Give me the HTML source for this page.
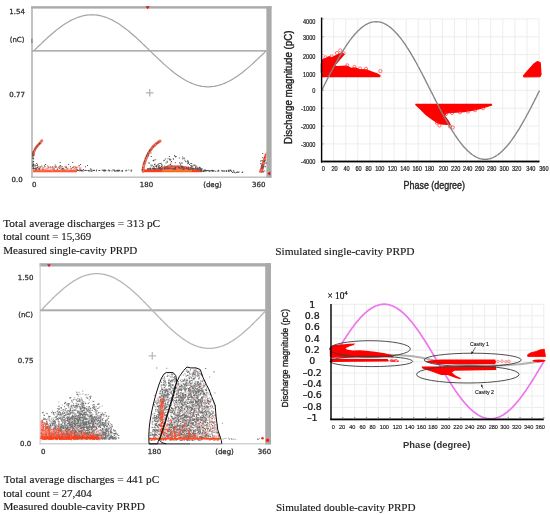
<!DOCTYPE html>
<html><head><meta charset="utf-8"><title>PRPD comparison</title>
<style>html,body{margin:0;padding:0;background:#fff;}body{width:550px;height:515px;overflow:hidden;}svg{display:block;}</style>
</head><body>
<svg width="550" height="515" viewBox="0 0 550 515">
<defs><linearGradient id="rg" x1="0" y1="0" x2="0" y2="1"><stop offset="0" stop-color="#ff8070" stop-opacity="0"/><stop offset="0.55" stop-color="#ff8070" stop-opacity="0.35"/><stop offset="1" stop-color="#ff5030" stop-opacity="0.6"/></linearGradient><filter id="bl" x="-5%" y="-5%" width="110%" height="110%"><feGaussianBlur stdDeviation="0.45"/></filter></defs>
<rect width="550" height="515" fill="#fff"/>
<rect x="31.3" y="6.2" width="240.2" height="2.4" fill="#aaa"/>
<rect x="266.4" y="6.2" width="5.2" height="171.5" fill="#aaa"/>
<rect x="31.3" y="6.2" width="1.4" height="171.5" fill="#aaa"/>
<rect x="31.3" y="176.6" width="240" height="1.1" fill="#aaa"/>
<rect x="32" y="50.1" width="234.4" height="1.5" fill="#a8a8a8"/>
<polyline points="33.8,50.8 35,49.7 36.1,48.5 37.3,47.4 38.4,46.3 39.6,45.2 40.8,44.1 41.9,42.9 43.1,41.8 44.3,40.8 45.4,39.7 46.6,38.6 47.7,37.5 48.9,36.5 50.1,35.5 51.2,34.5 52.4,33.5 53.6,32.5 54.7,31.5 55.9,30.6 57,29.6 58.2,28.7 59.4,27.9 60.5,27 61.7,26.2 62.8,25.3 64,24.6 65.2,23.8 66.3,23.1 67.5,22.4 68.7,21.7 69.8,21 71,20.4 72.1,19.8 73.3,19.3 74.5,18.7 75.6,18.2 76.8,17.8 78,17.3 79.1,16.9 80.3,16.6 81.4,16.2 82.6,15.9 83.8,15.7 84.9,15.4 86.1,15.2 87.3,15.1 88.4,15 89.6,14.9 90.7,14.8 91.9,14.8 93.1,14.8 94.2,14.9 95.4,15 96.5,15.1 97.7,15.2 98.9,15.4 100,15.7 101.2,15.9 102.4,16.2 103.5,16.6 104.7,16.9 105.8,17.3 107,17.8 108.2,18.2 109.3,18.7 110.5,19.3 111.7,19.8 112.8,20.4 114,21 115.1,21.7 116.3,22.4 117.5,23.1 118.6,23.8 119.8,24.6 121,25.3 122.1,26.2 123.3,27 124.4,27.9 125.6,28.7 126.8,29.6 127.9,30.6 129.1,31.5 130.2,32.5 131.4,33.5 132.6,34.5 133.7,35.5 134.9,36.5 136.1,37.5 137.2,38.6 138.4,39.7 139.5,40.8 140.7,41.8 141.9,42.9 143,44.1 144.2,45.2 145.4,46.3 146.5,47.4 147.7,48.5 148.8,49.7 150,50.8 151.2,51.9 152.3,53.1 153.5,54.2 154.6,55.3 155.8,56.4 157,57.5 158.1,58.7 159.3,59.8 160.5,60.8 161.6,61.9 162.8,63 163.9,64.1 165.1,65.1 166.3,66.1 167.4,67.1 168.6,68.1 169.8,69.1 170.9,70.1 172.1,71 173.2,72 174.4,72.9 175.6,73.7 176.7,74.6 177.9,75.4 179.1,76.3 180.2,77 181.4,77.8 182.5,78.5 183.7,79.2 184.9,79.9 186,80.6 187.2,81.2 188.3,81.8 189.5,82.3 190.7,82.9 191.8,83.4 193,83.8 194.2,84.3 195.3,84.7 196.5,85 197.6,85.4 198.8,85.7 200,85.9 201.1,86.2 202.3,86.4 203.5,86.5 204.6,86.6 205.8,86.7 206.9,86.8 208.1,86.8 209.3,86.8 210.4,86.7 211.6,86.6 212.7,86.5 213.9,86.4 215.1,86.2 216.2,85.9 217.4,85.7 218.6,85.4 219.7,85 220.9,84.7 222,84.3 223.2,83.8 224.4,83.4 225.5,82.9 226.7,82.3 227.9,81.8 229,81.2 230.2,80.6 231.3,79.9 232.5,79.2 233.7,78.5 234.8,77.8 236,77 237.1,76.3 238.3,75.4 239.5,74.6 240.6,73.7 241.8,72.9 243,72 244.1,71 245.3,70.1 246.4,69.1 247.6,68.1 248.8,67.1 249.9,66.1 251.1,65.1 252.3,64.1 253.4,63 254.6,61.9 255.7,60.8 256.9,59.8 258.1,58.7 259.2,57.5 260.4,56.4 261.6,55.3 262.7,54.2 263.9,53.1 265,51.9 266.2,50.8" fill="none" stroke="#a2a2a2" stroke-width="1.2"/>
<rect x="31.2" y="38.7" width="1.4" height="4.3" fill="#888"/>
<path d="M146 92.9h7.5M149.7 89.1v7.5" stroke="#b4b4b4" stroke-width="1.3"/>
<text x="17.1" y="14.1" font-size="7" font-family="'DejaVu Sans',Verdana,sans-serif" fill="#333" stroke="#333" stroke-width="0.3" text-anchor="middle">1.54</text>
<text x="17.1" y="41.8" font-size="7" font-family="'DejaVu Sans',Verdana,sans-serif" fill="#333" stroke="#333" stroke-width="0.3" text-anchor="middle">(nC)</text>
<text x="17.1" y="97.4" font-size="7" font-family="'DejaVu Sans',Verdana,sans-serif" fill="#333" stroke="#333" stroke-width="0.3" text-anchor="middle">0.77</text>
<text x="17.1" y="181.6" font-size="7" font-family="'DejaVu Sans',Verdana,sans-serif" fill="#333" stroke="#333" stroke-width="0.3" text-anchor="middle">0.0</text>
<text x="34.2" y="186.6" font-size="7" font-family="'DejaVu Sans',Verdana,sans-serif" fill="#333" stroke="#333" stroke-width="0.3" text-anchor="middle">0</text>
<text x="146.5" y="187.2" font-size="7" font-family="'DejaVu Sans',Verdana,sans-serif" fill="#333" stroke="#333" stroke-width="0.3" text-anchor="middle">180</text>
<text x="212.5" y="187.2" font-size="7" font-family="'DejaVu Sans',Verdana,sans-serif" fill="#333" stroke="#333" stroke-width="0.3" text-anchor="middle">(deg)</text>
<text x="258.8" y="187.2" font-size="7" font-family="'DejaVu Sans',Verdana,sans-serif" fill="#333" stroke="#333" stroke-width="0.3" text-anchor="middle">360</text>
<path d="M145.7 6.2h4l-2 3z" fill="#e01010"/>
<path d="M270.3 171.6v3.8l-3 -1.9z" fill="#e01010"/>
<g filter="url(#bl)">
<rect x="33" y="169.8" width="44" height="2.5" fill="#ff5a3a"/>
<rect x="143" y="169.4" width="59" height="2.8" fill="#ff3a1a"/>
<path d="M151 169.8 Q174 160.5 200 169.8z" fill="#ff6048"/>
<rect x="162" y="170.2" width="30" height="1.3" fill="#ff8a20"/>
<polyline points="33.4,155.4 33.8,152 35.3,148.7 37.8,145.4 40.2,143 41.9,140.6" fill="none" stroke="#ff5a40" stroke-width="2.6" stroke-linecap="round"/>
<polyline points="33.4,155.4 33.8,152 35.3,148.7 37.8,145.4 40.2,143 41.9,140.6" fill="none" stroke="#ff8a78" stroke-width="0.6" stroke-linecap="round"/>
<polyline points="142.9,171.3 143.6,166 145,161.6 146.5,157.5 148.1,153.9 150.3,150.3 152.8,146.9 156.6,143.4 160.1,141" fill="none" stroke="#ff5a40" stroke-width="2.8" stroke-linecap="round"/>
<polyline points="142.9,171.3 143.6,166 145,161.6 146.5,157.5 148.1,153.9 150.3,150.3 152.8,146.9 156.6,143.4 160.1,141" fill="none" stroke="#ff8a78" stroke-width="0.7" stroke-linecap="round"/>
<polygon points="258.8,172.6 263,172.6 266.4,156 266.4,152 264.6,154.5" fill="#ff5a40"/>
<path d="M50.4 169.0h1.2v1.2h-1.2zM65.6 169.1h1.2v1.2h-1.2zM60.4 168.4h1.2v1.2h-1.2zM36.7 167.9h1.2v1.2h-1.2zM35.5 168.2h1.2v1.2h-1.2zM37.4 169.1h1.2v1.2h-1.2zM55.2 166.6h1.2v1.2h-1.2zM40.3 168.8h1.2v1.2h-1.2zM64.6 166.0h1.2v1.2h-1.2zM62.3 168.3h1.2v1.2h-1.2zM80.0 169.2h1.2v1.2h-1.2zM74.8 168.7h1.2v1.2h-1.2zM41.4 169.1h1.2v1.2h-1.2zM49.7 166.6h1.2v1.2h-1.2zM43.3 167.6h1.2v1.2h-1.2zM65.1 168.4h1.2v1.2h-1.2zM60.9 169.1h1.2v1.2h-1.2zM36.8 168.9h1.2v1.2h-1.2zM66.9 168.2h1.2v1.2h-1.2zM49.9 167.6h1.2v1.2h-1.2zM56.5 168.6h1.2v1.2h-1.2zM72.0 167.2h1.2v1.2h-1.2zM46.5 167.7h1.2v1.2h-1.2zM59.9 166.3h1.2v1.2h-1.2zM69.1 168.7h1.2v1.2h-1.2zM80.1 169.1h1.2v1.2h-1.2zM54.9 166.9h1.2v1.2h-1.2zM41.8 168.0h1.2v1.2h-1.2zM35.6 167.3h1.2v1.2h-1.2zM70.7 167.7h1.2v1.2h-1.2zM75.6 168.6h1.2v1.2h-1.2zM67.6 167.6h1.2v1.2h-1.2zM62.4 168.1h1.2v1.2h-1.2zM74.0 166.0h1.2v1.2h-1.2zM57.5 167.3h1.2v1.2h-1.2zM36.9 167.1h1.2v1.2h-1.2zM65.4 165.7h1.2v1.2h-1.2zM73.2 168.7h1.2v1.2h-1.2zM53.4 167.3h1.2v1.2h-1.2zM34.6 168.1h1.2v1.2h-1.2zM42.6 169.1h1.2v1.2h-1.2zM36.8 166.8h1.2v1.2h-1.2zM40.6 168.8h1.2v1.2h-1.2zM53.6 166.4h1.2v1.2h-1.2zM38.0 168.1h1.2v1.2h-1.2zM61.0 166.3h1.2v1.2h-1.2zM73.1 166.4h1.2v1.2h-1.2zM48.2 168.3h1.2v1.2h-1.2zM52.1 166.3h1.2v1.2h-1.2zM79.2 169.0h1.2v1.2h-1.2zM43.1 168.8h1.2v1.2h-1.2zM46.0 168.0h1.2v1.2h-1.2zM62.8 168.7h1.2v1.2h-1.2zM33.3 168.3h1.2v1.2h-1.2zM52.6 167.7h1.2v1.2h-1.2zM79.0 167.2h1.2v1.2h-1.2zM59.4 167.5h1.2v1.2h-1.2zM66.8 169.2h1.2v1.2h-1.2zM76.6 166.8h1.2v1.2h-1.2zM75.5 166.7h1.2v1.2h-1.2zM53.7 168.3h1.2v1.2h-1.2zM39.2 167.4h1.2v1.2h-1.2zM36.9 169.1h1.2v1.2h-1.2zM44.7 169.0h1.2v1.2h-1.2zM51.2 169.2h1.2v1.2h-1.2zM33.0 169.0h1.2v1.2h-1.2zM39.1 168.4h1.2v1.2h-1.2zM34.8 166.3h1.2v1.2h-1.2zM63.9 169.0h1.2v1.2h-1.2zM46.9 168.5h1.2v1.2h-1.2zM52.3 169.0h1.2v1.2h-1.2zM74.4 165.7h1.2v1.2h-1.2zM57.1 168.0h1.2v1.2h-1.2zM38.3 169.1h1.2v1.2h-1.2zM51.3 168.7h1.2v1.2h-1.2zM73.5 169.0h1.2v1.2h-1.2zM34.6 166.0h1.2v1.2h-1.2zM60.0 169.0h1.2v1.2h-1.2zM60.7 169.2h1.2v1.2h-1.2zM60.0 165.8h1.2v1.2h-1.2zM75.1 167.2h1.2v1.2h-1.2zM47.3 168.4h1.2v1.2h-1.2zM42.6 166.8h1.2v1.2h-1.2zM60.2 166.8h1.2v1.2h-1.2zM50.7 168.8h1.2v1.2h-1.2zM72.8 165.8h1.2v1.2h-1.2zM74.6 166.7h1.2v1.2h-1.2zM73.1 167.0h1.2v1.2h-1.2zM45.6 167.9h1.2v1.2h-1.2zM51.9 169.2h1.2v1.2h-1.2zM34.9 168.7h1.2v1.2h-1.2zM47.2 167.2h1.2v1.2h-1.2zM79.1 168.2h1.2v1.2h-1.2zM78.3 165.8h1.2v1.2h-1.2zM79.1 168.4h1.2v1.2h-1.2zM45.3 168.8h1.2v1.2h-1.2zM44.1 168.9h1.2v1.2h-1.2zM64.4 166.2h1.2v1.2h-1.2zM74.0 168.0h1.2v1.2h-1.2zM65.7 166.7h1.2v1.2h-1.2zM38.2 167.3h1.2v1.2h-1.2zM77.1 166.8h1.2v1.2h-1.2zM70.1 168.0h1.2v1.2h-1.2zM43.2 166.7h1.2v1.2h-1.2zM50.8 166.7h1.2v1.2h-1.2zM79.8 168.3h1.2v1.2h-1.2zM54.1 166.0h1.2v1.2h-1.2zM68.9 169.0h1.2v1.2h-1.2zM40.5 169.0h1.2v1.2h-1.2zM76.9 166.7h1.2v1.2h-1.2zM41.5 166.6h1.2v1.2h-1.2zM80.1 167.3h1.2v1.2h-1.2zM51.7 167.8h1.2v1.2h-1.2zM40.7 169.2h1.2v1.2h-1.2zM79.7 167.4h1.2v1.2h-1.2zM60.0 166.0h1.2v1.2h-1.2zM55.6 166.4h1.2v1.2h-1.2zM73.4 168.9h1.2v1.2h-1.2zM46.9 168.6h1.2v1.2h-1.2zM46.3 167.6h1.2v1.2h-1.2z" fill="#ff9a88"/>
<path d="" fill="#ff5a3a"/>
<path d="M44.5 166.2h1.0v1.0h-1.0zM38.1 168.6h1.0v1.0h-1.0zM49.7 166.4h1.0v1.0h-1.0zM63.4 168.6h1.0v1.0h-1.0zM53.5 168.7h1.0v1.0h-1.0zM58.3 166.8h1.0v1.0h-1.0zM59.7 162.1h1.0v1.0h-1.0zM54.7 164.4h1.0v1.0h-1.0zM33.1 168.2h1.0v1.0h-1.0zM40.0 166.5h1.0v1.0h-1.0zM72.4 167.0h1.0v1.0h-1.0zM48.1 166.8h1.0v1.0h-1.0zM61.6 168.1h1.0v1.0h-1.0zM36.9 167.0h1.0v1.0h-1.0zM43.9 165.2h1.0v1.0h-1.0zM75.5 166.7h1.0v1.0h-1.0zM62.0 168.0h1.0v1.0h-1.0zM85.0 166.3h1.0v1.0h-1.0zM65.2 166.7h1.0v1.0h-1.0zM59.0 167.7h1.0v1.0h-1.0zM55.4 166.8h1.0v1.0h-1.0zM56.9 168.8h1.0v1.0h-1.0zM70.8 168.5h1.0v1.0h-1.0zM87.0 165.1h1.0v1.0h-1.0zM61.9 168.8h1.0v1.0h-1.0zM80.1 164.0h1.0v1.0h-1.0zM37.6 166.3h1.0v1.0h-1.0zM35.5 164.9h1.0v1.0h-1.0zM35.5 167.5h1.0v1.0h-1.0zM76.3 168.6h1.0v1.0h-1.0zM39.2 167.8h1.0v1.0h-1.0zM68.2 164.0h1.0v1.0h-1.0zM82.9 168.9h1.0v1.0h-1.0zM42.4 168.8h1.0v1.0h-1.0zM52.2 166.6h1.0v1.0h-1.0zM90.3 168.3h1.0v1.0h-1.0zM39.5 166.3h1.0v1.0h-1.0zM59.2 165.7h1.0v1.0h-1.0zM41.2 165.5h1.0v1.0h-1.0zM72.2 162.1h1.0v1.0h-1.0zM61.6 166.3h1.0v1.0h-1.0zM33.5 165.6h1.0v1.0h-1.0zM65.9 166.7h1.0v1.0h-1.0zM35.2 168.9h1.0v1.0h-1.0zM76.6 168.9h1.0v1.0h-1.0zM36.9 165.1h1.0v1.0h-1.0zM34.2 168.1h1.0v1.0h-1.0zM45.1 163.9h1.0v1.0h-1.0zM53.6 168.6h1.0v1.0h-1.0zM78.6 165.1h1.0v1.0h-1.0zM38.9 168.7h1.0v1.0h-1.0zM62.6 167.7h1.0v1.0h-1.0zM36.2 162.9h1.0v1.0h-1.0zM70.0 166.2h1.0v1.0h-1.0zM35.5 168.7h1.0v1.0h-1.0zM66.6 168.2h1.0v1.0h-1.0zM36.0 168.4h1.0v1.0h-1.0zM35.2 168.4h1.0v1.0h-1.0zM55.5 165.7h1.0v1.0h-1.0zM61.5 168.7h1.0v1.0h-1.0zM44.9 163.9h1.0v1.0h-1.0zM59.9 164.9h1.0v1.0h-1.0zM37.1 164.2h1.0v1.0h-1.0zM34.6 164.6h1.0v1.0h-1.0zM47.3 165.4h1.0v1.0h-1.0zM118.8 169.8h1.0v1.0h-1.0zM104.5 169.6h1.0v1.0h-1.0zM96.1 169.4h1.0v1.0h-1.0zM90.8 169.4h1.0v1.0h-1.0zM117.3 170.2h1.0v1.0h-1.0zM87.4 170.1h1.0v1.0h-1.0zM128.4 169.5h1.0v1.0h-1.0zM122.0 170.0h1.0v1.0h-1.0zM104.2 170.6h1.0v1.0h-1.0zM98.6 170.1h1.0v1.0h-1.0zM114.8 170.8h1.0v1.0h-1.0zM95.8 170.6h1.0v1.0h-1.0zM115.9 170.3h1.0v1.0h-1.0zM99.3 169.9h1.0v1.0h-1.0zM80.0 169.6h1.0v1.0h-1.0zM80.9 170.4h1.0v1.0h-1.0zM91.1 169.6h1.0v1.0h-1.0zM81.6 170.6h1.0v1.0h-1.0zM124.9 170.3h1.0v1.0h-1.0zM92.5 169.7h1.0v1.0h-1.0zM93.1 170.0h1.0v1.0h-1.0zM85.7 170.0h1.0v1.0h-1.0zM91.5 170.7h1.0v1.0h-1.0zM130.5 170.2h1.0v1.0h-1.0zM90.4 170.8h1.0v1.0h-1.0zM94.0 169.9h1.0v1.0h-1.0zM77.1 169.9h1.0v1.0h-1.0zM103.1 170.1h1.0v1.0h-1.0zM88.1 170.1h1.0v1.0h-1.0zM77.3 169.8h1.0v1.0h-1.0zM81.9 170.0h1.0v1.0h-1.0zM79.3 169.4h1.0v1.0h-1.0zM93.7 169.7h1.0v1.0h-1.0zM109.2 170.1h1.0v1.0h-1.0zM118.3 170.3h1.0v1.0h-1.0zM116.4 170.6h1.0v1.0h-1.0zM98.4 169.9h1.0v1.0h-1.0zM131.2 169.6h1.0v1.0h-1.0zM116.8 170.3h1.0v1.0h-1.0zM79.4 170.6h1.0v1.0h-1.0zM126.1 170.3h1.0v1.0h-1.0zM117.4 170.5h1.0v1.0h-1.0zM84.7 170.1h1.0v1.0h-1.0zM104.7 170.6h1.0v1.0h-1.0zM121.3 170.6h1.0v1.0h-1.0zM109.1 170.6h1.0v1.0h-1.0zM114.6 170.4h1.0v1.0h-1.0zM89.6 169.4h1.0v1.0h-1.0zM84.3 169.9h1.0v1.0h-1.0zM82.8 170.6h1.0v1.0h-1.0zM107.7 170.3h1.0v1.0h-1.0zM111.4 170.4h1.0v1.0h-1.0zM103.9 169.4h1.0v1.0h-1.0zM120.9 170.4h1.0v1.0h-1.0zM104.7 170.1h1.0v1.0h-1.0zM113.3 169.5h1.0v1.0h-1.0zM117.5 169.8h1.0v1.0h-1.0zM81.1 169.8h1.0v1.0h-1.0zM117.1 169.7h1.0v1.0h-1.0zM117.7 170.8h1.0v1.0h-1.0zM104.2 169.9h1.0v1.0h-1.0zM103.3 170.4h1.0v1.0h-1.0zM119.2 170.3h1.0v1.0h-1.0zM112.4 169.5h1.0v1.0h-1.0zM85.1 169.8h1.0v1.0h-1.0zM117.9 169.8h1.0v1.0h-1.0zM108.2 169.4h1.0v1.0h-1.0zM80.3 169.8h1.0v1.0h-1.0zM114.0 170.4h1.0v1.0h-1.0zM114.2 169.8h1.0v1.0h-1.0zM105.4 170.1h1.0v1.0h-1.0zM102.6 169.6h1.0v1.0h-1.0zM126.2 169.7h1.0v1.0h-1.0zM130.8 170.7h1.0v1.0h-1.0zM78.0 170.0h1.0v1.0h-1.0zM122.1 170.8h1.0v1.0h-1.0zM101.7 169.8h1.0v1.0h-1.0zM88.5 170.7h1.0v1.0h-1.0zM88.6 170.2h1.0v1.0h-1.0zM84.8 170.1h1.0v1.0h-1.0zM32.1 152.7h1.0v1.0h-1.0zM32.3 153.1h1.0v1.0h-1.0zM32.5 152.9h1.0v1.0h-1.0zM32.4 155.1h1.0v1.0h-1.0zM32.7 150.9h1.0v1.0h-1.0zM32.4 152.5h1.0v1.0h-1.0zM32.9 151.0h1.0v1.0h-1.0zM32.5 152.0h1.0v1.0h-1.0zM35.0 148.2h1.0v1.0h-1.0zM34.1 149.2h1.0v1.0h-1.0zM35.7 146.4h1.0v1.0h-1.0zM36.4 146.1h1.0v1.0h-1.0zM38.4 143.7h1.0v1.0h-1.0zM37.2 145.0h1.0v1.0h-1.0zM38.9 143.5h1.0v1.0h-1.0zM37.2 145.0h1.0v1.0h-1.0zM38.9 142.8h1.0v1.0h-1.0zM39.2 143.3h1.0v1.0h-1.0zM39.6 142.8h1.0v1.0h-1.0zM39.0 142.9h1.0v1.0h-1.0zM141.6 169.1h1.0v1.0h-1.0zM142.1 169.8h1.0v1.0h-1.0zM142.4 167.1h1.0v1.0h-1.0zM142.3 168.5h1.0v1.0h-1.0zM143.6 162.4h1.0v1.0h-1.0zM142.8 163.3h1.0v1.0h-1.0zM143.2 163.3h1.0v1.0h-1.0zM143.4 163.2h1.0v1.0h-1.0zM143.7 160.9h1.0v1.0h-1.0zM144.7 158.3h1.0v1.0h-1.0zM144.2 160.2h1.0v1.0h-1.0zM144.2 160.9h1.0v1.0h-1.0zM146.5 154.5h1.0v1.0h-1.0zM146.0 155.6h1.0v1.0h-1.0zM145.9 156.0h1.0v1.0h-1.0zM145.1 157.4h1.0v1.0h-1.0zM147.5 153.7h1.0v1.0h-1.0zM147.6 152.6h1.0v1.0h-1.0zM149.1 151.1h1.0v1.0h-1.0zM147.4 152.8h1.0v1.0h-1.0zM149.1 150.1h1.0v1.0h-1.0zM149.4 149.6h1.0v1.0h-1.0zM149.3 150.0h1.0v1.0h-1.0zM150.6 148.9h1.0v1.0h-1.0zM154.2 144.8h1.0v1.0h-1.0zM153.0 146.0h1.0v1.0h-1.0zM152.7 146.1h1.0v1.0h-1.0zM151.5 147.2h1.0v1.0h-1.0zM158.3 141.6h1.0v1.0h-1.0zM157.1 142.7h1.0v1.0h-1.0zM158.0 141.8h1.0v1.0h-1.0zM155.9 143.2h1.0v1.0h-1.0zM32.5 160.7h1.0v1.0h-1.0zM33.1 166.7h1.0v1.0h-1.0zM33.0 154.3h1.0v1.0h-1.0zM32.0 164.6h1.0v1.0h-1.0zM33.1 161.1h1.0v1.0h-1.0zM32.7 154.0h1.0v1.0h-1.0zM32.5 167.9h1.0v1.0h-1.0zM33.0 166.8h1.0v1.0h-1.0zM33.2 157.7h1.0v1.0h-1.0zM32.1 156.3h1.0v1.0h-1.0zM32.6 164.2h1.0v1.0h-1.0zM33.1 164.8h1.0v1.0h-1.0zM32.8 165.5h1.0v1.0h-1.0zM32.5 162.3h1.0v1.0h-1.0zM32.0 165.7h1.0v1.0h-1.0zM32.3 167.8h1.0v1.0h-1.0zM32.8 158.6h1.0v1.0h-1.0zM32.2 157.8h1.0v1.0h-1.0zM32.8 164.5h1.0v1.0h-1.0zM32.1 155.1h1.0v1.0h-1.0zM32.6 162.7h1.0v1.0h-1.0zM32.5 157.4h1.0v1.0h-1.0zM32.7 154.2h1.0v1.0h-1.0zM32.4 160.9h1.0v1.0h-1.0zM33.2 163.7h1.0v1.0h-1.0zM33.1 161.1h1.0v1.0h-1.0zM32.3 157.7h1.0v1.0h-1.0zM33.2 164.6h1.0v1.0h-1.0zM32.4 154.3h1.0v1.0h-1.0zM32.6 164.1h1.0v1.0h-1.0zM32.5 157.9h1.0v1.0h-1.0zM32.8 167.9h1.0v1.0h-1.0zM159.5 168.8h1.0v1.0h-1.0zM165.6 166.7h1.0v1.0h-1.0zM184.5 168.3h1.0v1.0h-1.0zM190.8 165.3h1.0v1.0h-1.0zM174.8 168.1h1.0v1.0h-1.0zM200.3 168.6h1.0v1.0h-1.0zM192.1 168.5h1.0v1.0h-1.0zM159.2 165.1h1.0v1.0h-1.0zM163.2 160.3h1.0v1.0h-1.0zM174.3 168.2h1.0v1.0h-1.0zM159.3 167.6h1.0v1.0h-1.0zM183.6 158.3h1.0v1.0h-1.0zM155.1 168.2h1.0v1.0h-1.0zM158.7 163.1h1.0v1.0h-1.0zM154.8 168.8h1.0v1.0h-1.0zM150.3 168.5h1.0v1.0h-1.0zM196.4 166.4h1.0v1.0h-1.0zM187.3 160.0h1.0v1.0h-1.0zM198.2 168.5h1.0v1.0h-1.0zM157.2 164.4h1.0v1.0h-1.0zM188.0 168.8h1.0v1.0h-1.0zM183.5 167.0h1.0v1.0h-1.0zM167.6 167.3h1.0v1.0h-1.0zM156.3 168.8h1.0v1.0h-1.0zM162.4 167.6h1.0v1.0h-1.0zM199.6 168.8h1.0v1.0h-1.0zM200.0 168.7h1.0v1.0h-1.0zM166.6 160.7h1.0v1.0h-1.0zM192.2 167.7h1.0v1.0h-1.0zM149.7 168.4h1.0v1.0h-1.0zM167.5 158.3h1.0v1.0h-1.0zM157.6 168.0h1.0v1.0h-1.0zM196.3 168.8h1.0v1.0h-1.0zM169.6 159.7h1.0v1.0h-1.0zM189.2 168.8h1.0v1.0h-1.0zM148.9 168.8h1.0v1.0h-1.0zM197.6 168.6h1.0v1.0h-1.0zM188.1 162.0h1.0v1.0h-1.0zM165.6 167.9h1.0v1.0h-1.0zM199.7 168.1h1.0v1.0h-1.0zM161.4 164.6h1.0v1.0h-1.0zM164.4 167.9h1.0v1.0h-1.0zM147.2 168.2h1.0v1.0h-1.0zM197.4 167.7h1.0v1.0h-1.0zM198.9 168.8h1.0v1.0h-1.0zM159.9 167.1h1.0v1.0h-1.0zM199.6 167.1h1.0v1.0h-1.0zM168.3 167.9h1.0v1.0h-1.0zM170.6 165.1h1.0v1.0h-1.0zM198.0 168.7h1.0v1.0h-1.0zM191.1 165.4h1.0v1.0h-1.0zM192.3 165.5h1.0v1.0h-1.0zM180.4 167.2h1.0v1.0h-1.0zM164.6 167.3h1.0v1.0h-1.0zM190.0 168.7h1.0v1.0h-1.0zM157.9 165.6h1.0v1.0h-1.0zM160.6 168.8h1.0v1.0h-1.0zM148.9 168.3h1.0v1.0h-1.0zM164.9 158.6h1.0v1.0h-1.0zM195.6 165.4h1.0v1.0h-1.0zM161.6 168.7h1.0v1.0h-1.0zM152.3 168.1h1.0v1.0h-1.0zM186.0 166.7h1.0v1.0h-1.0zM159.9 167.5h1.0v1.0h-1.0zM181.1 162.6h1.0v1.0h-1.0zM188.1 162.8h1.0v1.0h-1.0zM183.5 168.6h1.0v1.0h-1.0zM193.2 168.3h1.0v1.0h-1.0zM178.2 166.6h1.0v1.0h-1.0zM187.6 168.4h1.0v1.0h-1.0zM160.6 168.3h1.0v1.0h-1.0zM155.4 165.6h1.0v1.0h-1.0zM178.8 167.1h1.0v1.0h-1.0zM168.8 155.9h1.0v1.0h-1.0zM174.9 167.9h1.0v1.0h-1.0zM191.5 166.2h1.0v1.0h-1.0zM201.5 168.8h1.0v1.0h-1.0zM173.1 158.7h1.0v1.0h-1.0zM193.2 164.8h1.0v1.0h-1.0zM149.2 168.7h1.0v1.0h-1.0zM153.6 168.7h1.0v1.0h-1.0zM200.5 168.2h1.0v1.0h-1.0zM198.2 168.4h1.0v1.0h-1.0zM194.6 167.9h1.0v1.0h-1.0zM161.3 163.9h1.0v1.0h-1.0zM199.0 168.8h1.0v1.0h-1.0zM179.8 163.2h1.0v1.0h-1.0zM159.0 167.9h1.0v1.0h-1.0zM154.8 168.6h1.0v1.0h-1.0zM161.0 165.9h1.0v1.0h-1.0zM182.8 168.2h1.0v1.0h-1.0zM147.6 168.7h1.0v1.0h-1.0zM184.3 168.3h1.0v1.0h-1.0zM164.2 168.3h1.0v1.0h-1.0zM190.7 166.8h1.0v1.0h-1.0zM150.5 168.8h1.0v1.0h-1.0zM168.7 164.6h1.0v1.0h-1.0zM182.2 168.7h1.0v1.0h-1.0zM156.0 166.6h1.0v1.0h-1.0zM169.5 167.6h1.0v1.0h-1.0zM163.9 159.8h1.0v1.0h-1.0zM164.2 165.4h1.0v1.0h-1.0zM166.6 166.6h1.0v1.0h-1.0zM194.5 164.8h1.0v1.0h-1.0zM167.0 168.2h1.0v1.0h-1.0zM187.0 168.4h1.0v1.0h-1.0zM147.3 167.9h1.0v1.0h-1.0zM170.3 159.3h1.0v1.0h-1.0zM169.3 158.2h1.0v1.0h-1.0zM172.3 168.3h1.0v1.0h-1.0zM147.8 168.4h1.0v1.0h-1.0zM182.2 158.3h1.0v1.0h-1.0zM151.9 167.8h1.0v1.0h-1.0zM167.4 165.5h1.0v1.0h-1.0zM155.0 168.5h1.0v1.0h-1.0zM175.7 155.9h1.0v1.0h-1.0zM153.0 168.1h1.0v1.0h-1.0zM191.3 163.2h1.0v1.0h-1.0zM157.9 168.7h1.0v1.0h-1.0zM198.9 166.8h1.0v1.0h-1.0zM173.6 168.7h1.0v1.0h-1.0zM197.9 168.4h1.0v1.0h-1.0zM196.7 167.6h1.0v1.0h-1.0zM192.4 168.6h1.0v1.0h-1.0zM190.2 168.4h1.0v1.0h-1.0zM169.2 159.1h1.0v1.0h-1.0zM192.6 168.6h1.0v1.0h-1.0zM159.0 167.7h1.0v1.0h-1.0zM175.5 166.4h1.0v1.0h-1.0zM153.8 168.6h1.0v1.0h-1.0zM186.9 161.3h1.0v1.0h-1.0zM149.3 168.3h1.0v1.0h-1.0zM188.7 168.8h1.0v1.0h-1.0zM193.1 168.7h1.0v1.0h-1.0zM180.0 164.4h1.0v1.0h-1.0zM181.5 167.4h1.0v1.0h-1.0zM170.1 163.9h1.0v1.0h-1.0zM170.4 162.5h1.0v1.0h-1.0zM171.6 165.8h1.0v1.0h-1.0zM148.3 168.3h1.0v1.0h-1.0zM173.9 167.8h1.0v1.0h-1.0zM189.0 164.1h1.0v1.0h-1.0zM172.2 168.2h1.0v1.0h-1.0zM173.0 168.6h1.0v1.0h-1.0zM154.1 168.1h1.0v1.0h-1.0zM152.0 168.3h1.0v1.0h-1.0zM175.1 168.8h1.0v1.0h-1.0zM182.0 168.7h1.0v1.0h-1.0zM187.3 163.3h1.0v1.0h-1.0zM175.1 168.7h1.0v1.0h-1.0zM174.7 166.4h1.0v1.0h-1.0zM199.3 168.8h1.0v1.0h-1.0zM194.1 164.6h1.0v1.0h-1.0zM187.3 162.8h1.0v1.0h-1.0zM157.7 163.7h1.0v1.0h-1.0zM174.1 155.1h1.0v1.0h-1.0zM197.4 168.7h1.0v1.0h-1.0zM190.4 163.0h1.0v1.0h-1.0zM150.6 168.5h1.0v1.0h-1.0zM188.6 168.6h1.0v1.0h-1.0zM196.3 168.5h1.0v1.0h-1.0zM191.9 168.7h1.0v1.0h-1.0zM174.6 156.0h1.0v1.0h-1.0zM158.5 168.3h1.0v1.0h-1.0zM174.8 167.1h1.0v1.0h-1.0zM149.0 168.7h1.0v1.0h-1.0zM155.9 165.1h1.0v1.0h-1.0zM184.4 159.8h1.0v1.0h-1.0zM156.3 166.0h1.0v1.0h-1.0zM153.3 167.9h1.0v1.0h-1.0zM182.0 167.0h1.0v1.0h-1.0zM195.0 167.6h1.0v1.0h-1.0zM178.9 157.6h1.0v1.0h-1.0zM152.8 166.1h1.0v1.0h-1.0zM181.6 166.6h1.0v1.0h-1.0zM190.9 168.3h1.0v1.0h-1.0zM201.5 168.3h1.0v1.0h-1.0zM166.8 161.7h1.0v1.0h-1.0zM171.3 168.3h1.0v1.0h-1.0zM187.9 168.8h1.0v1.0h-1.0zM192.1 168.4h1.0v1.0h-1.0zM182.2 156.6h1.0v1.0h-1.0zM179.2 162.3h1.0v1.0h-1.0zM164.2 168.8h1.0v1.0h-1.0zM148.9 168.8h1.0v1.0h-1.0zM180.9 166.1h1.0v1.0h-1.0zM175.2 156.6h1.0v1.0h-1.0zM154.3 168.6h1.0v1.0h-1.0zM182.9 168.8h1.0v1.0h-1.0zM147.1 168.7h1.0v1.0h-1.0zM152.8 168.4h1.0v1.0h-1.0zM159.3 166.5h1.0v1.0h-1.0zM179.4 168.1h1.0v1.0h-1.0zM181.3 165.6h1.0v1.0h-1.0zM154.4 165.7h1.0v1.0h-1.0zM160.4 168.6h1.0v1.0h-1.0zM152.3 167.7h1.0v1.0h-1.0zM194.9 166.4h1.0v1.0h-1.0zM169.1 167.7h1.0v1.0h-1.0zM147.6 168.3h1.0v1.0h-1.0zM177.9 166.8h1.0v1.0h-1.0zM182.5 166.2h1.0v1.0h-1.0zM198.5 167.6h1.0v1.0h-1.0zM160.7 162.7h1.0v1.0h-1.0zM149.4 168.3h1.0v1.0h-1.0zM169.3 167.9h1.0v1.0h-1.0zM150.2 167.7h1.0v1.0h-1.0zM147.7 168.4h1.0v1.0h-1.0zM198.8 168.7h1.0v1.0h-1.0zM158.0 166.7h1.0v1.0h-1.0zM174.9 162.3h1.0v1.0h-1.0zM191.7 168.6h1.0v1.0h-1.0zM164.0 167.8h1.0v1.0h-1.0zM149.7 167.5h1.0v1.0h-1.0zM190.1 165.2h1.0v1.0h-1.0zM147.3 168.0h1.0v1.0h-1.0zM188.0 166.8h1.0v1.0h-1.0zM187.8 166.9h1.0v1.0h-1.0zM159.4 168.7h1.0v1.0h-1.0zM159.8 168.8h1.0v1.0h-1.0zM165.5 162.5h1.0v1.0h-1.0zM185.2 161.2h1.0v1.0h-1.0zM186.1 168.0h1.0v1.0h-1.0zM177.5 165.8h1.0v1.0h-1.0zM190.4 166.9h1.0v1.0h-1.0zM161.6 165.3h1.0v1.0h-1.0zM200.1 168.7h1.0v1.0h-1.0zM195.4 168.8h1.0v1.0h-1.0zM161.3 168.3h1.0v1.0h-1.0zM187.9 161.2h1.0v1.0h-1.0zM188.0 167.8h1.0v1.0h-1.0zM195.4 168.4h1.0v1.0h-1.0zM160.2 163.0h1.0v1.0h-1.0zM181.7 162.4h1.0v1.0h-1.0zM183.6 157.6h1.0v1.0h-1.0zM172.8 158.2h1.0v1.0h-1.0zM185.4 161.1h1.0v1.0h-1.0zM171.0 161.1h1.0v1.0h-1.0zM178.4 167.3h1.0v1.0h-1.0zM158.7 166.4h1.0v1.0h-1.0zM202.6 170.9h1.0v1.0h-1.0zM204.9 169.6h1.0v1.0h-1.0zM203.6 170.9h1.0v1.0h-1.0zM211.7 169.8h1.0v1.0h-1.0zM201.0 169.7h1.0v1.0h-1.0zM223.5 170.5h1.0v1.0h-1.0zM223.7 170.6h1.0v1.0h-1.0zM202.2 170.4h1.0v1.0h-1.0zM212.4 170.7h1.0v1.0h-1.0zM227.9 170.8h1.0v1.0h-1.0zM202.2 170.8h1.0v1.0h-1.0zM231.1 170.9h1.0v1.0h-1.0zM203.6 169.9h1.0v1.0h-1.0zM203.8 169.6h1.0v1.0h-1.0zM228.8 170.7h1.0v1.0h-1.0zM221.6 170.8h1.0v1.0h-1.0zM221.5 170.0h1.0v1.0h-1.0zM203.4 169.7h1.0v1.0h-1.0zM225.8 169.9h1.0v1.0h-1.0zM210.9 170.2h1.0v1.0h-1.0zM200.7 170.0h1.0v1.0h-1.0zM209.6 170.6h1.0v1.0h-1.0zM212.5 170.0h1.0v1.0h-1.0zM232.8 170.3h1.0v1.0h-1.0zM228.9 170.5h1.0v1.0h-1.0zM201.1 170.2h1.0v1.0h-1.0zM214.8 170.7h1.0v1.0h-1.0zM211.8 170.6h1.0v1.0h-1.0zM218.3 169.9h1.0v1.0h-1.0zM229.3 169.7h1.0v1.0h-1.0zM227.9 169.8h1.0v1.0h-1.0zM200.0 169.9h1.0v1.0h-1.0zM225.9 171.0h1.0v1.0h-1.0zM200.1 170.3h1.0v1.0h-1.0zM216.7 170.7h1.0v1.0h-1.0zM206.3 170.3h1.0v1.0h-1.0zM211.8 170.8h1.0v1.0h-1.0zM208.9 170.9h1.0v1.0h-1.0zM209.6 169.9h1.0v1.0h-1.0zM223.8 170.3h1.0v1.0h-1.0zM203.7 170.5h1.0v1.0h-1.0zM202.8 170.7h1.0v1.0h-1.0zM223.7 170.7h1.0v1.0h-1.0zM221.3 170.1h1.0v1.0h-1.0zM213.6 170.2h1.0v1.0h-1.0zM230.3 169.7h1.0v1.0h-1.0zM230.2 169.6h1.0v1.0h-1.0zM207.0 170.0h1.0v1.0h-1.0zM230.6 170.3h1.0v1.0h-1.0zM212.9 170.8h1.0v1.0h-1.0zM207.9 170.2h1.0v1.0h-1.0zM218.1 170.7h1.0v1.0h-1.0zM225.6 170.5h1.0v1.0h-1.0zM211.8 170.1h1.0v1.0h-1.0zM205.3 170.8h1.0v1.0h-1.0zM222.5 170.6h1.0v1.0h-1.0zM205.8 170.2h1.0v1.0h-1.0zM226.3 170.4h1.0v1.0h-1.0zM204.3 170.2h1.0v1.0h-1.0zM230.1 169.9h1.0v1.0h-1.0zM206.5 170.0h1.0v1.0h-1.0zM223.9 170.8h1.0v1.0h-1.0zM205.3 169.8h1.0v1.0h-1.0zM208.4 170.1h1.0v1.0h-1.0zM217.8 169.8h1.0v1.0h-1.0zM211.2 169.9h1.0v1.0h-1.0zM233.2 170.6h1.0v1.0h-1.0zM203.5 170.9h1.0v1.0h-1.0zM203.5 170.1h1.0v1.0h-1.0zM233.5 170.7h1.0v1.0h-1.0zM153.6 159.4h1.0v1.0h-1.0zM148.8 162.8h1.0v1.0h-1.0zM148.0 155.5h1.0v1.0h-1.0zM150.5 152.6h1.0v1.0h-1.0zM150.6 165.4h1.0v1.0h-1.0zM153.2 160.5h1.0v1.0h-1.0zM152.7 159.9h1.0v1.0h-1.0zM148.3 162.3h1.0v1.0h-1.0zM150.6 164.6h1.0v1.0h-1.0zM155.2 159.3h1.0v1.0h-1.0zM152.2 164.7h1.0v1.0h-1.0zM150.8 155.9h1.0v1.0h-1.0zM153.5 167.0h1.0v1.0h-1.0zM154.0 163.9h1.0v1.0h-1.0zM154.7 163.6h1.0v1.0h-1.0zM264.0 161.1h1.0v1.0h-1.0zM262.0 164.6h1.0v1.0h-1.0zM260.6 160.4h1.0v1.0h-1.0zM264.9 166.3h1.0v1.0h-1.0zM264.0 157.0h1.0v1.0h-1.0zM262.7 161.1h1.0v1.0h-1.0zM263.9 160.2h1.0v1.0h-1.0zM264.3 170.6h1.0v1.0h-1.0zM261.2 165.1h1.0v1.0h-1.0zM264.9 159.8h1.0v1.0h-1.0zM263.1 171.5h1.0v1.0h-1.0zM260.2 162.9h1.0v1.0h-1.0zM261.0 167.6h1.0v1.0h-1.0zM265.9 162.4h1.0v1.0h-1.0zM260.6 163.5h1.0v1.0h-1.0zM263.4 166.3h1.0v1.0h-1.0zM263.2 164.8h1.0v1.0h-1.0zM265.2 162.4h1.0v1.0h-1.0zM262.6 171.0h1.0v1.0h-1.0zM261.3 165.7h1.0v1.0h-1.0zM262.5 167.3h1.0v1.0h-1.0zM260.8 171.7h1.0v1.0h-1.0zM262.2 153.1h1.0v1.0h-1.0zM261.7 160.0h1.0v1.0h-1.0zM260.1 160.4h1.0v1.0h-1.0zM262.6 166.0h1.0v1.0h-1.0zM262.2 157.3h1.0v1.0h-1.0zM261.4 166.8h1.0v1.0h-1.0zM265.9 162.5h1.0v1.0h-1.0zM261.4 168.0h1.0v1.0h-1.0zM236.7 171.6h1.0v1.0h-1.0zM233.6 172.1h1.0v1.0h-1.0zM241.7 172.0h1.0v1.0h-1.0zM237.6 171.9h1.0v1.0h-1.0zM234.7 172.3h1.0v1.0h-1.0zM236.2 172.0h1.0v1.0h-1.0zM241.8 172.1h1.0v1.0h-1.0zM237.6 171.7h1.0v1.0h-1.0zM238.6 171.5h1.0v1.0h-1.0zM242.0 171.7h1.0v1.0h-1.0zM242.2 171.6h1.0v1.0h-1.0zM236.5 171.6h1.0v1.0h-1.0zM237.1 171.6h1.0v1.0h-1.0zM232.0 172.0h1.0v1.0h-1.0z" fill="#505050"/>
</g>
<path d="M321.6 18.9V161.5M333.7 18.9V161.5M345.8 18.9V161.5M357.8 18.9V161.5M369.9 18.9V161.5M382.0 18.9V161.5M394.1 18.9V161.5M406.2 18.9V161.5M418.2 18.9V161.5M430.3 18.9V161.5M442.4 18.9V161.5M454.5 18.9V161.5M466.6 18.9V161.5M478.6 18.9V161.5M490.7 18.9V161.5M502.8 18.9V161.5M514.9 18.9V161.5M527.0 18.9V161.5M539.0 18.9V161.5M321.6 18.9H539.0M321.6 36.8H539.0M321.6 54.6H539.0M321.6 72.5H539.0M321.6 90.3H539.0M321.6 108.2H539.0M321.6 126.1H539.0M321.6 143.9H539.0M321.6 161.8H539.0" stroke="#ebebeb" stroke-width="0.9" fill="none"/>
<polygon points="320.7,64 321.6,60.3 322.8,58.7 326.3,57.4 329.1,56.1 331.7,57.1 334.9,55.5 337.1,54.5 340,53 342,52.6 344.1,53.4 344.7,54.5 335.2,65.4 337.1,66 347.3,65.4 351.1,67.8 354.9,67.3 360,69 366.4,69.2 371.5,71.2 377.8,73.4 380.6,75.2 380.4,77.2 321.6,77.2 320.7,72" fill="#ff0000"/>
<polygon points="415.4,103.7 491.9,103.7 492.2,105.6 484.2,108 474.9,110.4 464.1,112.2 456.4,112.7 447,113.5 445,115.5 449,121 451,125 447,125 441,124.5 437,123.3 431.6,119.6 425.5,115 419.3,108.8 415.2,105" fill="#ff0000"/>
<polygon points="523.5,75.9 526.6,72.1 533.6,64.3 537.5,61.6 540.2,62.8 541,74.4 539.8,76.7 524,76.8" fill="#ff0000" stroke="#ff0000" stroke-width="1.2" stroke-linejoin="round"/>
<g fill="none" stroke="#ff2020" stroke-width="0.6"><circle cx="340.3" cy="50.4" r="1.6"/><circle cx="343.6" cy="53.4" r="1.6"/><circle cx="331.7" cy="56.3" r="1.6"/><circle cx="325.5" cy="57.3" r="1.6"/><circle cx="347.3" cy="65.3" r="1.6"/><circle cx="354.5" cy="67" r="1.6"/><circle cx="360" cy="68.5" r="1.6"/><circle cx="366" cy="68.8" r="1.6"/><circle cx="380.4" cy="71.1" r="1.6"/><circle cx="337" cy="53" r="1.6"/><circle cx="437" cy="122.8" r="1.6"/><circle cx="439.5" cy="125.5" r="1.6"/><circle cx="450" cy="126.5" r="1.6"/><circle cx="452.7" cy="127.3" r="1.6"/><circle cx="446" cy="114" r="1.6"/><circle cx="452" cy="113" r="1.6"/><circle cx="460" cy="112.3" r="1.6"/><circle cx="468" cy="111.6" r="1.6"/><circle cx="475" cy="110.2" r="1.6"/><circle cx="483" cy="108.3" r="1.6"/></g>
<polyline points="321.6,90.5 322.3,89.1 323.1,87.6 323.8,86.2 324.5,84.7 325.2,83.3 326,81.9 326.7,80.4 327.4,79 328.1,77.6 328.9,76.2 329.6,74.8 330.3,73.4 331,72 331.8,70.6 332.5,69.2 333.2,67.9 334,66.5 334.7,65.2 335.4,63.8 336.1,62.5 336.9,61.2 337.6,59.9 338.3,58.6 339,57.4 339.8,56.1 340.5,54.9 341.2,53.6 341.9,52.4 342.7,51.2 343.4,50.1 344.1,48.9 344.9,47.8 345.6,46.6 346.3,45.5 347,44.5 347.8,43.4 348.5,42.4 349.2,41.3 349.9,40.3 350.7,39.4 351.4,38.4 352.1,37.5 352.8,36.6 353.6,35.7 354.3,34.8 355,34 355.8,33.2 356.5,32.4 357.2,31.7 357.9,30.9 358.7,30.2 359.4,29.5 360.1,28.9 360.8,28.2 361.6,27.6 362.3,27.1 363,26.5 363.7,26 364.5,25.5 365.2,25.1 365.9,24.6 366.7,24.2 367.4,23.9 368.1,23.5 368.8,23.2 369.6,22.9 370.3,22.7 371,22.4 371.7,22.2 372.5,22.1 373.2,21.9 373.9,21.8 374.6,21.8 375.4,21.7 376.1,21.7 376.8,21.7 377.6,21.8 378.3,21.8 379,21.9 379.7,22.1 380.5,22.2 381.2,22.4 381.9,22.7 382.6,22.9 383.4,23.2 384.1,23.5 384.8,23.9 385.5,24.2 386.3,24.6 387,25.1 387.7,25.5 388.5,26 389.2,26.5 389.9,27.1 390.6,27.6 391.4,28.2 392.1,28.9 392.8,29.5 393.5,30.2 394.3,30.9 395,31.7 395.7,32.4 396.4,33.2 397.2,34 397.9,34.8 398.6,35.7 399.4,36.6 400.1,37.5 400.8,38.4 401.5,39.4 402.3,40.3 403,41.3 403.7,42.4 404.4,43.4 405.2,44.5 405.9,45.5 406.6,46.6 407.3,47.8 408.1,48.9 408.8,50.1 409.5,51.2 410.3,52.4 411,53.6 411.7,54.9 412.4,56.1 413.2,57.4 413.9,58.6 414.6,59.9 415.3,61.2 416.1,62.5 416.8,63.8 417.5,65.2 418.2,66.5 419,67.9 419.7,69.2 420.4,70.6 421.2,72 421.9,73.4 422.6,74.8 423.3,76.2 424.1,77.6 424.8,79 425.5,80.4 426.2,81.9 427,83.3 427.7,84.7 428.4,86.2 429.1,87.6 429.9,89.1 430.6,90.5 431.3,91.9 432.1,93.4 432.8,94.8 433.5,96.3 434.2,97.7 435,99.1 435.7,100.6 436.4,102 437.1,103.4 437.9,104.8 438.6,106.2 439.3,107.6 440,109 440.8,110.4 441.5,111.8 442.2,113.1 443,114.5 443.7,115.8 444.4,117.2 445.1,118.5 445.9,119.8 446.6,121.1 447.3,122.4 448,123.6 448.8,124.9 449.5,126.1 450.2,127.4 450.9,128.6 451.7,129.8 452.4,130.9 453.1,132.1 453.9,133.2 454.6,134.4 455.3,135.5 456,136.5 456.8,137.6 457.5,138.6 458.2,139.7 458.9,140.7 459.7,141.6 460.4,142.6 461.1,143.5 461.8,144.4 462.6,145.3 463.3,146.2 464,147 464.8,147.8 465.5,148.6 466.2,149.3 466.9,150.1 467.7,150.8 468.4,151.5 469.1,152.1 469.8,152.8 470.6,153.4 471.3,153.9 472,154.5 472.7,155 473.5,155.5 474.2,155.9 474.9,156.4 475.7,156.8 476.4,157.1 477.1,157.5 477.8,157.8 478.6,158.1 479.3,158.3 480,158.6 480.7,158.8 481.5,158.9 482.2,159.1 482.9,159.2 483.6,159.2 484.4,159.3 485.1,159.3 485.8,159.3 486.6,159.2 487.3,159.2 488,159.1 488.7,158.9 489.5,158.8 490.2,158.6 490.9,158.3 491.6,158.1 492.4,157.8 493.1,157.5 493.8,157.1 494.5,156.8 495.3,156.4 496,155.9 496.7,155.5 497.5,155 498.2,154.5 498.9,153.9 499.6,153.4 500.4,152.8 501.1,152.1 501.8,151.5 502.5,150.8 503.3,150.1 504,149.3 504.7,148.6 505.4,147.8 506.2,147 506.9,146.2 507.6,145.3 508.4,144.4 509.1,143.5 509.8,142.6 510.5,141.6 511.3,140.7 512,139.7 512.7,138.6 513.4,137.6 514.2,136.5 514.9,135.5 515.6,134.4 516.3,133.2 517.1,132.1 517.8,130.9 518.5,129.8 519.3,128.6 520,127.4 520.7,126.1 521.4,124.9 522.2,123.6 522.9,122.4 523.6,121.1 524.3,119.8 525.1,118.5 525.8,117.2 526.5,115.8 527.2,114.5 528,113.1 528.7,111.8 529.4,110.4 530.2,109 530.9,107.6 531.6,106.2 532.3,104.8 533.1,103.4 533.8,102 534.5,100.6 535.2,99.1 536,97.7 536.7,96.3 537.4,94.8 538.1,93.4 538.9,91.9 539.6,90.5" fill="none" stroke="#858585" stroke-width="1.35"/>
<rect x="320.9" y="17.5" width="1.4" height="145" fill="#000"/>
<rect x="320.9" y="160.6" width="218.6" height="1.8" fill="#000"/>
<path d="M322.3 18.9h1.5M322.3 36.8h1.5M322.3 54.6h1.5M322.3 72.5h1.5M322.3 90.3h1.5M322.3 108.2h1.5M322.3 126.1h1.5M322.3 143.9h1.5M322.3 161.8h1.5" stroke="#666" stroke-width="0.6"/>
<text x="0" y="0" font-size="5.6" font-family="'Liberation Sans',Arial,sans-serif" fill="#222" stroke="#222" stroke-width="0.18" text-anchor="end" transform="translate(315.4,23.6) scale(1,1.15)">4000</text>
<text x="0" y="0" font-size="5.6" font-family="'Liberation Sans',Arial,sans-serif" fill="#222" stroke="#222" stroke-width="0.18" text-anchor="end" transform="translate(315.4,40.2) scale(1,1.15)">3000</text>
<text x="0" y="0" font-size="5.6" font-family="'Liberation Sans',Arial,sans-serif" fill="#222" stroke="#222" stroke-width="0.18" text-anchor="end" transform="translate(315.4,58.6) scale(1,1.15)">2000</text>
<text x="0" y="0" font-size="5.6" font-family="'Liberation Sans',Arial,sans-serif" fill="#222" stroke="#222" stroke-width="0.18" text-anchor="end" transform="translate(315.4,76.7) scale(1,1.15)">1000</text>
<text x="0" y="0" font-size="5.6" font-family="'Liberation Sans',Arial,sans-serif" fill="#222" stroke="#222" stroke-width="0.18" text-anchor="end" transform="translate(315.4,92.6) scale(1,1.15)">0</text>
<text x="0" y="0" font-size="5.6" font-family="'Liberation Sans',Arial,sans-serif" fill="#222" stroke="#222" stroke-width="0.18" text-anchor="end" transform="translate(315.4,111.2) scale(1,1.15)">-1000</text>
<text x="0" y="0" font-size="5.6" font-family="'Liberation Sans',Arial,sans-serif" fill="#222" stroke="#222" stroke-width="0.18" text-anchor="end" transform="translate(315.4,128.9) scale(1,1.15)">-2000</text>
<text x="0" y="0" font-size="5.6" font-family="'Liberation Sans',Arial,sans-serif" fill="#222" stroke="#222" stroke-width="0.18" text-anchor="end" transform="translate(315.4,146.7) scale(1,1.15)">-3000</text>
<text x="0" y="0" font-size="5.6" font-family="'Liberation Sans',Arial,sans-serif" fill="#222" stroke="#222" stroke-width="0.18" text-anchor="end" transform="translate(315.4,163.6) scale(1,1.15)">-4000</text>
<text x="0" y="0" font-size="5.6" font-family="'Liberation Sans',Arial,sans-serif" fill="#222" stroke="#222" stroke-width="0.18" text-anchor="middle" transform="translate(323.3,171.4) scale(1,1.15)">0</text>
<text x="0" y="0" font-size="5.6" font-family="'Liberation Sans',Arial,sans-serif" fill="#222" stroke="#222" stroke-width="0.18" text-anchor="middle" transform="translate(334.6,171.4) scale(1,1.15)">20</text>
<text x="0" y="0" font-size="5.6" font-family="'Liberation Sans',Arial,sans-serif" fill="#222" stroke="#222" stroke-width="0.18" text-anchor="middle" transform="translate(346.6,171.4) scale(1,1.15)">40</text>
<text x="0" y="0" font-size="5.6" font-family="'Liberation Sans',Arial,sans-serif" fill="#222" stroke="#222" stroke-width="0.18" text-anchor="middle" transform="translate(358.6,171.4) scale(1,1.15)">60</text>
<text x="0" y="0" font-size="5.6" font-family="'Liberation Sans',Arial,sans-serif" fill="#222" stroke="#222" stroke-width="0.18" text-anchor="middle" transform="translate(368.5,171.4) scale(1,1.15)">80</text>
<text x="0" y="0" font-size="5.6" font-family="'Liberation Sans',Arial,sans-serif" fill="#222" stroke="#222" stroke-width="0.18" text-anchor="middle" transform="translate(379.8,171.4) scale(1,1.15)">100</text>
<text x="0" y="0" font-size="5.6" font-family="'Liberation Sans',Arial,sans-serif" fill="#222" stroke="#222" stroke-width="0.18" text-anchor="middle" transform="translate(392.5,171.4) scale(1,1.15)">120</text>
<text x="0" y="0" font-size="5.6" font-family="'Liberation Sans',Arial,sans-serif" fill="#222" stroke="#222" stroke-width="0.18" text-anchor="middle" transform="translate(404.9,171.4) scale(1,1.15)">140</text>
<text x="0" y="0" font-size="5.6" font-family="'Liberation Sans',Arial,sans-serif" fill="#222" stroke="#222" stroke-width="0.18" text-anchor="middle" transform="translate(417.1,171.4) scale(1,1.15)">160</text>
<text x="0" y="0" font-size="5.6" font-family="'Liberation Sans',Arial,sans-serif" fill="#222" stroke="#222" stroke-width="0.18" text-anchor="middle" transform="translate(429.5,171.4) scale(1,1.15)">180</text>
<text x="0" y="0" font-size="5.6" font-family="'Liberation Sans',Arial,sans-serif" fill="#222" stroke="#222" stroke-width="0.18" text-anchor="middle" transform="translate(443.5,171.4) scale(1,1.15)">200</text>
<text x="0" y="0" font-size="5.6" font-family="'Liberation Sans',Arial,sans-serif" fill="#222" stroke="#222" stroke-width="0.18" text-anchor="middle" transform="translate(455.7,171.4) scale(1,1.15)">220</text>
<text x="0" y="0" font-size="5.6" font-family="'Liberation Sans',Arial,sans-serif" fill="#222" stroke="#222" stroke-width="0.18" text-anchor="middle" transform="translate(467.7,171.4) scale(1,1.15)">240</text>
<text x="0" y="0" font-size="5.6" font-family="'Liberation Sans',Arial,sans-serif" fill="#222" stroke="#222" stroke-width="0.18" text-anchor="middle" transform="translate(479.7,171.4) scale(1,1.15)">260</text>
<text x="0" y="0" font-size="5.6" font-family="'Liberation Sans',Arial,sans-serif" fill="#222" stroke="#222" stroke-width="0.18" text-anchor="middle" transform="translate(491.7,171.4) scale(1,1.15)">280</text>
<text x="0" y="0" font-size="5.6" font-family="'Liberation Sans',Arial,sans-serif" fill="#222" stroke="#222" stroke-width="0.18" text-anchor="middle" transform="translate(504.2,171.4) scale(1,1.15)">300</text>
<text x="0" y="0" font-size="5.6" font-family="'Liberation Sans',Arial,sans-serif" fill="#222" stroke="#222" stroke-width="0.18" text-anchor="middle" transform="translate(516.6,171.4) scale(1,1.15)">320</text>
<text x="0" y="0" font-size="5.6" font-family="'Liberation Sans',Arial,sans-serif" fill="#222" stroke="#222" stroke-width="0.18" text-anchor="middle" transform="translate(530.8,171.4) scale(1,1.15)">340</text>
<text x="0" y="0" font-size="5.6" font-family="'Liberation Sans',Arial,sans-serif" fill="#222" stroke="#222" stroke-width="0.18" text-anchor="middle" transform="translate(543.9,171.4) scale(1,1.15)">360</text>
<text x="434.3" y="188.5" font-size="10.3" font-family="'Liberation Sans',Arial,sans-serif" fill="#222" stroke="#222" stroke-width="0.35" text-anchor="middle" textLength="61.4" lengthAdjust="spacingAndGlyphs">Phase (degree)</text>
<text x="0" y="0" font-size="10.3" font-family="'Liberation Sans',Arial,sans-serif" fill="#222" stroke="#222" stroke-width="0.4" text-anchor="middle" textLength="113.4" lengthAdjust="spacingAndGlyphs" transform="translate(291.6,87.2) rotate(-90)">Discharge magnitude (pC)</text>
<rect x="39.6" y="263.2" width="231.4" height="3.3" fill="#aaa"/>
<rect x="265.2" y="263.2" width="5.8" height="181.4" fill="#aaa"/>
<rect x="39.6" y="263.4" width="1" height="181" fill="#c4c4c4"/>
<rect x="39.6" y="443.2" width="226" height="1.2" fill="#c8c8c8"/>
<rect x="40" y="309.3" width="225.6" height="2" fill="#ababab"/>
<polyline points="40.5,311 41.6,309.8 42.8,308.7 43.9,307.5 45,306.3 46.1,305.1 47.2,304 48.4,302.8 49.5,301.7 50.6,300.6 51.8,299.4 52.9,298.3 54,297.2 55.1,296.1 56.2,295.1 57.4,294 58.5,293 59.6,292 60.8,291 61.9,290 63,289 64.1,288.1 65.2,287.2 66.4,286.3 67.5,285.4 68.6,284.6 69.8,283.7 70.9,282.9 72,282.2 73.1,281.4 74.2,280.7 75.4,280.1 76.5,279.4 77.6,278.8 78.8,278.2 79.9,277.7 81,277.2 82.1,276.7 83.2,276.2 84.4,275.8 85.5,275.4 86.6,275.1 87.8,274.8 88.9,274.5 90,274.3 91.1,274.1 92.2,273.9 93.4,273.8 94.5,273.7 95.6,273.6 96.8,273.6 97.9,273.6 99,273.7 100.1,273.8 101.2,273.9 102.4,274.1 103.5,274.3 104.6,274.5 105.8,274.8 106.9,275.1 108,275.4 109.1,275.8 110.2,276.2 111.4,276.7 112.5,277.2 113.6,277.7 114.8,278.2 115.9,278.8 117,279.4 118.1,280.1 119.2,280.7 120.4,281.4 121.5,282.2 122.6,282.9 123.8,283.7 124.9,284.6 126,285.4 127.1,286.3 128.2,287.2 129.4,288.1 130.5,289 131.6,290 132.8,291 133.9,292 135,293 136.1,294 137.2,295.1 138.4,296.1 139.5,297.2 140.6,298.3 141.8,299.4 142.9,300.6 144,301.7 145.1,302.8 146.2,304 147.4,305.1 148.5,306.3 149.6,307.5 150.8,308.7 151.9,309.8 153,311 154.1,312.2 155.2,313.3 156.4,314.5 157.5,315.7 158.6,316.9 159.8,318 160.9,319.2 162,320.3 163.1,321.4 164.2,322.6 165.4,323.7 166.5,324.8 167.6,325.9 168.8,326.9 169.9,328 171,329 172.1,330 173.2,331 174.4,332 175.5,333 176.6,333.9 177.8,334.8 178.9,335.7 180,336.6 181.1,337.4 182.2,338.3 183.4,339.1 184.5,339.8 185.6,340.6 186.8,341.3 187.9,341.9 189,342.6 190.1,343.2 191.2,343.8 192.4,344.3 193.5,344.8 194.6,345.3 195.8,345.8 196.9,346.2 198,346.6 199.1,346.9 200.2,347.2 201.4,347.5 202.5,347.7 203.6,347.9 204.8,348.1 205.9,348.2 207,348.3 208.1,348.4 209.2,348.4 210.4,348.4 211.5,348.3 212.6,348.2 213.8,348.1 214.9,347.9 216,347.7 217.1,347.5 218.2,347.2 219.4,346.9 220.5,346.6 221.6,346.2 222.8,345.8 223.9,345.3 225,344.8 226.1,344.3 227.2,343.8 228.4,343.2 229.5,342.6 230.6,341.9 231.8,341.3 232.9,340.6 234,339.8 235.1,339.1 236.2,338.3 237.4,337.4 238.5,336.6 239.6,335.7 240.8,334.8 241.9,333.9 243,333 244.1,332 245.2,331 246.4,330 247.5,329 248.6,328 249.8,326.9 250.9,325.9 252,324.8 253.1,323.7 254.2,322.6 255.4,321.4 256.5,320.3 257.6,319.2 258.8,318 259.9,316.9 261,315.7 262.1,314.5 263.2,313.3 264.4,312.2 265.5,311" fill="none" stroke="#b6b6b6" stroke-width="1.3"/>
<path d="M148.6 355.8h7.5M152.3 352v7.5" stroke="#bcbcbc" stroke-width="1.3"/>
<text x="25.6" y="279.6" font-size="7" font-family="'DejaVu Sans',Verdana,sans-serif" fill="#333" stroke="#333" stroke-width="0.3" text-anchor="middle">1.50</text>
<text x="25.6" y="316.9" font-size="7" font-family="'DejaVu Sans',Verdana,sans-serif" fill="#333" stroke="#333" stroke-width="0.3" text-anchor="middle">(nC)</text>
<text x="25.6" y="363" font-size="7" font-family="'DejaVu Sans',Verdana,sans-serif" fill="#333" stroke="#333" stroke-width="0.3" text-anchor="middle">0.75</text>
<text x="25.6" y="446.4" font-size="7" font-family="'DejaVu Sans',Verdana,sans-serif" fill="#333" stroke="#333" stroke-width="0.3" text-anchor="middle">0.0</text>
<text x="43.3" y="454" font-size="7" font-family="'DejaVu Sans',Verdana,sans-serif" fill="#333" stroke="#333" stroke-width="0.3" text-anchor="middle">0</text>
<text x="154.5" y="454.4" font-size="7" font-family="'DejaVu Sans',Verdana,sans-serif" fill="#333" stroke="#333" stroke-width="0.3" text-anchor="middle">180</text>
<text x="224.5" y="454.4" font-size="7" font-family="'DejaVu Sans',Verdana,sans-serif" fill="#333" stroke="#333" stroke-width="0.3" text-anchor="middle">(deg)</text>
<text x="264.5" y="454.4" font-size="7" font-family="'DejaVu Sans',Verdana,sans-serif" fill="#333" stroke="#333" stroke-width="0.3" text-anchor="middle">360</text>
<path d="M47.2 264.3h3.6l-1.8 3z" fill="#e01030"/>
<g filter="url(#bl)">
<path d="M59.7 427.6h1.2v1.2h-1.2zM98.0 438.8h1.2v1.2h-1.2zM75.5 427.1h1.2v1.2h-1.2zM46.2 434.9h1.2v1.2h-1.2zM75.5 426.8h1.2v1.2h-1.2zM86.6 437.2h1.2v1.2h-1.2zM42.4 432.3h1.2v1.2h-1.2zM83.2 425.7h1.2v1.2h-1.2zM98.5 429.7h1.2v1.2h-1.2zM63.4 433.9h1.2v1.2h-1.2zM56.9 437.4h1.2v1.2h-1.2zM93.9 427.2h1.2v1.2h-1.2zM92.4 432.0h1.2v1.2h-1.2zM47.0 437.8h1.2v1.2h-1.2zM40.5 428.5h1.2v1.2h-1.2zM93.6 438.2h1.2v1.2h-1.2zM75.7 437.5h1.2v1.2h-1.2zM74.8 426.0h1.2v1.2h-1.2zM58.3 436.7h1.2v1.2h-1.2zM50.9 431.6h1.2v1.2h-1.2zM69.8 431.3h1.2v1.2h-1.2zM52.9 433.5h1.2v1.2h-1.2zM61.3 435.3h1.2v1.2h-1.2zM45.1 430.2h1.2v1.2h-1.2zM69.9 438.8h1.2v1.2h-1.2zM98.2 435.2h1.2v1.2h-1.2zM40.8 437.5h1.2v1.2h-1.2zM42.5 434.1h1.2v1.2h-1.2zM94.0 438.0h1.2v1.2h-1.2zM98.1 437.9h1.2v1.2h-1.2zM40.9 425.1h1.2v1.2h-1.2zM89.2 438.8h1.2v1.2h-1.2zM66.5 428.0h1.2v1.2h-1.2zM45.0 437.8h1.2v1.2h-1.2zM52.7 433.7h1.2v1.2h-1.2zM90.2 437.0h1.2v1.2h-1.2zM58.1 430.5h1.2v1.2h-1.2zM76.2 437.7h1.2v1.2h-1.2zM71.6 432.7h1.2v1.2h-1.2zM44.4 436.2h1.2v1.2h-1.2zM52.1 436.8h1.2v1.2h-1.2zM44.4 432.5h1.2v1.2h-1.2zM66.5 428.7h1.2v1.2h-1.2zM53.6 428.6h1.2v1.2h-1.2zM41.5 429.3h1.2v1.2h-1.2zM57.9 432.1h1.2v1.2h-1.2zM80.6 438.2h1.2v1.2h-1.2zM41.3 433.6h1.2v1.2h-1.2zM84.1 437.5h1.2v1.2h-1.2zM55.0 428.0h1.2v1.2h-1.2zM78.3 430.2h1.2v1.2h-1.2zM97.4 431.1h1.2v1.2h-1.2zM60.0 439.0h1.2v1.2h-1.2zM94.4 425.7h1.2v1.2h-1.2zM44.7 438.6h1.2v1.2h-1.2zM45.1 438.1h1.2v1.2h-1.2zM50.5 425.8h1.2v1.2h-1.2zM49.2 432.2h1.2v1.2h-1.2zM83.6 437.5h1.2v1.2h-1.2zM81.4 430.0h1.2v1.2h-1.2zM94.1 425.5h1.2v1.2h-1.2zM96.9 431.0h1.2v1.2h-1.2zM78.5 437.8h1.2v1.2h-1.2zM77.0 434.9h1.2v1.2h-1.2zM54.5 438.9h1.2v1.2h-1.2zM72.9 425.4h1.2v1.2h-1.2zM50.2 432.9h1.2v1.2h-1.2zM85.8 433.3h1.2v1.2h-1.2zM95.5 428.3h1.2v1.2h-1.2zM69.5 438.9h1.2v1.2h-1.2zM55.2 427.2h1.2v1.2h-1.2zM60.2 438.4h1.2v1.2h-1.2zM73.5 435.7h1.2v1.2h-1.2zM70.6 439.0h1.2v1.2h-1.2zM87.4 435.5h1.2v1.2h-1.2zM44.4 432.1h1.2v1.2h-1.2zM91.9 438.0h1.2v1.2h-1.2zM40.4 433.1h1.2v1.2h-1.2zM44.0 436.4h1.2v1.2h-1.2zM64.1 434.1h1.2v1.2h-1.2zM89.0 431.6h1.2v1.2h-1.2zM93.0 429.4h1.2v1.2h-1.2zM62.3 428.1h1.2v1.2h-1.2zM44.7 434.3h1.2v1.2h-1.2zM53.4 432.2h1.2v1.2h-1.2zM44.7 430.2h1.2v1.2h-1.2zM93.8 438.6h1.2v1.2h-1.2zM79.8 438.1h1.2v1.2h-1.2zM52.5 429.1h1.2v1.2h-1.2zM55.5 432.4h1.2v1.2h-1.2zM52.0 434.3h1.2v1.2h-1.2zM92.4 425.8h1.2v1.2h-1.2zM71.1 437.7h1.2v1.2h-1.2zM77.0 438.4h1.2v1.2h-1.2zM91.6 438.7h1.2v1.2h-1.2zM41.4 439.0h1.2v1.2h-1.2zM84.5 425.9h1.2v1.2h-1.2zM99.7 428.9h1.2v1.2h-1.2zM47.6 428.0h1.2v1.2h-1.2zM63.4 435.4h1.2v1.2h-1.2zM49.2 438.2h1.2v1.2h-1.2zM69.9 430.3h1.2v1.2h-1.2zM96.5 430.3h1.2v1.2h-1.2zM80.7 434.0h1.2v1.2h-1.2zM48.7 438.7h1.2v1.2h-1.2zM49.6 427.0h1.2v1.2h-1.2zM53.5 436.8h1.2v1.2h-1.2zM67.1 432.8h1.2v1.2h-1.2zM61.6 438.3h1.2v1.2h-1.2zM100.2 432.7h1.2v1.2h-1.2zM45.8 435.6h1.2v1.2h-1.2zM45.2 437.4h1.2v1.2h-1.2zM56.6 433.7h1.2v1.2h-1.2zM84.4 437.6h1.2v1.2h-1.2zM58.1 425.3h1.2v1.2h-1.2zM49.6 437.2h1.2v1.2h-1.2zM99.3 435.4h1.2v1.2h-1.2zM59.3 434.7h1.2v1.2h-1.2zM50.1 428.7h1.2v1.2h-1.2zM76.0 438.9h1.2v1.2h-1.2zM69.5 431.4h1.2v1.2h-1.2zM76.0 425.3h1.2v1.2h-1.2zM55.5 439.0h1.2v1.2h-1.2zM96.1 431.9h1.2v1.2h-1.2zM98.9 438.5h1.2v1.2h-1.2zM69.3 435.8h1.2v1.2h-1.2zM80.1 438.9h1.2v1.2h-1.2zM48.9 438.5h1.2v1.2h-1.2zM69.5 434.0h1.2v1.2h-1.2zM88.6 435.6h1.2v1.2h-1.2zM93.6 431.8h1.2v1.2h-1.2zM100.1 438.9h1.2v1.2h-1.2zM80.4 438.0h1.2v1.2h-1.2zM99.0 439.0h1.2v1.2h-1.2zM86.2 426.2h1.2v1.2h-1.2zM42.5 438.9h1.2v1.2h-1.2zM59.5 435.3h1.2v1.2h-1.2zM62.3 438.6h1.2v1.2h-1.2zM45.3 427.7h1.2v1.2h-1.2zM57.9 434.0h1.2v1.2h-1.2zM51.0 425.5h1.2v1.2h-1.2zM94.4 434.1h1.2v1.2h-1.2zM45.2 438.3h1.2v1.2h-1.2zM83.9 430.0h1.2v1.2h-1.2zM84.9 436.4h1.2v1.2h-1.2zM50.4 436.2h1.2v1.2h-1.2zM95.3 435.5h1.2v1.2h-1.2zM81.3 428.7h1.2v1.2h-1.2zM44.1 436.0h1.2v1.2h-1.2zM89.6 437.7h1.2v1.2h-1.2zM65.0 429.8h1.2v1.2h-1.2zM47.1 431.2h1.2v1.2h-1.2zM50.0 436.2h1.2v1.2h-1.2zM59.4 427.9h1.2v1.2h-1.2zM96.1 428.3h1.2v1.2h-1.2zM64.0 435.3h1.2v1.2h-1.2zM96.4 435.9h1.2v1.2h-1.2zM62.4 426.0h1.2v1.2h-1.2zM40.3 433.6h1.2v1.2h-1.2zM92.2 434.1h1.2v1.2h-1.2zM77.4 430.0h1.2v1.2h-1.2zM90.1 433.9h1.2v1.2h-1.2zM40.9 436.1h1.2v1.2h-1.2zM75.0 438.1h1.2v1.2h-1.2zM80.8 426.8h1.2v1.2h-1.2zM92.9 438.5h1.2v1.2h-1.2zM87.9 432.1h1.2v1.2h-1.2zM77.9 434.9h1.2v1.2h-1.2zM66.1 438.2h1.2v1.2h-1.2zM84.5 432.2h1.2v1.2h-1.2zM53.5 429.4h1.2v1.2h-1.2zM42.3 432.9h1.2v1.2h-1.2zM84.3 438.4h1.2v1.2h-1.2zM78.3 437.8h1.2v1.2h-1.2zM74.2 428.2h1.2v1.2h-1.2zM55.0 431.9h1.2v1.2h-1.2zM78.0 428.4h1.2v1.2h-1.2zM97.5 438.5h1.2v1.2h-1.2zM74.8 438.9h1.2v1.2h-1.2zM58.3 430.6h1.2v1.2h-1.2zM96.1 431.2h1.2v1.2h-1.2zM98.9 438.9h1.2v1.2h-1.2zM46.0 438.9h1.2v1.2h-1.2zM70.1 426.7h1.2v1.2h-1.2zM43.7 438.6h1.2v1.2h-1.2zM63.2 427.1h1.2v1.2h-1.2zM87.1 433.6h1.2v1.2h-1.2zM53.9 438.1h1.2v1.2h-1.2zM62.7 432.0h1.2v1.2h-1.2zM47.3 426.5h1.2v1.2h-1.2zM96.3 430.3h1.2v1.2h-1.2zM91.0 428.3h1.2v1.2h-1.2zM45.6 436.6h1.2v1.2h-1.2zM67.4 435.2h1.2v1.2h-1.2zM74.9 437.2h1.2v1.2h-1.2zM40.9 431.7h1.2v1.2h-1.2zM51.8 438.4h1.2v1.2h-1.2zM52.4 434.2h1.2v1.2h-1.2zM72.0 433.3h1.2v1.2h-1.2zM76.0 434.5h1.2v1.2h-1.2zM70.1 438.6h1.2v1.2h-1.2zM92.5 438.8h1.2v1.2h-1.2zM76.4 436.3h1.2v1.2h-1.2zM41.0 431.3h1.2v1.2h-1.2zM83.7 432.1h1.2v1.2h-1.2zM67.5 433.1h1.2v1.2h-1.2zM46.8 437.7h1.2v1.2h-1.2zM52.0 438.8h1.2v1.2h-1.2zM78.6 438.1h1.2v1.2h-1.2zM73.8 438.4h1.2v1.2h-1.2zM48.2 431.4h1.2v1.2h-1.2zM56.8 438.9h1.2v1.2h-1.2zM88.5 427.1h1.2v1.2h-1.2zM56.9 425.2h1.2v1.2h-1.2zM97.8 439.0h1.2v1.2h-1.2zM83.6 438.4h1.2v1.2h-1.2zM64.9 437.5h1.2v1.2h-1.2zM67.1 435.5h1.2v1.2h-1.2zM89.0 438.0h1.2v1.2h-1.2zM73.0 438.5h1.2v1.2h-1.2zM93.4 436.1h1.2v1.2h-1.2zM60.0 436.6h1.2v1.2h-1.2zM92.9 431.0h1.2v1.2h-1.2zM92.7 429.8h1.2v1.2h-1.2zM44.4 430.3h1.2v1.2h-1.2zM48.0 435.7h1.2v1.2h-1.2zM48.1 432.9h1.2v1.2h-1.2zM48.2 437.0h1.2v1.2h-1.2zM98.1 434.1h1.2v1.2h-1.2zM68.3 426.9h1.2v1.2h-1.2zM58.4 434.3h1.2v1.2h-1.2zM94.1 429.6h1.2v1.2h-1.2zM89.1 433.6h1.2v1.2h-1.2zM45.2 436.8h1.2v1.2h-1.2zM61.7 438.9h1.2v1.2h-1.2zM48.0 432.9h1.2v1.2h-1.2zM89.0 435.2h1.2v1.2h-1.2zM70.6 431.5h1.2v1.2h-1.2zM75.3 429.3h1.2v1.2h-1.2zM42.4 428.6h1.2v1.2h-1.2zM67.2 434.4h1.2v1.2h-1.2zM88.3 436.8h1.2v1.2h-1.2zM67.5 433.9h1.2v1.2h-1.2zM48.5 434.4h1.2v1.2h-1.2zM73.0 432.5h1.2v1.2h-1.2zM41.4 437.7h1.2v1.2h-1.2zM66.5 432.5h1.2v1.2h-1.2zM56.6 437.2h1.2v1.2h-1.2zM41.9 435.2h1.2v1.2h-1.2zM91.2 439.0h1.2v1.2h-1.2zM93.2 438.9h1.2v1.2h-1.2zM71.1 434.7h1.2v1.2h-1.2zM50.1 438.0h1.2v1.2h-1.2zM48.2 432.0h1.2v1.2h-1.2zM76.5 428.8h1.2v1.2h-1.2zM55.4 437.9h1.2v1.2h-1.2zM67.3 426.4h1.2v1.2h-1.2zM89.7 427.2h1.2v1.2h-1.2zM76.0 426.8h1.2v1.2h-1.2zM54.3 425.3h1.2v1.2h-1.2zM209.1 421.6h1.2v1.2h-1.2zM189.1 425.5h1.2v1.2h-1.2zM174.9 424.7h1.2v1.2h-1.2zM199.5 431.3h1.2v1.2h-1.2zM199.7 436.6h1.2v1.2h-1.2zM184.1 428.8h1.2v1.2h-1.2zM209.2 433.8h1.2v1.2h-1.2zM185.1 421.3h1.2v1.2h-1.2zM166.8 435.6h1.2v1.2h-1.2zM182.5 436.6h1.2v1.2h-1.2zM198.8 424.6h1.2v1.2h-1.2zM202.3 421.5h1.2v1.2h-1.2zM198.4 431.6h1.2v1.2h-1.2zM190.0 425.0h1.2v1.2h-1.2zM181.0 433.8h1.2v1.2h-1.2zM190.3 436.5h1.2v1.2h-1.2zM211.9 427.3h1.2v1.2h-1.2zM189.8 424.6h1.2v1.2h-1.2zM194.7 420.8h1.2v1.2h-1.2zM200.4 434.1h1.2v1.2h-1.2zM189.0 430.8h1.2v1.2h-1.2zM189.7 422.8h1.2v1.2h-1.2zM169.3 427.2h1.2v1.2h-1.2zM187.4 421.9h1.2v1.2h-1.2zM192.4 436.5h1.2v1.2h-1.2zM168.9 433.9h1.2v1.2h-1.2zM183.2 430.6h1.2v1.2h-1.2zM185.6 420.5h1.2v1.2h-1.2zM181.3 426.0h1.2v1.2h-1.2zM179.6 437.9h1.2v1.2h-1.2zM169.7 437.8h1.2v1.2h-1.2zM176.0 432.3h1.2v1.2h-1.2zM197.2 427.7h1.2v1.2h-1.2zM173.7 434.3h1.2v1.2h-1.2zM176.8 425.4h1.2v1.2h-1.2zM167.0 432.8h1.2v1.2h-1.2zM206.5 433.2h1.2v1.2h-1.2zM168.1 423.8h1.2v1.2h-1.2zM173.6 426.1h1.2v1.2h-1.2zM182.5 424.3h1.2v1.2h-1.2zM202.3 437.5h1.2v1.2h-1.2zM167.7 437.7h1.2v1.2h-1.2zM179.2 434.8h1.2v1.2h-1.2zM211.7 431.9h1.2v1.2h-1.2zM177.8 429.3h1.2v1.2h-1.2zM195.4 437.3h1.2v1.2h-1.2zM179.2 433.8h1.2v1.2h-1.2zM196.5 438.0h1.2v1.2h-1.2zM191.3 435.9h1.2v1.2h-1.2zM191.3 423.8h1.2v1.2h-1.2zM183.6 428.5h1.2v1.2h-1.2zM204.0 424.3h1.2v1.2h-1.2zM206.3 426.3h1.2v1.2h-1.2zM199.8 437.7h1.2v1.2h-1.2zM201.5 434.3h1.2v1.2h-1.2zM205.5 431.0h1.2v1.2h-1.2zM175.5 420.8h1.2v1.2h-1.2zM195.7 425.3h1.2v1.2h-1.2zM173.1 421.8h1.2v1.2h-1.2zM172.2 434.1h1.2v1.2h-1.2zM210.1 421.7h1.2v1.2h-1.2zM182.2 425.9h1.2v1.2h-1.2zM212.2 435.9h1.2v1.2h-1.2zM196.2 422.5h1.2v1.2h-1.2zM173.4 427.6h1.2v1.2h-1.2zM192.8 432.5h1.2v1.2h-1.2zM212.0 427.0h1.2v1.2h-1.2zM199.9 420.9h1.2v1.2h-1.2zM174.5 438.0h1.2v1.2h-1.2zM165.8 432.8h1.2v1.2h-1.2zM167.9 420.7h1.2v1.2h-1.2zM192.9 432.3h1.2v1.2h-1.2zM166.9 437.0h1.2v1.2h-1.2zM185.0 422.2h1.2v1.2h-1.2zM187.8 430.7h1.2v1.2h-1.2zM202.6 424.9h1.2v1.2h-1.2zM182.1 421.8h1.2v1.2h-1.2zM186.0 421.2h1.2v1.2h-1.2zM189.8 437.8h1.2v1.2h-1.2zM181.7 434.4h1.2v1.2h-1.2zM169.5 429.2h1.2v1.2h-1.2zM182.2 425.9h1.2v1.2h-1.2zM197.2 432.0h1.2v1.2h-1.2zM191.7 434.6h1.2v1.2h-1.2zM196.0 425.3h1.2v1.2h-1.2zM205.2 438.0h1.2v1.2h-1.2zM212.1 430.1h1.2v1.2h-1.2zM197.5 424.2h1.2v1.2h-1.2zM172.6 431.3h1.2v1.2h-1.2zM212.8 421.3h1.2v1.2h-1.2zM190.8 420.5h1.2v1.2h-1.2zM213.0 437.0h1.2v1.2h-1.2zM191.6 424.0h1.2v1.2h-1.2zM211.2 427.8h1.2v1.2h-1.2zM167.3 435.7h1.2v1.2h-1.2zM181.4 438.0h1.2v1.2h-1.2zM177.3 425.9h1.2v1.2h-1.2zM165.2 428.4h1.2v1.2h-1.2zM207.4 430.7h1.2v1.2h-1.2zM187.5 437.7h1.2v1.2h-1.2zM182.8 433.4h1.2v1.2h-1.2zM201.7 433.1h1.2v1.2h-1.2zM196.6 426.1h1.2v1.2h-1.2zM202.3 425.8h1.2v1.2h-1.2zM179.4 438.0h1.2v1.2h-1.2zM204.1 437.8h1.2v1.2h-1.2zM181.4 426.6h1.2v1.2h-1.2zM190.4 437.7h1.2v1.2h-1.2zM213.1 423.1h1.2v1.2h-1.2zM165.7 425.1h1.2v1.2h-1.2zM201.3 428.0h1.2v1.2h-1.2zM175.0 436.0h1.2v1.2h-1.2zM207.5 431.6h1.2v1.2h-1.2zM186.8 436.9h1.2v1.2h-1.2zM206.8 437.2h1.2v1.2h-1.2zM196.7 432.8h1.2v1.2h-1.2zM199.2 420.4h1.2v1.2h-1.2zM206.1 431.4h1.2v1.2h-1.2zM188.9 420.4h1.2v1.2h-1.2zM194.9 434.5h1.2v1.2h-1.2zM194.0 433.9h1.2v1.2h-1.2zM187.2 431.6h1.2v1.2h-1.2zM194.5 430.3h1.2v1.2h-1.2zM197.2 420.5h1.2v1.2h-1.2zM207.3 426.0h1.2v1.2h-1.2zM166.0 436.0h1.2v1.2h-1.2zM180.4 437.1h1.2v1.2h-1.2zM172.4 432.5h1.2v1.2h-1.2zM197.4 438.0h1.2v1.2h-1.2zM174.2 437.5h1.2v1.2h-1.2zM166.5 434.0h1.2v1.2h-1.2zM206.8 429.7h1.2v1.2h-1.2zM174.4 430.8h1.2v1.2h-1.2zM171.5 437.0h1.2v1.2h-1.2zM195.7 437.5h1.2v1.2h-1.2zM204.6 421.4h1.2v1.2h-1.2zM201.0 428.2h1.2v1.2h-1.2zM209.6 430.8h1.2v1.2h-1.2zM202.3 437.7h1.2v1.2h-1.2zM180.5 433.4h1.2v1.2h-1.2zM164.9 426.7h1.2v1.2h-1.2zM176.0 428.6h1.2v1.2h-1.2zM202.6 433.0h1.2v1.2h-1.2zM167.5 434.1h1.2v1.2h-1.2zM213.8 430.2h1.2v1.2h-1.2zM171.5 438.0h1.2v1.2h-1.2zM172.3 430.9h1.2v1.2h-1.2zM175.4 427.1h1.2v1.2h-1.2zM197.0 435.6h1.2v1.2h-1.2z" fill="#ff9c8c"/>
<path d="M110.8 428.0h1.2v1.2h-1.2zM87.8 427.4h1.2v1.2h-1.2zM101.8 430.5h1.2v1.2h-1.2zM81.7 425.3h1.2v1.2h-1.2zM82.4 431.7h1.2v1.2h-1.2zM73.0 436.9h1.2v1.2h-1.2zM78.1 433.6h1.2v1.2h-1.2zM89.8 427.6h1.2v1.2h-1.2zM90.4 435.5h1.2v1.2h-1.2zM107.0 424.7h1.2v1.2h-1.2zM84.5 401.5h1.2v1.2h-1.2zM83.5 428.3h1.2v1.2h-1.2zM78.2 416.1h1.2v1.2h-1.2zM114.2 434.2h1.2v1.2h-1.2zM110.9 430.4h1.2v1.2h-1.2zM51.5 421.9h1.2v1.2h-1.2zM74.2 434.3h1.2v1.2h-1.2zM85.8 396.7h1.2v1.2h-1.2zM72.1 424.2h1.2v1.2h-1.2zM104.0 431.9h1.2v1.2h-1.2zM70.0 425.8h1.2v1.2h-1.2zM81.1 423.2h1.2v1.2h-1.2zM85.0 425.6h1.2v1.2h-1.2zM73.2 419.5h1.2v1.2h-1.2zM64.1 420.3h1.2v1.2h-1.2zM83.7 412.0h1.2v1.2h-1.2zM50.2 432.2h1.2v1.2h-1.2zM85.2 416.8h1.2v1.2h-1.2zM89.0 438.8h1.2v1.2h-1.2zM89.4 418.0h1.2v1.2h-1.2zM72.4 427.7h1.2v1.2h-1.2zM88.7 399.2h1.2v1.2h-1.2zM61.4 426.9h1.2v1.2h-1.2zM91.7 423.1h1.2v1.2h-1.2zM93.7 404.5h1.2v1.2h-1.2zM49.0 427.9h1.2v1.2h-1.2zM80.2 435.2h1.2v1.2h-1.2zM69.0 415.2h1.2v1.2h-1.2zM88.6 429.0h1.2v1.2h-1.2zM78.5 415.4h1.2v1.2h-1.2zM58.8 405.7h1.2v1.2h-1.2zM83.1 428.6h1.2v1.2h-1.2zM70.6 404.7h1.2v1.2h-1.2zM85.6 438.3h1.2v1.2h-1.2zM68.6 438.4h1.2v1.2h-1.2zM79.4 415.4h1.2v1.2h-1.2zM48.7 424.9h1.2v1.2h-1.2zM71.6 431.8h1.2v1.2h-1.2zM63.6 438.7h1.2v1.2h-1.2zM85.5 432.8h1.2v1.2h-1.2zM49.0 437.6h1.2v1.2h-1.2zM102.1 422.5h1.2v1.2h-1.2zM54.3 422.3h1.2v1.2h-1.2zM83.7 405.2h1.2v1.2h-1.2zM69.8 423.7h1.2v1.2h-1.2zM88.1 421.9h1.2v1.2h-1.2zM59.2 430.2h1.2v1.2h-1.2zM98.1 407.3h1.2v1.2h-1.2zM66.4 413.5h1.2v1.2h-1.2zM68.8 428.5h1.2v1.2h-1.2zM74.1 419.9h1.2v1.2h-1.2zM101.5 436.4h1.2v1.2h-1.2zM65.6 430.6h1.2v1.2h-1.2zM73.8 422.0h1.2v1.2h-1.2zM58.0 435.0h1.2v1.2h-1.2zM106.3 427.7h1.2v1.2h-1.2zM92.8 425.5h1.2v1.2h-1.2zM91.2 430.3h1.2v1.2h-1.2zM91.9 428.8h1.2v1.2h-1.2zM68.7 437.7h1.2v1.2h-1.2zM114.6 433.2h1.2v1.2h-1.2zM80.5 432.5h1.2v1.2h-1.2zM62.8 419.4h1.2v1.2h-1.2zM94.3 427.1h1.2v1.2h-1.2zM92.7 426.0h1.2v1.2h-1.2zM90.9 432.6h1.2v1.2h-1.2zM68.4 423.1h1.2v1.2h-1.2zM79.7 408.5h1.2v1.2h-1.2zM80.2 417.2h1.2v1.2h-1.2zM114.0 438.0h1.2v1.2h-1.2zM95.4 409.3h1.2v1.2h-1.2zM92.8 423.8h1.2v1.2h-1.2zM94.3 411.0h1.2v1.2h-1.2zM59.1 435.3h1.2v1.2h-1.2zM54.9 428.8h1.2v1.2h-1.2zM82.9 404.7h1.2v1.2h-1.2zM63.9 426.4h1.2v1.2h-1.2zM105.6 424.0h1.2v1.2h-1.2zM109.4 434.8h1.2v1.2h-1.2zM64.8 419.2h1.2v1.2h-1.2zM81.7 420.4h1.2v1.2h-1.2zM75.0 424.6h1.2v1.2h-1.2zM67.0 430.1h1.2v1.2h-1.2zM41.5 431.2h1.2v1.2h-1.2zM68.7 424.3h1.2v1.2h-1.2zM115.4 431.5h1.2v1.2h-1.2zM92.0 405.1h1.2v1.2h-1.2zM77.9 395.5h1.2v1.2h-1.2zM71.7 422.0h1.2v1.2h-1.2zM57.2 430.2h1.2v1.2h-1.2zM107.4 436.7h1.2v1.2h-1.2zM95.3 437.2h1.2v1.2h-1.2zM86.2 396.5h1.2v1.2h-1.2zM67.0 412.1h1.2v1.2h-1.2zM102.5 428.5h1.2v1.2h-1.2zM79.8 413.6h1.2v1.2h-1.2zM70.5 411.6h1.2v1.2h-1.2zM88.6 401.9h1.2v1.2h-1.2zM55.4 436.8h1.2v1.2h-1.2zM76.9 438.5h1.2v1.2h-1.2zM93.1 420.6h1.2v1.2h-1.2zM50.0 434.5h1.2v1.2h-1.2zM66.0 424.8h1.2v1.2h-1.2zM79.3 421.4h1.2v1.2h-1.2zM90.1 438.9h1.2v1.2h-1.2zM107.7 416.3h1.2v1.2h-1.2zM77.7 412.3h1.2v1.2h-1.2zM70.2 422.6h1.2v1.2h-1.2zM101.6 413.3h1.2v1.2h-1.2zM72.6 421.5h1.2v1.2h-1.2zM65.1 426.2h1.2v1.2h-1.2zM61.8 434.9h1.2v1.2h-1.2zM49.6 425.7h1.2v1.2h-1.2zM115.2 438.0h1.2v1.2h-1.2zM63.7 437.4h1.2v1.2h-1.2zM73.6 437.4h1.2v1.2h-1.2zM105.1 438.0h1.2v1.2h-1.2zM79.8 403.8h1.2v1.2h-1.2zM96.2 413.1h1.2v1.2h-1.2zM74.1 421.0h1.2v1.2h-1.2zM67.4 422.9h1.2v1.2h-1.2zM79.5 412.7h1.2v1.2h-1.2zM89.0 396.0h1.2v1.2h-1.2zM107.0 434.2h1.2v1.2h-1.2zM86.1 406.0h1.2v1.2h-1.2zM60.6 425.9h1.2v1.2h-1.2zM74.0 412.9h1.2v1.2h-1.2zM80.6 438.0h1.2v1.2h-1.2zM68.4 407.3h1.2v1.2h-1.2zM58.5 427.9h1.2v1.2h-1.2zM90.6 422.8h1.2v1.2h-1.2zM50.9 418.5h1.2v1.2h-1.2zM48.6 418.4h1.2v1.2h-1.2zM61.2 430.8h1.2v1.2h-1.2zM108.2 438.5h1.2v1.2h-1.2zM88.1 431.7h1.2v1.2h-1.2zM98.4 430.1h1.2v1.2h-1.2zM80.1 412.6h1.2v1.2h-1.2zM79.8 427.7h1.2v1.2h-1.2zM64.2 424.5h1.2v1.2h-1.2zM72.0 433.2h1.2v1.2h-1.2zM109.0 437.8h1.2v1.2h-1.2zM95.9 424.6h1.2v1.2h-1.2zM49.3 424.8h1.2v1.2h-1.2zM86.0 423.6h1.2v1.2h-1.2zM55.5 413.4h1.2v1.2h-1.2zM103.5 415.6h1.2v1.2h-1.2zM84.7 413.3h1.2v1.2h-1.2zM105.3 432.6h1.2v1.2h-1.2zM52.4 424.0h1.2v1.2h-1.2zM74.3 406.1h1.2v1.2h-1.2zM83.2 429.1h1.2v1.2h-1.2zM88.6 428.9h1.2v1.2h-1.2zM114.4 438.8h1.2v1.2h-1.2zM78.7 407.4h1.2v1.2h-1.2zM102.7 417.7h1.2v1.2h-1.2zM77.6 419.6h1.2v1.2h-1.2zM65.3 432.4h1.2v1.2h-1.2zM101.1 436.4h1.2v1.2h-1.2zM108.0 429.8h1.2v1.2h-1.2zM105.3 434.8h1.2v1.2h-1.2zM62.3 426.9h1.2v1.2h-1.2zM86.8 420.7h1.2v1.2h-1.2zM63.6 424.3h1.2v1.2h-1.2zM69.8 438.3h1.2v1.2h-1.2zM99.2 411.9h1.2v1.2h-1.2zM97.2 416.6h1.2v1.2h-1.2zM109.3 435.7h1.2v1.2h-1.2zM94.6 415.7h1.2v1.2h-1.2zM73.9 433.6h1.2v1.2h-1.2zM77.4 403.5h1.2v1.2h-1.2zM112.5 433.0h1.2v1.2h-1.2zM98.7 417.8h1.2v1.2h-1.2zM65.1 422.3h1.2v1.2h-1.2zM44.7 438.9h1.2v1.2h-1.2zM105.9 424.8h1.2v1.2h-1.2zM78.8 412.0h1.2v1.2h-1.2zM90.9 427.3h1.2v1.2h-1.2zM100.7 433.9h1.2v1.2h-1.2zM86.0 408.8h1.2v1.2h-1.2zM47.1 438.2h1.2v1.2h-1.2zM106.7 422.5h1.2v1.2h-1.2zM72.1 414.5h1.2v1.2h-1.2zM55.5 437.1h1.2v1.2h-1.2zM72.3 415.5h1.2v1.2h-1.2zM58.8 427.3h1.2v1.2h-1.2zM71.3 411.4h1.2v1.2h-1.2zM81.6 436.9h1.2v1.2h-1.2zM60.7 409.7h1.2v1.2h-1.2zM64.4 417.9h1.2v1.2h-1.2zM76.6 418.7h1.2v1.2h-1.2zM68.9 416.8h1.2v1.2h-1.2zM55.8 431.5h1.2v1.2h-1.2zM88.7 414.7h1.2v1.2h-1.2zM87.8 428.9h1.2v1.2h-1.2zM66.9 404.5h1.2v1.2h-1.2zM112.6 437.1h1.2v1.2h-1.2zM79.0 423.2h1.2v1.2h-1.2zM95.1 433.0h1.2v1.2h-1.2zM101.6 405.4h1.2v1.2h-1.2zM68.4 403.2h1.2v1.2h-1.2zM106.9 425.9h1.2v1.2h-1.2zM84.4 417.9h1.2v1.2h-1.2zM82.3 424.0h1.2v1.2h-1.2zM58.3 427.4h1.2v1.2h-1.2zM65.2 425.4h1.2v1.2h-1.2zM72.6 427.5h1.2v1.2h-1.2zM70.6 437.5h1.2v1.2h-1.2zM60.9 431.9h1.2v1.2h-1.2zM77.2 423.8h1.2v1.2h-1.2zM80.1 414.2h1.2v1.2h-1.2zM51.9 410.6h1.2v1.2h-1.2zM46.6 423.3h1.2v1.2h-1.2zM92.1 413.7h1.2v1.2h-1.2zM72.3 405.2h1.2v1.2h-1.2zM106.2 431.4h1.2v1.2h-1.2zM77.2 437.6h1.2v1.2h-1.2zM44.9 435.6h1.2v1.2h-1.2zM68.7 436.1h1.2v1.2h-1.2zM64.1 428.5h1.2v1.2h-1.2zM91.8 413.7h1.2v1.2h-1.2zM78.4 431.5h1.2v1.2h-1.2zM47.9 430.6h1.2v1.2h-1.2zM58.5 417.7h1.2v1.2h-1.2zM106.5 438.2h1.2v1.2h-1.2zM43.0 426.4h1.2v1.2h-1.2zM85.0 429.8h1.2v1.2h-1.2zM79.9 419.5h1.2v1.2h-1.2zM63.8 425.9h1.2v1.2h-1.2zM77.5 425.7h1.2v1.2h-1.2zM104.2 432.9h1.2v1.2h-1.2zM107.4 432.7h1.2v1.2h-1.2zM55.3 423.7h1.2v1.2h-1.2zM79.8 431.0h1.2v1.2h-1.2zM102.7 432.6h1.2v1.2h-1.2zM94.2 418.9h1.2v1.2h-1.2zM80.6 397.3h1.2v1.2h-1.2zM51.6 417.4h1.2v1.2h-1.2zM92.0 426.0h1.2v1.2h-1.2zM90.3 434.2h1.2v1.2h-1.2zM80.1 428.2h1.2v1.2h-1.2zM67.8 425.1h1.2v1.2h-1.2zM75.2 431.4h1.2v1.2h-1.2zM81.3 415.9h1.2v1.2h-1.2zM90.0 435.0h1.2v1.2h-1.2zM48.4 434.8h1.2v1.2h-1.2zM81.4 401.6h1.2v1.2h-1.2zM96.3 422.8h1.2v1.2h-1.2zM115.4 432.9h1.2v1.2h-1.2zM84.4 422.5h1.2v1.2h-1.2zM79.1 405.7h1.2v1.2h-1.2zM115.7 437.8h1.2v1.2h-1.2zM81.4 404.8h1.2v1.2h-1.2zM74.1 418.0h1.2v1.2h-1.2zM116.5 434.1h1.2v1.2h-1.2zM69.1 427.5h1.2v1.2h-1.2zM70.4 438.3h1.2v1.2h-1.2zM72.4 430.9h1.2v1.2h-1.2zM69.4 419.9h1.2v1.2h-1.2zM63.8 411.8h1.2v1.2h-1.2zM59.9 417.7h1.2v1.2h-1.2zM45.9 437.2h1.2v1.2h-1.2zM44.0 433.7h1.2v1.2h-1.2zM57.5 420.5h1.2v1.2h-1.2zM49.4 420.9h1.2v1.2h-1.2zM48.0 424.5h1.2v1.2h-1.2zM50.8 421.6h1.2v1.2h-1.2zM88.3 438.7h1.2v1.2h-1.2zM84.7 418.9h1.2v1.2h-1.2zM83.9 405.3h1.2v1.2h-1.2zM45.4 434.0h1.2v1.2h-1.2zM92.3 419.2h1.2v1.2h-1.2zM70.8 419.9h1.2v1.2h-1.2zM72.8 431.4h1.2v1.2h-1.2zM68.9 422.0h1.2v1.2h-1.2zM90.2 420.4h1.2v1.2h-1.2zM89.6 418.0h1.2v1.2h-1.2zM79.9 401.4h1.2v1.2h-1.2zM70.5 427.7h1.2v1.2h-1.2zM74.6 425.2h1.2v1.2h-1.2zM75.3 438.0h1.2v1.2h-1.2zM50.1 424.0h1.2v1.2h-1.2zM80.4 425.3h1.2v1.2h-1.2zM84.6 415.6h1.2v1.2h-1.2zM99.8 424.5h1.2v1.2h-1.2zM58.7 421.3h1.2v1.2h-1.2zM87.7 408.1h1.2v1.2h-1.2zM83.9 427.2h1.2v1.2h-1.2zM60.8 432.2h1.2v1.2h-1.2zM80.9 426.9h1.2v1.2h-1.2zM73.6 430.1h1.2v1.2h-1.2zM47.4 434.0h1.2v1.2h-1.2zM113.0 437.5h1.2v1.2h-1.2zM70.6 432.5h1.2v1.2h-1.2zM87.1 430.5h1.2v1.2h-1.2zM93.4 421.8h1.2v1.2h-1.2zM75.5 419.1h1.2v1.2h-1.2zM69.2 397.9h1.2v1.2h-1.2zM57.3 418.7h1.2v1.2h-1.2zM71.1 411.5h1.2v1.2h-1.2zM81.7 400.0h1.2v1.2h-1.2zM77.0 432.2h1.2v1.2h-1.2zM98.2 426.9h1.2v1.2h-1.2zM101.0 425.1h1.2v1.2h-1.2zM78.9 433.6h1.2v1.2h-1.2zM88.8 428.8h1.2v1.2h-1.2zM84.3 410.4h1.2v1.2h-1.2zM48.9 428.9h1.2v1.2h-1.2zM67.1 434.1h1.2v1.2h-1.2zM85.5 420.8h1.2v1.2h-1.2zM66.2 416.7h1.2v1.2h-1.2zM106.2 437.6h1.2v1.2h-1.2zM71.3 421.5h1.2v1.2h-1.2zM86.0 418.0h1.2v1.2h-1.2zM72.2 413.0h1.2v1.2h-1.2zM69.4 424.9h1.2v1.2h-1.2zM58.0 428.7h1.2v1.2h-1.2zM82.0 433.9h1.2v1.2h-1.2zM61.8 418.8h1.2v1.2h-1.2zM49.7 433.4h1.2v1.2h-1.2zM88.6 426.6h1.2v1.2h-1.2zM89.7 418.7h1.2v1.2h-1.2zM56.5 425.5h1.2v1.2h-1.2zM80.2 424.0h1.2v1.2h-1.2zM85.3 437.4h1.2v1.2h-1.2zM91.6 434.8h1.2v1.2h-1.2zM111.6 425.4h1.2v1.2h-1.2zM92.1 404.5h1.2v1.2h-1.2zM62.2 413.8h1.2v1.2h-1.2zM67.8 417.8h1.2v1.2h-1.2zM110.1 430.2h1.2v1.2h-1.2zM60.4 426.9h1.2v1.2h-1.2zM90.1 413.2h1.2v1.2h-1.2zM72.1 431.6h1.2v1.2h-1.2zM95.7 433.8h1.2v1.2h-1.2zM90.2 435.3h1.2v1.2h-1.2zM109.2 436.8h1.2v1.2h-1.2zM102.2 428.8h1.2v1.2h-1.2zM91.1 421.8h1.2v1.2h-1.2zM92.4 418.1h1.2v1.2h-1.2zM65.6 404.4h1.2v1.2h-1.2zM85.0 417.0h1.2v1.2h-1.2zM108.9 433.6h1.2v1.2h-1.2zM64.9 422.2h1.2v1.2h-1.2zM70.5 437.0h1.2v1.2h-1.2zM54.6 421.4h1.2v1.2h-1.2zM73.0 403.1h1.2v1.2h-1.2zM64.9 421.7h1.2v1.2h-1.2zM105.9 438.5h1.2v1.2h-1.2zM82.5 413.8h1.2v1.2h-1.2zM82.8 406.6h1.2v1.2h-1.2zM94.7 430.0h1.2v1.2h-1.2zM109.3 434.5h1.2v1.2h-1.2zM88.1 418.4h1.2v1.2h-1.2zM80.9 425.7h1.2v1.2h-1.2zM91.6 420.6h1.2v1.2h-1.2zM75.7 422.7h1.2v1.2h-1.2zM116.4 433.2h1.2v1.2h-1.2zM52.6 422.8h1.2v1.2h-1.2zM70.4 424.9h1.2v1.2h-1.2zM106.1 437.7h1.2v1.2h-1.2zM80.3 425.7h1.2v1.2h-1.2zM79.3 426.5h1.2v1.2h-1.2zM84.9 438.3h1.2v1.2h-1.2zM83.2 403.0h1.2v1.2h-1.2zM110.4 438.3h1.2v1.2h-1.2zM85.7 438.6h1.2v1.2h-1.2zM49.9 423.1h1.2v1.2h-1.2zM76.3 435.7h1.2v1.2h-1.2zM59.7 431.1h1.2v1.2h-1.2zM53.4 431.1h1.2v1.2h-1.2zM51.8 435.2h1.2v1.2h-1.2zM98.7 424.3h1.2v1.2h-1.2zM70.0 427.5h1.2v1.2h-1.2zM55.7 426.1h1.2v1.2h-1.2zM90.7 419.5h1.2v1.2h-1.2zM89.7 425.5h1.2v1.2h-1.2zM100.3 423.9h1.2v1.2h-1.2zM83.6 416.2h1.2v1.2h-1.2zM93.2 437.2h1.2v1.2h-1.2zM48.5 419.5h1.2v1.2h-1.2zM41.5 434.3h1.2v1.2h-1.2zM69.1 427.6h1.2v1.2h-1.2zM88.4 420.1h1.2v1.2h-1.2zM76.6 420.6h1.2v1.2h-1.2zM93.4 438.6h1.2v1.2h-1.2zM91.6 436.8h1.2v1.2h-1.2zM104.8 420.6h1.2v1.2h-1.2zM67.9 409.9h1.2v1.2h-1.2zM101.0 430.1h1.2v1.2h-1.2zM75.6 423.5h1.2v1.2h-1.2zM48.9 435.3h1.2v1.2h-1.2zM98.9 425.1h1.2v1.2h-1.2zM63.3 431.3h1.2v1.2h-1.2zM97.0 414.8h1.2v1.2h-1.2zM89.8 397.3h1.2v1.2h-1.2zM77.7 421.7h1.2v1.2h-1.2zM89.8 409.6h1.2v1.2h-1.2zM104.7 436.4h1.2v1.2h-1.2zM63.8 416.8h1.2v1.2h-1.2zM65.1 420.6h1.2v1.2h-1.2zM57.7 405.5h1.2v1.2h-1.2zM43.1 417.5h1.2v1.2h-1.2zM54.1 422.7h1.2v1.2h-1.2zM82.4 412.0h1.2v1.2h-1.2zM88.7 417.5h1.2v1.2h-1.2zM75.4 427.1h1.2v1.2h-1.2zM82.7 400.9h1.2v1.2h-1.2zM69.2 424.9h1.2v1.2h-1.2zM72.0 416.8h1.2v1.2h-1.2zM66.1 430.9h1.2v1.2h-1.2zM99.2 417.5h1.2v1.2h-1.2zM95.0 422.9h1.2v1.2h-1.2zM82.9 423.2h1.2v1.2h-1.2zM65.2 413.7h1.2v1.2h-1.2zM57.9 425.6h1.2v1.2h-1.2zM100.3 432.1h1.2v1.2h-1.2zM70.2 409.9h1.2v1.2h-1.2zM69.7 427.1h1.2v1.2h-1.2zM76.5 423.9h1.2v1.2h-1.2zM110.1 436.9h1.2v1.2h-1.2zM64.0 403.0h1.2v1.2h-1.2zM79.0 422.9h1.2v1.2h-1.2zM74.5 419.6h1.2v1.2h-1.2zM73.6 412.3h1.2v1.2h-1.2zM95.0 422.7h1.2v1.2h-1.2zM80.8 413.9h1.2v1.2h-1.2zM71.7 427.3h1.2v1.2h-1.2zM93.5 429.0h1.2v1.2h-1.2zM68.5 424.6h1.2v1.2h-1.2zM81.8 406.3h1.2v1.2h-1.2zM72.9 438.8h1.2v1.2h-1.2zM85.8 425.2h1.2v1.2h-1.2zM59.3 427.2h1.2v1.2h-1.2zM98.5 438.4h1.2v1.2h-1.2zM77.1 430.0h1.2v1.2h-1.2zM106.2 435.8h1.2v1.2h-1.2zM75.9 391.5h1.2v1.2h-1.2zM84.8 394.2h1.2v1.2h-1.2zM97.4 435.6h1.2v1.2h-1.2zM79.9 416.6h1.2v1.2h-1.2zM80.2 421.4h1.2v1.2h-1.2zM79.3 416.2h1.2v1.2h-1.2zM82.7 422.6h1.2v1.2h-1.2zM75.7 407.4h1.2v1.2h-1.2zM104.6 425.4h1.2v1.2h-1.2zM73.7 420.7h1.2v1.2h-1.2zM93.2 436.2h1.2v1.2h-1.2zM63.1 417.1h1.2v1.2h-1.2zM76.5 417.0h1.2v1.2h-1.2zM102.0 437.9h1.2v1.2h-1.2zM72.5 428.3h1.2v1.2h-1.2zM47.2 434.5h1.2v1.2h-1.2zM84.4 419.0h1.2v1.2h-1.2zM79.5 434.9h1.2v1.2h-1.2zM62.2 428.3h1.2v1.2h-1.2zM92.9 408.1h1.2v1.2h-1.2zM66.8 423.6h1.2v1.2h-1.2zM89.2 427.1h1.2v1.2h-1.2zM82.7 419.3h1.2v1.2h-1.2zM93.8 404.5h1.2v1.2h-1.2zM81.3 434.6h1.2v1.2h-1.2zM90.2 436.4h1.2v1.2h-1.2zM48.0 429.7h1.2v1.2h-1.2zM50.2 425.3h1.2v1.2h-1.2zM100.8 434.9h1.2v1.2h-1.2zM78.8 410.8h1.2v1.2h-1.2zM78.4 416.3h1.2v1.2h-1.2zM100.5 416.4h1.2v1.2h-1.2zM72.1 428.9h1.2v1.2h-1.2zM83.0 430.1h1.2v1.2h-1.2zM42.2 426.2h1.2v1.2h-1.2zM81.2 402.7h1.2v1.2h-1.2zM69.3 429.2h1.2v1.2h-1.2zM87.7 430.9h1.2v1.2h-1.2zM70.5 433.5h1.2v1.2h-1.2zM78.6 432.8h1.2v1.2h-1.2zM99.0 434.5h1.2v1.2h-1.2zM83.2 421.4h1.2v1.2h-1.2zM49.2 420.5h1.2v1.2h-1.2zM66.3 403.2h1.2v1.2h-1.2zM78.6 418.4h1.2v1.2h-1.2zM94.6 408.8h1.2v1.2h-1.2zM60.7 414.4h1.2v1.2h-1.2zM62.7 436.8h1.2v1.2h-1.2zM84.1 417.1h1.2v1.2h-1.2zM98.7 403.6h1.2v1.2h-1.2zM77.1 410.9h1.2v1.2h-1.2zM46.1 431.1h1.2v1.2h-1.2zM107.8 422.6h1.2v1.2h-1.2zM94.2 438.6h1.2v1.2h-1.2zM102.4 427.9h1.2v1.2h-1.2zM83.7 432.3h1.2v1.2h-1.2zM92.6 429.5h1.2v1.2h-1.2zM74.4 428.0h1.2v1.2h-1.2zM70.5 405.4h1.2v1.2h-1.2zM85.4 429.9h1.2v1.2h-1.2zM91.8 429.6h1.2v1.2h-1.2zM66.7 431.6h1.2v1.2h-1.2zM67.8 417.2h1.2v1.2h-1.2zM78.8 436.5h1.2v1.2h-1.2zM102.1 428.0h1.2v1.2h-1.2zM100.2 437.1h1.2v1.2h-1.2zM65.4 422.0h1.2v1.2h-1.2zM104.7 436.7h1.2v1.2h-1.2zM79.9 406.6h1.2v1.2h-1.2zM70.1 427.1h1.2v1.2h-1.2zM54.1 427.8h1.2v1.2h-1.2zM79.0 424.0h1.2v1.2h-1.2zM58.2 401.4h1.2v1.2h-1.2zM102.7 414.7h1.2v1.2h-1.2zM60.1 425.5h1.2v1.2h-1.2zM85.1 422.9h1.2v1.2h-1.2zM86.5 424.2h1.2v1.2h-1.2zM56.0 435.2h1.2v1.2h-1.2zM105.8 436.9h1.2v1.2h-1.2zM70.9 426.6h1.2v1.2h-1.2zM64.8 408.7h1.2v1.2h-1.2zM103.7 429.3h1.2v1.2h-1.2zM108.3 428.0h1.2v1.2h-1.2zM63.8 412.3h1.2v1.2h-1.2zM100.6 437.2h1.2v1.2h-1.2zM58.3 428.4h1.2v1.2h-1.2zM75.3 408.5h1.2v1.2h-1.2zM92.0 424.7h1.2v1.2h-1.2zM74.4 430.6h1.2v1.2h-1.2zM80.6 405.9h1.2v1.2h-1.2zM101.6 438.4h1.2v1.2h-1.2zM71.7 401.9h1.2v1.2h-1.2zM74.2 397.2h1.2v1.2h-1.2zM64.0 427.6h1.2v1.2h-1.2zM63.7 427.7h1.2v1.2h-1.2zM71.9 425.2h1.2v1.2h-1.2zM54.0 433.1h1.2v1.2h-1.2zM75.9 418.0h1.2v1.2h-1.2zM81.3 421.9h1.2v1.2h-1.2zM86.2 438.9h1.2v1.2h-1.2zM109.9 423.1h1.2v1.2h-1.2zM63.5 428.4h1.2v1.2h-1.2zM96.2 414.4h1.2v1.2h-1.2zM87.9 429.7h1.2v1.2h-1.2zM88.4 414.5h1.2v1.2h-1.2zM51.0 427.4h1.2v1.2h-1.2zM83.8 409.0h1.2v1.2h-1.2zM99.7 426.3h1.2v1.2h-1.2zM80.2 423.5h1.2v1.2h-1.2zM55.3 428.0h1.2v1.2h-1.2zM103.5 422.0h1.2v1.2h-1.2zM72.2 411.0h1.2v1.2h-1.2zM93.1 401.1h1.2v1.2h-1.2zM71.5 437.7h1.2v1.2h-1.2zM71.0 399.8h1.2v1.2h-1.2zM71.5 429.8h1.2v1.2h-1.2zM114.9 437.3h1.2v1.2h-1.2zM80.3 422.6h1.2v1.2h-1.2zM100.5 431.5h1.2v1.2h-1.2zM100.8 435.9h1.2v1.2h-1.2zM88.2 418.4h1.2v1.2h-1.2zM71.0 431.1h1.2v1.2h-1.2zM88.5 422.0h1.2v1.2h-1.2zM53.5 428.1h1.2v1.2h-1.2zM96.2 427.7h1.2v1.2h-1.2zM73.4 432.3h1.2v1.2h-1.2zM88.0 433.7h1.2v1.2h-1.2zM75.3 432.9h1.2v1.2h-1.2zM92.5 435.8h1.2v1.2h-1.2zM79.4 418.7h1.2v1.2h-1.2zM61.0 415.4h1.2v1.2h-1.2zM99.9 421.5h1.2v1.2h-1.2zM90.7 426.3h1.2v1.2h-1.2zM94.0 420.3h1.2v1.2h-1.2zM80.8 439.0h1.2v1.2h-1.2zM88.6 429.5h1.2v1.2h-1.2zM115.3 435.9h1.2v1.2h-1.2zM42.8 423.7h1.2v1.2h-1.2zM76.1 422.6h1.2v1.2h-1.2zM91.3 437.5h1.2v1.2h-1.2zM93.6 422.2h1.2v1.2h-1.2zM60.9 423.4h1.2v1.2h-1.2zM101.8 431.4h1.2v1.2h-1.2zM103.8 422.3h1.2v1.2h-1.2zM86.0 432.2h1.2v1.2h-1.2zM74.8 426.6h1.2v1.2h-1.2zM76.8 415.5h1.2v1.2h-1.2zM62.8 411.0h1.2v1.2h-1.2zM80.8 409.8h1.2v1.2h-1.2zM93.3 424.6h1.2v1.2h-1.2zM86.5 417.7h1.2v1.2h-1.2zM72.6 427.9h1.2v1.2h-1.2zM50.9 423.0h1.2v1.2h-1.2zM75.4 402.9h1.2v1.2h-1.2zM102.7 435.3h1.2v1.2h-1.2zM57.4 438.3h1.2v1.2h-1.2zM66.1 437.6h1.2v1.2h-1.2zM57.9 417.1h1.2v1.2h-1.2zM51.0 421.5h1.2v1.2h-1.2zM55.0 425.7h1.2v1.2h-1.2zM72.8 423.0h1.2v1.2h-1.2zM80.0 432.3h1.2v1.2h-1.2zM77.5 422.0h1.2v1.2h-1.2zM89.2 415.2h1.2v1.2h-1.2zM63.2 436.8h1.2v1.2h-1.2zM78.5 433.3h1.2v1.2h-1.2zM80.5 433.5h1.2v1.2h-1.2zM78.0 416.3h1.2v1.2h-1.2zM61.3 435.7h1.2v1.2h-1.2zM104.6 429.2h1.2v1.2h-1.2zM86.1 424.2h1.2v1.2h-1.2zM84.2 418.3h1.2v1.2h-1.2zM82.3 393.3h1.2v1.2h-1.2zM78.5 398.0h1.2v1.2h-1.2zM82.7 414.6h1.2v1.2h-1.2zM102.9 425.1h1.2v1.2h-1.2zM102.8 437.0h1.2v1.2h-1.2zM75.2 425.3h1.2v1.2h-1.2zM78.4 425.0h1.2v1.2h-1.2zM110.6 434.7h1.2v1.2h-1.2zM85.6 394.1h1.2v1.2h-1.2zM75.3 413.5h1.2v1.2h-1.2zM91.6 437.5h1.2v1.2h-1.2zM55.1 434.9h1.2v1.2h-1.2zM103.3 431.8h1.2v1.2h-1.2zM100.1 419.4h1.2v1.2h-1.2zM100.1 417.0h1.2v1.2h-1.2zM88.2 423.6h1.2v1.2h-1.2zM76.6 419.3h1.2v1.2h-1.2zM69.7 417.5h1.2v1.2h-1.2zM53.0 433.9h1.2v1.2h-1.2zM81.2 428.7h1.2v1.2h-1.2zM61.6 420.4h1.2v1.2h-1.2zM68.5 426.3h1.2v1.2h-1.2zM61.2 425.6h1.2v1.2h-1.2zM65.2 424.6h1.2v1.2h-1.2zM98.5 429.9h1.2v1.2h-1.2zM79.0 420.1h1.2v1.2h-1.2zM99.7 423.4h1.2v1.2h-1.2zM72.9 422.4h1.2v1.2h-1.2zM85.6 418.0h1.2v1.2h-1.2zM48.3 436.8h1.2v1.2h-1.2zM87.6 407.4h1.2v1.2h-1.2zM99.1 406.2h1.2v1.2h-1.2zM89.3 433.6h1.2v1.2h-1.2zM87.1 413.8h1.2v1.2h-1.2zM49.4 419.4h1.2v1.2h-1.2zM93.1 419.4h1.2v1.2h-1.2zM76.1 433.7h1.2v1.2h-1.2zM71.1 412.1h1.2v1.2h-1.2zM98.9 433.7h1.2v1.2h-1.2zM84.1 426.0h1.2v1.2h-1.2zM56.3 424.6h1.2v1.2h-1.2zM95.2 417.0h1.2v1.2h-1.2zM80.1 423.7h1.2v1.2h-1.2zM66.1 427.4h1.2v1.2h-1.2zM69.5 429.0h1.2v1.2h-1.2zM66.4 413.3h1.2v1.2h-1.2zM87.8 421.3h1.2v1.2h-1.2zM88.3 417.9h1.2v1.2h-1.2zM58.1 423.6h1.2v1.2h-1.2zM76.0 399.4h1.2v1.2h-1.2zM60.5 407.1h1.2v1.2h-1.2zM59.5 414.6h1.2v1.2h-1.2zM65.1 423.9h1.2v1.2h-1.2zM72.2 416.6h1.2v1.2h-1.2zM73.1 427.2h1.2v1.2h-1.2zM92.2 430.7h1.2v1.2h-1.2zM81.4 430.6h1.2v1.2h-1.2zM86.8 423.8h1.2v1.2h-1.2zM68.7 429.9h1.2v1.2h-1.2zM67.7 433.8h1.2v1.2h-1.2zM90.8 419.7h1.2v1.2h-1.2zM114.1 438.2h1.2v1.2h-1.2zM75.5 430.5h1.2v1.2h-1.2zM69.5 409.0h1.2v1.2h-1.2zM100.2 427.1h1.2v1.2h-1.2zM88.0 428.8h1.2v1.2h-1.2zM61.5 404.4h1.2v1.2h-1.2zM43.7 437.5h1.2v1.2h-1.2zM82.1 421.1h1.2v1.2h-1.2zM75.7 421.1h1.2v1.2h-1.2zM72.3 432.6h1.2v1.2h-1.2zM58.0 423.2h1.2v1.2h-1.2zM76.5 418.0h1.2v1.2h-1.2zM87.5 433.8h1.2v1.2h-1.2zM78.4 430.4h1.2v1.2h-1.2zM92.8 425.2h1.2v1.2h-1.2zM89.8 429.3h1.2v1.2h-1.2zM89.4 419.8h1.2v1.2h-1.2zM61.5 419.8h1.2v1.2h-1.2zM108.9 433.9h1.2v1.2h-1.2zM80.2 432.3h1.2v1.2h-1.2zM46.7 422.1h1.2v1.2h-1.2zM75.8 433.6h1.2v1.2h-1.2zM84.2 413.8h1.2v1.2h-1.2zM78.4 411.3h1.2v1.2h-1.2zM82.3 403.6h1.2v1.2h-1.2zM82.9 409.9h1.2v1.2h-1.2zM55.9 426.6h1.2v1.2h-1.2zM108.3 433.3h1.2v1.2h-1.2zM54.3 421.3h1.2v1.2h-1.2zM53.2 421.0h1.2v1.2h-1.2zM105.7 419.3h1.2v1.2h-1.2zM101.0 423.3h1.2v1.2h-1.2zM71.2 433.0h1.2v1.2h-1.2zM96.2 422.7h1.2v1.2h-1.2zM104.7 434.8h1.2v1.2h-1.2zM79.7 409.2h1.2v1.2h-1.2zM95.4 432.3h1.2v1.2h-1.2zM73.2 417.1h1.2v1.2h-1.2zM91.7 415.8h1.2v1.2h-1.2zM87.8 428.1h1.2v1.2h-1.2zM88.7 421.8h1.2v1.2h-1.2zM62.1 409.5h1.2v1.2h-1.2zM91.8 438.5h1.2v1.2h-1.2zM104.3 413.9h1.2v1.2h-1.2zM103.4 428.7h1.2v1.2h-1.2zM98.5 414.9h1.2v1.2h-1.2zM91.9 415.6h1.2v1.2h-1.2zM82.2 426.1h1.2v1.2h-1.2zM65.4 430.7h1.2v1.2h-1.2zM56.9 434.6h1.2v1.2h-1.2zM87.8 437.3h1.2v1.2h-1.2zM83.3 436.8h1.2v1.2h-1.2zM107.8 428.9h1.2v1.2h-1.2zM68.1 406.3h1.2v1.2h-1.2zM78.7 425.9h1.2v1.2h-1.2zM107.6 431.1h1.2v1.2h-1.2zM69.4 435.5h1.2v1.2h-1.2zM80.3 438.2h1.2v1.2h-1.2zM97.9 435.0h1.2v1.2h-1.2zM93.1 407.1h1.2v1.2h-1.2zM77.4 405.7h1.2v1.2h-1.2zM59.7 412.1h1.2v1.2h-1.2zM86.9 425.7h1.2v1.2h-1.2zM67.2 418.0h1.2v1.2h-1.2zM57.9 419.4h1.2v1.2h-1.2zM95.2 408.3h1.2v1.2h-1.2zM86.4 427.4h1.2v1.2h-1.2zM113.3 430.1h1.2v1.2h-1.2zM115.4 436.6h1.2v1.2h-1.2zM88.7 423.8h1.2v1.2h-1.2zM88.3 429.7h1.2v1.2h-1.2zM62.0 427.1h1.2v1.2h-1.2zM93.6 435.5h1.2v1.2h-1.2zM67.3 412.7h1.2v1.2h-1.2zM61.2 423.7h1.2v1.2h-1.2zM97.8 423.4h1.2v1.2h-1.2zM87.2 422.0h1.2v1.2h-1.2zM67.3 413.6h1.2v1.2h-1.2zM72.0 425.9h1.2v1.2h-1.2zM110.7 436.0h1.2v1.2h-1.2zM93.1 420.0h1.2v1.2h-1.2zM46.5 420.4h1.2v1.2h-1.2zM64.8 423.9h1.2v1.2h-1.2zM74.4 416.7h1.2v1.2h-1.2zM86.5 421.8h1.2v1.2h-1.2zM87.9 411.1h1.2v1.2h-1.2zM49.4 426.7h1.2v1.2h-1.2zM88.6 429.0h1.2v1.2h-1.2zM73.0 419.2h1.2v1.2h-1.2zM74.1 439.0h1.2v1.2h-1.2zM91.7 416.5h1.2v1.2h-1.2zM83.6 424.5h1.2v1.2h-1.2zM69.1 413.5h1.2v1.2h-1.2zM59.5 415.6h1.2v1.2h-1.2zM95.7 437.2h1.2v1.2h-1.2zM82.0 430.9h1.2v1.2h-1.2zM43.9 425.9h1.2v1.2h-1.2zM80.2 407.9h1.2v1.2h-1.2zM91.1 416.7h1.2v1.2h-1.2zM82.8 409.9h1.2v1.2h-1.2zM101.7 435.1h1.2v1.2h-1.2zM95.8 410.7h1.2v1.2h-1.2zM68.7 410.5h1.2v1.2h-1.2zM95.7 406.1h1.2v1.2h-1.2zM106.2 425.0h1.2v1.2h-1.2zM51.4 423.0h1.2v1.2h-1.2zM79.8 409.6h1.2v1.2h-1.2zM82.7 408.9h1.2v1.2h-1.2zM78.8 411.0h1.2v1.2h-1.2zM60.0 423.8h1.2v1.2h-1.2zM78.9 432.7h1.2v1.2h-1.2zM74.3 398.9h1.2v1.2h-1.2zM74.3 409.2h1.2v1.2h-1.2zM102.4 419.9h1.2v1.2h-1.2zM44.7 435.4h1.2v1.2h-1.2zM60.7 407.6h1.2v1.2h-1.2zM102.5 437.2h1.2v1.2h-1.2zM77.1 425.3h1.2v1.2h-1.2zM81.5 435.8h1.2v1.2h-1.2zM82.4 404.6h1.2v1.2h-1.2zM95.4 426.8h1.2v1.2h-1.2zM79.0 425.4h1.2v1.2h-1.2zM68.4 422.4h1.2v1.2h-1.2zM75.1 417.2h1.2v1.2h-1.2zM88.4 437.5h1.2v1.2h-1.2zM65.2 434.6h1.2v1.2h-1.2zM108.2 431.0h1.2v1.2h-1.2zM78.0 434.5h1.2v1.2h-1.2zM63.5 435.7h1.2v1.2h-1.2zM87.1 426.0h1.2v1.2h-1.2zM115.2 436.1h1.2v1.2h-1.2zM72.4 417.7h1.2v1.2h-1.2zM100.1 429.3h1.2v1.2h-1.2zM88.0 422.8h1.2v1.2h-1.2zM89.5 435.2h1.2v1.2h-1.2zM55.0 435.6h1.2v1.2h-1.2zM78.4 416.5h1.2v1.2h-1.2zM86.5 418.6h1.2v1.2h-1.2zM105.0 429.5h1.2v1.2h-1.2zM72.4 432.2h1.2v1.2h-1.2zM76.3 401.2h1.2v1.2h-1.2zM104.8 421.6h1.2v1.2h-1.2zM73.3 412.7h1.2v1.2h-1.2zM104.3 423.6h1.2v1.2h-1.2zM71.5 417.8h1.2v1.2h-1.2zM81.3 402.5h1.2v1.2h-1.2zM75.2 406.5h1.2v1.2h-1.2zM101.9 434.6h1.2v1.2h-1.2zM78.1 429.0h1.2v1.2h-1.2zM82.0 429.4h1.2v1.2h-1.2zM89.4 408.1h1.2v1.2h-1.2zM62.7 415.3h1.2v1.2h-1.2zM77.5 429.2h1.2v1.2h-1.2zM91.3 427.0h1.2v1.2h-1.2zM88.0 421.6h1.2v1.2h-1.2zM95.6 419.2h1.2v1.2h-1.2zM73.3 438.3h1.2v1.2h-1.2zM58.8 414.8h1.2v1.2h-1.2zM99.6 435.1h1.2v1.2h-1.2zM92.9 418.9h1.2v1.2h-1.2zM89.2 437.0h1.2v1.2h-1.2zM46.8 418.6h1.2v1.2h-1.2zM107.3 437.3h1.2v1.2h-1.2zM87.7 394.0h1.2v1.2h-1.2zM46.4 426.7h1.2v1.2h-1.2zM96.9 423.3h1.2v1.2h-1.2zM75.2 413.2h1.2v1.2h-1.2zM70.6 420.3h1.2v1.2h-1.2zM94.0 416.2h1.2v1.2h-1.2zM94.9 433.5h1.2v1.2h-1.2zM73.6 432.5h1.2v1.2h-1.2zM71.7 418.0h1.2v1.2h-1.2zM88.3 420.2h1.2v1.2h-1.2zM74.1 414.2h1.2v1.2h-1.2zM69.5 428.1h1.2v1.2h-1.2zM53.1 430.5h1.2v1.2h-1.2zM80.1 434.5h1.2v1.2h-1.2zM83.1 407.2h1.2v1.2h-1.2zM92.3 424.6h1.2v1.2h-1.2zM76.9 407.0h1.2v1.2h-1.2zM64.8 434.0h1.2v1.2h-1.2zM43.6 418.3h1.2v1.2h-1.2zM114.1 437.0h1.2v1.2h-1.2zM83.0 413.4h1.2v1.2h-1.2zM84.4 422.1h1.2v1.2h-1.2zM100.3 434.7h1.2v1.2h-1.2zM74.1 414.0h1.2v1.2h-1.2zM79.5 393.7h1.2v1.2h-1.2zM89.6 432.4h1.2v1.2h-1.2zM95.6 416.5h1.2v1.2h-1.2zM49.5 432.4h1.2v1.2h-1.2zM55.5 426.9h1.2v1.2h-1.2zM78.2 405.5h1.2v1.2h-1.2zM103.0 436.0h1.2v1.2h-1.2zM94.5 426.4h1.2v1.2h-1.2zM81.9 422.1h1.2v1.2h-1.2zM70.3 437.6h1.2v1.2h-1.2zM87.2 422.1h1.2v1.2h-1.2zM100.4 436.5h1.2v1.2h-1.2zM77.9 400.6h1.2v1.2h-1.2zM77.0 398.0h1.2v1.2h-1.2zM82.9 431.7h1.2v1.2h-1.2zM59.9 435.5h1.2v1.2h-1.2zM97.6 438.4h1.2v1.2h-1.2zM82.3 421.6h1.2v1.2h-1.2zM85.8 410.6h1.2v1.2h-1.2zM88.8 419.0h1.2v1.2h-1.2zM70.1 419.2h1.2v1.2h-1.2zM71.7 419.3h1.2v1.2h-1.2zM94.9 426.7h1.2v1.2h-1.2zM57.1 436.5h1.2v1.2h-1.2zM95.8 426.6h1.2v1.2h-1.2zM88.4 411.5h1.2v1.2h-1.2zM107.1 429.8h1.2v1.2h-1.2zM91.5 426.7h1.2v1.2h-1.2zM86.6 397.7h1.2v1.2h-1.2zM45.7 412.7h1.2v1.2h-1.2zM53.7 436.2h1.2v1.2h-1.2zM82.6 422.1h1.2v1.2h-1.2zM53.4 417.2h1.2v1.2h-1.2zM66.4 432.9h1.2v1.2h-1.2zM103.5 428.7h1.2v1.2h-1.2zM60.4 432.4h1.2v1.2h-1.2zM97.8 431.0h1.2v1.2h-1.2zM96.2 431.3h1.2v1.2h-1.2zM73.9 419.1h1.2v1.2h-1.2zM56.6 418.2h1.2v1.2h-1.2zM70.1 434.8h1.2v1.2h-1.2zM105.9 438.1h1.2v1.2h-1.2zM82.9 415.7h1.2v1.2h-1.2zM79.0 415.6h1.2v1.2h-1.2zM64.4 435.8h1.2v1.2h-1.2zM78.1 422.2h1.2v1.2h-1.2zM49.8 429.9h1.2v1.2h-1.2zM91.1 426.2h1.2v1.2h-1.2zM82.0 403.4h1.2v1.2h-1.2zM54.5 428.2h1.2v1.2h-1.2zM46.5 425.5h1.2v1.2h-1.2zM86.8 428.3h1.2v1.2h-1.2zM74.3 437.4h1.2v1.2h-1.2zM77.7 420.2h1.2v1.2h-1.2zM72.4 416.1h1.2v1.2h-1.2zM87.3 435.1h1.2v1.2h-1.2zM94.6 435.0h1.2v1.2h-1.2zM88.4 421.1h1.2v1.2h-1.2zM82.2 390.5h1.2v1.2h-1.2zM84.7 417.2h1.2v1.2h-1.2zM83.0 424.9h1.2v1.2h-1.2zM54.8 430.4h1.2v1.2h-1.2zM72.4 433.4h1.2v1.2h-1.2zM44.4 434.4h1.2v1.2h-1.2zM57.4 409.8h1.2v1.2h-1.2zM86.4 409.5h1.2v1.2h-1.2zM92.0 419.4h1.2v1.2h-1.2zM65.1 427.4h1.2v1.2h-1.2zM45.3 429.8h1.2v1.2h-1.2zM82.0 421.4h1.2v1.2h-1.2zM69.3 409.7h1.2v1.2h-1.2zM78.0 425.1h1.2v1.2h-1.2zM79.2 426.0h1.2v1.2h-1.2zM69.3 434.9h1.2v1.2h-1.2zM75.5 414.6h1.2v1.2h-1.2zM67.9 428.5h1.2v1.2h-1.2zM44.0 436.7h1.2v1.2h-1.2zM89.4 437.4h1.2v1.2h-1.2zM78.3 399.7h1.2v1.2h-1.2zM88.2 406.8h1.2v1.2h-1.2zM72.5 426.3h1.2v1.2h-1.2zM82.5 413.9h1.2v1.2h-1.2zM56.5 411.3h1.2v1.2h-1.2zM62.8 430.3h1.2v1.2h-1.2zM75.8 415.1h1.2v1.2h-1.2zM64.1 421.6h1.2v1.2h-1.2zM56.9 434.5h1.2v1.2h-1.2zM72.6 436.7h1.2v1.2h-1.2zM48.1 431.5h1.2v1.2h-1.2zM68.4 433.0h1.2v1.2h-1.2zM68.4 436.8h1.2v1.2h-1.2zM82.3 406.8h1.2v1.2h-1.2zM105.1 430.0h1.2v1.2h-1.2zM70.6 433.4h1.2v1.2h-1.2zM63.0 413.1h1.2v1.2h-1.2zM80.9 398.7h1.2v1.2h-1.2zM79.0 428.7h1.2v1.2h-1.2zM84.3 422.3h1.2v1.2h-1.2zM98.1 430.6h1.2v1.2h-1.2zM49.3 422.7h1.2v1.2h-1.2zM106.6 429.0h1.2v1.2h-1.2zM91.6 426.9h1.2v1.2h-1.2zM107.4 434.9h1.2v1.2h-1.2zM58.7 407.8h1.2v1.2h-1.2zM61.5 437.2h1.2v1.2h-1.2zM76.2 433.4h1.2v1.2h-1.2zM43.0 414.4h1.2v1.2h-1.2zM54.7 426.5h1.2v1.2h-1.2zM86.9 414.4h1.2v1.2h-1.2zM93.3 416.5h1.2v1.2h-1.2zM90.3 417.6h1.2v1.2h-1.2zM75.8 417.2h1.2v1.2h-1.2zM79.3 424.5h1.2v1.2h-1.2zM102.2 433.8h1.2v1.2h-1.2zM70.5 434.4h1.2v1.2h-1.2zM64.3 433.1h1.2v1.2h-1.2zM72.3 423.8h1.2v1.2h-1.2zM77.5 421.8h1.2v1.2h-1.2zM45.6 435.1h1.2v1.2h-1.2zM42.4 428.4h1.2v1.2h-1.2zM69.2 425.1h1.2v1.2h-1.2zM66.7 438.9h1.2v1.2h-1.2zM105.2 431.4h1.2v1.2h-1.2zM110.0 435.4h1.2v1.2h-1.2zM59.1 426.7h1.2v1.2h-1.2zM102.7 434.7h1.2v1.2h-1.2zM69.2 416.3h1.2v1.2h-1.2zM79.3 420.5h1.2v1.2h-1.2zM47.4 432.0h1.2v1.2h-1.2zM72.8 404.5h1.2v1.2h-1.2zM80.8 420.0h1.2v1.2h-1.2zM90.4 415.4h1.2v1.2h-1.2zM98.0 437.8h1.2v1.2h-1.2zM102.1 431.9h1.2v1.2h-1.2zM78.4 391.8h1.2v1.2h-1.2zM52.1 425.0h1.2v1.2h-1.2zM95.7 426.5h1.2v1.2h-1.2zM88.6 407.1h1.2v1.2h-1.2zM72.6 423.6h1.2v1.2h-1.2zM94.9 416.8h1.2v1.2h-1.2zM104.2 434.2h1.2v1.2h-1.2zM41.1 423.2h1.2v1.2h-1.2zM80.5 430.4h1.2v1.2h-1.2zM101.1 433.9h1.2v1.2h-1.2zM74.2 419.3h1.2v1.2h-1.2zM48.4 429.8h1.2v1.2h-1.2zM213.1 408.1h1.2v1.2h-1.2zM162.3 394.9h1.2v1.2h-1.2zM199.2 389.9h1.2v1.2h-1.2zM176.9 421.9h1.2v1.2h-1.2zM195.6 435.1h1.2v1.2h-1.2zM194.7 380.7h1.2v1.2h-1.2zM213.7 425.2h1.2v1.2h-1.2zM195.7 406.2h1.2v1.2h-1.2zM169.1 420.3h1.2v1.2h-1.2zM192.8 422.0h1.2v1.2h-1.2zM178.6 407.0h1.2v1.2h-1.2zM202.5 433.9h1.2v1.2h-1.2zM198.4 403.8h1.2v1.2h-1.2zM170.5 401.1h1.2v1.2h-1.2zM190.6 416.6h1.2v1.2h-1.2zM174.4 397.5h1.2v1.2h-1.2zM199.4 402.1h1.2v1.2h-1.2zM191.8 389.5h1.2v1.2h-1.2zM165.0 389.9h1.2v1.2h-1.2zM190.8 416.6h1.2v1.2h-1.2zM155.1 428.2h1.2v1.2h-1.2zM199.0 383.4h1.2v1.2h-1.2zM205.2 434.3h1.2v1.2h-1.2zM176.3 417.7h1.2v1.2h-1.2zM169.0 379.3h1.2v1.2h-1.2zM191.2 383.4h1.2v1.2h-1.2zM192.0 439.6h1.2v1.2h-1.2zM163.1 433.2h1.2v1.2h-1.2zM199.9 384.2h1.2v1.2h-1.2zM200.2 386.1h1.2v1.2h-1.2zM163.9 392.7h1.2v1.2h-1.2zM176.8 403.2h1.2v1.2h-1.2zM187.3 438.6h1.2v1.2h-1.2zM173.3 436.0h1.2v1.2h-1.2zM178.9 407.4h1.2v1.2h-1.2zM188.7 403.1h1.2v1.2h-1.2zM160.6 385.6h1.2v1.2h-1.2zM170.3 397.5h1.2v1.2h-1.2zM159.7 429.4h1.2v1.2h-1.2zM197.3 419.2h1.2v1.2h-1.2zM197.0 404.5h1.2v1.2h-1.2zM211.2 433.0h1.2v1.2h-1.2zM169.4 437.8h1.2v1.2h-1.2zM179.3 420.9h1.2v1.2h-1.2zM172.9 418.3h1.2v1.2h-1.2zM185.8 405.6h1.2v1.2h-1.2zM161.1 394.6h1.2v1.2h-1.2zM201.6 407.1h1.2v1.2h-1.2zM188.4 416.3h1.2v1.2h-1.2zM198.0 430.6h1.2v1.2h-1.2zM171.8 425.9h1.2v1.2h-1.2zM181.6 429.2h1.2v1.2h-1.2zM195.6 389.0h1.2v1.2h-1.2zM162.2 437.2h1.2v1.2h-1.2zM168.5 428.6h1.2v1.2h-1.2zM199.0 390.5h1.2v1.2h-1.2zM171.0 435.6h1.2v1.2h-1.2zM185.7 381.9h1.2v1.2h-1.2zM192.1 380.1h1.2v1.2h-1.2zM192.7 401.5h1.2v1.2h-1.2zM158.2 424.6h1.2v1.2h-1.2zM204.3 385.2h1.2v1.2h-1.2zM204.5 388.7h1.2v1.2h-1.2zM165.2 415.3h1.2v1.2h-1.2zM181.5 403.3h1.2v1.2h-1.2zM195.4 438.9h1.2v1.2h-1.2zM203.9 417.6h1.2v1.2h-1.2zM173.1 423.4h1.2v1.2h-1.2zM178.3 415.2h1.2v1.2h-1.2zM185.2 421.1h1.2v1.2h-1.2zM193.5 378.8h1.2v1.2h-1.2zM171.3 427.3h1.2v1.2h-1.2zM170.4 422.7h1.2v1.2h-1.2zM188.1 439.1h1.2v1.2h-1.2zM185.0 424.5h1.2v1.2h-1.2zM201.1 439.3h1.2v1.2h-1.2zM168.8 427.3h1.2v1.2h-1.2zM171.3 432.0h1.2v1.2h-1.2zM183.8 423.5h1.2v1.2h-1.2zM157.0 425.4h1.2v1.2h-1.2zM177.7 430.7h1.2v1.2h-1.2zM199.6 440.0h1.2v1.2h-1.2zM194.7 433.0h1.2v1.2h-1.2zM184.1 413.2h1.2v1.2h-1.2zM202.5 429.7h1.2v1.2h-1.2zM185.8 428.1h1.2v1.2h-1.2zM197.1 416.9h1.2v1.2h-1.2zM155.4 429.9h1.2v1.2h-1.2zM184.8 422.2h1.2v1.2h-1.2zM201.3 389.7h1.2v1.2h-1.2zM169.7 436.0h1.2v1.2h-1.2zM190.6 399.2h1.2v1.2h-1.2zM200.0 419.3h1.2v1.2h-1.2zM171.3 379.3h1.2v1.2h-1.2zM185.6 382.8h1.2v1.2h-1.2zM165.7 384.1h1.2v1.2h-1.2zM174.2 434.0h1.2v1.2h-1.2zM190.3 388.3h1.2v1.2h-1.2zM182.6 431.8h1.2v1.2h-1.2zM178.0 402.0h1.2v1.2h-1.2zM183.2 421.0h1.2v1.2h-1.2zM164.2 383.1h1.2v1.2h-1.2zM195.5 416.8h1.2v1.2h-1.2zM202.8 389.6h1.2v1.2h-1.2zM185.7 404.9h1.2v1.2h-1.2zM209.0 430.8h1.2v1.2h-1.2zM196.9 411.7h1.2v1.2h-1.2zM187.8 409.1h1.2v1.2h-1.2zM183.8 438.3h1.2v1.2h-1.2zM190.3 394.1h1.2v1.2h-1.2zM174.7 435.4h1.2v1.2h-1.2zM171.0 433.1h1.2v1.2h-1.2zM201.7 423.4h1.2v1.2h-1.2zM184.8 384.3h1.2v1.2h-1.2zM205.7 436.6h1.2v1.2h-1.2zM191.6 407.7h1.2v1.2h-1.2zM182.0 386.1h1.2v1.2h-1.2zM191.3 397.8h1.2v1.2h-1.2zM185.7 400.2h1.2v1.2h-1.2zM185.8 399.6h1.2v1.2h-1.2zM204.4 410.9h1.2v1.2h-1.2zM205.3 424.8h1.2v1.2h-1.2zM153.5 414.7h1.2v1.2h-1.2zM202.3 379.4h1.2v1.2h-1.2zM194.2 412.3h1.2v1.2h-1.2zM183.9 385.1h1.2v1.2h-1.2zM183.9 403.8h1.2v1.2h-1.2zM190.8 430.9h1.2v1.2h-1.2zM191.6 416.3h1.2v1.2h-1.2zM160.2 390.7h1.2v1.2h-1.2zM172.6 390.2h1.2v1.2h-1.2zM208.5 415.2h1.2v1.2h-1.2zM173.9 422.9h1.2v1.2h-1.2zM208.0 411.8h1.2v1.2h-1.2zM192.1 382.2h1.2v1.2h-1.2zM187.2 423.5h1.2v1.2h-1.2zM154.9 438.7h1.2v1.2h-1.2zM194.2 425.5h1.2v1.2h-1.2zM204.8 429.5h1.2v1.2h-1.2zM195.1 398.5h1.2v1.2h-1.2zM168.4 398.8h1.2v1.2h-1.2zM156.2 414.7h1.2v1.2h-1.2zM184.6 396.8h1.2v1.2h-1.2zM206.3 422.0h1.2v1.2h-1.2zM197.3 407.8h1.2v1.2h-1.2zM180.8 417.6h1.2v1.2h-1.2zM196.6 384.8h1.2v1.2h-1.2zM213.0 407.7h1.2v1.2h-1.2zM173.9 430.2h1.2v1.2h-1.2zM184.4 396.6h1.2v1.2h-1.2zM173.7 427.9h1.2v1.2h-1.2zM190.5 426.9h1.2v1.2h-1.2zM189.8 406.3h1.2v1.2h-1.2zM166.9 391.1h1.2v1.2h-1.2zM151.6 420.4h1.2v1.2h-1.2zM186.5 402.1h1.2v1.2h-1.2zM191.3 438.0h1.2v1.2h-1.2zM200.6 434.3h1.2v1.2h-1.2zM191.0 401.0h1.2v1.2h-1.2zM202.9 417.5h1.2v1.2h-1.2zM212.9 439.6h1.2v1.2h-1.2zM176.9 435.8h1.2v1.2h-1.2zM176.9 389.2h1.2v1.2h-1.2zM187.2 410.6h1.2v1.2h-1.2zM154.6 433.4h1.2v1.2h-1.2zM187.9 390.4h1.2v1.2h-1.2zM175.3 425.2h1.2v1.2h-1.2zM182.7 380.0h1.2v1.2h-1.2zM177.6 412.4h1.2v1.2h-1.2zM163.5 424.4h1.2v1.2h-1.2zM190.3 385.9h1.2v1.2h-1.2zM194.3 404.8h1.2v1.2h-1.2zM198.9 428.0h1.2v1.2h-1.2zM185.8 406.8h1.2v1.2h-1.2zM174.6 410.4h1.2v1.2h-1.2zM185.1 432.1h1.2v1.2h-1.2zM172.5 438.5h1.2v1.2h-1.2zM190.8 431.7h1.2v1.2h-1.2zM191.8 374.9h1.2v1.2h-1.2zM177.7 429.1h1.2v1.2h-1.2zM194.0 420.2h1.2v1.2h-1.2zM207.2 398.3h1.2v1.2h-1.2zM167.1 435.2h1.2v1.2h-1.2zM181.0 403.7h1.2v1.2h-1.2zM214.0 428.6h1.2v1.2h-1.2zM159.4 408.3h1.2v1.2h-1.2zM154.7 426.7h1.2v1.2h-1.2zM162.6 402.8h1.2v1.2h-1.2zM216.7 439.9h1.2v1.2h-1.2zM211.8 431.3h1.2v1.2h-1.2zM177.2 415.3h1.2v1.2h-1.2zM201.0 409.2h1.2v1.2h-1.2zM205.5 396.1h1.2v1.2h-1.2zM187.7 419.8h1.2v1.2h-1.2zM180.7 427.0h1.2v1.2h-1.2zM186.8 414.7h1.2v1.2h-1.2zM201.6 432.1h1.2v1.2h-1.2zM156.9 415.9h1.2v1.2h-1.2zM204.3 404.3h1.2v1.2h-1.2zM198.3 412.3h1.2v1.2h-1.2zM154.7 424.4h1.2v1.2h-1.2zM168.5 375.2h1.2v1.2h-1.2zM170.9 392.6h1.2v1.2h-1.2zM152.1 424.0h1.2v1.2h-1.2zM187.7 419.2h1.2v1.2h-1.2zM172.8 429.8h1.2v1.2h-1.2zM194.2 403.2h1.2v1.2h-1.2zM174.0 376.3h1.2v1.2h-1.2zM158.3 411.5h1.2v1.2h-1.2zM170.4 414.3h1.2v1.2h-1.2zM171.9 432.3h1.2v1.2h-1.2zM178.8 386.4h1.2v1.2h-1.2zM157.5 400.3h1.2v1.2h-1.2zM160.9 407.7h1.2v1.2h-1.2zM178.5 392.7h1.2v1.2h-1.2zM188.2 423.2h1.2v1.2h-1.2zM185.1 413.3h1.2v1.2h-1.2zM161.2 403.2h1.2v1.2h-1.2zM194.1 429.5h1.2v1.2h-1.2zM184.9 437.5h1.2v1.2h-1.2zM181.2 415.5h1.2v1.2h-1.2zM179.1 399.9h1.2v1.2h-1.2zM185.5 399.0h1.2v1.2h-1.2zM168.8 383.8h1.2v1.2h-1.2zM181.6 427.3h1.2v1.2h-1.2zM180.6 417.3h1.2v1.2h-1.2zM168.6 425.2h1.2v1.2h-1.2zM175.9 425.0h1.2v1.2h-1.2zM185.9 436.9h1.2v1.2h-1.2zM182.4 396.6h1.2v1.2h-1.2zM191.5 391.3h1.2v1.2h-1.2zM169.2 430.8h1.2v1.2h-1.2zM170.1 428.7h1.2v1.2h-1.2zM202.7 413.2h1.2v1.2h-1.2zM190.7 398.8h1.2v1.2h-1.2zM152.5 426.9h1.2v1.2h-1.2zM167.7 390.2h1.2v1.2h-1.2zM176.4 433.6h1.2v1.2h-1.2zM193.4 415.8h1.2v1.2h-1.2zM191.1 420.4h1.2v1.2h-1.2zM187.4 402.9h1.2v1.2h-1.2zM167.9 382.5h1.2v1.2h-1.2zM170.4 434.2h1.2v1.2h-1.2zM184.1 397.9h1.2v1.2h-1.2zM162.9 397.1h1.2v1.2h-1.2zM177.1 422.7h1.2v1.2h-1.2zM187.2 370.5h1.2v1.2h-1.2zM186.2 413.6h1.2v1.2h-1.2zM193.2 414.4h1.2v1.2h-1.2zM195.6 409.5h1.2v1.2h-1.2zM176.0 438.5h1.2v1.2h-1.2zM198.9 390.9h1.2v1.2h-1.2zM202.3 434.8h1.2v1.2h-1.2zM170.6 374.1h1.2v1.2h-1.2zM215.8 428.3h1.2v1.2h-1.2zM189.6 434.0h1.2v1.2h-1.2zM168.7 435.0h1.2v1.2h-1.2zM211.8 433.8h1.2v1.2h-1.2zM181.8 392.4h1.2v1.2h-1.2zM167.1 430.1h1.2v1.2h-1.2zM188.7 417.8h1.2v1.2h-1.2zM194.7 392.6h1.2v1.2h-1.2zM195.2 382.7h1.2v1.2h-1.2zM189.7 409.2h1.2v1.2h-1.2zM191.3 399.8h1.2v1.2h-1.2zM192.5 373.8h1.2v1.2h-1.2zM195.3 423.6h1.2v1.2h-1.2zM177.5 395.4h1.2v1.2h-1.2zM193.6 376.7h1.2v1.2h-1.2zM186.4 417.2h1.2v1.2h-1.2zM173.5 427.6h1.2v1.2h-1.2zM159.6 415.6h1.2v1.2h-1.2zM201.3 416.9h1.2v1.2h-1.2zM185.4 388.5h1.2v1.2h-1.2zM196.5 433.8h1.2v1.2h-1.2zM157.3 432.6h1.2v1.2h-1.2zM201.6 380.1h1.2v1.2h-1.2zM187.6 430.8h1.2v1.2h-1.2zM181.7 419.6h1.2v1.2h-1.2zM188.1 394.9h1.2v1.2h-1.2zM202.6 412.0h1.2v1.2h-1.2zM179.1 414.2h1.2v1.2h-1.2zM188.4 377.0h1.2v1.2h-1.2zM188.8 428.0h1.2v1.2h-1.2zM177.3 428.7h1.2v1.2h-1.2zM173.8 410.3h1.2v1.2h-1.2zM197.4 426.6h1.2v1.2h-1.2zM191.5 406.7h1.2v1.2h-1.2zM199.8 436.8h1.2v1.2h-1.2zM204.2 411.7h1.2v1.2h-1.2zM200.0 385.9h1.2v1.2h-1.2zM198.0 423.5h1.2v1.2h-1.2zM194.9 371.4h1.2v1.2h-1.2zM185.1 402.2h1.2v1.2h-1.2zM198.1 395.6h1.2v1.2h-1.2zM171.4 389.9h1.2v1.2h-1.2zM179.2 404.9h1.2v1.2h-1.2zM175.9 439.7h1.2v1.2h-1.2zM212.5 416.4h1.2v1.2h-1.2zM198.8 407.7h1.2v1.2h-1.2zM179.5 389.4h1.2v1.2h-1.2zM194.3 396.7h1.2v1.2h-1.2zM193.5 400.1h1.2v1.2h-1.2zM168.3 436.7h1.2v1.2h-1.2zM166.9 423.1h1.2v1.2h-1.2zM193.0 439.8h1.2v1.2h-1.2zM166.7 394.3h1.2v1.2h-1.2zM172.0 388.3h1.2v1.2h-1.2zM188.7 381.3h1.2v1.2h-1.2zM189.9 380.6h1.2v1.2h-1.2zM171.8 407.9h1.2v1.2h-1.2zM181.2 424.4h1.2v1.2h-1.2zM189.3 391.5h1.2v1.2h-1.2zM185.6 419.9h1.2v1.2h-1.2zM179.4 424.7h1.2v1.2h-1.2zM169.1 437.9h1.2v1.2h-1.2zM179.3 436.0h1.2v1.2h-1.2zM209.2 417.2h1.2v1.2h-1.2zM158.8 411.2h1.2v1.2h-1.2zM202.7 428.4h1.2v1.2h-1.2zM193.3 412.2h1.2v1.2h-1.2zM198.6 418.3h1.2v1.2h-1.2zM189.6 407.3h1.2v1.2h-1.2zM159.8 414.3h1.2v1.2h-1.2zM173.3 427.8h1.2v1.2h-1.2zM158.7 414.6h1.2v1.2h-1.2zM188.6 405.0h1.2v1.2h-1.2zM193.3 394.7h1.2v1.2h-1.2zM209.8 427.2h1.2v1.2h-1.2zM172.9 412.5h1.2v1.2h-1.2zM165.2 439.9h1.2v1.2h-1.2zM171.6 432.6h1.2v1.2h-1.2zM155.4 431.9h1.2v1.2h-1.2zM198.0 432.7h1.2v1.2h-1.2zM198.6 385.4h1.2v1.2h-1.2zM189.3 384.1h1.2v1.2h-1.2zM177.8 392.4h1.2v1.2h-1.2zM192.9 434.5h1.2v1.2h-1.2zM184.6 436.0h1.2v1.2h-1.2zM171.3 397.6h1.2v1.2h-1.2zM189.7 426.2h1.2v1.2h-1.2zM189.9 405.9h1.2v1.2h-1.2zM199.3 406.8h1.2v1.2h-1.2zM159.7 396.0h1.2v1.2h-1.2zM201.0 388.4h1.2v1.2h-1.2zM166.5 390.5h1.2v1.2h-1.2zM195.5 406.4h1.2v1.2h-1.2zM161.1 387.0h1.2v1.2h-1.2zM176.7 411.9h1.2v1.2h-1.2zM190.8 421.6h1.2v1.2h-1.2zM178.8 385.9h1.2v1.2h-1.2zM181.8 393.0h1.2v1.2h-1.2zM189.7 415.3h1.2v1.2h-1.2zM175.9 429.9h1.2v1.2h-1.2zM191.6 413.9h1.2v1.2h-1.2zM195.7 392.0h1.2v1.2h-1.2zM191.8 414.5h1.2v1.2h-1.2zM196.8 398.4h1.2v1.2h-1.2zM192.6 413.2h1.2v1.2h-1.2zM211.1 410.9h1.2v1.2h-1.2zM203.2 380.1h1.2v1.2h-1.2zM198.7 428.7h1.2v1.2h-1.2zM192.8 436.0h1.2v1.2h-1.2zM163.9 393.7h1.2v1.2h-1.2zM197.7 403.9h1.2v1.2h-1.2zM208.1 403.1h1.2v1.2h-1.2zM191.1 383.3h1.2v1.2h-1.2zM162.7 411.2h1.2v1.2h-1.2zM167.9 434.2h1.2v1.2h-1.2zM186.2 395.5h1.2v1.2h-1.2zM162.6 407.0h1.2v1.2h-1.2zM167.8 402.0h1.2v1.2h-1.2zM187.1 412.6h1.2v1.2h-1.2zM162.4 422.4h1.2v1.2h-1.2zM211.3 405.0h1.2v1.2h-1.2zM185.6 381.5h1.2v1.2h-1.2zM188.2 412.8h1.2v1.2h-1.2zM205.3 432.2h1.2v1.2h-1.2zM186.9 408.4h1.2v1.2h-1.2zM204.3 393.7h1.2v1.2h-1.2zM198.4 405.1h1.2v1.2h-1.2zM165.1 397.0h1.2v1.2h-1.2zM211.9 436.4h1.2v1.2h-1.2zM193.4 404.8h1.2v1.2h-1.2zM178.8 388.9h1.2v1.2h-1.2zM164.6 418.0h1.2v1.2h-1.2zM183.2 418.6h1.2v1.2h-1.2zM189.4 409.9h1.2v1.2h-1.2zM171.2 381.4h1.2v1.2h-1.2zM177.9 431.7h1.2v1.2h-1.2zM199.5 432.0h1.2v1.2h-1.2zM186.0 434.1h1.2v1.2h-1.2zM192.4 401.0h1.2v1.2h-1.2zM183.8 430.7h1.2v1.2h-1.2zM201.8 396.9h1.2v1.2h-1.2zM188.0 433.0h1.2v1.2h-1.2zM154.2 431.2h1.2v1.2h-1.2zM186.0 431.0h1.2v1.2h-1.2zM200.6 406.3h1.2v1.2h-1.2zM154.4 401.9h1.2v1.2h-1.2zM182.3 436.5h1.2v1.2h-1.2zM159.4 404.2h1.2v1.2h-1.2zM202.2 407.8h1.2v1.2h-1.2zM178.9 430.7h1.2v1.2h-1.2zM199.3 394.3h1.2v1.2h-1.2zM163.3 399.9h1.2v1.2h-1.2zM173.7 425.4h1.2v1.2h-1.2zM197.0 438.7h1.2v1.2h-1.2zM156.7 421.2h1.2v1.2h-1.2zM183.9 402.8h1.2v1.2h-1.2zM191.7 387.0h1.2v1.2h-1.2zM159.4 436.8h1.2v1.2h-1.2zM191.5 434.8h1.2v1.2h-1.2zM204.7 429.7h1.2v1.2h-1.2zM185.0 383.8h1.2v1.2h-1.2zM181.1 396.0h1.2v1.2h-1.2zM188.8 420.5h1.2v1.2h-1.2zM182.8 429.6h1.2v1.2h-1.2zM186.6 428.9h1.2v1.2h-1.2zM195.9 414.8h1.2v1.2h-1.2zM170.5 438.3h1.2v1.2h-1.2zM210.8 433.2h1.2v1.2h-1.2zM210.2 428.0h1.2v1.2h-1.2zM160.4 409.1h1.2v1.2h-1.2zM188.1 374.7h1.2v1.2h-1.2zM180.5 392.3h1.2v1.2h-1.2zM174.6 417.7h1.2v1.2h-1.2zM160.0 414.2h1.2v1.2h-1.2zM190.1 400.9h1.2v1.2h-1.2zM204.6 404.2h1.2v1.2h-1.2zM172.7 438.3h1.2v1.2h-1.2zM152.9 435.7h1.2v1.2h-1.2zM194.8 376.8h1.2v1.2h-1.2zM177.9 389.3h1.2v1.2h-1.2zM186.4 438.6h1.2v1.2h-1.2zM193.8 410.9h1.2v1.2h-1.2zM205.7 425.5h1.2v1.2h-1.2zM202.3 414.8h1.2v1.2h-1.2zM189.1 435.1h1.2v1.2h-1.2zM200.4 382.8h1.2v1.2h-1.2zM203.4 416.9h1.2v1.2h-1.2zM187.0 399.0h1.2v1.2h-1.2zM187.6 393.2h1.2v1.2h-1.2zM196.0 408.0h1.2v1.2h-1.2zM169.5 428.2h1.2v1.2h-1.2zM206.7 422.0h1.2v1.2h-1.2zM153.7 394.9h1.2v1.2h-1.2zM204.3 402.2h1.2v1.2h-1.2zM178.8 426.8h1.2v1.2h-1.2zM179.9 401.4h1.2v1.2h-1.2zM175.8 386.9h1.2v1.2h-1.2zM165.5 392.6h1.2v1.2h-1.2zM190.1 421.7h1.2v1.2h-1.2zM197.7 401.1h1.2v1.2h-1.2zM181.7 394.5h1.2v1.2h-1.2zM197.1 412.3h1.2v1.2h-1.2zM169.2 425.6h1.2v1.2h-1.2zM198.5 408.5h1.2v1.2h-1.2zM181.6 403.1h1.2v1.2h-1.2zM161.4 388.3h1.2v1.2h-1.2zM169.5 430.6h1.2v1.2h-1.2zM176.4 396.5h1.2v1.2h-1.2zM170.6 431.5h1.2v1.2h-1.2zM155.0 417.1h1.2v1.2h-1.2zM205.1 409.5h1.2v1.2h-1.2zM179.1 412.1h1.2v1.2h-1.2zM170.5 423.7h1.2v1.2h-1.2zM164.4 430.1h1.2v1.2h-1.2zM181.9 421.6h1.2v1.2h-1.2zM207.3 438.9h1.2v1.2h-1.2zM196.0 422.9h1.2v1.2h-1.2zM182.4 436.5h1.2v1.2h-1.2zM167.8 398.4h1.2v1.2h-1.2zM168.0 394.4h1.2v1.2h-1.2zM197.8 396.8h1.2v1.2h-1.2zM179.9 409.1h1.2v1.2h-1.2zM185.7 427.9h1.2v1.2h-1.2zM198.1 377.7h1.2v1.2h-1.2zM161.9 412.4h1.2v1.2h-1.2zM181.7 434.2h1.2v1.2h-1.2zM184.0 415.0h1.2v1.2h-1.2zM160.0 406.7h1.2v1.2h-1.2zM202.8 435.2h1.2v1.2h-1.2zM149.2 432.5h1.2v1.2h-1.2zM188.2 432.0h1.2v1.2h-1.2zM171.7 427.8h1.2v1.2h-1.2zM191.5 416.9h1.2v1.2h-1.2zM160.4 419.0h1.2v1.2h-1.2zM198.3 374.5h1.2v1.2h-1.2zM188.7 436.7h1.2v1.2h-1.2zM185.2 426.5h1.2v1.2h-1.2zM193.7 390.0h1.2v1.2h-1.2zM154.3 420.3h1.2v1.2h-1.2zM175.6 422.5h1.2v1.2h-1.2zM198.1 393.3h1.2v1.2h-1.2zM178.2 418.6h1.2v1.2h-1.2zM173.2 379.1h1.2v1.2h-1.2zM199.7 381.8h1.2v1.2h-1.2zM164.8 385.9h1.2v1.2h-1.2zM185.5 436.3h1.2v1.2h-1.2zM200.0 380.3h1.2v1.2h-1.2zM190.1 437.8h1.2v1.2h-1.2zM187.6 421.6h1.2v1.2h-1.2zM168.6 400.4h1.2v1.2h-1.2zM206.3 402.7h1.2v1.2h-1.2zM164.6 437.5h1.2v1.2h-1.2zM198.7 385.0h1.2v1.2h-1.2zM167.1 392.2h1.2v1.2h-1.2zM206.6 425.4h1.2v1.2h-1.2zM199.1 405.4h1.2v1.2h-1.2zM201.0 401.7h1.2v1.2h-1.2zM158.2 418.4h1.2v1.2h-1.2zM160.4 392.6h1.2v1.2h-1.2zM207.0 433.1h1.2v1.2h-1.2zM161.3 396.4h1.2v1.2h-1.2zM155.7 432.0h1.2v1.2h-1.2zM159.6 423.4h1.2v1.2h-1.2zM201.4 414.5h1.2v1.2h-1.2zM183.6 421.6h1.2v1.2h-1.2zM163.8 399.4h1.2v1.2h-1.2zM160.7 396.0h1.2v1.2h-1.2zM192.9 430.9h1.2v1.2h-1.2zM178.5 406.7h1.2v1.2h-1.2zM187.3 405.5h1.2v1.2h-1.2zM160.4 394.6h1.2v1.2h-1.2zM178.4 429.5h1.2v1.2h-1.2zM177.8 428.7h1.2v1.2h-1.2zM175.9 406.3h1.2v1.2h-1.2zM170.2 439.4h1.2v1.2h-1.2zM194.2 426.6h1.2v1.2h-1.2zM197.7 399.7h1.2v1.2h-1.2zM185.5 392.5h1.2v1.2h-1.2zM162.1 403.6h1.2v1.2h-1.2zM166.6 425.3h1.2v1.2h-1.2zM158.2 408.8h1.2v1.2h-1.2zM163.9 416.9h1.2v1.2h-1.2zM210.2 413.3h1.2v1.2h-1.2zM175.6 435.6h1.2v1.2h-1.2zM185.1 424.9h1.2v1.2h-1.2zM176.5 416.9h1.2v1.2h-1.2zM200.0 398.2h1.2v1.2h-1.2zM171.7 375.2h1.2v1.2h-1.2zM189.8 437.1h1.2v1.2h-1.2zM164.5 397.3h1.2v1.2h-1.2zM192.8 429.5h1.2v1.2h-1.2zM161.6 424.9h1.2v1.2h-1.2zM195.4 383.9h1.2v1.2h-1.2zM197.6 411.0h1.2v1.2h-1.2zM176.1 415.8h1.2v1.2h-1.2zM162.0 398.6h1.2v1.2h-1.2zM208.6 419.0h1.2v1.2h-1.2zM194.6 381.5h1.2v1.2h-1.2zM195.7 433.0h1.2v1.2h-1.2zM201.4 425.0h1.2v1.2h-1.2zM192.8 429.5h1.2v1.2h-1.2zM206.4 415.4h1.2v1.2h-1.2zM199.6 405.9h1.2v1.2h-1.2zM186.3 420.7h1.2v1.2h-1.2zM155.6 429.5h1.2v1.2h-1.2zM182.4 400.7h1.2v1.2h-1.2zM185.2 406.8h1.2v1.2h-1.2zM172.9 389.5h1.2v1.2h-1.2zM199.9 416.5h1.2v1.2h-1.2zM163.8 390.6h1.2v1.2h-1.2zM188.7 433.5h1.2v1.2h-1.2zM186.1 378.5h1.2v1.2h-1.2zM203.3 386.6h1.2v1.2h-1.2zM170.3 412.0h1.2v1.2h-1.2zM174.4 421.7h1.2v1.2h-1.2zM152.6 439.5h1.2v1.2h-1.2zM160.9 412.2h1.2v1.2h-1.2zM180.0 423.2h1.2v1.2h-1.2zM194.9 409.6h1.2v1.2h-1.2zM198.3 433.5h1.2v1.2h-1.2zM204.5 421.2h1.2v1.2h-1.2zM164.0 435.2h1.2v1.2h-1.2zM164.1 392.1h1.2v1.2h-1.2zM166.3 397.3h1.2v1.2h-1.2zM193.2 429.7h1.2v1.2h-1.2zM201.1 401.7h1.2v1.2h-1.2zM154.1 419.6h1.2v1.2h-1.2zM205.4 436.9h1.2v1.2h-1.2zM171.8 390.1h1.2v1.2h-1.2zM201.4 432.4h1.2v1.2h-1.2zM180.8 406.7h1.2v1.2h-1.2zM197.4 395.5h1.2v1.2h-1.2zM188.5 436.3h1.2v1.2h-1.2zM181.6 434.3h1.2v1.2h-1.2zM201.1 433.4h1.2v1.2h-1.2zM186.3 439.7h1.2v1.2h-1.2zM156.2 434.6h1.2v1.2h-1.2zM156.0 424.3h1.2v1.2h-1.2zM204.5 418.1h1.2v1.2h-1.2zM185.5 404.9h1.2v1.2h-1.2zM164.2 385.1h1.2v1.2h-1.2zM201.6 412.7h1.2v1.2h-1.2zM208.2 413.0h1.2v1.2h-1.2zM193.7 437.0h1.2v1.2h-1.2zM194.3 404.0h1.2v1.2h-1.2zM169.4 439.1h1.2v1.2h-1.2zM192.6 398.2h1.2v1.2h-1.2zM159.2 410.2h1.2v1.2h-1.2zM198.7 376.3h1.2v1.2h-1.2zM178.9 410.4h1.2v1.2h-1.2zM155.6 402.4h1.2v1.2h-1.2zM191.6 416.5h1.2v1.2h-1.2zM187.6 406.9h1.2v1.2h-1.2zM201.3 427.3h1.2v1.2h-1.2zM195.5 374.8h1.2v1.2h-1.2zM200.8 424.5h1.2v1.2h-1.2zM186.0 423.0h1.2v1.2h-1.2zM181.2 402.5h1.2v1.2h-1.2zM209.1 397.6h1.2v1.2h-1.2zM159.4 391.1h1.2v1.2h-1.2zM191.2 373.6h1.2v1.2h-1.2zM182.3 435.7h1.2v1.2h-1.2zM206.2 393.6h1.2v1.2h-1.2zM176.9 405.5h1.2v1.2h-1.2zM177.9 391.2h1.2v1.2h-1.2zM193.6 386.9h1.2v1.2h-1.2zM185.2 383.1h1.2v1.2h-1.2zM195.3 430.2h1.2v1.2h-1.2zM196.5 402.9h1.2v1.2h-1.2zM163.8 380.9h1.2v1.2h-1.2zM172.2 408.2h1.2v1.2h-1.2zM194.7 373.5h1.2v1.2h-1.2zM182.6 431.6h1.2v1.2h-1.2zM155.5 407.4h1.2v1.2h-1.2zM199.4 389.9h1.2v1.2h-1.2zM200.3 400.5h1.2v1.2h-1.2zM173.9 424.1h1.2v1.2h-1.2zM166.5 405.8h1.2v1.2h-1.2zM183.7 397.9h1.2v1.2h-1.2zM194.1 397.0h1.2v1.2h-1.2zM193.5 409.1h1.2v1.2h-1.2zM191.2 392.5h1.2v1.2h-1.2zM200.2 390.4h1.2v1.2h-1.2zM210.6 422.4h1.2v1.2h-1.2zM180.6 392.2h1.2v1.2h-1.2zM185.1 421.4h1.2v1.2h-1.2zM184.4 391.6h1.2v1.2h-1.2zM198.6 436.2h1.2v1.2h-1.2zM195.0 390.0h1.2v1.2h-1.2zM199.0 407.0h1.2v1.2h-1.2zM201.5 426.1h1.2v1.2h-1.2zM189.6 389.4h1.2v1.2h-1.2zM192.2 422.6h1.2v1.2h-1.2zM191.9 428.9h1.2v1.2h-1.2zM162.0 404.4h1.2v1.2h-1.2zM169.1 391.8h1.2v1.2h-1.2zM192.8 397.7h1.2v1.2h-1.2zM188.1 400.6h1.2v1.2h-1.2zM173.0 420.6h1.2v1.2h-1.2zM165.9 394.9h1.2v1.2h-1.2zM195.2 410.2h1.2v1.2h-1.2zM165.1 408.8h1.2v1.2h-1.2zM193.0 413.7h1.2v1.2h-1.2zM177.3 416.7h1.2v1.2h-1.2zM211.0 418.0h1.2v1.2h-1.2zM181.4 439.2h1.2v1.2h-1.2zM191.9 379.8h1.2v1.2h-1.2zM195.5 375.3h1.2v1.2h-1.2zM180.0 429.2h1.2v1.2h-1.2zM191.9 391.3h1.2v1.2h-1.2zM178.3 414.3h1.2v1.2h-1.2zM201.9 396.1h1.2v1.2h-1.2zM156.6 430.5h1.2v1.2h-1.2zM192.0 408.9h1.2v1.2h-1.2zM186.5 432.4h1.2v1.2h-1.2zM170.9 431.2h1.2v1.2h-1.2zM168.4 420.0h1.2v1.2h-1.2zM199.6 387.3h1.2v1.2h-1.2zM179.0 414.4h1.2v1.2h-1.2zM198.4 394.2h1.2v1.2h-1.2zM177.6 403.9h1.2v1.2h-1.2zM207.3 428.3h1.2v1.2h-1.2zM170.1 422.8h1.2v1.2h-1.2zM158.9 402.6h1.2v1.2h-1.2zM194.1 419.6h1.2v1.2h-1.2zM167.1 435.6h1.2v1.2h-1.2zM205.1 418.8h1.2v1.2h-1.2zM197.5 391.7h1.2v1.2h-1.2zM201.9 386.9h1.2v1.2h-1.2zM206.4 386.4h1.2v1.2h-1.2zM174.5 390.9h1.2v1.2h-1.2zM193.8 369.5h1.2v1.2h-1.2zM175.2 417.0h1.2v1.2h-1.2zM173.1 418.6h1.2v1.2h-1.2zM195.2 396.5h1.2v1.2h-1.2zM197.0 429.6h1.2v1.2h-1.2zM185.2 416.2h1.2v1.2h-1.2zM193.3 419.2h1.2v1.2h-1.2zM188.4 382.6h1.2v1.2h-1.2zM179.8 401.5h1.2v1.2h-1.2zM178.5 401.9h1.2v1.2h-1.2zM153.5 430.2h1.2v1.2h-1.2zM158.1 437.4h1.2v1.2h-1.2zM184.8 401.7h1.2v1.2h-1.2zM188.7 376.1h1.2v1.2h-1.2zM178.6 388.4h1.2v1.2h-1.2zM205.1 397.2h1.2v1.2h-1.2zM203.8 419.1h1.2v1.2h-1.2zM177.9 396.0h1.2v1.2h-1.2zM162.9 384.4h1.2v1.2h-1.2zM209.0 408.6h1.2v1.2h-1.2zM197.0 432.3h1.2v1.2h-1.2zM186.5 425.2h1.2v1.2h-1.2zM170.5 431.4h1.2v1.2h-1.2zM205.5 434.5h1.2v1.2h-1.2zM173.7 431.9h1.2v1.2h-1.2zM170.2 438.2h1.2v1.2h-1.2zM159.2 417.7h1.2v1.2h-1.2zM186.0 410.2h1.2v1.2h-1.2zM178.6 420.8h1.2v1.2h-1.2zM209.6 425.7h1.2v1.2h-1.2zM196.6 391.2h1.2v1.2h-1.2zM194.6 392.1h1.2v1.2h-1.2zM202.6 415.2h1.2v1.2h-1.2zM215.1 432.2h1.2v1.2h-1.2zM185.4 421.4h1.2v1.2h-1.2zM184.4 390.7h1.2v1.2h-1.2zM195.3 404.5h1.2v1.2h-1.2zM192.3 436.5h1.2v1.2h-1.2zM195.9 418.1h1.2v1.2h-1.2zM205.3 410.6h1.2v1.2h-1.2zM192.3 387.8h1.2v1.2h-1.2zM195.5 430.1h1.2v1.2h-1.2zM214.1 424.1h1.2v1.2h-1.2zM167.6 403.8h1.2v1.2h-1.2zM150.2 438.1h1.2v1.2h-1.2zM190.0 395.4h1.2v1.2h-1.2zM173.9 411.3h1.2v1.2h-1.2zM199.8 428.7h1.2v1.2h-1.2zM169.6 388.5h1.2v1.2h-1.2zM164.5 380.0h1.2v1.2h-1.2zM174.4 416.0h1.2v1.2h-1.2zM197.6 373.0h1.2v1.2h-1.2zM206.2 409.0h1.2v1.2h-1.2zM192.5 406.5h1.2v1.2h-1.2zM186.6 401.1h1.2v1.2h-1.2zM200.2 438.1h1.2v1.2h-1.2zM166.8 393.4h1.2v1.2h-1.2zM189.5 390.2h1.2v1.2h-1.2zM179.4 385.1h1.2v1.2h-1.2zM207.8 413.3h1.2v1.2h-1.2zM169.0 436.8h1.2v1.2h-1.2zM198.3 433.5h1.2v1.2h-1.2zM209.0 376.3h1.2v1.2h-1.2zM166.2 409.3h1.2v1.2h-1.2zM209.5 412.2h1.2v1.2h-1.2zM153.6 427.0h1.2v1.2h-1.2zM166.4 390.4h1.2v1.2h-1.2zM194.6 406.0h1.2v1.2h-1.2zM168.5 380.3h1.2v1.2h-1.2zM203.0 423.3h1.2v1.2h-1.2zM203.7 418.0h1.2v1.2h-1.2zM182.7 418.7h1.2v1.2h-1.2zM176.6 393.7h1.2v1.2h-1.2zM176.5 427.5h1.2v1.2h-1.2zM172.3 427.9h1.2v1.2h-1.2zM165.9 389.4h1.2v1.2h-1.2zM201.7 397.1h1.2v1.2h-1.2zM187.4 434.2h1.2v1.2h-1.2zM197.8 406.2h1.2v1.2h-1.2zM185.5 384.8h1.2v1.2h-1.2zM166.6 389.5h1.2v1.2h-1.2zM181.7 395.1h1.2v1.2h-1.2zM156.6 430.1h1.2v1.2h-1.2zM167.0 434.3h1.2v1.2h-1.2zM194.2 395.0h1.2v1.2h-1.2zM185.1 387.8h1.2v1.2h-1.2zM167.5 436.4h1.2v1.2h-1.2zM221.9 422.8h1.2v1.2h-1.2zM195.1 426.1h1.2v1.2h-1.2zM200.1 399.7h1.2v1.2h-1.2zM193.3 386.9h1.2v1.2h-1.2zM168.5 417.9h1.2v1.2h-1.2zM186.3 415.1h1.2v1.2h-1.2zM191.7 391.4h1.2v1.2h-1.2zM175.6 402.2h1.2v1.2h-1.2zM186.9 408.9h1.2v1.2h-1.2zM213.6 429.1h1.2v1.2h-1.2zM190.5 403.5h1.2v1.2h-1.2zM170.0 403.0h1.2v1.2h-1.2zM174.1 433.2h1.2v1.2h-1.2zM195.2 383.6h1.2v1.2h-1.2zM200.4 398.0h1.2v1.2h-1.2zM194.0 394.4h1.2v1.2h-1.2zM200.3 398.9h1.2v1.2h-1.2zM187.6 384.8h1.2v1.2h-1.2zM198.2 438.9h1.2v1.2h-1.2zM171.4 381.9h1.2v1.2h-1.2zM197.1 406.5h1.2v1.2h-1.2zM190.7 431.7h1.2v1.2h-1.2zM204.6 406.9h1.2v1.2h-1.2zM175.8 401.8h1.2v1.2h-1.2zM171.6 376.5h1.2v1.2h-1.2zM153.6 404.2h1.2v1.2h-1.2zM158.9 406.2h1.2v1.2h-1.2zM171.3 380.7h1.2v1.2h-1.2zM185.8 425.2h1.2v1.2h-1.2zM192.6 390.7h1.2v1.2h-1.2zM181.3 387.1h1.2v1.2h-1.2zM207.1 411.6h1.2v1.2h-1.2zM195.7 394.6h1.2v1.2h-1.2zM162.5 393.4h1.2v1.2h-1.2zM166.5 389.7h1.2v1.2h-1.2zM207.1 392.0h1.2v1.2h-1.2zM170.6 424.0h1.2v1.2h-1.2zM183.2 426.6h1.2v1.2h-1.2zM188.5 371.8h1.2v1.2h-1.2zM163.5 422.9h1.2v1.2h-1.2zM167.9 434.0h1.2v1.2h-1.2zM193.2 437.8h1.2v1.2h-1.2zM153.4 429.8h1.2v1.2h-1.2zM180.1 393.0h1.2v1.2h-1.2zM204.2 436.1h1.2v1.2h-1.2zM182.3 437.4h1.2v1.2h-1.2zM159.5 416.5h1.2v1.2h-1.2zM174.4 425.9h1.2v1.2h-1.2zM181.5 385.5h1.2v1.2h-1.2zM183.3 387.7h1.2v1.2h-1.2zM198.7 391.1h1.2v1.2h-1.2zM154.8 435.0h1.2v1.2h-1.2zM206.7 435.5h1.2v1.2h-1.2zM188.9 419.3h1.2v1.2h-1.2zM188.6 377.3h1.2v1.2h-1.2zM197.6 432.0h1.2v1.2h-1.2zM162.4 403.3h1.2v1.2h-1.2zM199.5 394.6h1.2v1.2h-1.2zM170.3 426.3h1.2v1.2h-1.2zM194.1 396.6h1.2v1.2h-1.2zM166.1 396.3h1.2v1.2h-1.2zM188.7 390.5h1.2v1.2h-1.2zM190.0 417.0h1.2v1.2h-1.2zM187.4 391.3h1.2v1.2h-1.2zM199.4 427.6h1.2v1.2h-1.2zM204.3 433.2h1.2v1.2h-1.2zM201.0 399.8h1.2v1.2h-1.2zM193.8 390.6h1.2v1.2h-1.2zM180.2 397.2h1.2v1.2h-1.2zM164.7 394.6h1.2v1.2h-1.2zM163.6 394.6h1.2v1.2h-1.2zM204.8 400.4h1.2v1.2h-1.2zM154.1 418.5h1.2v1.2h-1.2zM212.4 430.2h1.2v1.2h-1.2zM202.6 391.6h1.2v1.2h-1.2zM190.3 383.1h1.2v1.2h-1.2zM194.9 431.4h1.2v1.2h-1.2zM156.6 399.6h1.2v1.2h-1.2zM189.2 401.9h1.2v1.2h-1.2zM186.7 395.5h1.2v1.2h-1.2zM204.7 411.5h1.2v1.2h-1.2zM208.5 425.5h1.2v1.2h-1.2zM171.9 424.8h1.2v1.2h-1.2zM187.7 436.4h1.2v1.2h-1.2zM195.2 426.4h1.2v1.2h-1.2zM195.9 436.5h1.2v1.2h-1.2zM168.4 378.8h1.2v1.2h-1.2zM153.9 431.9h1.2v1.2h-1.2zM194.3 377.5h1.2v1.2h-1.2zM194.6 435.4h1.2v1.2h-1.2zM155.2 410.9h1.2v1.2h-1.2zM192.3 436.2h1.2v1.2h-1.2zM164.8 396.9h1.2v1.2h-1.2zM191.7 380.5h1.2v1.2h-1.2zM163.2 439.2h1.2v1.2h-1.2zM194.9 400.5h1.2v1.2h-1.2zM204.3 407.7h1.2v1.2h-1.2zM196.4 423.5h1.2v1.2h-1.2zM174.3 419.4h1.2v1.2h-1.2zM167.7 396.2h1.2v1.2h-1.2zM163.1 400.6h1.2v1.2h-1.2zM188.7 395.3h1.2v1.2h-1.2zM168.5 380.0h1.2v1.2h-1.2zM188.2 429.9h1.2v1.2h-1.2zM172.3 419.5h1.2v1.2h-1.2zM173.9 425.4h1.2v1.2h-1.2zM153.7 412.7h1.2v1.2h-1.2zM182.5 405.4h1.2v1.2h-1.2zM169.2 424.3h1.2v1.2h-1.2zM187.2 429.7h1.2v1.2h-1.2zM197.4 428.3h1.2v1.2h-1.2zM178.5 400.0h1.2v1.2h-1.2zM173.0 439.3h1.2v1.2h-1.2zM167.6 405.5h1.2v1.2h-1.2zM170.5 419.4h1.2v1.2h-1.2zM207.9 409.2h1.2v1.2h-1.2zM190.7 439.6h1.2v1.2h-1.2zM167.3 435.5h1.2v1.2h-1.2zM199.0 377.1h1.2v1.2h-1.2zM202.9 391.3h1.2v1.2h-1.2zM152.2 431.1h1.2v1.2h-1.2zM205.6 407.3h1.2v1.2h-1.2zM180.6 438.0h1.2v1.2h-1.2zM200.1 412.9h1.2v1.2h-1.2zM209.0 429.2h1.2v1.2h-1.2zM185.6 415.5h1.2v1.2h-1.2zM174.2 410.4h1.2v1.2h-1.2zM174.7 431.6h1.2v1.2h-1.2zM181.1 418.1h1.2v1.2h-1.2zM174.6 379.7h1.2v1.2h-1.2zM200.4 439.0h1.2v1.2h-1.2zM209.2 423.7h1.2v1.2h-1.2zM200.5 438.7h1.2v1.2h-1.2zM177.4 383.3h1.2v1.2h-1.2zM197.9 410.9h1.2v1.2h-1.2zM177.2 431.8h1.2v1.2h-1.2zM199.4 403.3h1.2v1.2h-1.2zM158.1 412.2h1.2v1.2h-1.2zM156.7 431.8h1.2v1.2h-1.2zM199.5 393.7h1.2v1.2h-1.2zM185.2 409.3h1.2v1.2h-1.2zM188.7 409.8h1.2v1.2h-1.2zM177.7 389.5h1.2v1.2h-1.2zM203.4 395.3h1.2v1.2h-1.2zM216.2 430.6h1.2v1.2h-1.2zM190.2 424.8h1.2v1.2h-1.2zM176.3 404.1h1.2v1.2h-1.2zM196.8 429.9h1.2v1.2h-1.2zM188.1 414.2h1.2v1.2h-1.2zM190.4 417.2h1.2v1.2h-1.2zM188.5 412.1h1.2v1.2h-1.2zM157.4 397.6h1.2v1.2h-1.2zM162.5 413.6h1.2v1.2h-1.2zM165.0 431.8h1.2v1.2h-1.2zM194.5 405.5h1.2v1.2h-1.2zM179.0 416.4h1.2v1.2h-1.2zM202.0 418.6h1.2v1.2h-1.2zM196.1 388.5h1.2v1.2h-1.2zM182.4 438.5h1.2v1.2h-1.2zM167.1 374.6h1.2v1.2h-1.2zM212.2 426.0h1.2v1.2h-1.2zM204.2 400.5h1.2v1.2h-1.2zM187.2 425.4h1.2v1.2h-1.2zM188.4 438.1h1.2v1.2h-1.2zM174.6 386.1h1.2v1.2h-1.2zM190.3 389.6h1.2v1.2h-1.2zM183.1 383.2h1.2v1.2h-1.2zM159.9 430.8h1.2v1.2h-1.2zM190.4 439.0h1.2v1.2h-1.2zM182.0 412.3h1.2v1.2h-1.2zM210.9 416.2h1.2v1.2h-1.2zM202.9 429.9h1.2v1.2h-1.2zM197.6 372.0h1.2v1.2h-1.2zM188.7 401.1h1.2v1.2h-1.2zM203.3 430.7h1.2v1.2h-1.2zM193.8 404.2h1.2v1.2h-1.2zM206.3 410.9h1.2v1.2h-1.2zM189.1 433.3h1.2v1.2h-1.2zM180.0 389.0h1.2v1.2h-1.2zM161.4 389.0h1.2v1.2h-1.2zM181.0 400.9h1.2v1.2h-1.2zM156.9 417.1h1.2v1.2h-1.2zM184.3 396.6h1.2v1.2h-1.2zM208.7 424.0h1.2v1.2h-1.2zM192.5 392.1h1.2v1.2h-1.2zM181.6 381.1h1.2v1.2h-1.2zM177.2 425.8h1.2v1.2h-1.2zM201.8 390.9h1.2v1.2h-1.2zM158.7 409.1h1.2v1.2h-1.2zM203.4 408.2h1.2v1.2h-1.2zM170.6 432.6h1.2v1.2h-1.2zM171.6 434.8h1.2v1.2h-1.2zM192.9 395.0h1.2v1.2h-1.2zM181.9 416.5h1.2v1.2h-1.2zM169.0 427.6h1.2v1.2h-1.2zM163.0 418.8h1.2v1.2h-1.2zM191.7 418.3h1.2v1.2h-1.2zM166.0 415.7h1.2v1.2h-1.2zM204.5 433.7h1.2v1.2h-1.2zM196.9 388.7h1.2v1.2h-1.2zM179.0 407.9h1.2v1.2h-1.2zM159.0 430.5h1.2v1.2h-1.2zM195.4 368.7h1.2v1.2h-1.2zM176.6 431.7h1.2v1.2h-1.2zM198.0 387.3h1.2v1.2h-1.2zM156.7 410.2h1.2v1.2h-1.2zM185.7 370.9h1.2v1.2h-1.2zM150.0 432.1h1.2v1.2h-1.2zM188.8 430.8h1.2v1.2h-1.2zM198.4 416.9h1.2v1.2h-1.2zM168.9 382.0h1.2v1.2h-1.2zM179.2 388.1h1.2v1.2h-1.2zM186.9 429.7h1.2v1.2h-1.2zM155.3 408.9h1.2v1.2h-1.2zM202.6 401.9h1.2v1.2h-1.2zM197.1 419.7h1.2v1.2h-1.2zM191.5 385.3h1.2v1.2h-1.2zM203.5 411.5h1.2v1.2h-1.2zM190.3 391.8h1.2v1.2h-1.2zM169.1 397.7h1.2v1.2h-1.2zM179.2 387.0h1.2v1.2h-1.2zM158.0 433.9h1.2v1.2h-1.2zM204.9 404.6h1.2v1.2h-1.2zM179.9 413.0h1.2v1.2h-1.2zM195.0 404.7h1.2v1.2h-1.2zM154.0 428.9h1.2v1.2h-1.2zM174.3 408.5h1.2v1.2h-1.2zM204.1 430.6h1.2v1.2h-1.2zM175.5 391.2h1.2v1.2h-1.2zM181.1 411.2h1.2v1.2h-1.2zM152.0 434.7h1.2v1.2h-1.2zM173.8 411.2h1.2v1.2h-1.2zM168.3 428.1h1.2v1.2h-1.2zM174.5 436.3h1.2v1.2h-1.2zM165.1 384.7h1.2v1.2h-1.2zM188.2 411.5h1.2v1.2h-1.2zM181.5 438.0h1.2v1.2h-1.2zM213.9 426.6h1.2v1.2h-1.2zM202.4 409.1h1.2v1.2h-1.2zM190.8 401.5h1.2v1.2h-1.2zM160.4 417.8h1.2v1.2h-1.2zM169.5 382.0h1.2v1.2h-1.2zM185.9 379.4h1.2v1.2h-1.2zM182.7 393.3h1.2v1.2h-1.2zM181.4 388.4h1.2v1.2h-1.2zM175.8 399.8h1.2v1.2h-1.2zM154.2 423.3h1.2v1.2h-1.2zM157.0 417.0h1.2v1.2h-1.2zM205.6 436.0h1.2v1.2h-1.2zM197.5 407.0h1.2v1.2h-1.2zM176.5 404.1h1.2v1.2h-1.2zM190.0 386.1h1.2v1.2h-1.2zM185.0 395.7h1.2v1.2h-1.2zM177.5 390.6h1.2v1.2h-1.2zM170.1 426.3h1.2v1.2h-1.2zM197.2 393.1h1.2v1.2h-1.2zM193.3 406.1h1.2v1.2h-1.2zM183.5 395.9h1.2v1.2h-1.2zM194.5 403.6h1.2v1.2h-1.2zM192.2 385.6h1.2v1.2h-1.2zM177.8 434.6h1.2v1.2h-1.2zM180.9 397.7h1.2v1.2h-1.2zM178.2 409.7h1.2v1.2h-1.2zM198.9 406.7h1.2v1.2h-1.2zM158.9 414.2h1.2v1.2h-1.2zM164.8 388.6h1.2v1.2h-1.2zM181.7 388.7h1.2v1.2h-1.2zM153.7 435.0h1.2v1.2h-1.2zM209.6 428.5h1.2v1.2h-1.2zM210.4 422.0h1.2v1.2h-1.2zM184.8 412.1h1.2v1.2h-1.2zM209.7 401.5h1.2v1.2h-1.2zM167.1 398.7h1.2v1.2h-1.2zM199.0 370.6h1.2v1.2h-1.2zM183.4 431.5h1.2v1.2h-1.2zM195.7 392.9h1.2v1.2h-1.2zM161.4 398.0h1.2v1.2h-1.2zM205.6 431.2h1.2v1.2h-1.2zM161.5 398.3h1.2v1.2h-1.2zM186.5 425.2h1.2v1.2h-1.2zM207.7 422.9h1.2v1.2h-1.2zM163.8 398.6h1.2v1.2h-1.2zM187.3 415.8h1.2v1.2h-1.2zM182.3 419.6h1.2v1.2h-1.2zM181.0 408.2h1.2v1.2h-1.2zM190.0 391.3h1.2v1.2h-1.2zM193.0 391.7h1.2v1.2h-1.2zM183.7 403.2h1.2v1.2h-1.2zM186.9 419.3h1.2v1.2h-1.2zM172.6 432.6h1.2v1.2h-1.2zM188.9 373.2h1.2v1.2h-1.2zM193.3 407.9h1.2v1.2h-1.2zM202.1 405.4h1.2v1.2h-1.2zM188.7 425.0h1.2v1.2h-1.2zM200.8 388.8h1.2v1.2h-1.2zM194.0 388.7h1.2v1.2h-1.2zM169.5 410.3h1.2v1.2h-1.2zM166.9 396.8h1.2v1.2h-1.2zM203.3 412.2h1.2v1.2h-1.2zM187.0 435.1h1.2v1.2h-1.2zM175.7 398.4h1.2v1.2h-1.2zM197.6 420.4h1.2v1.2h-1.2zM202.9 406.0h1.2v1.2h-1.2zM167.8 409.4h1.2v1.2h-1.2zM211.1 410.0h1.2v1.2h-1.2zM173.1 430.4h1.2v1.2h-1.2zM174.2 439.6h1.2v1.2h-1.2zM163.5 387.1h1.2v1.2h-1.2zM209.1 434.1h1.2v1.2h-1.2zM170.0 423.4h1.2v1.2h-1.2zM185.4 437.2h1.2v1.2h-1.2zM182.8 435.6h1.2v1.2h-1.2zM194.7 372.6h1.2v1.2h-1.2zM167.9 388.9h1.2v1.2h-1.2zM163.5 434.9h1.2v1.2h-1.2zM166.8 390.5h1.2v1.2h-1.2zM201.4 426.9h1.2v1.2h-1.2zM206.0 417.9h1.2v1.2h-1.2zM191.9 412.4h1.2v1.2h-1.2zM165.0 396.1h1.2v1.2h-1.2zM177.4 389.8h1.2v1.2h-1.2zM202.8 386.8h1.2v1.2h-1.2zM195.7 389.4h1.2v1.2h-1.2zM151.1 432.4h1.2v1.2h-1.2zM188.0 384.4h1.2v1.2h-1.2zM179.7 429.4h1.2v1.2h-1.2zM182.9 423.8h1.2v1.2h-1.2zM197.0 438.0h1.2v1.2h-1.2zM199.4 421.9h1.2v1.2h-1.2zM203.7 408.8h1.2v1.2h-1.2zM174.8 380.8h1.2v1.2h-1.2zM167.6 427.1h1.2v1.2h-1.2zM185.3 404.1h1.2v1.2h-1.2zM172.2 379.3h1.2v1.2h-1.2zM180.8 407.9h1.2v1.2h-1.2zM213.5 438.4h1.2v1.2h-1.2zM171.7 417.3h1.2v1.2h-1.2zM156.2 416.9h1.2v1.2h-1.2zM209.9 414.5h1.2v1.2h-1.2zM167.5 420.3h1.2v1.2h-1.2zM185.2 427.5h1.2v1.2h-1.2zM156.4 403.1h1.2v1.2h-1.2zM219.9 436.3h1.2v1.2h-1.2zM165.1 382.3h1.2v1.2h-1.2zM178.5 408.1h1.2v1.2h-1.2zM197.2 419.5h1.2v1.2h-1.2zM202.5 399.3h1.2v1.2h-1.2zM167.5 434.8h1.2v1.2h-1.2zM207.0 428.7h1.2v1.2h-1.2zM170.8 421.9h1.2v1.2h-1.2zM161.6 439.0h1.2v1.2h-1.2zM181.8 406.8h1.2v1.2h-1.2zM204.9 437.7h1.2v1.2h-1.2zM182.0 408.3h1.2v1.2h-1.2zM173.2 380.2h1.2v1.2h-1.2zM198.5 384.9h1.2v1.2h-1.2zM168.6 429.4h1.2v1.2h-1.2zM159.6 436.0h1.2v1.2h-1.2zM180.1 418.6h1.2v1.2h-1.2zM214.6 424.3h1.2v1.2h-1.2zM189.9 428.8h1.2v1.2h-1.2zM187.2 398.6h1.2v1.2h-1.2zM195.2 425.5h1.2v1.2h-1.2zM174.9 420.0h1.2v1.2h-1.2zM180.8 400.9h1.2v1.2h-1.2zM164.0 396.5h1.2v1.2h-1.2zM155.0 417.0h1.2v1.2h-1.2zM159.8 409.4h1.2v1.2h-1.2zM170.9 431.0h1.2v1.2h-1.2zM193.5 369.5h1.2v1.2h-1.2zM198.4 407.5h1.2v1.2h-1.2zM163.5 387.4h1.2v1.2h-1.2zM183.8 423.1h1.2v1.2h-1.2zM154.6 406.0h1.2v1.2h-1.2zM201.1 411.7h1.2v1.2h-1.2zM189.0 372.4h1.2v1.2h-1.2zM189.2 421.7h1.2v1.2h-1.2zM156.6 418.4h1.2v1.2h-1.2zM166.2 367.7h1.2v1.2h-1.2zM164.5 391.7h1.2v1.2h-1.2zM188.7 394.5h1.2v1.2h-1.2zM183.9 414.3h1.2v1.2h-1.2zM178.1 397.6h1.2v1.2h-1.2zM173.7 414.3h1.2v1.2h-1.2zM177.4 387.4h1.2v1.2h-1.2zM200.4 380.9h1.2v1.2h-1.2zM191.0 377.3h1.2v1.2h-1.2zM166.9 394.7h1.2v1.2h-1.2zM207.7 433.2h1.2v1.2h-1.2zM153.5 416.0h1.2v1.2h-1.2zM151.6 413.5h1.2v1.2h-1.2zM197.2 431.9h1.2v1.2h-1.2zM203.4 417.3h1.2v1.2h-1.2zM170.0 430.5h1.2v1.2h-1.2zM159.4 418.3h1.2v1.2h-1.2zM180.8 402.6h1.2v1.2h-1.2zM167.8 435.2h1.2v1.2h-1.2zM186.8 387.4h1.2v1.2h-1.2zM216.3 432.2h1.2v1.2h-1.2zM162.1 384.6h1.2v1.2h-1.2zM180.4 438.1h1.2v1.2h-1.2zM196.3 429.0h1.2v1.2h-1.2zM203.2 430.3h1.2v1.2h-1.2zM195.2 423.7h1.2v1.2h-1.2zM171.6 379.6h1.2v1.2h-1.2zM170.8 417.2h1.2v1.2h-1.2zM192.3 379.1h1.2v1.2h-1.2zM184.2 401.5h1.2v1.2h-1.2zM197.7 404.7h1.2v1.2h-1.2zM171.4 419.8h1.2v1.2h-1.2zM176.2 415.3h1.2v1.2h-1.2zM203.5 396.6h1.2v1.2h-1.2zM186.5 433.6h1.2v1.2h-1.2zM192.9 399.2h1.2v1.2h-1.2zM179.5 418.7h1.2v1.2h-1.2zM205.1 414.9h1.2v1.2h-1.2zM160.5 409.9h1.2v1.2h-1.2zM158.7 428.3h1.2v1.2h-1.2zM191.2 397.1h1.2v1.2h-1.2zM206.8 422.5h1.2v1.2h-1.2zM186.9 409.8h1.2v1.2h-1.2zM199.7 394.5h1.2v1.2h-1.2zM198.9 428.6h1.2v1.2h-1.2zM184.9 438.2h1.2v1.2h-1.2zM181.4 392.6h1.2v1.2h-1.2zM154.9 437.2h1.2v1.2h-1.2zM203.5 403.5h1.2v1.2h-1.2zM164.2 405.6h1.2v1.2h-1.2zM178.7 413.1h1.2v1.2h-1.2zM163.7 383.9h1.2v1.2h-1.2zM187.9 392.7h1.2v1.2h-1.2zM179.9 394.9h1.2v1.2h-1.2zM200.1 436.5h1.2v1.2h-1.2zM196.7 400.9h1.2v1.2h-1.2zM183.0 401.7h1.2v1.2h-1.2zM181.5 437.6h1.2v1.2h-1.2zM191.4 385.2h1.2v1.2h-1.2zM191.9 415.1h1.2v1.2h-1.2zM175.1 426.5h1.2v1.2h-1.2zM202.8 420.0h1.2v1.2h-1.2zM165.1 432.6h1.2v1.2h-1.2zM201.3 415.1h1.2v1.2h-1.2zM210.5 428.8h1.2v1.2h-1.2zM178.2 432.2h1.2v1.2h-1.2zM208.2 417.1h1.2v1.2h-1.2zM154.3 439.4h1.2v1.2h-1.2zM156.7 429.3h1.2v1.2h-1.2zM152.1 438.9h1.2v1.2h-1.2zM154.3 412.9h1.2v1.2h-1.2zM198.9 383.4h1.2v1.2h-1.2zM179.7 394.1h1.2v1.2h-1.2zM201.5 400.8h1.2v1.2h-1.2zM194.3 403.6h1.2v1.2h-1.2zM206.3 428.1h1.2v1.2h-1.2zM203.4 426.4h1.2v1.2h-1.2zM173.6 435.4h1.2v1.2h-1.2zM171.2 424.7h1.2v1.2h-1.2zM188.0 415.7h1.2v1.2h-1.2zM182.7 410.0h1.2v1.2h-1.2zM195.4 396.8h1.2v1.2h-1.2zM162.0 424.9h1.2v1.2h-1.2zM171.3 423.9h1.2v1.2h-1.2zM195.6 421.5h1.2v1.2h-1.2zM202.4 426.0h1.2v1.2h-1.2zM180.0 415.3h1.2v1.2h-1.2zM197.6 417.0h1.2v1.2h-1.2zM192.6 400.7h1.2v1.2h-1.2zM200.9 392.5h1.2v1.2h-1.2zM202.4 384.4h1.2v1.2h-1.2zM184.3 428.1h1.2v1.2h-1.2zM206.8 416.4h1.2v1.2h-1.2zM182.8 416.8h1.2v1.2h-1.2zM181.8 406.4h1.2v1.2h-1.2zM187.1 395.5h1.2v1.2h-1.2zM186.8 409.7h1.2v1.2h-1.2zM165.4 416.7h1.2v1.2h-1.2zM190.8 428.7h1.2v1.2h-1.2zM192.7 371.3h1.2v1.2h-1.2zM207.8 410.7h1.2v1.2h-1.2zM199.6 427.4h1.2v1.2h-1.2zM186.3 405.5h1.2v1.2h-1.2zM172.7 421.9h1.2v1.2h-1.2zM193.7 377.9h1.2v1.2h-1.2zM205.9 438.6h1.2v1.2h-1.2zM186.0 405.5h1.2v1.2h-1.2zM157.2 417.2h1.2v1.2h-1.2zM156.4 426.3h1.2v1.2h-1.2zM190.1 414.0h1.2v1.2h-1.2zM200.2 380.4h1.2v1.2h-1.2zM187.8 424.9h1.2v1.2h-1.2zM155.3 400.5h1.2v1.2h-1.2zM204.5 434.4h1.2v1.2h-1.2zM184.9 436.7h1.2v1.2h-1.2zM182.5 433.8h1.2v1.2h-1.2zM177.2 408.9h1.2v1.2h-1.2zM209.2 417.6h1.2v1.2h-1.2zM183.3 386.4h1.2v1.2h-1.2zM151.6 422.6h1.2v1.2h-1.2zM175.4 437.8h1.2v1.2h-1.2zM198.1 426.6h1.2v1.2h-1.2zM182.7 374.6h1.2v1.2h-1.2zM168.1 429.7h1.2v1.2h-1.2zM185.5 381.5h1.2v1.2h-1.2zM194.6 375.0h1.2v1.2h-1.2zM177.7 411.3h1.2v1.2h-1.2zM181.3 404.3h1.2v1.2h-1.2zM183.8 428.4h1.2v1.2h-1.2zM175.7 423.8h1.2v1.2h-1.2zM163.8 400.4h1.2v1.2h-1.2zM178.1 419.9h1.2v1.2h-1.2zM212.7 412.9h1.2v1.2h-1.2zM188.9 394.6h1.2v1.2h-1.2zM187.2 396.0h1.2v1.2h-1.2zM197.5 401.8h1.2v1.2h-1.2zM202.7 426.7h1.2v1.2h-1.2zM179.8 415.5h1.2v1.2h-1.2zM181.5 433.5h1.2v1.2h-1.2zM190.1 422.9h1.2v1.2h-1.2zM190.4 401.8h1.2v1.2h-1.2zM186.2 383.7h1.2v1.2h-1.2zM212.3 416.1h1.2v1.2h-1.2zM186.9 407.8h1.2v1.2h-1.2zM202.1 435.7h1.2v1.2h-1.2zM201.7 399.1h1.2v1.2h-1.2zM178.6 406.2h1.2v1.2h-1.2zM164.5 438.7h1.2v1.2h-1.2zM164.2 405.9h1.2v1.2h-1.2zM172.2 431.6h1.2v1.2h-1.2zM162.4 406.6h1.2v1.2h-1.2zM188.4 433.1h1.2v1.2h-1.2zM198.3 410.4h1.2v1.2h-1.2zM165.9 433.4h1.2v1.2h-1.2zM172.8 398.7h1.2v1.2h-1.2zM194.2 376.5h1.2v1.2h-1.2zM167.7 391.4h1.2v1.2h-1.2zM154.0 405.1h1.2v1.2h-1.2zM166.4 388.9h1.2v1.2h-1.2zM214.3 392.3h1.2v1.2h-1.2zM158.7 413.0h1.2v1.2h-1.2zM164.4 390.8h1.2v1.2h-1.2zM160.1 411.8h1.2v1.2h-1.2zM180.0 415.0h1.2v1.2h-1.2zM187.0 435.6h1.2v1.2h-1.2zM207.7 403.9h1.2v1.2h-1.2zM192.3 402.8h1.2v1.2h-1.2z" fill="#b0b0b0"/>
<path d="M40.5 439.2V421 L42.5 419.5 L45 430 L48 424 L51 431 L54 426 L57 432 L60 425 L63 431 L67 427 L70 432 L74 428 L78 433 L82 429 L86 433 L90 431 L95 434 L100 433 L104 436 V439.2z" fill="#ff7060" opacity="0.7"/>
<path d="M158.3 433.6h1.2v1.2h-1.2zM162.4 400.4h1.2v1.2h-1.2zM160.3 414.8h1.2v1.2h-1.2zM164.5 405.8h1.2v1.2h-1.2zM157.6 406.3h1.2v1.2h-1.2zM163.4 408.8h1.2v1.2h-1.2zM161.0 427.5h1.2v1.2h-1.2zM160.0 423.2h1.2v1.2h-1.2zM164.8 408.3h1.2v1.2h-1.2zM164.0 427.6h1.2v1.2h-1.2zM161.3 404.0h1.2v1.2h-1.2zM158.3 425.9h1.2v1.2h-1.2zM164.2 396.8h1.2v1.2h-1.2zM159.4 431.0h1.2v1.2h-1.2zM160.5 422.8h1.2v1.2h-1.2zM164.4 405.1h1.2v1.2h-1.2zM162.5 406.4h1.2v1.2h-1.2zM162.9 424.7h1.2v1.2h-1.2zM160.9 430.0h1.2v1.2h-1.2zM161.3 401.6h1.2v1.2h-1.2zM162.7 429.8h1.2v1.2h-1.2zM160.5 412.4h1.2v1.2h-1.2zM164.8 418.2h1.2v1.2h-1.2zM159.6 414.5h1.2v1.2h-1.2zM162.3 435.1h1.2v1.2h-1.2zM157.8 417.3h1.2v1.2h-1.2zM165.0 428.6h1.2v1.2h-1.2zM165.0 408.4h1.2v1.2h-1.2zM164.6 429.4h1.2v1.2h-1.2zM160.6 432.8h1.2v1.2h-1.2zM158.9 402.4h1.2v1.2h-1.2zM159.1 396.6h1.2v1.2h-1.2zM161.9 412.6h1.2v1.2h-1.2zM161.1 412.6h1.2v1.2h-1.2zM159.8 423.9h1.2v1.2h-1.2zM162.2 405.9h1.2v1.2h-1.2zM158.5 424.9h1.2v1.2h-1.2zM162.4 398.0h1.2v1.2h-1.2zM161.1 414.7h1.2v1.2h-1.2zM165.3 434.1h1.2v1.2h-1.2zM158.2 413.7h1.2v1.2h-1.2zM159.3 432.9h1.2v1.2h-1.2zM164.0 400.9h1.2v1.2h-1.2zM164.5 425.4h1.2v1.2h-1.2zM163.6 426.7h1.2v1.2h-1.2zM163.2 414.9h1.2v1.2h-1.2zM159.9 420.4h1.2v1.2h-1.2zM159.3 432.7h1.2v1.2h-1.2zM160.2 432.1h1.2v1.2h-1.2zM164.8 422.9h1.2v1.2h-1.2zM159.8 406.4h1.2v1.2h-1.2zM161.3 413.4h1.2v1.2h-1.2zM161.4 413.9h1.2v1.2h-1.2zM162.2 402.5h1.2v1.2h-1.2zM158.5 407.4h1.2v1.2h-1.2zM164.5 406.1h1.2v1.2h-1.2zM158.9 397.0h1.2v1.2h-1.2zM162.6 435.6h1.2v1.2h-1.2zM159.1 422.9h1.2v1.2h-1.2zM161.7 411.7h1.2v1.2h-1.2zM160.2 413.5h1.2v1.2h-1.2zM163.9 429.8h1.2v1.2h-1.2zM157.8 421.2h1.2v1.2h-1.2zM164.9 399.5h1.2v1.2h-1.2zM158.9 419.6h1.2v1.2h-1.2zM158.7 396.0h1.2v1.2h-1.2zM164.4 413.9h1.2v1.2h-1.2zM162.5 398.0h1.2v1.2h-1.2zM164.7 402.5h1.2v1.2h-1.2zM162.6 398.7h1.2v1.2h-1.2zM158.9 409.4h1.2v1.2h-1.2zM163.6 402.7h1.2v1.2h-1.2zM161.8 399.8h1.2v1.2h-1.2zM158.6 409.6h1.2v1.2h-1.2zM157.9 398.2h1.2v1.2h-1.2zM161.4 432.0h1.2v1.2h-1.2zM158.6 406.0h1.2v1.2h-1.2zM164.3 404.7h1.2v1.2h-1.2zM163.1 398.7h1.2v1.2h-1.2zM159.8 418.8h1.2v1.2h-1.2zM159.6 414.8h1.2v1.2h-1.2zM157.6 398.7h1.2v1.2h-1.2zM165.5 404.5h1.2v1.2h-1.2zM159.0 416.9h1.2v1.2h-1.2zM160.0 405.5h1.2v1.2h-1.2zM165.5 411.9h1.2v1.2h-1.2zM162.0 400.7h1.2v1.2h-1.2zM160.7 415.2h1.2v1.2h-1.2zM160.1 398.3h1.2v1.2h-1.2zM160.2 401.5h1.2v1.2h-1.2zM157.9 429.3h1.2v1.2h-1.2zM160.2 396.5h1.2v1.2h-1.2zM161.3 402.6h1.2v1.2h-1.2zM162.7 415.4h1.2v1.2h-1.2zM158.1 398.3h1.2v1.2h-1.2zM161.1 404.6h1.2v1.2h-1.2zM161.0 417.2h1.2v1.2h-1.2zM160.6 414.6h1.2v1.2h-1.2zM157.5 420.3h1.2v1.2h-1.2zM160.0 399.3h1.2v1.2h-1.2zM157.8 401.7h1.2v1.2h-1.2zM163.3 417.1h1.2v1.2h-1.2zM160.3 434.9h1.2v1.2h-1.2zM158.0 427.1h1.2v1.2h-1.2zM160.9 432.8h1.2v1.2h-1.2zM161.4 405.0h1.2v1.2h-1.2zM163.9 409.2h1.2v1.2h-1.2zM162.1 408.3h1.2v1.2h-1.2zM159.7 435.4h1.2v1.2h-1.2zM165.2 429.9h1.2v1.2h-1.2zM162.5 426.2h1.2v1.2h-1.2zM165.1 410.0h1.2v1.2h-1.2zM164.1 417.1h1.2v1.2h-1.2zM163.6 406.3h1.2v1.2h-1.2zM158.4 415.9h1.2v1.2h-1.2zM162.8 431.5h1.2v1.2h-1.2zM162.2 404.4h1.2v1.2h-1.2zM164.2 403.0h1.2v1.2h-1.2zM160.4 418.8h1.2v1.2h-1.2zM164.4 418.5h1.2v1.2h-1.2zM161.4 408.8h1.2v1.2h-1.2zM158.4 419.6h1.2v1.2h-1.2zM162.9 414.4h1.2v1.2h-1.2zM160.6 428.8h1.2v1.2h-1.2zM163.2 432.3h1.2v1.2h-1.2zM162.6 415.8h1.2v1.2h-1.2zM160.8 418.2h1.2v1.2h-1.2zM164.9 401.1h1.2v1.2h-1.2zM160.0 407.8h1.2v1.2h-1.2zM163.7 428.2h1.2v1.2h-1.2zM157.8 410.1h1.2v1.2h-1.2zM163.0 398.7h1.2v1.2h-1.2zM164.4 416.5h1.2v1.2h-1.2zM162.3 400.3h1.2v1.2h-1.2zM164.1 400.1h1.2v1.2h-1.2zM163.0 398.6h1.2v1.2h-1.2zM162.4 401.2h1.2v1.2h-1.2zM158.8 404.5h1.2v1.2h-1.2zM157.7 398.8h1.2v1.2h-1.2zM158.2 413.1h1.2v1.2h-1.2zM159.3 401.1h1.2v1.2h-1.2zM164.1 405.6h1.2v1.2h-1.2zM164.0 406.6h1.2v1.2h-1.2zM162.7 416.4h1.2v1.2h-1.2zM162.6 404.8h1.2v1.2h-1.2zM164.6 421.9h1.2v1.2h-1.2zM159.3 413.3h1.2v1.2h-1.2zM165.0 402.0h1.2v1.2h-1.2zM162.9 397.9h1.2v1.2h-1.2zM164.8 429.5h1.2v1.2h-1.2zM158.0 415.3h1.2v1.2h-1.2zM163.0 409.0h1.2v1.2h-1.2zM159.3 434.0h1.2v1.2h-1.2zM163.7 433.4h1.2v1.2h-1.2zM158.6 428.4h1.2v1.2h-1.2zM158.2 435.7h1.2v1.2h-1.2zM159.6 431.8h1.2v1.2h-1.2zM161.4 421.5h1.2v1.2h-1.2zM162.7 428.0h1.2v1.2h-1.2zM165.2 433.0h1.2v1.2h-1.2zM196.5 372.2h1.2v1.2h-1.2zM198.2 384.5h1.2v1.2h-1.2zM210.1 401.2h1.2v1.2h-1.2zM199.5 401.1h1.2v1.2h-1.2zM166.4 426.4h1.2v1.2h-1.2zM183.2 399.4h1.2v1.2h-1.2zM198.0 428.8h1.2v1.2h-1.2zM178.3 409.3h1.2v1.2h-1.2zM180.2 429.0h1.2v1.2h-1.2zM208.7 422.3h1.2v1.2h-1.2zM191.1 424.3h1.2v1.2h-1.2zM186.3 436.8h1.2v1.2h-1.2zM214.3 420.6h1.2v1.2h-1.2zM196.0 406.1h1.2v1.2h-1.2zM170.3 419.0h1.2v1.2h-1.2zM211.2 399.6h1.2v1.2h-1.2zM182.5 437.0h1.2v1.2h-1.2zM206.1 412.3h1.2v1.2h-1.2zM203.3 431.2h1.2v1.2h-1.2zM172.0 418.1h1.2v1.2h-1.2zM195.1 412.1h1.2v1.2h-1.2zM187.2 412.8h1.2v1.2h-1.2zM180.0 415.1h1.2v1.2h-1.2zM189.8 384.1h1.2v1.2h-1.2zM180.2 389.8h1.2v1.2h-1.2zM198.2 431.8h1.2v1.2h-1.2zM197.4 410.9h1.2v1.2h-1.2zM163.4 436.4h1.2v1.2h-1.2zM168.1 435.7h1.2v1.2h-1.2zM172.2 427.4h1.2v1.2h-1.2zM162.8 429.2h1.2v1.2h-1.2zM189.7 436.9h1.2v1.2h-1.2zM198.6 374.6h1.2v1.2h-1.2zM178.9 432.0h1.2v1.2h-1.2zM188.3 377.6h1.2v1.2h-1.2zM163.4 433.0h1.2v1.2h-1.2zM216.3 426.8h1.2v1.2h-1.2zM204.3 435.5h1.2v1.2h-1.2zM181.4 430.5h1.2v1.2h-1.2zM175.3 433.0h1.2v1.2h-1.2zM188.9 429.0h1.2v1.2h-1.2zM167.6 430.0h1.2v1.2h-1.2zM206.1 416.4h1.2v1.2h-1.2zM195.5 385.6h1.2v1.2h-1.2zM208.6 430.8h1.2v1.2h-1.2zM196.6 398.6h1.2v1.2h-1.2zM172.1 417.4h1.2v1.2h-1.2zM211.2 430.8h1.2v1.2h-1.2zM178.4 389.1h1.2v1.2h-1.2zM186.0 426.8h1.2v1.2h-1.2zM207.0 434.9h1.2v1.2h-1.2zM198.1 433.7h1.2v1.2h-1.2zM192.0 403.1h1.2v1.2h-1.2zM170.6 411.5h1.2v1.2h-1.2zM192.2 419.8h1.2v1.2h-1.2zM218.8 433.2h1.2v1.2h-1.2zM176.1 389.7h1.2v1.2h-1.2zM180.4 402.5h1.2v1.2h-1.2zM217.2 434.5h1.2v1.2h-1.2zM214.9 426.6h1.2v1.2h-1.2zM187.7 411.6h1.2v1.2h-1.2zM175.4 404.3h1.2v1.2h-1.2zM195.2 421.1h1.2v1.2h-1.2zM204.1 402.7h1.2v1.2h-1.2zM194.9 429.5h1.2v1.2h-1.2zM205.9 408.3h1.2v1.2h-1.2zM176.7 402.4h1.2v1.2h-1.2zM213.8 414.5h1.2v1.2h-1.2zM187.5 437.6h1.2v1.2h-1.2zM216.1 431.8h1.2v1.2h-1.2zM182.4 435.3h1.2v1.2h-1.2zM186.9 431.1h1.2v1.2h-1.2zM189.9 393.8h1.2v1.2h-1.2zM173.7 425.7h1.2v1.2h-1.2zM182.9 415.1h1.2v1.2h-1.2zM192.7 409.3h1.2v1.2h-1.2zM180.3 396.6h1.2v1.2h-1.2zM183.7 407.6h1.2v1.2h-1.2zM191.3 429.5h1.2v1.2h-1.2zM208.7 403.6h1.2v1.2h-1.2zM206.2 425.7h1.2v1.2h-1.2zM211.3 420.3h1.2v1.2h-1.2zM176.4 428.0h1.2v1.2h-1.2zM173.6 432.8h1.2v1.2h-1.2zM175.2 425.7h1.2v1.2h-1.2zM207.0 400.6h1.2v1.2h-1.2zM202.6 428.8h1.2v1.2h-1.2zM182.8 424.0h1.2v1.2h-1.2zM170.9 434.6h1.2v1.2h-1.2zM201.5 426.7h1.2v1.2h-1.2zM213.1 402.4h1.2v1.2h-1.2zM213.7 426.7h1.2v1.2h-1.2zM171.6 409.2h1.2v1.2h-1.2zM184.9 420.0h1.2v1.2h-1.2zM200.5 400.9h1.2v1.2h-1.2zM167.4 420.1h1.2v1.2h-1.2zM194.4 411.5h1.2v1.2h-1.2zM203.8 399.7h1.2v1.2h-1.2zM194.8 396.8h1.2v1.2h-1.2zM216.4 424.5h1.2v1.2h-1.2zM203.4 385.3h1.2v1.2h-1.2zM200.3 393.4h1.2v1.2h-1.2zM199.1 405.0h1.2v1.2h-1.2zM183.1 421.5h1.2v1.2h-1.2zM179.8 418.6h1.2v1.2h-1.2zM173.7 394.8h1.2v1.2h-1.2zM196.0 417.9h1.2v1.2h-1.2zM180.0 424.4h1.2v1.2h-1.2zM199.6 411.7h1.2v1.2h-1.2zM190.8 431.1h1.2v1.2h-1.2zM177.4 409.7h1.2v1.2h-1.2zM212.7 410.9h1.2v1.2h-1.2zM183.2 393.4h1.2v1.2h-1.2zM214.6 421.7h1.2v1.2h-1.2zM206.5 399.0h1.2v1.2h-1.2zM164.9 433.1h1.2v1.2h-1.2zM196.6 418.7h1.2v1.2h-1.2zM178.0 421.6h1.2v1.2h-1.2zM190.3 410.1h1.2v1.2h-1.2zM181.5 416.3h1.2v1.2h-1.2zM208.6 419.8h1.2v1.2h-1.2zM193.0 434.0h1.2v1.2h-1.2zM170.1 415.6h1.2v1.2h-1.2zM186.8 407.2h1.2v1.2h-1.2zM178.0 424.9h1.2v1.2h-1.2zM164.4 437.2h1.2v1.2h-1.2zM191.8 433.0h1.2v1.2h-1.2zM201.9 435.8h1.2v1.2h-1.2zM203.7 431.8h1.2v1.2h-1.2zM179.6 429.9h1.2v1.2h-1.2zM164.7 437.5h1.2v1.2h-1.2zM198.1 423.8h1.2v1.2h-1.2zM211.5 421.3h1.2v1.2h-1.2zM199.4 435.8h1.2v1.2h-1.2zM195.6 420.0h1.2v1.2h-1.2zM166.6 431.5h1.2v1.2h-1.2zM198.6 374.8h1.2v1.2h-1.2zM174.9 408.1h1.2v1.2h-1.2zM200.9 404.9h1.2v1.2h-1.2zM166.6 420.6h1.2v1.2h-1.2zM207.9 436.5h1.2v1.2h-1.2zM174.6 404.1h1.2v1.2h-1.2zM215.9 435.8h1.2v1.2h-1.2zM215.4 428.6h1.2v1.2h-1.2zM188.5 431.1h1.2v1.2h-1.2zM190.8 425.0h1.2v1.2h-1.2zM179.9 416.1h1.2v1.2h-1.2zM203.2 382.5h1.2v1.2h-1.2zM218.1 437.0h1.2v1.2h-1.2zM210.5 404.4h1.2v1.2h-1.2zM168.7 435.8h1.2v1.2h-1.2zM181.3 417.2h1.2v1.2h-1.2zM200.2 437.3h1.2v1.2h-1.2zM207.2 406.8h1.2v1.2h-1.2zM203.4 394.7h1.2v1.2h-1.2zM205.5 405.8h1.2v1.2h-1.2zM210.9 404.7h1.2v1.2h-1.2zM169.1 437.6h1.2v1.2h-1.2zM183.6 411.2h1.2v1.2h-1.2zM173.4 397.1h1.2v1.2h-1.2zM189.1 418.5h1.2v1.2h-1.2zM189.2 412.9h1.2v1.2h-1.2zM199.3 394.8h1.2v1.2h-1.2zM194.3 372.1h1.2v1.2h-1.2zM181.7 424.5h1.2v1.2h-1.2zM215.2 430.5h1.2v1.2h-1.2zM201.9 408.7h1.2v1.2h-1.2zM174.8 421.9h1.2v1.2h-1.2zM197.2 384.1h1.2v1.2h-1.2zM191.7 406.2h1.2v1.2h-1.2zM188.2 402.6h1.2v1.2h-1.2zM189.6 420.5h1.2v1.2h-1.2zM181.7 420.6h1.2v1.2h-1.2zM202.1 406.5h1.2v1.2h-1.2zM213.3 422.9h1.2v1.2h-1.2zM198.5 418.0h1.2v1.2h-1.2zM194.0 418.1h1.2v1.2h-1.2zM194.6 433.9h1.2v1.2h-1.2zM204.1 417.7h1.2v1.2h-1.2zM213.3 416.9h1.2v1.2h-1.2zM205.3 432.0h1.2v1.2h-1.2zM204.4 380.8h1.2v1.2h-1.2zM199.6 430.1h1.2v1.2h-1.2zM203.4 435.5h1.2v1.2h-1.2zM209.0 415.7h1.2v1.2h-1.2zM195.2 417.3h1.2v1.2h-1.2zM214.3 427.8h1.2v1.2h-1.2zM183.7 422.6h1.2v1.2h-1.2zM190.2 383.6h1.2v1.2h-1.2zM214.1 418.3h1.2v1.2h-1.2zM168.5 436.1h1.2v1.2h-1.2zM201.7 420.5h1.2v1.2h-1.2zM215.1 424.1h1.2v1.2h-1.2zM177.8 413.6h1.2v1.2h-1.2zM213.1 416.4h1.2v1.2h-1.2zM198.9 409.9h1.2v1.2h-1.2zM199.3 419.3h1.2v1.2h-1.2zM194.2 398.4h1.2v1.2h-1.2zM182.0 400.4h1.2v1.2h-1.2zM203.4 383.7h1.2v1.2h-1.2zM203.4 394.0h1.2v1.2h-1.2zM189.8 422.5h1.2v1.2h-1.2zM187.8 436.9h1.2v1.2h-1.2zM189.9 405.6h1.2v1.2h-1.2zM187.9 435.9h1.2v1.2h-1.2zM215.2 417.4h1.2v1.2h-1.2zM210.0 429.3h1.2v1.2h-1.2zM169.9 409.8h1.2v1.2h-1.2zM190.3 434.8h1.2v1.2h-1.2zM197.7 413.4h1.2v1.2h-1.2zM205.9 413.8h1.2v1.2h-1.2zM180.0 397.8h1.2v1.2h-1.2zM168.4 422.5h1.2v1.2h-1.2zM202.2 413.3h1.2v1.2h-1.2zM196.1 421.2h1.2v1.2h-1.2zM206.2 394.9h1.2v1.2h-1.2zM175.0 435.0h1.2v1.2h-1.2zM183.8 418.5h1.2v1.2h-1.2zM197.2 404.0h1.2v1.2h-1.2zM214.5 414.3h1.2v1.2h-1.2zM176.0 399.2h1.2v1.2h-1.2zM183.3 426.7h1.2v1.2h-1.2zM202.6 422.0h1.2v1.2h-1.2zM182.2 394.6h1.2v1.2h-1.2zM195.0 405.8h1.2v1.2h-1.2zM175.5 414.3h1.2v1.2h-1.2zM197.2 401.0h1.2v1.2h-1.2zM204.8 401.7h1.2v1.2h-1.2zM206.2 424.1h1.2v1.2h-1.2zM191.2 384.8h1.2v1.2h-1.2zM184.1 416.5h1.2v1.2h-1.2zM209.7 420.2h1.2v1.2h-1.2zM182.5 433.8h1.2v1.2h-1.2zM206.5 396.3h1.2v1.2h-1.2zM165.4 423.8h1.2v1.2h-1.2zM214.0 436.2h1.2v1.2h-1.2zM171.8 431.6h1.2v1.2h-1.2zM196.1 437.7h1.2v1.2h-1.2zM194.9 386.6h1.2v1.2h-1.2zM190.6 437.3h1.2v1.2h-1.2zM202.0 429.4h1.2v1.2h-1.2zM181.0 405.7h1.2v1.2h-1.2zM172.4 431.1h1.2v1.2h-1.2zM205.5 418.9h1.2v1.2h-1.2zM191.7 391.3h1.2v1.2h-1.2zM194.6 373.8h1.2v1.2h-1.2zM181.7 407.1h1.2v1.2h-1.2zM167.7 433.8h1.2v1.2h-1.2zM196.9 427.2h1.2v1.2h-1.2zM202.4 422.8h1.2v1.2h-1.2zM199.0 427.3h1.2v1.2h-1.2zM166.0 425.4h1.2v1.2h-1.2zM203.1 434.5h1.2v1.2h-1.2zM184.2 426.5h1.2v1.2h-1.2zM180.7 428.8h1.2v1.2h-1.2zM213.5 421.2h1.2v1.2h-1.2zM203.6 436.6h1.2v1.2h-1.2zM202.0 411.2h1.2v1.2h-1.2zM211.1 398.6h1.2v1.2h-1.2zM176.8 426.5h1.2v1.2h-1.2zM202.9 431.6h1.2v1.2h-1.2zM199.3 411.7h1.2v1.2h-1.2zM187.7 424.6h1.2v1.2h-1.2zM172.1 430.2h1.2v1.2h-1.2zM179.5 395.8h1.2v1.2h-1.2zM183.9 432.6h1.2v1.2h-1.2zM208.3 393.4h1.2v1.2h-1.2zM204.5 437.0h1.2v1.2h-1.2zM180.9 433.0h1.2v1.2h-1.2zM179.1 433.8h1.2v1.2h-1.2zM207.1 405.7h1.2v1.2h-1.2zM194.7 424.5h1.2v1.2h-1.2zM185.7 419.7h1.2v1.2h-1.2zM216.8 424.6h1.2v1.2h-1.2zM213.7 422.3h1.2v1.2h-1.2zM181.4 437.4h1.2v1.2h-1.2zM202.4 426.0h1.2v1.2h-1.2zM208.6 404.0h1.2v1.2h-1.2zM191.9 398.4h1.2v1.2h-1.2zM189.5 436.8h1.2v1.2h-1.2zM210.1 426.6h1.2v1.2h-1.2zM201.5 436.3h1.2v1.2h-1.2zM176.2 419.7h1.2v1.2h-1.2zM217.7 436.2h1.2v1.2h-1.2zM171.3 436.1h1.2v1.2h-1.2zM197.6 386.6h1.2v1.2h-1.2zM197.2 404.8h1.2v1.2h-1.2zM177.5 387.8h1.2v1.2h-1.2zM179.6 383.5h1.2v1.2h-1.2zM172.7 410.0h1.2v1.2h-1.2zM197.7 404.4h1.2v1.2h-1.2zM191.3 431.5h1.2v1.2h-1.2zM206.0 405.1h1.2v1.2h-1.2zM183.1 392.3h1.2v1.2h-1.2zM181.5 378.9h1.2v1.2h-1.2zM189.5 412.6h1.2v1.2h-1.2zM191.3 407.7h1.2v1.2h-1.2zM190.3 416.1h1.2v1.2h-1.2zM191.2 414.3h1.2v1.2h-1.2zM202.9 421.1h1.2v1.2h-1.2zM208.9 425.5h1.2v1.2h-1.2zM209.8 416.9h1.2v1.2h-1.2zM176.4 386.0h1.2v1.2h-1.2zM184.6 396.5h1.2v1.2h-1.2zM209.1 418.9h1.2v1.2h-1.2zM169.2 411.6h1.2v1.2h-1.2zM179.5 402.4h1.2v1.2h-1.2zM191.9 373.4h1.2v1.2h-1.2zM202.8 389.9h1.2v1.2h-1.2zM165.3 429.9h1.2v1.2h-1.2zM182.6 431.6h1.2v1.2h-1.2zM194.1 411.3h1.2v1.2h-1.2zM196.6 423.1h1.2v1.2h-1.2zM167.8 416.8h1.2v1.2h-1.2zM170.1 419.8h1.2v1.2h-1.2zM188.3 396.8h1.2v1.2h-1.2zM175.5 429.7h1.2v1.2h-1.2zM169.9 429.6h1.2v1.2h-1.2zM178.2 430.2h1.2v1.2h-1.2zM188.0 435.4h1.2v1.2h-1.2zM198.6 426.5h1.2v1.2h-1.2zM190.9 435.4h1.2v1.2h-1.2zM197.6 381.7h1.2v1.2h-1.2zM193.9 415.8h1.2v1.2h-1.2z" fill="#dca8a2"/>
<path d="M51.2 412.1h1.1v1.1h-1.1zM91.1 429.3h1.1v1.1h-1.1zM90.6 419.4h1.1v1.1h-1.1zM87.6 421.9h1.1v1.1h-1.1zM104.2 437.1h1.1v1.1h-1.1zM77.5 419.3h1.1v1.1h-1.1zM118.2 435.0h1.1v1.1h-1.1zM100.4 423.7h1.1v1.1h-1.1zM59.8 429.3h1.1v1.1h-1.1zM83.0 418.5h1.1v1.1h-1.1zM63.3 426.9h1.1v1.1h-1.1zM74.6 425.0h1.1v1.1h-1.1zM73.6 434.3h1.1v1.1h-1.1zM108.9 437.1h1.1v1.1h-1.1zM80.2 412.8h1.1v1.1h-1.1zM70.7 424.1h1.1v1.1h-1.1zM70.4 407.4h1.1v1.1h-1.1zM61.3 430.3h1.1v1.1h-1.1zM105.5 428.7h1.1v1.1h-1.1zM93.3 421.2h1.1v1.1h-1.1zM67.8 419.3h1.1v1.1h-1.1zM63.9 406.2h1.1v1.1h-1.1zM84.8 424.0h1.1v1.1h-1.1zM90.0 414.8h1.1v1.1h-1.1zM95.4 421.5h1.1v1.1h-1.1zM95.0 409.7h1.1v1.1h-1.1zM76.9 405.2h1.1v1.1h-1.1zM78.9 412.5h1.1v1.1h-1.1zM74.9 437.4h1.1v1.1h-1.1zM104.7 433.9h1.1v1.1h-1.1zM74.9 415.9h1.1v1.1h-1.1zM84.4 407.0h1.1v1.1h-1.1zM93.4 429.8h1.1v1.1h-1.1zM76.1 438.3h1.1v1.1h-1.1zM75.1 416.1h1.1v1.1h-1.1zM73.7 432.0h1.1v1.1h-1.1zM90.2 434.9h1.1v1.1h-1.1zM93.3 403.9h1.1v1.1h-1.1zM78.9 417.7h1.1v1.1h-1.1zM88.2 424.4h1.1v1.1h-1.1zM100.6 437.8h1.1v1.1h-1.1zM81.1 435.9h1.1v1.1h-1.1zM97.8 434.8h1.1v1.1h-1.1zM52.1 425.0h1.1v1.1h-1.1zM109.1 437.9h1.1v1.1h-1.1zM58.4 408.8h1.1v1.1h-1.1zM79.0 434.7h1.1v1.1h-1.1zM73.0 437.6h1.1v1.1h-1.1zM105.2 429.3h1.1v1.1h-1.1zM56.0 416.2h1.1v1.1h-1.1zM73.3 428.0h1.1v1.1h-1.1zM68.9 423.8h1.1v1.1h-1.1zM69.3 421.3h1.1v1.1h-1.1zM77.2 433.2h1.1v1.1h-1.1zM83.5 426.8h1.1v1.1h-1.1zM80.2 408.3h1.1v1.1h-1.1zM79.0 435.3h1.1v1.1h-1.1zM54.3 427.7h1.1v1.1h-1.1zM79.0 414.4h1.1v1.1h-1.1zM58.2 425.8h1.1v1.1h-1.1zM86.7 427.6h1.1v1.1h-1.1zM60.0 430.4h1.1v1.1h-1.1zM105.5 428.0h1.1v1.1h-1.1zM70.9 425.6h1.1v1.1h-1.1zM64.4 436.0h1.1v1.1h-1.1zM92.6 425.9h1.1v1.1h-1.1zM67.9 435.8h1.1v1.1h-1.1zM95.2 418.5h1.1v1.1h-1.1zM87.4 429.7h1.1v1.1h-1.1zM43.4 429.9h1.1v1.1h-1.1zM93.5 423.5h1.1v1.1h-1.1zM96.7 424.1h1.1v1.1h-1.1zM48.4 417.3h1.1v1.1h-1.1zM58.9 438.3h1.1v1.1h-1.1zM106.6 431.0h1.1v1.1h-1.1zM67.5 403.2h1.1v1.1h-1.1zM96.1 438.5h1.1v1.1h-1.1zM92.6 400.7h1.1v1.1h-1.1zM91.2 416.2h1.1v1.1h-1.1zM70.0 426.5h1.1v1.1h-1.1zM77.0 425.2h1.1v1.1h-1.1zM49.7 436.9h1.1v1.1h-1.1zM110.4 437.0h1.1v1.1h-1.1zM54.5 422.7h1.1v1.1h-1.1zM88.2 433.8h1.1v1.1h-1.1zM44.6 418.3h1.1v1.1h-1.1zM81.6 427.1h1.1v1.1h-1.1zM95.9 426.8h1.1v1.1h-1.1zM116.8 434.2h1.1v1.1h-1.1zM62.8 426.7h1.1v1.1h-1.1zM81.8 430.2h1.1v1.1h-1.1zM106.5 429.4h1.1v1.1h-1.1zM74.0 424.0h1.1v1.1h-1.1zM109.2 438.6h1.1v1.1h-1.1zM95.7 435.3h1.1v1.1h-1.1zM73.4 417.9h1.1v1.1h-1.1zM102.5 421.9h1.1v1.1h-1.1zM55.7 417.4h1.1v1.1h-1.1zM67.8 422.6h1.1v1.1h-1.1zM110.3 428.4h1.1v1.1h-1.1zM52.8 422.6h1.1v1.1h-1.1zM47.1 427.2h1.1v1.1h-1.1zM97.3 420.4h1.1v1.1h-1.1zM93.5 425.5h1.1v1.1h-1.1zM77.0 412.1h1.1v1.1h-1.1zM83.5 426.4h1.1v1.1h-1.1zM83.0 402.6h1.1v1.1h-1.1zM93.2 423.8h1.1v1.1h-1.1zM59.2 429.7h1.1v1.1h-1.1zM93.9 438.7h1.1v1.1h-1.1zM94.0 408.8h1.1v1.1h-1.1zM96.1 428.4h1.1v1.1h-1.1zM77.9 424.7h1.1v1.1h-1.1zM99.2 424.9h1.1v1.1h-1.1zM89.8 422.8h1.1v1.1h-1.1zM71.3 417.5h1.1v1.1h-1.1zM70.7 406.1h1.1v1.1h-1.1zM85.1 403.1h1.1v1.1h-1.1zM69.5 424.9h1.1v1.1h-1.1zM64.8 415.2h1.1v1.1h-1.1zM88.4 427.3h1.1v1.1h-1.1zM76.5 427.7h1.1v1.1h-1.1zM67.9 429.1h1.1v1.1h-1.1zM101.8 424.3h1.1v1.1h-1.1zM91.5 420.9h1.1v1.1h-1.1zM65.6 417.7h1.1v1.1h-1.1zM71.0 426.0h1.1v1.1h-1.1zM74.7 426.4h1.1v1.1h-1.1zM84.0 408.1h1.1v1.1h-1.1zM86.9 431.8h1.1v1.1h-1.1zM62.0 412.3h1.1v1.1h-1.1zM62.3 417.0h1.1v1.1h-1.1zM66.0 431.0h1.1v1.1h-1.1zM83.0 435.2h1.1v1.1h-1.1zM67.5 432.6h1.1v1.1h-1.1zM72.2 409.8h1.1v1.1h-1.1zM62.3 425.2h1.1v1.1h-1.1zM84.5 431.7h1.1v1.1h-1.1zM75.2 438.1h1.1v1.1h-1.1zM83.5 420.7h1.1v1.1h-1.1zM97.8 419.2h1.1v1.1h-1.1zM81.8 419.9h1.1v1.1h-1.1zM58.3 430.7h1.1v1.1h-1.1zM57.3 411.0h1.1v1.1h-1.1zM74.9 424.8h1.1v1.1h-1.1zM49.4 425.8h1.1v1.1h-1.1zM81.3 427.0h1.1v1.1h-1.1zM88.9 431.6h1.1v1.1h-1.1zM63.8 414.9h1.1v1.1h-1.1zM86.7 429.2h1.1v1.1h-1.1zM103.1 437.8h1.1v1.1h-1.1zM99.3 416.3h1.1v1.1h-1.1zM69.3 437.5h1.1v1.1h-1.1zM67.0 416.4h1.1v1.1h-1.1zM61.8 427.5h1.1v1.1h-1.1zM74.5 434.1h1.1v1.1h-1.1zM90.5 422.1h1.1v1.1h-1.1zM87.3 427.4h1.1v1.1h-1.1zM71.8 428.4h1.1v1.1h-1.1zM94.3 435.3h1.1v1.1h-1.1zM105.4 436.8h1.1v1.1h-1.1zM97.8 438.2h1.1v1.1h-1.1zM60.3 429.5h1.1v1.1h-1.1zM86.4 408.7h1.1v1.1h-1.1zM46.2 422.8h1.1v1.1h-1.1zM74.6 438.3h1.1v1.1h-1.1zM88.0 426.2h1.1v1.1h-1.1zM91.2 431.9h1.1v1.1h-1.1zM110.7 429.2h1.1v1.1h-1.1zM101.9 428.0h1.1v1.1h-1.1zM41.9 412.2h1.1v1.1h-1.1zM70.1 396.9h1.1v1.1h-1.1zM97.9 412.1h1.1v1.1h-1.1zM88.7 406.0h1.1v1.1h-1.1zM46.2 426.8h1.1v1.1h-1.1zM85.1 421.7h1.1v1.1h-1.1zM86.4 414.1h1.1v1.1h-1.1zM75.2 404.9h1.1v1.1h-1.1zM81.8 402.3h1.1v1.1h-1.1zM81.6 406.6h1.1v1.1h-1.1zM83.9 437.4h1.1v1.1h-1.1zM86.7 429.9h1.1v1.1h-1.1zM61.8 433.4h1.1v1.1h-1.1zM78.3 438.0h1.1v1.1h-1.1zM77.8 410.8h1.1v1.1h-1.1zM80.2 416.9h1.1v1.1h-1.1zM112.2 438.2h1.1v1.1h-1.1zM80.7 427.6h1.1v1.1h-1.1zM57.7 432.5h1.1v1.1h-1.1zM76.7 419.4h1.1v1.1h-1.1zM74.7 422.2h1.1v1.1h-1.1zM107.8 423.3h1.1v1.1h-1.1zM68.2 422.4h1.1v1.1h-1.1zM81.3 411.4h1.1v1.1h-1.1zM83.8 424.1h1.1v1.1h-1.1zM114.0 430.4h1.1v1.1h-1.1zM95.5 412.3h1.1v1.1h-1.1zM87.3 415.3h1.1v1.1h-1.1zM79.9 414.6h1.1v1.1h-1.1zM82.7 404.7h1.1v1.1h-1.1zM77.7 431.5h1.1v1.1h-1.1zM80.4 424.5h1.1v1.1h-1.1zM82.9 436.8h1.1v1.1h-1.1zM61.5 413.1h1.1v1.1h-1.1zM95.2 428.9h1.1v1.1h-1.1zM53.4 430.4h1.1v1.1h-1.1zM84.4 413.9h1.1v1.1h-1.1zM72.0 424.2h1.1v1.1h-1.1zM82.8 423.9h1.1v1.1h-1.1zM60.5 417.2h1.1v1.1h-1.1zM79.2 412.9h1.1v1.1h-1.1zM74.9 437.4h1.1v1.1h-1.1zM85.6 422.6h1.1v1.1h-1.1zM65.7 425.2h1.1v1.1h-1.1zM59.1 411.2h1.1v1.1h-1.1zM59.8 412.6h1.1v1.1h-1.1zM77.2 422.1h1.1v1.1h-1.1zM111.7 426.0h1.1v1.1h-1.1zM92.3 421.6h1.1v1.1h-1.1zM78.7 426.0h1.1v1.1h-1.1zM101.5 422.0h1.1v1.1h-1.1zM52.4 424.5h1.1v1.1h-1.1zM80.5 426.7h1.1v1.1h-1.1zM87.8 420.6h1.1v1.1h-1.1zM50.6 428.9h1.1v1.1h-1.1zM81.3 413.8h1.1v1.1h-1.1zM93.1 407.5h1.1v1.1h-1.1zM69.4 439.0h1.1v1.1h-1.1zM95.4 418.0h1.1v1.1h-1.1zM90.9 427.2h1.1v1.1h-1.1zM88.9 422.8h1.1v1.1h-1.1zM77.5 438.8h1.1v1.1h-1.1zM97.6 416.5h1.1v1.1h-1.1zM80.7 427.0h1.1v1.1h-1.1zM92.4 436.3h1.1v1.1h-1.1zM98.5 417.6h1.1v1.1h-1.1zM58.0 413.9h1.1v1.1h-1.1zM97.3 407.9h1.1v1.1h-1.1zM61.4 435.4h1.1v1.1h-1.1zM103.6 437.3h1.1v1.1h-1.1zM64.3 435.4h1.1v1.1h-1.1zM78.1 425.0h1.1v1.1h-1.1zM79.3 413.3h1.1v1.1h-1.1zM70.1 412.5h1.1v1.1h-1.1zM90.2 395.8h1.1v1.1h-1.1zM81.6 435.8h1.1v1.1h-1.1zM85.5 424.4h1.1v1.1h-1.1zM85.4 427.0h1.1v1.1h-1.1zM89.9 397.6h1.1v1.1h-1.1zM81.5 399.4h1.1v1.1h-1.1zM80.2 431.0h1.1v1.1h-1.1zM69.4 423.3h1.1v1.1h-1.1zM66.4 432.6h1.1v1.1h-1.1zM80.3 408.8h1.1v1.1h-1.1zM83.6 417.6h1.1v1.1h-1.1zM76.3 434.5h1.1v1.1h-1.1zM57.2 413.6h1.1v1.1h-1.1zM82.9 422.2h1.1v1.1h-1.1zM67.5 416.2h1.1v1.1h-1.1zM84.6 434.4h1.1v1.1h-1.1zM85.1 419.1h1.1v1.1h-1.1zM76.6 428.6h1.1v1.1h-1.1zM87.7 433.6h1.1v1.1h-1.1zM105.4 420.6h1.1v1.1h-1.1zM79.7 422.2h1.1v1.1h-1.1zM97.8 422.4h1.1v1.1h-1.1zM75.8 434.7h1.1v1.1h-1.1zM58.5 424.4h1.1v1.1h-1.1zM113.7 435.0h1.1v1.1h-1.1zM60.7 407.3h1.1v1.1h-1.1zM112.6 438.7h1.1v1.1h-1.1zM59.3 412.0h1.1v1.1h-1.1zM74.4 410.0h1.1v1.1h-1.1zM105.3 434.8h1.1v1.1h-1.1zM81.9 415.2h1.1v1.1h-1.1zM80.7 436.1h1.1v1.1h-1.1zM62.5 434.3h1.1v1.1h-1.1zM100.5 434.6h1.1v1.1h-1.1zM74.1 409.7h1.1v1.1h-1.1zM76.9 418.8h1.1v1.1h-1.1zM72.6 427.7h1.1v1.1h-1.1zM101.3 437.6h1.1v1.1h-1.1zM86.0 421.3h1.1v1.1h-1.1zM91.7 423.6h1.1v1.1h-1.1zM90.7 426.5h1.1v1.1h-1.1zM71.5 433.0h1.1v1.1h-1.1zM108.4 421.3h1.1v1.1h-1.1zM85.7 408.1h1.1v1.1h-1.1zM68.3 422.6h1.1v1.1h-1.1zM79.6 425.5h1.1v1.1h-1.1zM84.8 414.0h1.1v1.1h-1.1zM66.9 420.4h1.1v1.1h-1.1zM77.1 419.9h1.1v1.1h-1.1zM92.2 427.5h1.1v1.1h-1.1zM82.4 421.6h1.1v1.1h-1.1zM81.2 423.2h1.1v1.1h-1.1zM84.6 422.9h1.1v1.1h-1.1zM54.0 423.4h1.1v1.1h-1.1zM105.1 420.0h1.1v1.1h-1.1zM100.4 414.0h1.1v1.1h-1.1zM64.5 409.7h1.1v1.1h-1.1zM71.1 434.8h1.1v1.1h-1.1zM87.1 432.8h1.1v1.1h-1.1zM46.4 423.3h1.1v1.1h-1.1zM53.7 420.9h1.1v1.1h-1.1zM105.9 426.0h1.1v1.1h-1.1zM51.2 432.6h1.1v1.1h-1.1zM74.8 431.0h1.1v1.1h-1.1zM54.5 426.6h1.1v1.1h-1.1zM57.0 428.0h1.1v1.1h-1.1zM111.5 437.5h1.1v1.1h-1.1zM67.2 423.1h1.1v1.1h-1.1zM95.8 434.0h1.1v1.1h-1.1zM79.4 400.0h1.1v1.1h-1.1zM75.2 405.5h1.1v1.1h-1.1zM81.9 410.3h1.1v1.1h-1.1zM72.6 436.2h1.1v1.1h-1.1zM85.2 430.7h1.1v1.1h-1.1zM77.3 393.9h1.1v1.1h-1.1zM70.0 409.9h1.1v1.1h-1.1zM95.8 435.2h1.1v1.1h-1.1zM106.4 430.8h1.1v1.1h-1.1zM103.0 433.6h1.1v1.1h-1.1zM86.4 427.1h1.1v1.1h-1.1zM86.0 418.6h1.1v1.1h-1.1zM70.1 423.8h1.1v1.1h-1.1zM42.9 427.6h1.1v1.1h-1.1zM66.9 436.1h1.1v1.1h-1.1zM67.8 429.6h1.1v1.1h-1.1zM74.8 430.2h1.1v1.1h-1.1zM110.4 433.2h1.1v1.1h-1.1zM57.6 436.5h1.1v1.1h-1.1zM82.6 428.2h1.1v1.1h-1.1zM79.8 431.3h1.1v1.1h-1.1zM80.7 404.2h1.1v1.1h-1.1zM95.7 426.8h1.1v1.1h-1.1zM79.1 400.9h1.1v1.1h-1.1zM70.0 431.3h1.1v1.1h-1.1zM65.6 411.6h1.1v1.1h-1.1zM85.9 418.0h1.1v1.1h-1.1zM92.0 407.2h1.1v1.1h-1.1zM83.3 438.2h1.1v1.1h-1.1zM71.0 425.9h1.1v1.1h-1.1zM88.3 420.6h1.1v1.1h-1.1zM105.9 430.7h1.1v1.1h-1.1zM80.2 420.3h1.1v1.1h-1.1zM78.1 403.8h1.1v1.1h-1.1zM79.2 412.5h1.1v1.1h-1.1zM94.4 419.6h1.1v1.1h-1.1zM103.7 427.2h1.1v1.1h-1.1zM113.9 437.2h1.1v1.1h-1.1zM73.9 425.8h1.1v1.1h-1.1zM46.1 420.9h1.1v1.1h-1.1zM97.3 434.1h1.1v1.1h-1.1zM70.2 417.6h1.1v1.1h-1.1zM76.5 415.3h1.1v1.1h-1.1zM76.6 437.4h1.1v1.1h-1.1zM73.6 420.2h1.1v1.1h-1.1zM83.4 417.7h1.1v1.1h-1.1zM71.6 418.6h1.1v1.1h-1.1zM78.8 430.9h1.1v1.1h-1.1zM59.2 433.7h1.1v1.1h-1.1zM97.2 417.9h1.1v1.1h-1.1zM89.3 426.2h1.1v1.1h-1.1zM73.0 422.8h1.1v1.1h-1.1zM67.4 435.7h1.1v1.1h-1.1zM91.3 416.2h1.1v1.1h-1.1zM58.1 432.2h1.1v1.1h-1.1zM83.8 422.9h1.1v1.1h-1.1zM48.7 432.2h1.1v1.1h-1.1zM77.3 416.6h1.1v1.1h-1.1zM99.6 423.0h1.1v1.1h-1.1zM74.4 414.7h1.1v1.1h-1.1zM67.4 436.3h1.1v1.1h-1.1zM85.7 436.4h1.1v1.1h-1.1zM92.6 424.1h1.1v1.1h-1.1zM68.1 422.2h1.1v1.1h-1.1zM83.7 431.9h1.1v1.1h-1.1zM83.4 421.4h1.1v1.1h-1.1zM95.4 417.4h1.1v1.1h-1.1zM44.3 423.7h1.1v1.1h-1.1zM74.2 434.8h1.1v1.1h-1.1zM102.3 423.2h1.1v1.1h-1.1zM115.2 432.8h1.1v1.1h-1.1zM76.6 419.1h1.1v1.1h-1.1zM48.0 428.7h1.1v1.1h-1.1zM111.5 436.6h1.1v1.1h-1.1zM54.8 427.3h1.1v1.1h-1.1zM70.6 432.2h1.1v1.1h-1.1zM67.1 418.5h1.1v1.1h-1.1zM110.5 431.0h1.1v1.1h-1.1zM71.5 426.7h1.1v1.1h-1.1zM87.3 410.7h1.1v1.1h-1.1zM54.2 420.1h1.1v1.1h-1.1zM83.3 422.2h1.1v1.1h-1.1zM76.8 405.2h1.1v1.1h-1.1zM75.8 399.4h1.1v1.1h-1.1zM52.2 423.0h1.1v1.1h-1.1zM63.9 412.5h1.1v1.1h-1.1zM67.8 427.3h1.1v1.1h-1.1zM113.1 429.3h1.1v1.1h-1.1zM67.9 413.2h1.1v1.1h-1.1zM62.0 422.5h1.1v1.1h-1.1zM65.4 435.1h1.1v1.1h-1.1zM104.6 412.2h1.1v1.1h-1.1zM62.4 437.5h1.1v1.1h-1.1zM84.9 418.0h1.1v1.1h-1.1zM106.7 419.3h1.1v1.1h-1.1zM89.5 424.4h1.1v1.1h-1.1zM98.7 425.8h1.1v1.1h-1.1zM67.0 417.8h1.1v1.1h-1.1zM77.3 400.8h1.1v1.1h-1.1zM67.2 428.7h1.1v1.1h-1.1zM54.6 411.9h1.1v1.1h-1.1zM85.8 413.9h1.1v1.1h-1.1zM56.6 437.7h1.1v1.1h-1.1zM92.5 433.3h1.1v1.1h-1.1zM77.8 426.8h1.1v1.1h-1.1zM65.4 434.8h1.1v1.1h-1.1zM89.9 426.5h1.1v1.1h-1.1zM110.3 431.4h1.1v1.1h-1.1zM69.4 397.2h1.1v1.1h-1.1zM45.6 423.6h1.1v1.1h-1.1zM95.9 419.1h1.1v1.1h-1.1zM93.2 426.6h1.1v1.1h-1.1zM61.6 434.4h1.1v1.1h-1.1zM89.0 409.7h1.1v1.1h-1.1zM105.8 433.5h1.1v1.1h-1.1zM66.9 419.6h1.1v1.1h-1.1zM91.3 420.5h1.1v1.1h-1.1zM69.5 419.0h1.1v1.1h-1.1zM74.0 432.7h1.1v1.1h-1.1zM43.2 425.4h1.1v1.1h-1.1zM88.9 416.3h1.1v1.1h-1.1zM53.6 414.2h1.1v1.1h-1.1zM90.5 432.5h1.1v1.1h-1.1zM100.1 415.5h1.1v1.1h-1.1zM104.2 438.4h1.1v1.1h-1.1zM78.1 435.2h1.1v1.1h-1.1zM75.8 430.7h1.1v1.1h-1.1zM80.4 410.9h1.1v1.1h-1.1zM40.8 432.6h1.1v1.1h-1.1zM68.4 436.3h1.1v1.1h-1.1zM71.3 422.1h1.1v1.1h-1.1zM83.4 423.6h1.1v1.1h-1.1zM60.9 423.8h1.1v1.1h-1.1zM92.1 420.4h1.1v1.1h-1.1zM86.6 425.9h1.1v1.1h-1.1zM61.8 425.1h1.1v1.1h-1.1zM105.9 415.2h1.1v1.1h-1.1zM92.4 417.8h1.1v1.1h-1.1zM108.6 438.2h1.1v1.1h-1.1zM72.3 416.4h1.1v1.1h-1.1zM72.8 427.4h1.1v1.1h-1.1zM58.4 435.2h1.1v1.1h-1.1zM69.2 420.4h1.1v1.1h-1.1zM52.1 423.4h1.1v1.1h-1.1zM60.4 414.0h1.1v1.1h-1.1zM72.8 416.1h1.1v1.1h-1.1zM99.7 419.5h1.1v1.1h-1.1zM82.9 426.6h1.1v1.1h-1.1zM102.1 422.8h1.1v1.1h-1.1zM45.1 427.3h1.1v1.1h-1.1zM101.8 412.4h1.1v1.1h-1.1zM75.2 438.1h1.1v1.1h-1.1zM99.8 416.5h1.1v1.1h-1.1zM98.8 422.0h1.1v1.1h-1.1zM65.8 433.3h1.1v1.1h-1.1zM97.1 435.1h1.1v1.1h-1.1zM113.4 433.2h1.1v1.1h-1.1zM105.0 431.8h1.1v1.1h-1.1zM63.5 432.7h1.1v1.1h-1.1zM81.5 403.0h1.1v1.1h-1.1zM82.0 435.3h1.1v1.1h-1.1zM103.4 424.7h1.1v1.1h-1.1zM59.6 413.9h1.1v1.1h-1.1zM87.2 397.7h1.1v1.1h-1.1zM118.2 437.6h1.1v1.1h-1.1zM91.5 435.1h1.1v1.1h-1.1zM80.0 407.7h1.1v1.1h-1.1zM56.2 434.4h1.1v1.1h-1.1zM79.2 399.0h1.1v1.1h-1.1zM79.7 424.9h1.1v1.1h-1.1zM81.9 434.7h1.1v1.1h-1.1zM99.9 426.9h1.1v1.1h-1.1zM81.0 430.9h1.1v1.1h-1.1zM79.0 418.4h1.1v1.1h-1.1zM83.8 416.4h1.1v1.1h-1.1zM108.0 434.2h1.1v1.1h-1.1zM86.2 432.9h1.1v1.1h-1.1zM82.7 410.2h1.1v1.1h-1.1zM72.8 416.1h1.1v1.1h-1.1zM96.8 433.7h1.1v1.1h-1.1zM83.3 407.0h1.1v1.1h-1.1zM103.8 426.1h1.1v1.1h-1.1zM81.5 418.5h1.1v1.1h-1.1zM91.3 428.5h1.1v1.1h-1.1zM70.7 422.1h1.1v1.1h-1.1zM101.8 432.6h1.1v1.1h-1.1zM84.3 416.5h1.1v1.1h-1.1zM79.6 427.7h1.1v1.1h-1.1zM78.0 414.8h1.1v1.1h-1.1zM58.5 436.5h1.1v1.1h-1.1zM96.9 420.7h1.1v1.1h-1.1zM68.4 413.8h1.1v1.1h-1.1zM71.4 405.2h1.1v1.1h-1.1zM100.7 430.2h1.1v1.1h-1.1zM71.0 416.4h1.1v1.1h-1.1zM43.8 414.8h1.1v1.1h-1.1zM67.7 437.9h1.1v1.1h-1.1zM104.8 425.0h1.1v1.1h-1.1zM68.4 435.1h1.1v1.1h-1.1zM81.4 438.7h1.1v1.1h-1.1zM81.6 422.8h1.1v1.1h-1.1zM57.9 418.7h1.1v1.1h-1.1zM72.4 411.8h1.1v1.1h-1.1zM79.3 406.5h1.1v1.1h-1.1zM111.0 435.2h1.1v1.1h-1.1zM65.7 427.7h1.1v1.1h-1.1zM91.7 409.8h1.1v1.1h-1.1zM91.6 435.1h1.1v1.1h-1.1zM72.1 415.1h1.1v1.1h-1.1zM104.1 438.6h1.1v1.1h-1.1zM97.5 438.6h1.1v1.1h-1.1zM90.2 426.6h1.1v1.1h-1.1zM74.6 420.6h1.1v1.1h-1.1zM82.5 427.0h1.1v1.1h-1.1zM92.9 426.9h1.1v1.1h-1.1zM86.5 423.7h1.1v1.1h-1.1zM79.9 416.8h1.1v1.1h-1.1zM68.9 418.8h1.1v1.1h-1.1zM92.7 438.3h1.1v1.1h-1.1zM74.5 422.0h1.1v1.1h-1.1zM63.9 422.7h1.1v1.1h-1.1zM76.4 410.2h1.1v1.1h-1.1zM77.0 418.5h1.1v1.1h-1.1zM78.4 430.1h1.1v1.1h-1.1zM81.9 417.1h1.1v1.1h-1.1zM89.1 425.2h1.1v1.1h-1.1zM109.7 437.4h1.1v1.1h-1.1zM62.5 416.3h1.1v1.1h-1.1zM78.0 421.2h1.1v1.1h-1.1zM64.4 437.1h1.1v1.1h-1.1zM54.2 424.7h1.1v1.1h-1.1zM96.8 436.1h1.1v1.1h-1.1zM94.9 423.1h1.1v1.1h-1.1zM84.2 412.4h1.1v1.1h-1.1zM76.3 405.1h1.1v1.1h-1.1zM86.6 410.0h1.1v1.1h-1.1zM79.6 414.0h1.1v1.1h-1.1zM57.3 435.2h1.1v1.1h-1.1zM74.9 438.3h1.1v1.1h-1.1zM101.2 414.1h1.1v1.1h-1.1zM91.5 425.9h1.1v1.1h-1.1zM90.9 415.1h1.1v1.1h-1.1zM83.6 419.0h1.1v1.1h-1.1zM97.6 425.8h1.1v1.1h-1.1zM71.2 432.2h1.1v1.1h-1.1zM80.7 427.9h1.1v1.1h-1.1zM51.8 420.4h1.1v1.1h-1.1zM79.4 437.3h1.1v1.1h-1.1zM47.3 426.3h1.1v1.1h-1.1zM61.0 428.7h1.1v1.1h-1.1zM104.8 437.9h1.1v1.1h-1.1zM104.1 431.5h1.1v1.1h-1.1zM43.4 422.1h1.1v1.1h-1.1zM103.0 434.2h1.1v1.1h-1.1zM67.3 410.3h1.1v1.1h-1.1zM70.3 438.4h1.1v1.1h-1.1zM76.9 422.8h1.1v1.1h-1.1zM101.3 421.4h1.1v1.1h-1.1zM105.0 438.2h1.1v1.1h-1.1zM66.9 427.8h1.1v1.1h-1.1zM92.7 422.1h1.1v1.1h-1.1zM76.5 435.0h1.1v1.1h-1.1zM82.8 427.9h1.1v1.1h-1.1zM64.3 419.4h1.1v1.1h-1.1zM109.9 431.5h1.1v1.1h-1.1zM72.9 399.2h1.1v1.1h-1.1zM65.6 424.7h1.1v1.1h-1.1zM83.7 416.2h1.1v1.1h-1.1zM66.6 410.4h1.1v1.1h-1.1zM91.9 425.3h1.1v1.1h-1.1zM73.9 420.6h1.1v1.1h-1.1zM105.3 432.8h1.1v1.1h-1.1zM43.4 418.8h1.1v1.1h-1.1zM90.1 437.8h1.1v1.1h-1.1zM66.5 428.1h1.1v1.1h-1.1zM42.7 411.7h1.1v1.1h-1.1zM79.9 427.8h1.1v1.1h-1.1zM103.5 431.9h1.1v1.1h-1.1zM78.7 425.9h1.1v1.1h-1.1zM94.5 425.8h1.1v1.1h-1.1zM51.2 435.2h1.1v1.1h-1.1zM79.5 418.2h1.1v1.1h-1.1zM115.2 433.1h1.1v1.1h-1.1zM98.1 437.2h1.1v1.1h-1.1zM62.9 435.9h1.1v1.1h-1.1zM43.2 418.6h1.1v1.1h-1.1zM86.1 432.3h1.1v1.1h-1.1zM75.4 436.1h1.1v1.1h-1.1zM73.5 416.1h1.1v1.1h-1.1zM63.0 409.2h1.1v1.1h-1.1zM90.9 420.9h1.1v1.1h-1.1zM102.3 434.4h1.1v1.1h-1.1zM60.0 427.1h1.1v1.1h-1.1zM79.9 438.0h1.1v1.1h-1.1zM96.0 416.4h1.1v1.1h-1.1zM84.3 422.6h1.1v1.1h-1.1zM99.2 421.2h1.1v1.1h-1.1zM76.5 394.2h1.1v1.1h-1.1zM91.1 417.9h1.1v1.1h-1.1zM85.9 417.9h1.1v1.1h-1.1zM74.5 431.5h1.1v1.1h-1.1zM88.4 431.9h1.1v1.1h-1.1zM74.8 424.9h1.1v1.1h-1.1zM79.9 430.5h1.1v1.1h-1.1zM65.0 426.6h1.1v1.1h-1.1zM70.5 411.9h1.1v1.1h-1.1zM91.1 415.2h1.1v1.1h-1.1zM63.4 418.9h1.1v1.1h-1.1zM109.2 425.2h1.1v1.1h-1.1zM67.3 414.1h1.1v1.1h-1.1zM78.7 418.6h1.1v1.1h-1.1zM93.2 417.3h1.1v1.1h-1.1zM41.7 421.3h1.1v1.1h-1.1zM71.6 422.8h1.1v1.1h-1.1zM79.6 418.7h1.1v1.1h-1.1zM57.3 407.9h1.1v1.1h-1.1zM64.2 423.0h1.1v1.1h-1.1zM48.3 415.8h1.1v1.1h-1.1zM54.5 432.6h1.1v1.1h-1.1zM105.1 420.7h1.1v1.1h-1.1zM72.8 438.2h1.1v1.1h-1.1zM62.9 428.0h1.1v1.1h-1.1zM104.1 432.6h1.1v1.1h-1.1zM103.0 413.7h1.1v1.1h-1.1zM82.8 419.7h1.1v1.1h-1.1zM98.6 434.9h1.1v1.1h-1.1zM99.2 421.8h1.1v1.1h-1.1zM89.7 434.2h1.1v1.1h-1.1zM88.1 437.7h1.1v1.1h-1.1zM66.3 434.4h1.1v1.1h-1.1zM72.0 436.8h1.1v1.1h-1.1zM82.9 418.4h1.1v1.1h-1.1zM94.3 438.9h1.1v1.1h-1.1zM105.0 435.1h1.1v1.1h-1.1zM108.5 427.3h1.1v1.1h-1.1zM77.4 418.3h1.1v1.1h-1.1zM86.6 418.6h1.1v1.1h-1.1zM102.2 438.6h1.1v1.1h-1.1zM75.1 420.7h1.1v1.1h-1.1zM96.7 410.2h1.1v1.1h-1.1zM114.2 436.8h1.1v1.1h-1.1zM108.7 438.1h1.1v1.1h-1.1zM57.2 426.4h1.1v1.1h-1.1zM61.4 425.8h1.1v1.1h-1.1zM58.4 428.7h1.1v1.1h-1.1zM108.4 415.7h1.1v1.1h-1.1zM49.9 424.9h1.1v1.1h-1.1zM80.9 427.4h1.1v1.1h-1.1zM79.3 419.2h1.1v1.1h-1.1zM108.4 438.6h1.1v1.1h-1.1zM82.0 415.1h1.1v1.1h-1.1zM106.6 435.6h1.1v1.1h-1.1zM83.9 436.9h1.1v1.1h-1.1zM74.3 406.9h1.1v1.1h-1.1zM115.5 438.3h1.1v1.1h-1.1zM68.1 420.8h1.1v1.1h-1.1zM90.9 436.6h1.1v1.1h-1.1zM91.1 418.1h1.1v1.1h-1.1zM100.7 434.5h1.1v1.1h-1.1zM70.1 413.4h1.1v1.1h-1.1zM100.1 429.4h1.1v1.1h-1.1zM75.7 418.2h1.1v1.1h-1.1zM46.2 427.6h1.1v1.1h-1.1zM64.8 429.9h1.1v1.1h-1.1zM52.9 419.3h1.1v1.1h-1.1zM60.9 438.5h1.1v1.1h-1.1zM74.5 409.9h1.1v1.1h-1.1zM72.4 425.3h1.1v1.1h-1.1zM105.4 422.3h1.1v1.1h-1.1zM101.6 419.3h1.1v1.1h-1.1zM57.9 412.3h1.1v1.1h-1.1zM60.3 425.6h1.1v1.1h-1.1zM53.0 428.7h1.1v1.1h-1.1zM45.9 433.6h1.1v1.1h-1.1zM63.4 427.1h1.1v1.1h-1.1zM55.0 421.7h1.1v1.1h-1.1zM117.9 437.2h1.1v1.1h-1.1zM64.5 421.3h1.1v1.1h-1.1zM55.0 416.4h1.1v1.1h-1.1zM69.6 429.3h1.1v1.1h-1.1zM99.9 420.0h1.1v1.1h-1.1zM71.9 429.7h1.1v1.1h-1.1zM89.5 411.2h1.1v1.1h-1.1zM85.2 423.5h1.1v1.1h-1.1zM94.3 434.6h1.1v1.1h-1.1zM54.8 425.8h1.1v1.1h-1.1zM108.0 424.2h1.1v1.1h-1.1zM59.1 417.6h1.1v1.1h-1.1zM91.0 414.5h1.1v1.1h-1.1zM98.7 432.5h1.1v1.1h-1.1zM81.1 413.2h1.1v1.1h-1.1zM65.0 401.8h1.1v1.1h-1.1zM69.3 418.1h1.1v1.1h-1.1zM84.1 429.3h1.1v1.1h-1.1zM69.6 431.2h1.1v1.1h-1.1zM106.2 428.3h1.1v1.1h-1.1zM83.1 428.6h1.1v1.1h-1.1zM111.4 426.2h1.1v1.1h-1.1zM105.8 415.7h1.1v1.1h-1.1zM89.1 432.2h1.1v1.1h-1.1zM85.4 421.3h1.1v1.1h-1.1zM58.2 421.3h1.1v1.1h-1.1zM72.2 407.4h1.1v1.1h-1.1zM93.3 406.0h1.1v1.1h-1.1zM93.3 418.9h1.1v1.1h-1.1zM73.7 419.8h1.1v1.1h-1.1zM54.7 436.7h1.1v1.1h-1.1zM73.7 432.8h1.1v1.1h-1.1zM68.7 435.7h1.1v1.1h-1.1zM81.8 411.1h1.1v1.1h-1.1zM110.0 430.5h1.1v1.1h-1.1zM71.3 425.6h1.1v1.1h-1.1zM62.5 421.8h1.1v1.1h-1.1zM63.7 416.4h1.1v1.1h-1.1zM108.1 431.2h1.1v1.1h-1.1zM71.7 415.8h1.1v1.1h-1.1zM102.6 432.4h1.1v1.1h-1.1zM52.8 413.2h1.1v1.1h-1.1zM68.4 429.1h1.1v1.1h-1.1zM56.6 428.3h1.1v1.1h-1.1zM68.1 417.1h1.1v1.1h-1.1zM77.3 434.5h1.1v1.1h-1.1zM84.7 432.8h1.1v1.1h-1.1zM83.5 422.7h1.1v1.1h-1.1zM96.5 419.5h1.1v1.1h-1.1zM69.1 410.9h1.1v1.1h-1.1zM63.2 420.2h1.1v1.1h-1.1zM83.2 409.9h1.1v1.1h-1.1zM76.2 403.4h1.1v1.1h-1.1zM106.7 426.4h1.1v1.1h-1.1zM58.9 435.5h1.1v1.1h-1.1zM86.0 412.3h1.1v1.1h-1.1zM64.0 424.5h1.1v1.1h-1.1zM59.9 417.6h1.1v1.1h-1.1zM71.3 417.0h1.1v1.1h-1.1zM86.8 430.0h1.1v1.1h-1.1zM53.0 412.1h1.1v1.1h-1.1zM83.5 425.1h1.1v1.1h-1.1zM63.0 425.5h1.1v1.1h-1.1zM112.9 437.7h1.1v1.1h-1.1zM88.0 422.8h1.1v1.1h-1.1zM73.3 430.3h1.1v1.1h-1.1zM90.0 415.9h1.1v1.1h-1.1zM83.9 411.7h1.1v1.1h-1.1zM65.3 430.2h1.1v1.1h-1.1zM84.8 414.6h1.1v1.1h-1.1zM82.2 405.7h1.1v1.1h-1.1zM80.7 433.6h1.1v1.1h-1.1zM81.4 417.1h1.1v1.1h-1.1zM86.0 423.6h1.1v1.1h-1.1zM99.2 421.9h1.1v1.1h-1.1zM91.6 417.2h1.1v1.1h-1.1zM92.8 422.9h1.1v1.1h-1.1zM84.8 412.0h1.1v1.1h-1.1zM59.7 427.6h1.1v1.1h-1.1zM71.4 400.6h1.1v1.1h-1.1zM81.5 407.6h1.1v1.1h-1.1zM114.2 437.6h1.1v1.1h-1.1zM112.8 437.5h1.1v1.1h-1.1zM75.7 435.7h1.1v1.1h-1.1zM68.0 419.2h1.1v1.1h-1.1zM68.8 433.6h1.1v1.1h-1.1zM102.4 431.2h1.1v1.1h-1.1zM86.2 413.9h1.1v1.1h-1.1zM69.1 425.0h1.1v1.1h-1.1zM78.3 412.4h1.1v1.1h-1.1zM56.7 415.3h1.1v1.1h-1.1zM49.7 427.6h1.1v1.1h-1.1zM72.1 420.8h1.1v1.1h-1.1zM70.7 421.7h1.1v1.1h-1.1zM63.2 437.6h1.1v1.1h-1.1zM82.1 414.0h1.1v1.1h-1.1zM69.8 417.8h1.1v1.1h-1.1zM66.7 431.5h1.1v1.1h-1.1zM67.1 425.6h1.1v1.1h-1.1zM92.3 438.3h1.1v1.1h-1.1zM94.9 421.4h1.1v1.1h-1.1zM95.6 413.9h1.1v1.1h-1.1zM86.9 427.3h1.1v1.1h-1.1zM65.7 417.4h1.1v1.1h-1.1zM104.9 435.9h1.1v1.1h-1.1zM75.8 431.8h1.1v1.1h-1.1zM110.3 426.8h1.1v1.1h-1.1zM81.1 437.2h1.1v1.1h-1.1zM79.6 423.6h1.1v1.1h-1.1zM86.6 426.9h1.1v1.1h-1.1zM61.9 435.1h1.1v1.1h-1.1zM66.8 426.9h1.1v1.1h-1.1zM89.0 429.0h1.1v1.1h-1.1zM61.0 427.0h1.1v1.1h-1.1zM69.9 417.8h1.1v1.1h-1.1zM92.5 418.4h1.1v1.1h-1.1zM111.8 437.5h1.1v1.1h-1.1zM79.3 436.6h1.1v1.1h-1.1zM101.1 436.4h1.1v1.1h-1.1zM86.0 421.1h1.1v1.1h-1.1zM83.5 414.2h1.1v1.1h-1.1zM98.0 419.9h1.1v1.1h-1.1zM65.6 408.0h1.1v1.1h-1.1zM110.7 432.0h1.1v1.1h-1.1zM105.5 430.0h1.1v1.1h-1.1zM80.0 424.9h1.1v1.1h-1.1zM46.8 413.2h1.1v1.1h-1.1zM85.4 424.8h1.1v1.1h-1.1zM69.7 437.2h1.1v1.1h-1.1zM77.2 420.3h1.1v1.1h-1.1zM110.0 432.0h1.1v1.1h-1.1zM85.9 426.6h1.1v1.1h-1.1zM94.4 417.2h1.1v1.1h-1.1zM93.3 430.7h1.1v1.1h-1.1zM107.7 435.3h1.1v1.1h-1.1zM78.4 416.7h1.1v1.1h-1.1zM62.7 432.6h1.1v1.1h-1.1zM48.7 426.7h1.1v1.1h-1.1zM68.4 403.0h1.1v1.1h-1.1zM100.7 415.4h1.1v1.1h-1.1zM93.8 430.3h1.1v1.1h-1.1zM112.2 435.9h1.1v1.1h-1.1zM83.3 413.2h1.1v1.1h-1.1zM70.6 425.9h1.1v1.1h-1.1zM53.0 428.4h1.1v1.1h-1.1zM76.4 427.2h1.1v1.1h-1.1zM80.6 430.2h1.1v1.1h-1.1zM73.9 422.8h1.1v1.1h-1.1zM49.9 435.7h1.1v1.1h-1.1zM82.3 421.7h1.1v1.1h-1.1zM86.1 429.8h1.1v1.1h-1.1zM81.0 432.1h1.1v1.1h-1.1zM91.0 420.1h1.1v1.1h-1.1zM104.8 423.4h1.1v1.1h-1.1zM53.6 430.4h1.1v1.1h-1.1zM81.7 425.2h1.1v1.1h-1.1zM66.9 435.1h1.1v1.1h-1.1zM73.9 435.3h1.1v1.1h-1.1zM99.9 420.5h1.1v1.1h-1.1zM110.2 436.0h1.1v1.1h-1.1zM97.4 423.3h1.1v1.1h-1.1zM79.1 425.3h1.1v1.1h-1.1zM97.0 403.7h1.1v1.1h-1.1zM51.1 434.5h1.1v1.1h-1.1zM80.8 414.0h1.1v1.1h-1.1zM76.3 405.9h1.1v1.1h-1.1zM100.3 418.2h1.1v1.1h-1.1zM43.6 436.5h1.1v1.1h-1.1zM96.3 428.1h1.1v1.1h-1.1zM103.4 434.2h1.1v1.1h-1.1zM73.2 404.9h1.1v1.1h-1.1zM64.8 402.1h1.1v1.1h-1.1zM88.3 421.4h1.1v1.1h-1.1zM64.2 412.7h1.1v1.1h-1.1zM87.1 427.7h1.1v1.1h-1.1zM104.2 423.2h1.1v1.1h-1.1zM45.1 434.1h1.1v1.1h-1.1zM69.7 410.2h1.1v1.1h-1.1zM69.5 427.2h1.1v1.1h-1.1zM90.6 412.1h1.1v1.1h-1.1zM55.6 419.0h1.1v1.1h-1.1zM112.1 437.3h1.1v1.1h-1.1zM91.8 431.1h1.1v1.1h-1.1zM91.4 419.4h1.1v1.1h-1.1zM54.9 421.6h1.1v1.1h-1.1zM93.8 416.3h1.1v1.1h-1.1zM93.9 420.2h1.1v1.1h-1.1zM84.0 413.8h1.1v1.1h-1.1zM74.9 417.9h1.1v1.1h-1.1zM84.2 437.2h1.1v1.1h-1.1zM86.0 434.4h1.1v1.1h-1.1zM75.1 423.6h1.1v1.1h-1.1zM82.7 407.3h1.1v1.1h-1.1zM108.5 428.4h1.1v1.1h-1.1zM65.5 414.3h1.1v1.1h-1.1zM99.7 416.3h1.1v1.1h-1.1zM111.2 424.1h1.1v1.1h-1.1zM81.6 437.9h1.1v1.1h-1.1zM74.4 429.6h1.1v1.1h-1.1zM101.4 424.4h1.1v1.1h-1.1zM66.2 420.1h1.1v1.1h-1.1zM73.5 405.4h1.1v1.1h-1.1zM88.4 416.2h1.1v1.1h-1.1zM77.6 422.9h1.1v1.1h-1.1zM93.5 432.2h1.1v1.1h-1.1zM76.0 423.0h1.1v1.1h-1.1zM110.8 436.6h1.1v1.1h-1.1zM102.6 430.3h1.1v1.1h-1.1zM72.0 418.4h1.1v1.1h-1.1zM60.8 418.7h1.1v1.1h-1.1zM89.1 412.3h1.1v1.1h-1.1zM58.9 438.8h1.1v1.1h-1.1zM61.1 419.9h1.1v1.1h-1.1zM65.6 428.8h1.1v1.1h-1.1zM78.1 420.4h1.1v1.1h-1.1zM111.5 437.9h1.1v1.1h-1.1zM98.0 403.6h1.1v1.1h-1.1zM76.5 392.4h1.1v1.1h-1.1zM93.6 420.6h1.1v1.1h-1.1zM70.0 408.6h1.1v1.1h-1.1zM90.1 407.8h1.1v1.1h-1.1zM75.3 431.5h1.1v1.1h-1.1zM84.3 414.1h1.1v1.1h-1.1zM66.5 431.4h1.1v1.1h-1.1zM55.0 431.9h1.1v1.1h-1.1zM111.9 436.1h1.1v1.1h-1.1zM49.9 424.2h1.1v1.1h-1.1zM101.9 429.0h1.1v1.1h-1.1zM66.9 437.0h1.1v1.1h-1.1zM53.3 421.1h1.1v1.1h-1.1zM84.1 426.9h1.1v1.1h-1.1zM54.8 428.0h1.1v1.1h-1.1zM69.2 433.9h1.1v1.1h-1.1zM50.7 434.8h1.1v1.1h-1.1zM49.4 415.9h1.1v1.1h-1.1zM107.6 418.0h1.1v1.1h-1.1zM107.8 432.4h1.1v1.1h-1.1zM55.5 419.1h1.1v1.1h-1.1zM82.3 404.2h1.1v1.1h-1.1zM87.6 435.2h1.1v1.1h-1.1zM89.8 416.4h1.1v1.1h-1.1zM70.9 424.2h1.1v1.1h-1.1zM73.5 409.4h1.1v1.1h-1.1zM62.0 418.2h1.1v1.1h-1.1zM87.0 436.1h1.1v1.1h-1.1zM61.4 420.7h1.1v1.1h-1.1zM111.5 432.1h1.1v1.1h-1.1zM76.8 425.1h1.1v1.1h-1.1zM99.6 425.3h1.1v1.1h-1.1zM63.2 426.7h1.1v1.1h-1.1zM71.2 425.4h1.1v1.1h-1.1zM60.3 418.6h1.1v1.1h-1.1zM72.3 426.7h1.1v1.1h-1.1zM49.8 427.6h1.1v1.1h-1.1zM56.9 418.1h1.1v1.1h-1.1zM88.0 429.7h1.1v1.1h-1.1zM102.8 425.5h1.1v1.1h-1.1zM103.9 434.3h1.1v1.1h-1.1zM75.8 418.1h1.1v1.1h-1.1zM67.1 426.6h1.1v1.1h-1.1zM79.0 416.8h1.1v1.1h-1.1zM85.1 433.3h1.1v1.1h-1.1zM91.1 435.5h1.1v1.1h-1.1zM67.2 430.9h1.1v1.1h-1.1zM67.6 405.4h1.1v1.1h-1.1zM62.0 434.2h1.1v1.1h-1.1zM103.0 423.8h1.1v1.1h-1.1zM64.0 403.0h1.1v1.1h-1.1zM47.1 423.6h1.1v1.1h-1.1zM93.0 432.9h1.1v1.1h-1.1zM91.7 421.2h1.1v1.1h-1.1zM114.1 433.1h1.1v1.1h-1.1zM78.0 419.4h1.1v1.1h-1.1zM56.5 438.3h1.1v1.1h-1.1zM91.7 427.8h1.1v1.1h-1.1zM101.9 418.5h1.1v1.1h-1.1zM58.4 423.3h1.1v1.1h-1.1zM55.3 425.4h1.1v1.1h-1.1zM83.2 416.7h1.1v1.1h-1.1zM92.8 422.8h1.1v1.1h-1.1zM54.3 434.2h1.1v1.1h-1.1zM74.0 418.4h1.1v1.1h-1.1zM104.5 424.7h1.1v1.1h-1.1zM87.7 402.9h1.1v1.1h-1.1zM85.3 408.2h1.1v1.1h-1.1zM69.7 410.2h1.1v1.1h-1.1zM86.2 427.9h1.1v1.1h-1.1zM98.4 420.1h1.1v1.1h-1.1zM98.9 438.1h1.1v1.1h-1.1zM94.2 406.6h1.1v1.1h-1.1zM68.2 404.3h1.1v1.1h-1.1zM77.1 419.6h1.1v1.1h-1.1zM69.0 412.5h1.1v1.1h-1.1zM69.3 431.5h1.1v1.1h-1.1zM88.0 409.3h1.1v1.1h-1.1zM114.7 430.1h1.1v1.1h-1.1zM84.2 422.4h1.1v1.1h-1.1zM45.6 419.1h1.1v1.1h-1.1zM201.3 404.8h1.1v1.1h-1.1zM156.4 438.2h1.1v1.1h-1.1zM173.3 426.3h1.1v1.1h-1.1zM191.1 402.2h1.1v1.1h-1.1zM205.0 416.7h1.1v1.1h-1.1zM167.2 393.5h1.1v1.1h-1.1zM198.6 439.7h1.1v1.1h-1.1zM207.4 401.6h1.1v1.1h-1.1zM200.9 436.3h1.1v1.1h-1.1zM160.8 384.5h1.1v1.1h-1.1zM168.5 384.8h1.1v1.1h-1.1zM180.4 388.2h1.1v1.1h-1.1zM190.5 401.1h1.1v1.1h-1.1zM199.4 385.9h1.1v1.1h-1.1zM159.1 425.0h1.1v1.1h-1.1zM179.1 398.2h1.1v1.1h-1.1zM168.6 426.7h1.1v1.1h-1.1zM159.7 420.8h1.1v1.1h-1.1zM200.2 436.1h1.1v1.1h-1.1zM185.6 385.3h1.1v1.1h-1.1zM168.2 411.0h1.1v1.1h-1.1zM178.0 420.2h1.1v1.1h-1.1zM197.3 430.1h1.1v1.1h-1.1zM182.8 417.6h1.1v1.1h-1.1zM179.6 432.4h1.1v1.1h-1.1zM164.5 389.1h1.1v1.1h-1.1zM161.4 406.1h1.1v1.1h-1.1zM154.1 430.0h1.1v1.1h-1.1zM194.8 421.4h1.1v1.1h-1.1zM156.5 421.5h1.1v1.1h-1.1zM159.2 404.9h1.1v1.1h-1.1zM208.2 435.9h1.1v1.1h-1.1zM181.0 384.4h1.1v1.1h-1.1zM192.3 375.7h1.1v1.1h-1.1zM175.6 406.8h1.1v1.1h-1.1zM211.4 413.6h1.1v1.1h-1.1zM203.8 410.8h1.1v1.1h-1.1zM169.8 384.2h1.1v1.1h-1.1zM158.4 407.7h1.1v1.1h-1.1zM158.5 405.6h1.1v1.1h-1.1zM167.9 394.1h1.1v1.1h-1.1zM162.0 413.9h1.1v1.1h-1.1zM200.7 402.3h1.1v1.1h-1.1zM180.4 436.8h1.1v1.1h-1.1zM187.1 371.8h1.1v1.1h-1.1zM202.0 431.7h1.1v1.1h-1.1zM184.8 401.2h1.1v1.1h-1.1zM166.9 393.5h1.1v1.1h-1.1zM197.7 413.5h1.1v1.1h-1.1zM187.6 437.8h1.1v1.1h-1.1zM192.5 406.0h1.1v1.1h-1.1zM193.0 393.2h1.1v1.1h-1.1zM205.1 368.0h1.1v1.1h-1.1zM186.5 411.7h1.1v1.1h-1.1zM174.2 431.1h1.1v1.1h-1.1zM164.6 436.5h1.1v1.1h-1.1zM163.9 408.2h1.1v1.1h-1.1zM189.9 418.7h1.1v1.1h-1.1zM192.5 409.2h1.1v1.1h-1.1zM204.5 424.9h1.1v1.1h-1.1zM170.3 384.2h1.1v1.1h-1.1zM170.4 387.3h1.1v1.1h-1.1zM195.1 433.0h1.1v1.1h-1.1zM157.1 420.6h1.1v1.1h-1.1zM204.8 428.5h1.1v1.1h-1.1zM188.8 393.9h1.1v1.1h-1.1zM187.0 439.8h1.1v1.1h-1.1zM198.1 399.3h1.1v1.1h-1.1zM204.6 420.0h1.1v1.1h-1.1zM152.4 430.3h1.1v1.1h-1.1zM186.7 424.7h1.1v1.1h-1.1zM162.2 414.4h1.1v1.1h-1.1zM181.0 406.7h1.1v1.1h-1.1zM197.6 404.0h1.1v1.1h-1.1zM199.8 400.3h1.1v1.1h-1.1zM176.7 413.6h1.1v1.1h-1.1zM196.0 397.3h1.1v1.1h-1.1zM166.7 408.9h1.1v1.1h-1.1zM186.7 402.3h1.1v1.1h-1.1zM188.9 416.5h1.1v1.1h-1.1zM172.6 427.5h1.1v1.1h-1.1zM183.2 436.4h1.1v1.1h-1.1zM185.7 436.5h1.1v1.1h-1.1zM161.3 401.0h1.1v1.1h-1.1zM190.7 382.7h1.1v1.1h-1.1zM169.5 439.6h1.1v1.1h-1.1zM193.6 386.2h1.1v1.1h-1.1zM181.0 396.7h1.1v1.1h-1.1zM152.9 434.3h1.1v1.1h-1.1zM176.2 392.9h1.1v1.1h-1.1zM192.2 423.9h1.1v1.1h-1.1zM198.3 409.6h1.1v1.1h-1.1zM192.0 433.1h1.1v1.1h-1.1zM193.0 435.1h1.1v1.1h-1.1zM199.8 432.3h1.1v1.1h-1.1zM189.3 402.0h1.1v1.1h-1.1zM157.3 405.3h1.1v1.1h-1.1zM149.9 434.7h1.1v1.1h-1.1zM163.5 384.4h1.1v1.1h-1.1zM170.4 392.0h1.1v1.1h-1.1zM162.4 396.0h1.1v1.1h-1.1zM182.0 430.7h1.1v1.1h-1.1zM176.6 431.8h1.1v1.1h-1.1zM159.7 421.0h1.1v1.1h-1.1zM180.6 415.3h1.1v1.1h-1.1zM195.9 411.5h1.1v1.1h-1.1zM169.0 428.8h1.1v1.1h-1.1zM154.2 417.7h1.1v1.1h-1.1zM186.6 385.2h1.1v1.1h-1.1zM205.8 427.5h1.1v1.1h-1.1zM165.3 404.4h1.1v1.1h-1.1zM193.2 404.0h1.1v1.1h-1.1zM162.9 399.2h1.1v1.1h-1.1zM156.3 403.4h1.1v1.1h-1.1zM185.2 415.1h1.1v1.1h-1.1zM183.9 402.2h1.1v1.1h-1.1zM179.7 437.0h1.1v1.1h-1.1zM179.9 410.8h1.1v1.1h-1.1zM197.7 382.2h1.1v1.1h-1.1zM181.0 400.0h1.1v1.1h-1.1zM155.1 420.5h1.1v1.1h-1.1zM195.3 390.6h1.1v1.1h-1.1zM180.1 417.6h1.1v1.1h-1.1zM176.7 438.7h1.1v1.1h-1.1zM185.2 437.4h1.1v1.1h-1.1zM188.1 394.7h1.1v1.1h-1.1zM201.7 388.6h1.1v1.1h-1.1zM202.3 430.2h1.1v1.1h-1.1zM195.6 405.1h1.1v1.1h-1.1zM200.6 402.8h1.1v1.1h-1.1zM179.8 379.7h1.1v1.1h-1.1zM168.6 430.8h1.1v1.1h-1.1zM200.6 425.3h1.1v1.1h-1.1zM201.9 381.2h1.1v1.1h-1.1zM187.2 435.3h1.1v1.1h-1.1zM182.0 427.6h1.1v1.1h-1.1zM211.4 431.2h1.1v1.1h-1.1zM157.7 431.0h1.1v1.1h-1.1zM182.6 405.2h1.1v1.1h-1.1zM191.9 408.1h1.1v1.1h-1.1zM186.4 436.3h1.1v1.1h-1.1zM178.2 399.9h1.1v1.1h-1.1zM185.0 389.3h1.1v1.1h-1.1zM186.7 433.0h1.1v1.1h-1.1zM158.8 425.0h1.1v1.1h-1.1zM171.0 416.0h1.1v1.1h-1.1zM207.2 405.9h1.1v1.1h-1.1zM164.2 407.2h1.1v1.1h-1.1zM185.3 394.1h1.1v1.1h-1.1zM182.2 429.5h1.1v1.1h-1.1zM170.0 385.4h1.1v1.1h-1.1zM162.4 392.5h1.1v1.1h-1.1zM155.3 401.5h1.1v1.1h-1.1zM170.9 407.8h1.1v1.1h-1.1zM213.1 427.5h1.1v1.1h-1.1zM202.0 411.8h1.1v1.1h-1.1zM172.1 410.8h1.1v1.1h-1.1zM175.1 388.0h1.1v1.1h-1.1zM193.1 372.8h1.1v1.1h-1.1zM178.5 419.3h1.1v1.1h-1.1zM160.8 411.2h1.1v1.1h-1.1zM154.0 433.8h1.1v1.1h-1.1zM183.7 439.7h1.1v1.1h-1.1zM184.5 387.3h1.1v1.1h-1.1zM152.2 434.2h1.1v1.1h-1.1zM174.6 413.7h1.1v1.1h-1.1zM155.8 415.5h1.1v1.1h-1.1zM196.4 385.8h1.1v1.1h-1.1zM202.7 396.5h1.1v1.1h-1.1zM176.0 401.8h1.1v1.1h-1.1zM203.7 420.8h1.1v1.1h-1.1zM211.4 421.0h1.1v1.1h-1.1zM198.3 422.8h1.1v1.1h-1.1zM189.5 430.3h1.1v1.1h-1.1zM190.2 422.7h1.1v1.1h-1.1zM190.1 389.7h1.1v1.1h-1.1zM171.5 416.0h1.1v1.1h-1.1zM162.4 378.2h1.1v1.1h-1.1zM177.2 423.5h1.1v1.1h-1.1zM168.4 428.8h1.1v1.1h-1.1zM207.2 406.7h1.1v1.1h-1.1zM166.8 396.2h1.1v1.1h-1.1zM198.7 438.1h1.1v1.1h-1.1zM159.7 411.4h1.1v1.1h-1.1zM173.9 378.4h1.1v1.1h-1.1zM177.6 383.2h1.1v1.1h-1.1zM196.6 428.5h1.1v1.1h-1.1zM176.1 396.4h1.1v1.1h-1.1zM189.7 389.6h1.1v1.1h-1.1zM162.9 384.4h1.1v1.1h-1.1zM182.9 395.0h1.1v1.1h-1.1zM182.5 426.1h1.1v1.1h-1.1zM173.7 404.7h1.1v1.1h-1.1zM171.6 436.8h1.1v1.1h-1.1zM186.2 380.1h1.1v1.1h-1.1zM156.8 417.7h1.1v1.1h-1.1zM201.7 388.4h1.1v1.1h-1.1zM193.7 424.7h1.1v1.1h-1.1zM196.2 402.3h1.1v1.1h-1.1zM204.9 410.2h1.1v1.1h-1.1zM165.2 406.8h1.1v1.1h-1.1zM187.1 405.8h1.1v1.1h-1.1zM178.0 419.0h1.1v1.1h-1.1zM185.7 411.0h1.1v1.1h-1.1zM187.9 424.9h1.1v1.1h-1.1zM175.3 400.8h1.1v1.1h-1.1zM204.5 399.5h1.1v1.1h-1.1zM179.5 402.0h1.1v1.1h-1.1zM172.7 409.6h1.1v1.1h-1.1zM182.4 399.8h1.1v1.1h-1.1zM201.9 417.2h1.1v1.1h-1.1zM177.1 438.8h1.1v1.1h-1.1zM176.1 393.5h1.1v1.1h-1.1zM204.8 432.1h1.1v1.1h-1.1zM192.4 412.3h1.1v1.1h-1.1zM185.9 382.4h1.1v1.1h-1.1zM189.9 369.3h1.1v1.1h-1.1zM184.4 417.1h1.1v1.1h-1.1zM184.0 389.5h1.1v1.1h-1.1zM183.6 414.2h1.1v1.1h-1.1zM174.3 413.4h1.1v1.1h-1.1zM194.8 387.9h1.1v1.1h-1.1zM205.3 411.7h1.1v1.1h-1.1zM179.9 396.4h1.1v1.1h-1.1zM167.8 393.3h1.1v1.1h-1.1zM199.3 437.1h1.1v1.1h-1.1zM161.6 410.5h1.1v1.1h-1.1zM157.9 429.4h1.1v1.1h-1.1zM180.6 405.9h1.1v1.1h-1.1zM151.6 426.8h1.1v1.1h-1.1zM197.5 402.9h1.1v1.1h-1.1zM200.6 419.7h1.1v1.1h-1.1zM192.6 397.3h1.1v1.1h-1.1zM201.5 375.2h1.1v1.1h-1.1zM180.0 409.1h1.1v1.1h-1.1zM212.4 411.6h1.1v1.1h-1.1zM205.3 420.7h1.1v1.1h-1.1zM199.2 405.7h1.1v1.1h-1.1zM198.9 426.1h1.1v1.1h-1.1zM163.1 433.9h1.1v1.1h-1.1zM164.5 394.8h1.1v1.1h-1.1zM165.0 407.8h1.1v1.1h-1.1zM189.5 412.8h1.1v1.1h-1.1zM192.6 414.5h1.1v1.1h-1.1zM182.3 414.1h1.1v1.1h-1.1zM162.1 390.7h1.1v1.1h-1.1zM180.2 406.7h1.1v1.1h-1.1zM182.4 430.8h1.1v1.1h-1.1zM175.3 401.0h1.1v1.1h-1.1zM161.6 393.3h1.1v1.1h-1.1zM156.2 417.9h1.1v1.1h-1.1zM184.9 396.7h1.1v1.1h-1.1zM198.3 383.8h1.1v1.1h-1.1zM197.6 394.4h1.1v1.1h-1.1zM187.4 429.9h1.1v1.1h-1.1zM202.1 418.8h1.1v1.1h-1.1zM189.0 381.3h1.1v1.1h-1.1zM196.1 419.1h1.1v1.1h-1.1zM158.0 419.4h1.1v1.1h-1.1zM196.6 401.1h1.1v1.1h-1.1zM174.5 418.4h1.1v1.1h-1.1zM201.6 416.8h1.1v1.1h-1.1zM198.6 410.4h1.1v1.1h-1.1zM176.9 425.1h1.1v1.1h-1.1zM159.2 396.2h1.1v1.1h-1.1zM180.9 385.6h1.1v1.1h-1.1zM175.7 394.5h1.1v1.1h-1.1zM155.3 417.2h1.1v1.1h-1.1zM163.2 395.3h1.1v1.1h-1.1zM163.0 439.1h1.1v1.1h-1.1zM209.7 439.2h1.1v1.1h-1.1zM181.4 406.9h1.1v1.1h-1.1zM202.9 430.5h1.1v1.1h-1.1zM191.6 422.3h1.1v1.1h-1.1zM186.6 419.2h1.1v1.1h-1.1zM162.1 402.1h1.1v1.1h-1.1zM208.0 403.0h1.1v1.1h-1.1zM193.6 419.1h1.1v1.1h-1.1zM186.8 425.7h1.1v1.1h-1.1zM188.0 436.6h1.1v1.1h-1.1zM192.6 432.0h1.1v1.1h-1.1zM206.6 419.7h1.1v1.1h-1.1zM184.2 419.6h1.1v1.1h-1.1zM178.9 428.4h1.1v1.1h-1.1zM187.7 371.5h1.1v1.1h-1.1zM181.0 407.2h1.1v1.1h-1.1zM201.6 399.4h1.1v1.1h-1.1zM194.5 432.8h1.1v1.1h-1.1zM164.5 411.8h1.1v1.1h-1.1zM178.1 396.6h1.1v1.1h-1.1zM202.6 414.7h1.1v1.1h-1.1zM165.5 414.6h1.1v1.1h-1.1zM174.2 421.8h1.1v1.1h-1.1zM155.7 429.1h1.1v1.1h-1.1zM200.1 393.1h1.1v1.1h-1.1zM155.2 425.0h1.1v1.1h-1.1zM189.0 388.2h1.1v1.1h-1.1zM152.5 429.0h1.1v1.1h-1.1zM207.2 428.5h1.1v1.1h-1.1zM177.5 390.7h1.1v1.1h-1.1zM178.5 389.5h1.1v1.1h-1.1zM176.0 383.1h1.1v1.1h-1.1zM201.9 391.1h1.1v1.1h-1.1zM150.5 434.6h1.1v1.1h-1.1zM181.4 418.4h1.1v1.1h-1.1zM176.6 438.3h1.1v1.1h-1.1zM206.2 437.8h1.1v1.1h-1.1zM210.1 429.4h1.1v1.1h-1.1zM154.2 426.6h1.1v1.1h-1.1zM197.5 384.3h1.1v1.1h-1.1zM185.9 428.3h1.1v1.1h-1.1zM170.6 424.0h1.1v1.1h-1.1zM197.8 381.3h1.1v1.1h-1.1zM161.5 416.6h1.1v1.1h-1.1zM193.6 418.9h1.1v1.1h-1.1zM174.2 433.6h1.1v1.1h-1.1zM197.1 375.7h1.1v1.1h-1.1zM189.9 406.9h1.1v1.1h-1.1zM188.7 391.2h1.1v1.1h-1.1zM194.0 384.9h1.1v1.1h-1.1zM171.8 439.1h1.1v1.1h-1.1zM202.8 423.3h1.1v1.1h-1.1zM160.3 425.0h1.1v1.1h-1.1zM172.3 418.0h1.1v1.1h-1.1zM209.3 421.6h1.1v1.1h-1.1zM159.4 415.1h1.1v1.1h-1.1zM182.1 431.9h1.1v1.1h-1.1zM185.8 404.5h1.1v1.1h-1.1zM170.3 432.3h1.1v1.1h-1.1zM163.7 376.6h1.1v1.1h-1.1zM163.1 379.9h1.1v1.1h-1.1zM209.8 394.1h1.1v1.1h-1.1zM206.9 424.4h1.1v1.1h-1.1zM179.7 439.6h1.1v1.1h-1.1zM192.1 401.9h1.1v1.1h-1.1zM165.2 414.5h1.1v1.1h-1.1zM182.4 420.0h1.1v1.1h-1.1zM181.5 421.7h1.1v1.1h-1.1zM192.1 386.6h1.1v1.1h-1.1zM178.3 395.2h1.1v1.1h-1.1zM179.4 437.1h1.1v1.1h-1.1zM157.1 425.3h1.1v1.1h-1.1zM163.8 432.3h1.1v1.1h-1.1zM187.2 407.4h1.1v1.1h-1.1zM164.1 378.4h1.1v1.1h-1.1zM183.9 409.2h1.1v1.1h-1.1zM191.3 407.7h1.1v1.1h-1.1zM180.8 432.5h1.1v1.1h-1.1zM198.2 391.8h1.1v1.1h-1.1zM205.7 419.3h1.1v1.1h-1.1zM197.8 389.5h1.1v1.1h-1.1zM182.7 383.3h1.1v1.1h-1.1zM181.2 398.2h1.1v1.1h-1.1zM186.9 416.3h1.1v1.1h-1.1zM204.0 421.5h1.1v1.1h-1.1zM193.1 432.1h1.1v1.1h-1.1zM166.3 389.4h1.1v1.1h-1.1zM155.4 423.1h1.1v1.1h-1.1zM174.4 413.5h1.1v1.1h-1.1zM186.0 406.0h1.1v1.1h-1.1zM193.7 395.0h1.1v1.1h-1.1zM206.9 399.8h1.1v1.1h-1.1zM182.2 397.2h1.1v1.1h-1.1zM164.0 386.9h1.1v1.1h-1.1zM191.8 435.8h1.1v1.1h-1.1zM182.5 403.5h1.1v1.1h-1.1zM186.9 374.8h1.1v1.1h-1.1zM203.8 428.0h1.1v1.1h-1.1zM210.2 436.4h1.1v1.1h-1.1zM188.7 407.7h1.1v1.1h-1.1zM193.5 378.1h1.1v1.1h-1.1zM191.4 386.4h1.1v1.1h-1.1zM193.0 387.9h1.1v1.1h-1.1zM177.8 428.6h1.1v1.1h-1.1zM187.4 428.3h1.1v1.1h-1.1zM193.3 374.2h1.1v1.1h-1.1zM189.1 439.6h1.1v1.1h-1.1zM189.9 420.2h1.1v1.1h-1.1zM162.8 402.1h1.1v1.1h-1.1zM155.1 424.3h1.1v1.1h-1.1zM196.9 401.6h1.1v1.1h-1.1zM206.0 388.5h1.1v1.1h-1.1zM174.5 407.7h1.1v1.1h-1.1zM154.1 417.1h1.1v1.1h-1.1zM172.8 429.9h1.1v1.1h-1.1zM203.2 416.7h1.1v1.1h-1.1zM170.4 392.7h1.1v1.1h-1.1zM212.0 425.0h1.1v1.1h-1.1zM157.0 429.8h1.1v1.1h-1.1zM193.9 418.7h1.1v1.1h-1.1zM163.0 425.7h1.1v1.1h-1.1zM174.5 420.7h1.1v1.1h-1.1zM178.9 437.5h1.1v1.1h-1.1zM197.1 373.4h1.1v1.1h-1.1zM193.3 435.2h1.1v1.1h-1.1zM192.8 378.0h1.1v1.1h-1.1zM166.9 402.3h1.1v1.1h-1.1zM183.4 404.7h1.1v1.1h-1.1zM189.0 378.1h1.1v1.1h-1.1zM193.0 419.2h1.1v1.1h-1.1zM158.1 423.9h1.1v1.1h-1.1zM196.5 426.5h1.1v1.1h-1.1zM180.7 381.2h1.1v1.1h-1.1zM155.4 419.0h1.1v1.1h-1.1zM209.7 435.8h1.1v1.1h-1.1zM163.4 393.9h1.1v1.1h-1.1zM198.7 402.5h1.1v1.1h-1.1zM173.7 399.9h1.1v1.1h-1.1zM191.1 396.8h1.1v1.1h-1.1zM166.2 414.1h1.1v1.1h-1.1zM164.1 423.4h1.1v1.1h-1.1zM167.6 401.2h1.1v1.1h-1.1zM164.3 390.0h1.1v1.1h-1.1zM173.6 417.5h1.1v1.1h-1.1zM198.8 386.5h1.1v1.1h-1.1zM197.9 439.6h1.1v1.1h-1.1zM196.7 436.9h1.1v1.1h-1.1zM194.2 373.8h1.1v1.1h-1.1zM170.9 412.1h1.1v1.1h-1.1zM201.7 390.0h1.1v1.1h-1.1zM172.4 408.0h1.1v1.1h-1.1zM179.5 432.4h1.1v1.1h-1.1zM154.1 415.1h1.1v1.1h-1.1zM184.4 423.0h1.1v1.1h-1.1zM180.4 437.9h1.1v1.1h-1.1zM173.1 413.3h1.1v1.1h-1.1zM198.9 426.3h1.1v1.1h-1.1zM183.8 384.4h1.1v1.1h-1.1zM180.4 429.8h1.1v1.1h-1.1zM163.7 434.9h1.1v1.1h-1.1zM183.8 383.8h1.1v1.1h-1.1zM187.5 433.1h1.1v1.1h-1.1zM204.2 416.6h1.1v1.1h-1.1zM205.5 414.5h1.1v1.1h-1.1zM172.8 418.3h1.1v1.1h-1.1zM200.2 392.6h1.1v1.1h-1.1zM196.0 394.8h1.1v1.1h-1.1zM211.0 438.3h1.1v1.1h-1.1zM187.4 403.0h1.1v1.1h-1.1zM169.0 424.0h1.1v1.1h-1.1zM182.7 395.8h1.1v1.1h-1.1zM172.3 423.5h1.1v1.1h-1.1zM187.5 416.3h1.1v1.1h-1.1zM189.5 387.1h1.1v1.1h-1.1zM211.6 438.9h1.1v1.1h-1.1zM175.9 387.5h1.1v1.1h-1.1zM164.2 403.4h1.1v1.1h-1.1zM185.8 417.4h1.1v1.1h-1.1zM199.1 406.6h1.1v1.1h-1.1zM207.3 398.1h1.1v1.1h-1.1zM199.9 422.0h1.1v1.1h-1.1zM188.9 428.5h1.1v1.1h-1.1zM174.5 406.2h1.1v1.1h-1.1zM195.5 424.3h1.1v1.1h-1.1zM189.4 427.4h1.1v1.1h-1.1zM154.9 424.1h1.1v1.1h-1.1zM173.1 401.4h1.1v1.1h-1.1zM174.6 436.4h1.1v1.1h-1.1zM170.6 386.6h1.1v1.1h-1.1zM199.3 426.3h1.1v1.1h-1.1zM173.2 430.5h1.1v1.1h-1.1zM179.4 431.7h1.1v1.1h-1.1zM197.6 375.2h1.1v1.1h-1.1zM195.8 390.9h1.1v1.1h-1.1zM189.8 432.9h1.1v1.1h-1.1zM175.4 379.3h1.1v1.1h-1.1zM183.3 388.3h1.1v1.1h-1.1zM160.2 390.3h1.1v1.1h-1.1zM196.5 381.0h1.1v1.1h-1.1zM197.5 389.8h1.1v1.1h-1.1zM166.4 389.8h1.1v1.1h-1.1zM197.1 396.5h1.1v1.1h-1.1zM182.3 426.5h1.1v1.1h-1.1zM167.9 418.3h1.1v1.1h-1.1zM149.6 434.9h1.1v1.1h-1.1zM180.8 402.8h1.1v1.1h-1.1zM198.2 419.0h1.1v1.1h-1.1zM170.2 411.7h1.1v1.1h-1.1zM164.8 395.3h1.1v1.1h-1.1zM155.9 424.9h1.1v1.1h-1.1zM160.5 430.9h1.1v1.1h-1.1zM196.2 414.7h1.1v1.1h-1.1zM200.4 401.2h1.1v1.1h-1.1zM180.2 392.3h1.1v1.1h-1.1zM180.0 400.9h1.1v1.1h-1.1zM172.4 373.7h1.1v1.1h-1.1zM181.9 430.2h1.1v1.1h-1.1zM184.8 430.2h1.1v1.1h-1.1zM200.7 418.9h1.1v1.1h-1.1zM201.1 438.9h1.1v1.1h-1.1zM167.7 399.7h1.1v1.1h-1.1zM184.2 408.0h1.1v1.1h-1.1zM184.6 403.6h1.1v1.1h-1.1zM188.5 398.8h1.1v1.1h-1.1zM193.1 413.2h1.1v1.1h-1.1zM151.7 433.6h1.1v1.1h-1.1zM171.4 373.4h1.1v1.1h-1.1zM177.5 400.6h1.1v1.1h-1.1zM170.8 425.3h1.1v1.1h-1.1zM172.1 399.2h1.1v1.1h-1.1zM159.6 396.9h1.1v1.1h-1.1zM165.4 390.4h1.1v1.1h-1.1zM183.3 394.6h1.1v1.1h-1.1zM160.7 419.6h1.1v1.1h-1.1zM168.7 385.4h1.1v1.1h-1.1zM177.2 424.4h1.1v1.1h-1.1zM215.0 415.2h1.1v1.1h-1.1zM176.3 434.1h1.1v1.1h-1.1zM158.8 413.1h1.1v1.1h-1.1zM199.4 410.7h1.1v1.1h-1.1zM199.9 383.2h1.1v1.1h-1.1zM184.0 414.4h1.1v1.1h-1.1zM172.7 388.2h1.1v1.1h-1.1zM166.3 388.6h1.1v1.1h-1.1zM170.0 426.8h1.1v1.1h-1.1zM196.0 416.0h1.1v1.1h-1.1zM169.9 434.4h1.1v1.1h-1.1zM192.7 400.9h1.1v1.1h-1.1zM183.7 412.4h1.1v1.1h-1.1zM164.9 392.0h1.1v1.1h-1.1zM184.1 415.8h1.1v1.1h-1.1zM159.5 409.0h1.1v1.1h-1.1zM204.6 414.7h1.1v1.1h-1.1zM178.2 421.4h1.1v1.1h-1.1zM217.4 432.4h1.1v1.1h-1.1zM198.7 391.2h1.1v1.1h-1.1zM162.3 389.0h1.1v1.1h-1.1zM156.5 429.8h1.1v1.1h-1.1zM167.6 434.7h1.1v1.1h-1.1zM196.5 414.1h1.1v1.1h-1.1zM195.4 414.0h1.1v1.1h-1.1zM182.2 403.5h1.1v1.1h-1.1zM198.1 429.5h1.1v1.1h-1.1zM193.2 411.8h1.1v1.1h-1.1zM155.6 416.9h1.1v1.1h-1.1zM198.6 386.9h1.1v1.1h-1.1zM207.5 434.7h1.1v1.1h-1.1zM205.6 433.6h1.1v1.1h-1.1zM214.5 405.1h1.1v1.1h-1.1zM212.5 412.3h1.1v1.1h-1.1zM171.8 379.8h1.1v1.1h-1.1zM159.0 417.7h1.1v1.1h-1.1zM207.6 400.1h1.1v1.1h-1.1zM199.7 401.4h1.1v1.1h-1.1zM203.1 391.4h1.1v1.1h-1.1zM156.3 423.2h1.1v1.1h-1.1zM164.5 428.9h1.1v1.1h-1.1zM197.5 432.0h1.1v1.1h-1.1zM198.0 389.2h1.1v1.1h-1.1zM183.5 434.5h1.1v1.1h-1.1zM208.1 435.4h1.1v1.1h-1.1zM173.8 403.2h1.1v1.1h-1.1zM170.5 380.1h1.1v1.1h-1.1zM176.0 399.8h1.1v1.1h-1.1zM198.4 414.9h1.1v1.1h-1.1zM178.6 434.5h1.1v1.1h-1.1zM206.0 424.3h1.1v1.1h-1.1zM196.6 427.3h1.1v1.1h-1.1zM184.8 435.5h1.1v1.1h-1.1zM186.2 436.1h1.1v1.1h-1.1zM180.0 420.8h1.1v1.1h-1.1zM173.8 432.1h1.1v1.1h-1.1zM202.7 392.9h1.1v1.1h-1.1zM196.3 388.4h1.1v1.1h-1.1zM158.4 412.0h1.1v1.1h-1.1zM168.9 384.9h1.1v1.1h-1.1zM201.9 410.2h1.1v1.1h-1.1zM184.3 424.1h1.1v1.1h-1.1zM155.1 421.0h1.1v1.1h-1.1zM186.3 381.8h1.1v1.1h-1.1zM168.1 380.2h1.1v1.1h-1.1zM177.6 415.1h1.1v1.1h-1.1zM158.0 412.0h1.1v1.1h-1.1zM200.0 389.9h1.1v1.1h-1.1zM174.6 413.6h1.1v1.1h-1.1zM185.8 434.7h1.1v1.1h-1.1zM151.1 440.0h1.1v1.1h-1.1zM191.7 396.7h1.1v1.1h-1.1zM185.6 430.3h1.1v1.1h-1.1zM156.2 367.5h1.1v1.1h-1.1zM199.4 430.7h1.1v1.1h-1.1zM178.3 414.3h1.1v1.1h-1.1zM186.3 369.6h1.1v1.1h-1.1zM202.7 437.0h1.1v1.1h-1.1zM174.1 427.4h1.1v1.1h-1.1zM188.8 431.0h1.1v1.1h-1.1zM196.7 388.0h1.1v1.1h-1.1zM191.9 404.9h1.1v1.1h-1.1zM204.1 393.7h1.1v1.1h-1.1zM197.6 384.1h1.1v1.1h-1.1zM198.2 431.1h1.1v1.1h-1.1zM196.9 417.3h1.1v1.1h-1.1zM159.9 418.0h1.1v1.1h-1.1zM188.5 436.6h1.1v1.1h-1.1zM196.7 397.4h1.1v1.1h-1.1zM193.7 389.3h1.1v1.1h-1.1zM195.1 369.7h1.1v1.1h-1.1zM186.2 416.4h1.1v1.1h-1.1zM158.5 410.7h1.1v1.1h-1.1zM190.2 393.3h1.1v1.1h-1.1zM175.0 427.0h1.1v1.1h-1.1zM206.1 390.1h1.1v1.1h-1.1zM169.5 422.2h1.1v1.1h-1.1zM177.1 418.6h1.1v1.1h-1.1zM177.7 406.0h1.1v1.1h-1.1zM185.9 433.2h1.1v1.1h-1.1zM209.9 399.5h1.1v1.1h-1.1zM187.2 407.1h1.1v1.1h-1.1zM204.8 422.1h1.1v1.1h-1.1zM178.5 415.5h1.1v1.1h-1.1zM200.4 416.5h1.1v1.1h-1.1zM204.4 435.3h1.1v1.1h-1.1zM204.8 434.9h1.1v1.1h-1.1zM187.2 438.5h1.1v1.1h-1.1zM180.1 430.7h1.1v1.1h-1.1zM166.0 399.3h1.1v1.1h-1.1zM179.3 389.1h1.1v1.1h-1.1zM186.8 425.5h1.1v1.1h-1.1zM177.4 435.0h1.1v1.1h-1.1zM207.3 427.8h1.1v1.1h-1.1zM192.5 373.5h1.1v1.1h-1.1zM194.6 409.9h1.1v1.1h-1.1zM211.9 406.3h1.1v1.1h-1.1zM188.0 422.0h1.1v1.1h-1.1zM202.6 394.0h1.1v1.1h-1.1zM182.2 418.0h1.1v1.1h-1.1zM173.0 428.3h1.1v1.1h-1.1zM161.7 426.1h1.1v1.1h-1.1zM193.6 432.7h1.1v1.1h-1.1zM191.8 419.2h1.1v1.1h-1.1zM199.1 383.3h1.1v1.1h-1.1zM189.7 435.6h1.1v1.1h-1.1zM190.7 406.8h1.1v1.1h-1.1zM177.6 407.2h1.1v1.1h-1.1zM184.1 433.2h1.1v1.1h-1.1zM163.1 383.7h1.1v1.1h-1.1zM206.4 405.7h1.1v1.1h-1.1zM202.0 426.9h1.1v1.1h-1.1zM190.3 395.6h1.1v1.1h-1.1zM213.0 422.4h1.1v1.1h-1.1zM154.8 434.2h1.1v1.1h-1.1zM185.6 425.7h1.1v1.1h-1.1zM194.5 391.4h1.1v1.1h-1.1zM197.7 420.1h1.1v1.1h-1.1zM157.4 402.5h1.1v1.1h-1.1zM159.3 412.9h1.1v1.1h-1.1zM197.3 419.3h1.1v1.1h-1.1zM194.1 439.2h1.1v1.1h-1.1zM178.7 425.6h1.1v1.1h-1.1zM161.8 421.1h1.1v1.1h-1.1zM164.3 380.8h1.1v1.1h-1.1zM195.2 435.6h1.1v1.1h-1.1zM160.1 399.0h1.1v1.1h-1.1zM189.2 436.3h1.1v1.1h-1.1zM194.7 371.4h1.1v1.1h-1.1zM179.6 426.6h1.1v1.1h-1.1zM211.4 438.9h1.1v1.1h-1.1zM197.4 389.2h1.1v1.1h-1.1zM198.0 404.2h1.1v1.1h-1.1zM159.2 392.7h1.1v1.1h-1.1zM180.4 426.1h1.1v1.1h-1.1zM199.5 388.3h1.1v1.1h-1.1zM175.8 414.9h1.1v1.1h-1.1zM166.8 404.0h1.1v1.1h-1.1zM180.0 399.6h1.1v1.1h-1.1zM177.1 429.7h1.1v1.1h-1.1zM190.3 430.2h1.1v1.1h-1.1zM193.2 389.6h1.1v1.1h-1.1zM182.0 394.7h1.1v1.1h-1.1zM190.3 433.6h1.1v1.1h-1.1zM197.2 371.3h1.1v1.1h-1.1zM192.8 404.2h1.1v1.1h-1.1zM196.8 382.8h1.1v1.1h-1.1zM193.1 413.7h1.1v1.1h-1.1zM182.6 399.6h1.1v1.1h-1.1zM194.4 430.7h1.1v1.1h-1.1zM182.7 380.7h1.1v1.1h-1.1zM187.3 416.6h1.1v1.1h-1.1zM197.1 390.9h1.1v1.1h-1.1zM194.9 399.7h1.1v1.1h-1.1zM193.0 413.4h1.1v1.1h-1.1zM186.3 424.0h1.1v1.1h-1.1zM191.1 377.4h1.1v1.1h-1.1zM196.1 400.5h1.1v1.1h-1.1zM192.8 427.5h1.1v1.1h-1.1zM194.3 394.3h1.1v1.1h-1.1zM191.6 436.3h1.1v1.1h-1.1zM209.5 406.0h1.1v1.1h-1.1zM164.4 434.5h1.1v1.1h-1.1zM171.2 422.0h1.1v1.1h-1.1zM180.8 403.4h1.1v1.1h-1.1zM162.3 427.9h1.1v1.1h-1.1zM176.7 428.8h1.1v1.1h-1.1zM155.1 409.5h1.1v1.1h-1.1zM190.9 407.8h1.1v1.1h-1.1zM156.9 409.2h1.1v1.1h-1.1zM177.8 406.6h1.1v1.1h-1.1zM192.7 423.2h1.1v1.1h-1.1zM180.4 388.3h1.1v1.1h-1.1zM207.9 427.7h1.1v1.1h-1.1zM164.5 431.4h1.1v1.1h-1.1zM197.8 381.2h1.1v1.1h-1.1zM197.0 437.6h1.1v1.1h-1.1zM178.1 414.7h1.1v1.1h-1.1zM197.7 400.0h1.1v1.1h-1.1zM171.6 424.3h1.1v1.1h-1.1zM209.2 414.8h1.1v1.1h-1.1zM193.2 431.0h1.1v1.1h-1.1zM201.0 437.1h1.1v1.1h-1.1zM179.9 396.1h1.1v1.1h-1.1zM178.3 435.2h1.1v1.1h-1.1zM189.4 437.0h1.1v1.1h-1.1zM175.3 402.1h1.1v1.1h-1.1zM186.4 439.2h1.1v1.1h-1.1zM166.5 394.0h1.1v1.1h-1.1zM185.5 429.8h1.1v1.1h-1.1zM189.5 396.8h1.1v1.1h-1.1zM192.0 438.3h1.1v1.1h-1.1zM205.1 383.8h1.1v1.1h-1.1zM181.3 396.9h1.1v1.1h-1.1zM190.4 419.2h1.1v1.1h-1.1zM159.3 424.1h1.1v1.1h-1.1zM203.9 385.2h1.1v1.1h-1.1zM160.5 404.1h1.1v1.1h-1.1zM195.4 418.5h1.1v1.1h-1.1zM190.1 402.5h1.1v1.1h-1.1zM178.3 425.4h1.1v1.1h-1.1zM169.8 433.2h1.1v1.1h-1.1zM179.3 410.2h1.1v1.1h-1.1zM173.8 427.9h1.1v1.1h-1.1zM201.5 391.5h1.1v1.1h-1.1zM175.5 399.9h1.1v1.1h-1.1zM187.0 408.4h1.1v1.1h-1.1zM158.6 433.9h1.1v1.1h-1.1zM197.7 400.8h1.1v1.1h-1.1zM181.8 437.6h1.1v1.1h-1.1zM167.1 396.9h1.1v1.1h-1.1zM189.8 429.1h1.1v1.1h-1.1zM179.2 410.3h1.1v1.1h-1.1zM193.1 391.6h1.1v1.1h-1.1zM172.0 425.5h1.1v1.1h-1.1zM155.4 423.4h1.1v1.1h-1.1zM163.4 396.3h1.1v1.1h-1.1zM184.4 380.3h1.1v1.1h-1.1zM190.7 406.7h1.1v1.1h-1.1zM161.5 432.6h1.1v1.1h-1.1zM190.6 429.9h1.1v1.1h-1.1zM181.7 430.5h1.1v1.1h-1.1zM201.8 436.8h1.1v1.1h-1.1zM195.1 401.1h1.1v1.1h-1.1zM191.3 426.6h1.1v1.1h-1.1zM190.4 425.8h1.1v1.1h-1.1zM165.4 438.7h1.1v1.1h-1.1zM171.7 384.6h1.1v1.1h-1.1zM197.5 425.4h1.1v1.1h-1.1zM187.3 397.0h1.1v1.1h-1.1zM167.0 402.2h1.1v1.1h-1.1zM183.7 419.4h1.1v1.1h-1.1zM171.9 417.4h1.1v1.1h-1.1zM161.8 420.4h1.1v1.1h-1.1zM165.1 403.2h1.1v1.1h-1.1zM184.6 406.2h1.1v1.1h-1.1zM201.9 400.6h1.1v1.1h-1.1zM162.5 409.8h1.1v1.1h-1.1zM194.2 407.9h1.1v1.1h-1.1zM206.7 414.2h1.1v1.1h-1.1zM201.0 396.8h1.1v1.1h-1.1zM200.4 417.3h1.1v1.1h-1.1zM203.8 393.7h1.1v1.1h-1.1zM182.5 421.5h1.1v1.1h-1.1zM191.8 423.3h1.1v1.1h-1.1zM189.3 387.0h1.1v1.1h-1.1zM187.3 383.2h1.1v1.1h-1.1zM171.7 380.1h1.1v1.1h-1.1zM180.9 388.8h1.1v1.1h-1.1zM167.4 430.6h1.1v1.1h-1.1zM192.2 387.9h1.1v1.1h-1.1zM187.2 437.2h1.1v1.1h-1.1zM187.6 439.2h1.1v1.1h-1.1zM200.6 403.1h1.1v1.1h-1.1zM187.8 416.3h1.1v1.1h-1.1zM212.2 415.1h1.1v1.1h-1.1zM194.7 422.2h1.1v1.1h-1.1zM162.0 391.6h1.1v1.1h-1.1zM201.8 412.3h1.1v1.1h-1.1zM163.4 400.8h1.1v1.1h-1.1zM171.0 411.8h1.1v1.1h-1.1zM163.2 381.9h1.1v1.1h-1.1zM171.7 396.8h1.1v1.1h-1.1zM170.3 376.3h1.1v1.1h-1.1zM199.0 385.8h1.1v1.1h-1.1zM194.2 430.4h1.1v1.1h-1.1zM185.2 395.2h1.1v1.1h-1.1zM194.2 419.0h1.1v1.1h-1.1zM184.6 420.2h1.1v1.1h-1.1zM170.5 380.0h1.1v1.1h-1.1zM165.2 394.5h1.1v1.1h-1.1zM200.3 373.7h1.1v1.1h-1.1zM168.2 385.6h1.1v1.1h-1.1zM208.9 430.1h1.1v1.1h-1.1zM200.3 418.1h1.1v1.1h-1.1zM156.7 405.9h1.1v1.1h-1.1zM207.8 406.5h1.1v1.1h-1.1zM169.9 432.1h1.1v1.1h-1.1zM190.5 422.9h1.1v1.1h-1.1zM203.9 393.1h1.1v1.1h-1.1zM172.0 400.2h1.1v1.1h-1.1zM184.9 420.0h1.1v1.1h-1.1zM162.4 405.0h1.1v1.1h-1.1zM187.1 379.7h1.1v1.1h-1.1zM165.9 394.8h1.1v1.1h-1.1zM180.4 434.7h1.1v1.1h-1.1zM177.5 392.0h1.1v1.1h-1.1zM197.9 398.8h1.1v1.1h-1.1zM184.0 379.2h1.1v1.1h-1.1zM174.2 412.0h1.1v1.1h-1.1zM168.3 431.0h1.1v1.1h-1.1zM169.1 424.9h1.1v1.1h-1.1zM188.0 435.7h1.1v1.1h-1.1zM192.4 386.5h1.1v1.1h-1.1zM170.9 434.5h1.1v1.1h-1.1zM205.7 406.7h1.1v1.1h-1.1zM194.6 386.5h1.1v1.1h-1.1zM170.1 438.0h1.1v1.1h-1.1zM204.8 429.2h1.1v1.1h-1.1zM197.8 427.0h1.1v1.1h-1.1zM199.2 399.5h1.1v1.1h-1.1zM205.7 413.3h1.1v1.1h-1.1zM170.8 406.9h1.1v1.1h-1.1zM211.8 418.1h1.1v1.1h-1.1zM208.2 400.3h1.1v1.1h-1.1zM165.0 381.6h1.1v1.1h-1.1zM179.0 399.6h1.1v1.1h-1.1zM199.8 429.4h1.1v1.1h-1.1zM212.0 428.0h1.1v1.1h-1.1zM183.6 417.0h1.1v1.1h-1.1zM174.7 437.4h1.1v1.1h-1.1zM160.9 400.6h1.1v1.1h-1.1zM174.6 436.8h1.1v1.1h-1.1zM160.2 400.6h1.1v1.1h-1.1zM188.1 389.6h1.1v1.1h-1.1zM192.2 426.9h1.1v1.1h-1.1zM164.5 407.6h1.1v1.1h-1.1zM188.5 432.4h1.1v1.1h-1.1zM166.8 436.2h1.1v1.1h-1.1zM179.8 434.5h1.1v1.1h-1.1zM198.3 408.1h1.1v1.1h-1.1zM201.4 405.4h1.1v1.1h-1.1zM158.3 416.9h1.1v1.1h-1.1zM190.6 409.9h1.1v1.1h-1.1zM215.4 437.4h1.1v1.1h-1.1zM183.6 388.4h1.1v1.1h-1.1zM163.4 398.6h1.1v1.1h-1.1zM179.7 432.6h1.1v1.1h-1.1zM161.2 398.2h1.1v1.1h-1.1zM201.7 397.2h1.1v1.1h-1.1zM162.9 397.9h1.1v1.1h-1.1zM205.0 419.6h1.1v1.1h-1.1zM188.0 388.0h1.1v1.1h-1.1zM155.4 430.4h1.1v1.1h-1.1zM168.8 425.0h1.1v1.1h-1.1zM165.4 438.1h1.1v1.1h-1.1zM193.1 384.7h1.1v1.1h-1.1zM186.3 388.2h1.1v1.1h-1.1zM181.4 415.0h1.1v1.1h-1.1zM172.3 385.1h1.1v1.1h-1.1zM172.5 387.5h1.1v1.1h-1.1zM162.5 401.7h1.1v1.1h-1.1zM178.9 403.5h1.1v1.1h-1.1zM178.1 383.3h1.1v1.1h-1.1zM212.2 422.1h1.1v1.1h-1.1zM162.0 402.8h1.1v1.1h-1.1zM209.0 411.6h1.1v1.1h-1.1zM196.6 404.2h1.1v1.1h-1.1zM191.0 409.4h1.1v1.1h-1.1zM199.0 433.1h1.1v1.1h-1.1zM175.2 409.4h1.1v1.1h-1.1zM197.9 408.7h1.1v1.1h-1.1zM166.7 375.8h1.1v1.1h-1.1zM169.2 433.8h1.1v1.1h-1.1zM192.8 424.6h1.1v1.1h-1.1zM190.1 399.5h1.1v1.1h-1.1zM166.3 435.8h1.1v1.1h-1.1zM190.2 412.8h1.1v1.1h-1.1zM180.7 439.8h1.1v1.1h-1.1zM162.6 389.8h1.1v1.1h-1.1zM169.6 389.3h1.1v1.1h-1.1zM198.6 429.5h1.1v1.1h-1.1zM209.6 401.1h1.1v1.1h-1.1zM203.1 427.2h1.1v1.1h-1.1zM171.2 393.4h1.1v1.1h-1.1zM190.8 436.2h1.1v1.1h-1.1zM188.2 388.8h1.1v1.1h-1.1zM163.3 394.8h1.1v1.1h-1.1zM205.4 417.9h1.1v1.1h-1.1zM191.1 434.3h1.1v1.1h-1.1zM196.9 382.2h1.1v1.1h-1.1zM210.5 407.5h1.1v1.1h-1.1zM169.1 389.2h1.1v1.1h-1.1zM188.7 433.4h1.1v1.1h-1.1zM161.3 419.6h1.1v1.1h-1.1zM160.3 416.7h1.1v1.1h-1.1zM189.3 417.2h1.1v1.1h-1.1zM157.9 414.4h1.1v1.1h-1.1zM184.6 429.3h1.1v1.1h-1.1zM160.4 409.9h1.1v1.1h-1.1zM183.9 429.8h1.1v1.1h-1.1zM165.7 406.8h1.1v1.1h-1.1zM202.7 402.4h1.1v1.1h-1.1zM173.3 429.6h1.1v1.1h-1.1zM178.3 398.9h1.1v1.1h-1.1zM170.0 430.0h1.1v1.1h-1.1zM154.5 433.2h1.1v1.1h-1.1zM183.4 419.2h1.1v1.1h-1.1zM153.0 437.2h1.1v1.1h-1.1zM171.8 412.1h1.1v1.1h-1.1zM163.5 409.2h1.1v1.1h-1.1zM175.2 438.9h1.1v1.1h-1.1zM183.6 408.5h1.1v1.1h-1.1zM209.8 405.7h1.1v1.1h-1.1zM199.3 423.5h1.1v1.1h-1.1zM171.1 426.9h1.1v1.1h-1.1zM181.6 433.8h1.1v1.1h-1.1zM176.1 429.3h1.1v1.1h-1.1zM170.4 436.9h1.1v1.1h-1.1zM167.2 396.4h1.1v1.1h-1.1zM195.5 401.1h1.1v1.1h-1.1zM182.7 394.8h1.1v1.1h-1.1zM182.5 403.4h1.1v1.1h-1.1zM184.5 373.5h1.1v1.1h-1.1zM162.3 400.1h1.1v1.1h-1.1zM192.3 422.3h1.1v1.1h-1.1zM201.3 397.9h1.1v1.1h-1.1zM152.3 421.3h1.1v1.1h-1.1zM185.5 430.1h1.1v1.1h-1.1zM171.9 407.8h1.1v1.1h-1.1zM173.7 427.1h1.1v1.1h-1.1zM177.1 411.7h1.1v1.1h-1.1zM203.6 392.4h1.1v1.1h-1.1zM161.4 388.5h1.1v1.1h-1.1zM182.8 429.7h1.1v1.1h-1.1zM185.6 388.5h1.1v1.1h-1.1zM181.8 401.3h1.1v1.1h-1.1zM193.9 415.6h1.1v1.1h-1.1zM205.7 402.9h1.1v1.1h-1.1zM156.6 438.9h1.1v1.1h-1.1zM192.6 422.4h1.1v1.1h-1.1zM197.4 374.8h1.1v1.1h-1.1zM189.6 382.6h1.1v1.1h-1.1zM179.2 394.9h1.1v1.1h-1.1zM181.9 414.8h1.1v1.1h-1.1zM193.0 429.9h1.1v1.1h-1.1zM159.8 413.9h1.1v1.1h-1.1zM199.5 436.0h1.1v1.1h-1.1zM192.2 420.0h1.1v1.1h-1.1zM182.8 379.8h1.1v1.1h-1.1zM180.3 422.8h1.1v1.1h-1.1zM188.2 423.9h1.1v1.1h-1.1zM191.0 396.4h1.1v1.1h-1.1zM174.8 406.5h1.1v1.1h-1.1zM153.7 435.1h1.1v1.1h-1.1zM191.5 404.3h1.1v1.1h-1.1zM203.9 432.7h1.1v1.1h-1.1zM177.8 393.5h1.1v1.1h-1.1zM166.5 435.4h1.1v1.1h-1.1zM199.7 416.4h1.1v1.1h-1.1zM194.3 420.9h1.1v1.1h-1.1zM169.7 438.4h1.1v1.1h-1.1zM197.7 417.4h1.1v1.1h-1.1zM176.0 419.6h1.1v1.1h-1.1zM192.1 373.5h1.1v1.1h-1.1zM199.3 372.8h1.1v1.1h-1.1zM161.4 436.3h1.1v1.1h-1.1zM175.2 397.0h1.1v1.1h-1.1zM199.1 427.1h1.1v1.1h-1.1zM161.2 427.9h1.1v1.1h-1.1zM165.9 405.9h1.1v1.1h-1.1zM196.2 391.8h1.1v1.1h-1.1zM175.3 407.4h1.1v1.1h-1.1zM203.8 413.4h1.1v1.1h-1.1zM159.8 407.4h1.1v1.1h-1.1zM161.2 395.1h1.1v1.1h-1.1zM174.1 428.4h1.1v1.1h-1.1zM191.9 439.7h1.1v1.1h-1.1zM207.4 407.7h1.1v1.1h-1.1zM169.6 399.7h1.1v1.1h-1.1zM188.7 389.5h1.1v1.1h-1.1zM161.0 381.7h1.1v1.1h-1.1zM188.2 371.1h1.1v1.1h-1.1zM172.6 435.6h1.1v1.1h-1.1zM190.1 376.5h1.1v1.1h-1.1zM168.5 404.6h1.1v1.1h-1.1zM192.1 415.2h1.1v1.1h-1.1zM158.5 414.3h1.1v1.1h-1.1zM184.5 437.4h1.1v1.1h-1.1zM163.5 419.2h1.1v1.1h-1.1zM169.4 382.9h1.1v1.1h-1.1zM176.1 426.3h1.1v1.1h-1.1zM187.5 398.1h1.1v1.1h-1.1zM181.0 399.5h1.1v1.1h-1.1zM201.0 411.3h1.1v1.1h-1.1zM157.4 426.8h1.1v1.1h-1.1zM160.4 413.2h1.1v1.1h-1.1zM174.7 427.0h1.1v1.1h-1.1zM192.5 417.9h1.1v1.1h-1.1zM177.8 395.1h1.1v1.1h-1.1zM191.5 395.7h1.1v1.1h-1.1zM182.5 386.5h1.1v1.1h-1.1zM163.0 438.8h1.1v1.1h-1.1zM192.8 372.1h1.1v1.1h-1.1zM188.3 396.7h1.1v1.1h-1.1zM183.2 424.8h1.1v1.1h-1.1zM188.7 434.9h1.1v1.1h-1.1zM159.3 411.9h1.1v1.1h-1.1zM168.4 435.0h1.1v1.1h-1.1zM181.3 384.9h1.1v1.1h-1.1zM196.6 395.6h1.1v1.1h-1.1zM210.7 438.2h1.1v1.1h-1.1zM189.3 438.0h1.1v1.1h-1.1zM157.5 411.2h1.1v1.1h-1.1zM185.9 420.3h1.1v1.1h-1.1zM197.2 390.7h1.1v1.1h-1.1zM188.0 398.9h1.1v1.1h-1.1zM168.3 432.4h1.1v1.1h-1.1zM160.2 417.4h1.1v1.1h-1.1zM201.0 390.4h1.1v1.1h-1.1zM177.2 425.3h1.1v1.1h-1.1zM201.5 408.2h1.1v1.1h-1.1zM205.1 389.6h1.1v1.1h-1.1zM180.8 433.6h1.1v1.1h-1.1zM213.5 432.0h1.1v1.1h-1.1zM177.8 417.0h1.1v1.1h-1.1zM208.6 416.3h1.1v1.1h-1.1zM173.4 377.1h1.1v1.1h-1.1zM202.5 411.9h1.1v1.1h-1.1zM180.2 386.2h1.1v1.1h-1.1zM189.6 384.9h1.1v1.1h-1.1zM177.4 417.6h1.1v1.1h-1.1zM202.9 415.8h1.1v1.1h-1.1zM193.5 410.7h1.1v1.1h-1.1zM181.4 408.1h1.1v1.1h-1.1zM170.0 381.0h1.1v1.1h-1.1zM178.9 412.3h1.1v1.1h-1.1zM185.1 416.2h1.1v1.1h-1.1zM172.6 427.1h1.1v1.1h-1.1zM187.9 394.5h1.1v1.1h-1.1zM177.1 415.3h1.1v1.1h-1.1zM168.5 388.0h1.1v1.1h-1.1zM186.0 414.8h1.1v1.1h-1.1zM187.7 427.4h1.1v1.1h-1.1zM179.6 397.0h1.1v1.1h-1.1zM156.4 420.4h1.1v1.1h-1.1zM166.3 406.6h1.1v1.1h-1.1zM208.6 415.7h1.1v1.1h-1.1zM204.1 405.8h1.1v1.1h-1.1zM195.0 402.3h1.1v1.1h-1.1zM170.4 423.1h1.1v1.1h-1.1zM212.7 436.8h1.1v1.1h-1.1zM198.0 413.9h1.1v1.1h-1.1zM168.0 382.0h1.1v1.1h-1.1zM178.6 408.3h1.1v1.1h-1.1zM184.3 386.2h1.1v1.1h-1.1zM162.3 415.9h1.1v1.1h-1.1zM165.8 433.0h1.1v1.1h-1.1zM189.1 380.6h1.1v1.1h-1.1zM206.2 434.1h1.1v1.1h-1.1zM188.6 422.2h1.1v1.1h-1.1zM182.0 426.3h1.1v1.1h-1.1zM175.9 431.5h1.1v1.1h-1.1zM187.3 397.0h1.1v1.1h-1.1zM188.7 406.3h1.1v1.1h-1.1zM190.8 386.0h1.1v1.1h-1.1zM203.1 421.2h1.1v1.1h-1.1zM192.9 419.8h1.1v1.1h-1.1zM171.0 404.4h1.1v1.1h-1.1zM153.9 420.1h1.1v1.1h-1.1zM190.5 416.7h1.1v1.1h-1.1zM188.7 420.1h1.1v1.1h-1.1zM181.2 410.0h1.1v1.1h-1.1zM158.0 416.2h1.1v1.1h-1.1zM184.5 393.9h1.1v1.1h-1.1zM179.9 389.1h1.1v1.1h-1.1zM177.8 381.3h1.1v1.1h-1.1zM170.6 410.0h1.1v1.1h-1.1zM191.5 407.7h1.1v1.1h-1.1zM154.6 430.8h1.1v1.1h-1.1zM175.1 417.0h1.1v1.1h-1.1zM180.6 425.3h1.1v1.1h-1.1zM197.6 394.2h1.1v1.1h-1.1zM172.3 408.1h1.1v1.1h-1.1zM177.6 384.6h1.1v1.1h-1.1zM200.0 431.2h1.1v1.1h-1.1zM186.1 422.6h1.1v1.1h-1.1zM181.6 410.3h1.1v1.1h-1.1zM176.7 396.9h1.1v1.1h-1.1zM182.6 434.4h1.1v1.1h-1.1zM184.2 378.5h1.1v1.1h-1.1zM168.2 382.9h1.1v1.1h-1.1zM182.2 424.7h1.1v1.1h-1.1zM185.2 390.5h1.1v1.1h-1.1zM160.9 402.8h1.1v1.1h-1.1zM177.7 389.7h1.1v1.1h-1.1zM179.9 436.4h1.1v1.1h-1.1zM196.7 401.6h1.1v1.1h-1.1zM162.3 421.6h1.1v1.1h-1.1zM161.6 405.0h1.1v1.1h-1.1zM198.0 390.2h1.1v1.1h-1.1zM162.6 396.7h1.1v1.1h-1.1zM156.5 435.2h1.1v1.1h-1.1zM185.3 384.1h1.1v1.1h-1.1zM159.6 393.1h1.1v1.1h-1.1zM166.3 395.0h1.1v1.1h-1.1zM195.6 422.4h1.1v1.1h-1.1zM174.6 378.1h1.1v1.1h-1.1zM202.2 423.3h1.1v1.1h-1.1zM175.1 426.3h1.1v1.1h-1.1zM179.3 424.6h1.1v1.1h-1.1zM189.2 427.7h1.1v1.1h-1.1zM192.5 415.6h1.1v1.1h-1.1zM194.4 434.5h1.1v1.1h-1.1zM196.3 417.6h1.1v1.1h-1.1zM181.9 404.4h1.1v1.1h-1.1zM212.2 434.8h1.1v1.1h-1.1zM184.6 434.3h1.1v1.1h-1.1zM174.8 431.4h1.1v1.1h-1.1zM198.6 389.3h1.1v1.1h-1.1zM194.2 382.8h1.1v1.1h-1.1zM183.7 397.3h1.1v1.1h-1.1zM193.9 395.1h1.1v1.1h-1.1zM196.1 370.7h1.1v1.1h-1.1zM194.9 429.2h1.1v1.1h-1.1zM167.2 391.1h1.1v1.1h-1.1zM195.2 384.3h1.1v1.1h-1.1zM199.4 411.9h1.1v1.1h-1.1zM200.8 411.9h1.1v1.1h-1.1zM194.0 409.5h1.1v1.1h-1.1zM200.6 384.5h1.1v1.1h-1.1zM205.2 394.6h1.1v1.1h-1.1zM154.5 433.5h1.1v1.1h-1.1zM157.3 402.1h1.1v1.1h-1.1zM200.1 419.0h1.1v1.1h-1.1zM194.5 407.8h1.1v1.1h-1.1zM185.6 375.6h1.1v1.1h-1.1zM168.9 394.2h1.1v1.1h-1.1zM153.6 429.1h1.1v1.1h-1.1zM174.1 426.3h1.1v1.1h-1.1zM155.8 434.1h1.1v1.1h-1.1zM198.4 390.3h1.1v1.1h-1.1zM188.0 389.9h1.1v1.1h-1.1zM152.6 417.3h1.1v1.1h-1.1zM180.3 406.8h1.1v1.1h-1.1zM174.2 432.3h1.1v1.1h-1.1zM181.7 398.0h1.1v1.1h-1.1zM190.1 392.7h1.1v1.1h-1.1zM201.4 419.9h1.1v1.1h-1.1zM169.1 388.8h1.1v1.1h-1.1zM210.7 413.5h1.1v1.1h-1.1zM206.9 422.2h1.1v1.1h-1.1zM176.5 438.6h1.1v1.1h-1.1zM182.7 432.0h1.1v1.1h-1.1zM182.0 398.4h1.1v1.1h-1.1zM183.5 397.1h1.1v1.1h-1.1zM197.1 419.6h1.1v1.1h-1.1zM165.3 418.3h1.1v1.1h-1.1zM204.3 402.2h1.1v1.1h-1.1zM180.6 437.3h1.1v1.1h-1.1zM165.2 391.0h1.1v1.1h-1.1zM182.2 425.1h1.1v1.1h-1.1zM185.1 382.7h1.1v1.1h-1.1zM156.1 415.9h1.1v1.1h-1.1zM189.6 410.9h1.1v1.1h-1.1zM208.6 438.5h1.1v1.1h-1.1zM181.8 393.8h1.1v1.1h-1.1zM193.1 394.7h1.1v1.1h-1.1zM195.2 393.2h1.1v1.1h-1.1zM174.2 436.0h1.1v1.1h-1.1zM199.5 398.9h1.1v1.1h-1.1zM201.1 374.1h1.1v1.1h-1.1zM192.9 433.1h1.1v1.1h-1.1zM201.0 387.7h1.1v1.1h-1.1zM202.1 397.4h1.1v1.1h-1.1zM200.6 404.7h1.1v1.1h-1.1zM163.7 405.5h1.1v1.1h-1.1zM170.6 391.1h1.1v1.1h-1.1zM201.1 403.6h1.1v1.1h-1.1zM153.5 403.9h1.1v1.1h-1.1zM187.9 423.3h1.1v1.1h-1.1zM204.3 407.5h1.1v1.1h-1.1zM152.4 418.2h1.1v1.1h-1.1zM182.3 393.1h1.1v1.1h-1.1zM171.5 432.7h1.1v1.1h-1.1zM207.3 410.6h1.1v1.1h-1.1zM213.5 371.3h1.1v1.1h-1.1zM157.4 414.1h1.1v1.1h-1.1zM180.4 425.2h1.1v1.1h-1.1zM162.0 417.4h1.1v1.1h-1.1zM161.3 388.9h1.1v1.1h-1.1zM182.9 413.7h1.1v1.1h-1.1zM205.5 435.6h1.1v1.1h-1.1zM190.7 411.7h1.1v1.1h-1.1zM201.0 419.9h1.1v1.1h-1.1zM196.4 420.5h1.1v1.1h-1.1zM194.8 393.5h1.1v1.1h-1.1zM184.2 436.8h1.1v1.1h-1.1zM165.8 390.1h1.1v1.1h-1.1zM198.6 405.2h1.1v1.1h-1.1zM199.5 400.4h1.1v1.1h-1.1zM201.7 432.8h1.1v1.1h-1.1zM182.8 398.8h1.1v1.1h-1.1zM190.8 408.7h1.1v1.1h-1.1zM174.1 376.2h1.1v1.1h-1.1zM172.4 383.9h1.1v1.1h-1.1zM192.4 402.0h1.1v1.1h-1.1zM175.6 414.7h1.1v1.1h-1.1zM206.4 401.5h1.1v1.1h-1.1zM191.0 416.6h1.1v1.1h-1.1zM216.6 432.1h1.1v1.1h-1.1zM154.2 435.7h1.1v1.1h-1.1zM177.7 420.9h1.1v1.1h-1.1zM210.9 424.2h1.1v1.1h-1.1zM192.0 390.5h1.1v1.1h-1.1zM176.3 420.9h1.1v1.1h-1.1zM167.1 393.0h1.1v1.1h-1.1zM170.2 409.5h1.1v1.1h-1.1zM189.6 418.6h1.1v1.1h-1.1zM187.7 435.1h1.1v1.1h-1.1zM208.7 389.6h1.1v1.1h-1.1zM158.2 400.5h1.1v1.1h-1.1zM196.0 392.5h1.1v1.1h-1.1zM173.6 418.0h1.1v1.1h-1.1zM189.6 373.4h1.1v1.1h-1.1zM188.9 393.4h1.1v1.1h-1.1zM164.2 414.9h1.1v1.1h-1.1zM192.5 401.4h1.1v1.1h-1.1zM198.4 378.3h1.1v1.1h-1.1zM181.0 390.1h1.1v1.1h-1.1zM175.4 415.0h1.1v1.1h-1.1zM195.0 400.5h1.1v1.1h-1.1zM174.1 381.4h1.1v1.1h-1.1zM164.2 399.6h1.1v1.1h-1.1zM194.5 384.2h1.1v1.1h-1.1zM205.7 392.3h1.1v1.1h-1.1zM174.0 413.3h1.1v1.1h-1.1zM200.4 411.3h1.1v1.1h-1.1zM208.8 401.3h1.1v1.1h-1.1zM193.9 398.7h1.1v1.1h-1.1zM179.5 386.1h1.1v1.1h-1.1zM186.2 438.1h1.1v1.1h-1.1zM161.4 418.9h1.1v1.1h-1.1zM190.9 394.4h1.1v1.1h-1.1zM205.9 412.4h1.1v1.1h-1.1zM170.7 397.4h1.1v1.1h-1.1zM179.9 428.8h1.1v1.1h-1.1zM180.4 428.3h1.1v1.1h-1.1zM177.9 425.3h1.1v1.1h-1.1zM163.8 413.3h1.1v1.1h-1.1zM193.8 370.3h1.1v1.1h-1.1zM184.3 430.7h1.1v1.1h-1.1zM184.1 425.5h1.1v1.1h-1.1zM184.5 419.3h1.1v1.1h-1.1zM168.8 434.0h1.1v1.1h-1.1zM177.5 433.3h1.1v1.1h-1.1zM189.8 392.5h1.1v1.1h-1.1zM157.9 406.3h1.1v1.1h-1.1zM170.4 439.0h1.1v1.1h-1.1zM188.5 421.4h1.1v1.1h-1.1zM187.1 379.6h1.1v1.1h-1.1zM202.7 385.4h1.1v1.1h-1.1zM209.8 413.6h1.1v1.1h-1.1zM154.7 424.5h1.1v1.1h-1.1zM196.9 397.9h1.1v1.1h-1.1zM167.1 391.2h1.1v1.1h-1.1zM201.3 422.5h1.1v1.1h-1.1zM190.4 390.6h1.1v1.1h-1.1zM178.9 428.0h1.1v1.1h-1.1zM164.6 437.0h1.1v1.1h-1.1zM182.1 404.9h1.1v1.1h-1.1zM179.3 416.0h1.1v1.1h-1.1zM199.7 394.0h1.1v1.1h-1.1zM184.9 394.9h1.1v1.1h-1.1zM184.7 395.0h1.1v1.1h-1.1zM190.7 412.0h1.1v1.1h-1.1zM190.8 379.9h1.1v1.1h-1.1z" fill="#707070"/>
<path d="M70.5 435.5h1.1v1.1h-1.1zM62.7 439.0h1.1v1.1h-1.1zM46.9 436.5h1.1v1.1h-1.1zM64.5 438.4h1.1v1.1h-1.1zM78.8 438.5h1.1v1.1h-1.1zM86.0 436.9h1.1v1.1h-1.1zM64.5 438.3h1.1v1.1h-1.1zM70.2 437.9h1.1v1.1h-1.1zM62.5 439.0h1.1v1.1h-1.1zM74.2 434.4h1.1v1.1h-1.1zM89.6 438.4h1.1v1.1h-1.1zM55.6 437.6h1.1v1.1h-1.1zM51.3 438.9h1.1v1.1h-1.1zM76.8 438.2h1.1v1.1h-1.1zM95.9 439.0h1.1v1.1h-1.1zM76.5 435.9h1.1v1.1h-1.1zM70.6 438.3h1.1v1.1h-1.1zM65.8 438.9h1.1v1.1h-1.1zM72.9 435.4h1.1v1.1h-1.1zM45.1 437.8h1.1v1.1h-1.1zM46.4 438.1h1.1v1.1h-1.1zM40.8 438.0h1.1v1.1h-1.1zM50.1 437.3h1.1v1.1h-1.1zM89.5 434.9h1.1v1.1h-1.1zM50.1 438.9h1.1v1.1h-1.1zM65.6 437.7h1.1v1.1h-1.1zM43.7 438.3h1.1v1.1h-1.1zM87.1 434.5h1.1v1.1h-1.1zM68.4 438.9h1.1v1.1h-1.1zM54.2 434.5h1.1v1.1h-1.1zM73.8 439.0h1.1v1.1h-1.1zM98.2 437.0h1.1v1.1h-1.1zM45.3 438.5h1.1v1.1h-1.1zM43.2 438.6h1.1v1.1h-1.1zM97.2 437.6h1.1v1.1h-1.1zM69.7 435.5h1.1v1.1h-1.1zM46.0 438.2h1.1v1.1h-1.1zM65.2 438.8h1.1v1.1h-1.1zM92.7 438.3h1.1v1.1h-1.1zM96.0 438.6h1.1v1.1h-1.1zM47.4 436.2h1.1v1.1h-1.1zM49.2 436.3h1.1v1.1h-1.1zM64.4 438.6h1.1v1.1h-1.1zM75.2 435.1h1.1v1.1h-1.1zM89.7 436.4h1.1v1.1h-1.1zM70.5 434.3h1.1v1.1h-1.1zM70.1 438.5h1.1v1.1h-1.1zM43.8 438.9h1.1v1.1h-1.1zM46.5 438.3h1.1v1.1h-1.1zM86.7 439.0h1.1v1.1h-1.1zM43.7 438.6h1.1v1.1h-1.1zM85.5 438.9h1.1v1.1h-1.1zM85.9 434.9h1.1v1.1h-1.1zM68.6 438.0h1.1v1.1h-1.1zM55.5 438.8h1.1v1.1h-1.1zM90.2 435.2h1.1v1.1h-1.1zM96.9 439.0h1.1v1.1h-1.1zM45.2 435.6h1.1v1.1h-1.1zM97.5 437.2h1.1v1.1h-1.1zM63.8 434.1h1.1v1.1h-1.1zM41.7 426.4h1.1v1.1h-1.1zM41.1 434.9h1.1v1.1h-1.1zM42.2 421.6h1.1v1.1h-1.1zM41.1 429.2h1.1v1.1h-1.1zM42.4 433.5h1.1v1.1h-1.1zM42.7 430.2h1.1v1.1h-1.1zM41.7 419.8h1.1v1.1h-1.1zM42.2 436.0h1.1v1.1h-1.1zM42.4 435.4h1.1v1.1h-1.1zM42.2 438.7h1.1v1.1h-1.1zM41.1 434.8h1.1v1.1h-1.1zM43.2 438.5h1.1v1.1h-1.1zM43.0 434.0h1.1v1.1h-1.1zM41.1 429.2h1.1v1.1h-1.1zM46.0 435.6h1.1v1.1h-1.1zM44.9 437.1h1.1v1.1h-1.1zM44.2 436.8h1.1v1.1h-1.1zM45.1 425.1h1.1v1.1h-1.1zM46.1 432.6h1.1v1.1h-1.1zM44.4 438.5h1.1v1.1h-1.1zM45.7 423.8h1.1v1.1h-1.1zM44.7 438.9h1.1v1.1h-1.1zM45.2 423.7h1.1v1.1h-1.1zM45.8 426.8h1.1v1.1h-1.1zM45.0 428.6h1.1v1.1h-1.1zM45.6 435.6h1.1v1.1h-1.1zM45.6 422.2h1.1v1.1h-1.1zM44.2 422.9h1.1v1.1h-1.1zM49.2 438.6h1.1v1.1h-1.1zM48.4 437.8h1.1v1.1h-1.1zM49.6 435.3h1.1v1.1h-1.1zM49.8 433.7h1.1v1.1h-1.1zM49.8 438.5h1.1v1.1h-1.1zM48.7 435.2h1.1v1.1h-1.1zM48.8 436.6h1.1v1.1h-1.1zM48.3 433.9h1.1v1.1h-1.1zM49.1 432.4h1.1v1.1h-1.1zM48.1 438.8h1.1v1.1h-1.1zM48.1 437.8h1.1v1.1h-1.1zM48.5 429.7h1.1v1.1h-1.1zM49.8 435.7h1.1v1.1h-1.1zM48.2 429.4h1.1v1.1h-1.1zM55.9 429.1h1.1v1.1h-1.1zM56.1 437.0h1.1v1.1h-1.1zM56.0 438.9h1.1v1.1h-1.1zM55.4 432.8h1.1v1.1h-1.1zM56.0 437.9h1.1v1.1h-1.1zM57.1 437.6h1.1v1.1h-1.1zM55.9 430.7h1.1v1.1h-1.1zM55.8 435.0h1.1v1.1h-1.1zM55.8 429.4h1.1v1.1h-1.1zM56.3 434.6h1.1v1.1h-1.1zM57.1 438.1h1.1v1.1h-1.1zM55.7 434.8h1.1v1.1h-1.1zM55.3 428.9h1.1v1.1h-1.1zM56.9 438.3h1.1v1.1h-1.1zM61.9 438.8h1.1v1.1h-1.1zM60.7 434.4h1.1v1.1h-1.1zM61.0 431.5h1.1v1.1h-1.1zM60.4 438.8h1.1v1.1h-1.1zM60.3 433.9h1.1v1.1h-1.1zM60.5 434.5h1.1v1.1h-1.1zM62.1 437.5h1.1v1.1h-1.1zM60.2 437.6h1.1v1.1h-1.1zM61.7 435.8h1.1v1.1h-1.1zM61.5 432.8h1.1v1.1h-1.1zM61.1 436.4h1.1v1.1h-1.1zM60.1 439.0h1.1v1.1h-1.1zM61.6 434.8h1.1v1.1h-1.1zM60.4 433.7h1.1v1.1h-1.1zM67.1 437.4h1.1v1.1h-1.1zM67.8 438.2h1.1v1.1h-1.1zM67.9 434.6h1.1v1.1h-1.1zM67.9 433.0h1.1v1.1h-1.1zM66.1 437.1h1.1v1.1h-1.1zM66.9 436.4h1.1v1.1h-1.1zM67.8 436.4h1.1v1.1h-1.1zM67.8 433.4h1.1v1.1h-1.1zM67.5 438.6h1.1v1.1h-1.1zM67.1 431.3h1.1v1.1h-1.1zM67.9 438.9h1.1v1.1h-1.1zM66.7 434.3h1.1v1.1h-1.1zM66.1 438.6h1.1v1.1h-1.1zM67.4 434.7h1.1v1.1h-1.1zM74.5 437.1h1.1v1.1h-1.1zM74.1 437.9h1.1v1.1h-1.1zM74.8 432.3h1.1v1.1h-1.1zM75.2 435.4h1.1v1.1h-1.1zM74.5 435.6h1.1v1.1h-1.1zM75.2 432.3h1.1v1.1h-1.1zM74.7 435.3h1.1v1.1h-1.1zM74.3 436.0h1.1v1.1h-1.1zM74.0 439.0h1.1v1.1h-1.1zM75.0 437.8h1.1v1.1h-1.1zM74.1 435.8h1.1v1.1h-1.1zM75.8 435.6h1.1v1.1h-1.1zM75.9 436.4h1.1v1.1h-1.1zM75.0 434.5h1.1v1.1h-1.1zM83.8 431.9h1.1v1.1h-1.1zM83.0 433.1h1.1v1.1h-1.1zM82.1 436.1h1.1v1.1h-1.1zM82.4 433.2h1.1v1.1h-1.1zM82.2 435.8h1.1v1.1h-1.1zM82.8 437.0h1.1v1.1h-1.1zM82.2 438.5h1.1v1.1h-1.1zM82.1 438.3h1.1v1.1h-1.1zM83.7 434.3h1.1v1.1h-1.1zM83.6 436.8h1.1v1.1h-1.1zM83.7 437.2h1.1v1.1h-1.1zM83.0 434.9h1.1v1.1h-1.1zM84.1 433.5h1.1v1.1h-1.1zM82.8 435.8h1.1v1.1h-1.1zM92.2 438.6h1.1v1.1h-1.1zM92.0 438.0h1.1v1.1h-1.1zM92.1 436.6h1.1v1.1h-1.1zM92.7 438.8h1.1v1.1h-1.1zM92.3 435.0h1.1v1.1h-1.1zM92.5 434.5h1.1v1.1h-1.1zM93.6 435.9h1.1v1.1h-1.1zM93.4 435.0h1.1v1.1h-1.1zM93.9 438.6h1.1v1.1h-1.1zM93.6 437.8h1.1v1.1h-1.1zM93.7 438.0h1.1v1.1h-1.1zM92.6 437.8h1.1v1.1h-1.1zM92.6 438.4h1.1v1.1h-1.1zM93.4 434.4h1.1v1.1h-1.1zM174.9 439.2h1.1v1.1h-1.1zM165.0 439.2h1.1v1.1h-1.1zM162.9 437.7h1.1v1.1h-1.1zM150.2 439.3h1.1v1.1h-1.1zM197.9 438.5h1.1v1.1h-1.1zM189.5 438.0h1.1v1.1h-1.1zM197.4 435.4h1.1v1.1h-1.1zM218.5 435.7h1.1v1.1h-1.1zM153.8 439.5h1.1v1.1h-1.1zM172.6 439.4h1.1v1.1h-1.1zM206.4 435.1h1.1v1.1h-1.1zM165.7 439.0h1.1v1.1h-1.1zM151.8 438.7h1.1v1.1h-1.1zM170.7 439.5h1.1v1.1h-1.1zM180.5 436.2h1.1v1.1h-1.1zM153.8 439.4h1.1v1.1h-1.1zM218.1 438.9h1.1v1.1h-1.1zM218.0 434.7h1.1v1.1h-1.1zM217.8 439.5h1.1v1.1h-1.1zM189.5 438.4h1.1v1.1h-1.1zM185.5 438.8h1.1v1.1h-1.1zM214.3 435.3h1.1v1.1h-1.1zM183.6 439.0h1.1v1.1h-1.1zM161.0 435.4h1.1v1.1h-1.1zM160.0 439.1h1.1v1.1h-1.1zM215.6 438.3h1.1v1.1h-1.1zM164.6 439.2h1.1v1.1h-1.1zM216.9 439.2h1.1v1.1h-1.1zM201.6 438.3h1.1v1.1h-1.1zM179.2 437.8h1.1v1.1h-1.1zM178.2 436.7h1.1v1.1h-1.1zM213.6 439.4h1.1v1.1h-1.1zM215.1 439.2h1.1v1.1h-1.1zM175.8 439.0h1.1v1.1h-1.1zM160.9 439.5h1.1v1.1h-1.1zM162.8 439.5h1.1v1.1h-1.1zM165.7 434.9h1.1v1.1h-1.1zM161.4 439.2h1.1v1.1h-1.1zM151.8 439.1h1.1v1.1h-1.1zM214.1 439.5h1.1v1.1h-1.1zM154.8 439.0h1.1v1.1h-1.1zM218.2 437.9h1.1v1.1h-1.1zM200.3 436.0h1.1v1.1h-1.1zM182.2 439.5h1.1v1.1h-1.1zM154.3 436.7h1.1v1.1h-1.1zM214.1 439.4h1.1v1.1h-1.1zM158.6 439.5h1.1v1.1h-1.1zM155.5 437.4h1.1v1.1h-1.1zM204.9 437.5h1.1v1.1h-1.1zM218.7 435.2h1.1v1.1h-1.1zM187.6 439.5h1.1v1.1h-1.1zM150.1 437.7h1.1v1.1h-1.1zM154.4 439.0h1.1v1.1h-1.1zM210.4 438.1h1.1v1.1h-1.1zM170.7 437.9h1.1v1.1h-1.1zM168.5 436.4h1.1v1.1h-1.1zM173.0 438.5h1.1v1.1h-1.1zM185.9 435.5h1.1v1.1h-1.1zM172.3 434.7h1.1v1.1h-1.1zM208.9 439.5h1.1v1.1h-1.1z" fill="#ff4a2a"/>
<rect x="40.5" y="436.4" width="58" height="2.6" fill="#ff3a18"/>
<rect x="149" y="437.8" width="71" height="1.7" fill="#ff4a22"/>
<path d="M160.8 422.0h1.2v1.2h-1.2zM161.9 415.1h1.2v1.2h-1.2zM160.6 428.9h1.2v1.2h-1.2zM162.8 431.0h1.2v1.2h-1.2zM161.7 425.5h1.2v1.2h-1.2zM161.8 416.8h1.2v1.2h-1.2zM161.8 400.4h1.2v1.2h-1.2zM162.5 429.1h1.2v1.2h-1.2zM162.7 410.6h1.2v1.2h-1.2zM161.1 417.0h1.2v1.2h-1.2zM161.4 413.8h1.2v1.2h-1.2zM162.9 398.1h1.2v1.2h-1.2zM160.3 425.0h1.2v1.2h-1.2zM161.5 422.4h1.2v1.2h-1.2zM162.8 429.2h1.2v1.2h-1.2zM160.5 412.5h1.2v1.2h-1.2zM161.4 432.0h1.2v1.2h-1.2zM160.1 433.2h1.2v1.2h-1.2zM162.0 405.5h1.2v1.2h-1.2zM162.0 406.5h1.2v1.2h-1.2zM162.1 432.2h1.2v1.2h-1.2zM161.2 399.1h1.2v1.2h-1.2zM160.7 404.3h1.2v1.2h-1.2zM159.6 400.1h1.2v1.2h-1.2zM160.4 416.6h1.2v1.2h-1.2zM159.9 425.9h1.2v1.2h-1.2zM162.6 420.5h1.2v1.2h-1.2zM160.9 428.0h1.2v1.2h-1.2zM160.2 429.9h1.2v1.2h-1.2zM162.3 430.4h1.2v1.2h-1.2zM160.1 405.2h1.2v1.2h-1.2zM161.8 422.6h1.2v1.2h-1.2zM162.8 423.4h1.2v1.2h-1.2zM161.9 405.6h1.2v1.2h-1.2zM160.4 415.5h1.2v1.2h-1.2zM161.5 412.2h1.2v1.2h-1.2zM161.7 433.4h1.2v1.2h-1.2zM160.1 429.1h1.2v1.2h-1.2zM161.1 418.8h1.2v1.2h-1.2zM161.0 401.7h1.2v1.2h-1.2zM161.3 402.8h1.2v1.2h-1.2zM161.1 413.4h1.2v1.2h-1.2zM160.6 423.5h1.2v1.2h-1.2zM159.7 414.1h1.2v1.2h-1.2zM161.6 417.3h1.2v1.2h-1.2zM160.4 411.4h1.2v1.2h-1.2zM162.8 412.5h1.2v1.2h-1.2zM160.5 412.8h1.2v1.2h-1.2zM159.6 430.0h1.2v1.2h-1.2zM162.4 398.5h1.2v1.2h-1.2zM160.2 417.3h1.2v1.2h-1.2zM160.4 433.2h1.2v1.2h-1.2zM161.1 425.0h1.2v1.2h-1.2zM160.5 426.0h1.2v1.2h-1.2zM161.2 414.1h1.2v1.2h-1.2zM162.9 431.3h1.2v1.2h-1.2zM161.0 413.1h1.2v1.2h-1.2zM162.3 422.4h1.2v1.2h-1.2zM161.1 412.7h1.2v1.2h-1.2zM160.2 402.5h1.2v1.2h-1.2zM162.6 403.2h1.2v1.2h-1.2zM161.3 407.4h1.2v1.2h-1.2zM159.9 405.5h1.2v1.2h-1.2zM161.6 412.1h1.2v1.2h-1.2zM162.0 416.0h1.2v1.2h-1.2zM162.6 399.4h1.2v1.2h-1.2zM160.5 430.3h1.2v1.2h-1.2zM160.8 416.2h1.2v1.2h-1.2zM161.8 429.9h1.2v1.2h-1.2zM161.3 403.5h1.2v1.2h-1.2zM160.9 423.6h1.2v1.2h-1.2zM162.9 411.9h1.2v1.2h-1.2zM160.8 422.9h1.2v1.2h-1.2zM160.8 405.3h1.2v1.2h-1.2zM162.1 410.3h1.2v1.2h-1.2zM162.0 421.6h1.2v1.2h-1.2zM161.8 418.6h1.2v1.2h-1.2zM159.8 399.8h1.2v1.2h-1.2zM160.6 407.3h1.2v1.2h-1.2zM162.3 413.6h1.2v1.2h-1.2zM161.2 403.2h1.2v1.2h-1.2zM160.6 424.9h1.2v1.2h-1.2zM161.6 419.6h1.2v1.2h-1.2zM161.9 431.8h1.2v1.2h-1.2zM159.9 418.5h1.2v1.2h-1.2zM160.5 410.8h1.2v1.2h-1.2zM162.9 433.0h1.2v1.2h-1.2zM161.5 408.4h1.2v1.2h-1.2zM161.7 428.6h1.2v1.2h-1.2zM159.9 406.4h1.2v1.2h-1.2zM167.8 424.0h1.2v1.2h-1.2zM167.0 430.6h1.2v1.2h-1.2zM166.6 434.8h1.2v1.2h-1.2zM167.0 435.6h1.2v1.2h-1.2zM167.7 429.6h1.2v1.2h-1.2zM166.2 428.7h1.2v1.2h-1.2zM167.0 431.0h1.2v1.2h-1.2zM167.7 436.6h1.2v1.2h-1.2zM167.4 437.8h1.2v1.2h-1.2zM166.4 428.6h1.2v1.2h-1.2zM166.6 424.3h1.2v1.2h-1.2zM167.4 435.0h1.2v1.2h-1.2zM166.9 436.6h1.2v1.2h-1.2zM167.0 428.9h1.2v1.2h-1.2zM166.5 424.5h1.2v1.2h-1.2zM166.5 429.3h1.2v1.2h-1.2zM171.2 436.2h1.2v1.2h-1.2zM170.2 434.9h1.2v1.2h-1.2zM171.8 433.3h1.2v1.2h-1.2zM170.9 420.9h1.2v1.2h-1.2zM171.2 435.5h1.2v1.2h-1.2zM171.6 430.9h1.2v1.2h-1.2zM171.5 437.2h1.2v1.2h-1.2zM170.7 420.7h1.2v1.2h-1.2zM170.7 420.7h1.2v1.2h-1.2zM171.1 431.9h1.2v1.2h-1.2zM170.5 429.3h1.2v1.2h-1.2zM171.0 429.1h1.2v1.2h-1.2zM171.3 430.9h1.2v1.2h-1.2zM170.2 419.8h1.2v1.2h-1.2zM170.1 431.6h1.2v1.2h-1.2zM171.8 435.4h1.2v1.2h-1.2zM174.0 435.0h1.2v1.2h-1.2zM175.4 434.2h1.2v1.2h-1.2zM175.2 434.5h1.2v1.2h-1.2zM174.9 433.2h1.2v1.2h-1.2zM174.2 435.8h1.2v1.2h-1.2zM175.7 435.9h1.2v1.2h-1.2zM174.6 428.2h1.2v1.2h-1.2zM174.3 429.0h1.2v1.2h-1.2zM175.1 437.8h1.2v1.2h-1.2zM175.2 435.1h1.2v1.2h-1.2zM174.1 428.9h1.2v1.2h-1.2zM175.2 426.7h1.2v1.2h-1.2zM174.1 436.7h1.2v1.2h-1.2zM174.4 432.0h1.2v1.2h-1.2zM175.4 431.3h1.2v1.2h-1.2zM174.3 427.4h1.2v1.2h-1.2zM178.6 432.9h1.2v1.2h-1.2zM179.7 437.5h1.2v1.2h-1.2zM179.4 434.4h1.2v1.2h-1.2zM179.1 434.1h1.2v1.2h-1.2zM178.6 434.5h1.2v1.2h-1.2zM178.2 437.9h1.2v1.2h-1.2zM179.2 437.4h1.2v1.2h-1.2zM178.4 438.0h1.2v1.2h-1.2zM178.1 434.9h1.2v1.2h-1.2zM178.4 437.6h1.2v1.2h-1.2zM179.3 433.8h1.2v1.2h-1.2zM178.9 438.0h1.2v1.2h-1.2zM178.9 431.8h1.2v1.2h-1.2zM178.9 437.9h1.2v1.2h-1.2zM179.8 430.7h1.2v1.2h-1.2zM179.1 429.0h1.2v1.2h-1.2zM183.6 436.5h1.2v1.2h-1.2zM183.0 431.4h1.2v1.2h-1.2zM183.3 437.5h1.2v1.2h-1.2zM183.1 437.0h1.2v1.2h-1.2zM183.5 435.4h1.2v1.2h-1.2zM184.5 425.3h1.2v1.2h-1.2zM184.4 436.6h1.2v1.2h-1.2zM183.2 429.1h1.2v1.2h-1.2zM184.3 422.5h1.2v1.2h-1.2zM183.8 425.1h1.2v1.2h-1.2zM184.1 425.5h1.2v1.2h-1.2zM183.0 426.4h1.2v1.2h-1.2zM184.7 437.9h1.2v1.2h-1.2zM183.7 428.0h1.2v1.2h-1.2zM183.7 437.7h1.2v1.2h-1.2zM183.7 437.5h1.2v1.2h-1.2zM188.1 434.6h1.2v1.2h-1.2zM189.0 433.9h1.2v1.2h-1.2zM188.4 430.1h1.2v1.2h-1.2zM189.1 432.2h1.2v1.2h-1.2zM189.5 437.6h1.2v1.2h-1.2zM189.8 434.9h1.2v1.2h-1.2zM188.3 434.1h1.2v1.2h-1.2zM188.3 430.7h1.2v1.2h-1.2zM189.7 437.8h1.2v1.2h-1.2zM189.0 436.8h1.2v1.2h-1.2zM188.9 433.7h1.2v1.2h-1.2zM188.5 431.8h1.2v1.2h-1.2zM188.2 431.0h1.2v1.2h-1.2zM188.5 437.3h1.2v1.2h-1.2zM189.4 435.5h1.2v1.2h-1.2zM189.3 434.4h1.2v1.2h-1.2zM193.4 434.6h1.2v1.2h-1.2zM193.8 437.5h1.2v1.2h-1.2zM194.1 434.8h1.2v1.2h-1.2zM193.8 436.0h1.2v1.2h-1.2zM194.6 436.7h1.2v1.2h-1.2zM194.2 435.8h1.2v1.2h-1.2zM193.0 436.9h1.2v1.2h-1.2zM193.8 435.2h1.2v1.2h-1.2zM193.9 436.4h1.2v1.2h-1.2zM193.3 437.8h1.2v1.2h-1.2zM193.8 434.0h1.2v1.2h-1.2zM194.4 434.8h1.2v1.2h-1.2zM194.7 436.3h1.2v1.2h-1.2zM193.0 433.5h1.2v1.2h-1.2zM194.8 438.0h1.2v1.2h-1.2zM194.0 434.2h1.2v1.2h-1.2zM42.5 437.1h1.2v1.2h-1.2zM41.7 429.3h1.2v1.2h-1.2zM42.4 435.2h1.2v1.2h-1.2zM42.0 436.7h1.2v1.2h-1.2zM42.3 436.9h1.2v1.2h-1.2zM42.3 437.2h1.2v1.2h-1.2zM42.8 433.9h1.2v1.2h-1.2zM43.0 438.4h1.2v1.2h-1.2zM42.4 424.3h1.2v1.2h-1.2zM41.6 437.7h1.2v1.2h-1.2zM41.6 436.5h1.2v1.2h-1.2zM42.6 437.9h1.2v1.2h-1.2zM42.2 429.7h1.2v1.2h-1.2zM42.8 429.4h1.2v1.2h-1.2zM45.6 428.2h1.2v1.2h-1.2zM45.6 423.8h1.2v1.2h-1.2zM44.8 426.6h1.2v1.2h-1.2zM44.7 426.2h1.2v1.2h-1.2zM44.7 434.0h1.2v1.2h-1.2zM46.1 427.2h1.2v1.2h-1.2zM45.0 436.6h1.2v1.2h-1.2zM45.0 431.2h1.2v1.2h-1.2zM45.3 435.9h1.2v1.2h-1.2zM45.0 434.1h1.2v1.2h-1.2zM44.6 433.2h1.2v1.2h-1.2zM45.7 426.3h1.2v1.2h-1.2zM45.7 435.2h1.2v1.2h-1.2zM44.6 438.3h1.2v1.2h-1.2zM48.3 436.8h1.2v1.2h-1.2zM49.1 432.4h1.2v1.2h-1.2zM48.7 430.0h1.2v1.2h-1.2zM47.6 428.1h1.2v1.2h-1.2zM49.0 435.3h1.2v1.2h-1.2zM48.1 429.2h1.2v1.2h-1.2zM47.9 433.5h1.2v1.2h-1.2zM48.3 437.3h1.2v1.2h-1.2zM48.8 433.8h1.2v1.2h-1.2zM47.5 430.0h1.2v1.2h-1.2zM48.7 433.9h1.2v1.2h-1.2zM48.3 438.4h1.2v1.2h-1.2zM47.7 429.1h1.2v1.2h-1.2zM48.6 431.3h1.2v1.2h-1.2zM52.5 432.6h1.2v1.2h-1.2zM52.1 434.4h1.2v1.2h-1.2zM52.3 433.7h1.2v1.2h-1.2zM52.2 432.9h1.2v1.2h-1.2zM53.5 434.0h1.2v1.2h-1.2zM53.2 434.8h1.2v1.2h-1.2zM52.2 438.4h1.2v1.2h-1.2zM52.8 433.4h1.2v1.2h-1.2zM52.5 437.4h1.2v1.2h-1.2zM52.6 433.2h1.2v1.2h-1.2zM53.0 436.6h1.2v1.2h-1.2zM52.6 433.4h1.2v1.2h-1.2zM52.8 436.4h1.2v1.2h-1.2zM52.6 438.7h1.2v1.2h-1.2zM57.4 432.0h1.2v1.2h-1.2zM58.2 431.3h1.2v1.2h-1.2zM57.8 436.8h1.2v1.2h-1.2zM57.9 433.9h1.2v1.2h-1.2zM57.8 437.5h1.2v1.2h-1.2zM58.1 434.1h1.2v1.2h-1.2zM57.5 433.8h1.2v1.2h-1.2zM57.7 429.0h1.2v1.2h-1.2zM57.2 432.1h1.2v1.2h-1.2zM57.1 429.8h1.2v1.2h-1.2zM57.7 436.9h1.2v1.2h-1.2zM57.5 429.9h1.2v1.2h-1.2zM58.4 429.5h1.2v1.2h-1.2zM57.9 427.4h1.2v1.2h-1.2zM64.1 433.8h1.2v1.2h-1.2zM64.0 433.0h1.2v1.2h-1.2zM63.8 433.0h1.2v1.2h-1.2zM63.2 438.8h1.2v1.2h-1.2zM64.1 436.5h1.2v1.2h-1.2zM63.2 437.6h1.2v1.2h-1.2zM63.3 434.0h1.2v1.2h-1.2zM64.3 434.1h1.2v1.2h-1.2zM63.5 433.7h1.2v1.2h-1.2zM63.2 436.5h1.2v1.2h-1.2zM63.4 433.6h1.2v1.2h-1.2zM63.8 437.5h1.2v1.2h-1.2zM63.0 433.7h1.2v1.2h-1.2zM63.9 438.9h1.2v1.2h-1.2zM70.2 433.7h1.2v1.2h-1.2zM70.1 437.9h1.2v1.2h-1.2zM70.8 438.0h1.2v1.2h-1.2zM71.4 430.2h1.2v1.2h-1.2zM70.4 432.4h1.2v1.2h-1.2zM70.8 437.9h1.2v1.2h-1.2zM71.1 432.4h1.2v1.2h-1.2zM70.1 436.7h1.2v1.2h-1.2zM70.8 434.4h1.2v1.2h-1.2zM70.1 438.9h1.2v1.2h-1.2zM71.0 430.7h1.2v1.2h-1.2zM71.1 436.4h1.2v1.2h-1.2zM71.0 439.0h1.2v1.2h-1.2zM70.5 432.3h1.2v1.2h-1.2z" fill="#ff5030"/>
</g>
<polyline points="149,443.8 148.8,436 149.2,428 150.2,420 151.6,412 153.6,403 156,394 158.8,385 161.5,378 164,374 166.2,372.6 173.2,372.6 175.8,375.7 176.7,381 174.2,393.2 169.9,407.2 164.7,424.7 160.3,436.9 158.2,441.5 157.6,443.8 149,443.8" fill="none" stroke="#111" stroke-width="1.0" stroke-linejoin="round"/>
<polyline points="166.2,443.8 162,442.8 159.6,440.2 162.5,430 166.2,417.7 171.5,400.2 175,386.2 179.3,376.6 183.7,370.5 186.9,367 190.7,367.9 196,367.9 200.3,369.6 203,377.5 206.4,384.5 209,389.7 211.7,396.7 215.2,405.5 216,416 217.8,430 221.3,440.4 221.8,443.8" fill="none" stroke="#111" stroke-width="1.0" stroke-linejoin="round"/>
<path d="M149 443.9H190" stroke="#222" stroke-width="0.9"/><path d="M190 443.9H221.8" stroke="#777" stroke-width="0.9"/>
<g filter="url(#bl)"><circle cx="262.5" cy="438.2" r="1.3" fill="#ff2a10"/><circle cx="267.6" cy="440.3" r="1.7" fill="#ff1a10"/></g>
<path d="M257.1 438.8h0.9v0.9h-0.9zM257.4 438.3h0.9v0.9h-0.9zM258.9 437.9h0.9v0.9h-0.9zM257.5 438.8h0.9v0.9h-0.9zM257.0 439.0h0.9v0.9h-0.9zM258.3 438.9h0.9v0.9h-0.9zM257.7 438.5h0.9v0.9h-0.9z" fill="#999"/>
<path d="M231.2 438.9h1.0v1.0h-1.0zM225.5 437.7h1.0v1.0h-1.0zM235.2 438.9h1.0v1.0h-1.0zM228.6 438.2h1.0v1.0h-1.0zM233.6 438.4h1.0v1.0h-1.0zM228.1 437.8h1.0v1.0h-1.0zM231.1 438.1h1.0v1.0h-1.0zM222.6 438.4h1.0v1.0h-1.0zM231.5 438.7h1.0v1.0h-1.0zM222.9 438.5h1.0v1.0h-1.0zM232.8 438.7h1.0v1.0h-1.0zM230.8 437.9h1.0v1.0h-1.0zM224.3 438.1h1.0v1.0h-1.0zM228.9 439.0h1.0v1.0h-1.0z" fill="#aaa"/>
<path d="M331.0 304.3V419M342.8 304.3V419M354.6 304.3V419M366.5 304.3V419M378.3 304.3V419M390.1 304.3V419M401.9 304.3V419M413.7 304.3V419M425.6 304.3V419M437.4 304.3V419M449.2 304.3V419M461.0 304.3V419M472.8 304.3V419M484.7 304.3V419M496.5 304.3V419M508.3 304.3V419M520.1 304.3V419M531.9 304.3V419M543.8 304.3V419M331 304.3H543.8M331 315.8H543.8M331 327.2H543.8M331 338.7H543.8M331 350.2H543.8M331 361.7H543.8M331 373.1H543.8M331 384.6H543.8M331 396.1H543.8M331 407.5H543.8M331 419.0H543.8" stroke="#ebebeb" stroke-width="0.9" fill="none"/>
<polyline points="331,361.5 331.7,360.3 332.4,359.1 333.1,357.9 333.8,356.7 334.5,355.5 335.3,354.3 336,353.1 336.7,351.9 337.4,350.8 338.1,349.6 338.8,348.4 339.5,347.3 340.2,346.1 340.9,344.9 341.6,343.8 342.3,342.7 343.1,341.5 343.8,340.4 344.5,339.3 345.2,338.2 345.9,337.1 346.6,336 347.3,335 348,333.9 348.7,332.9 349.4,331.8 350.2,330.8 350.9,329.8 351.6,328.8 352.3,327.8 353,326.9 353.7,325.9 354.4,325 355.1,324.1 355.8,323.2 356.5,322.3 357.2,321.4 358,320.6 358.7,319.7 359.4,318.9 360.1,318.1 360.8,317.3 361.5,316.6 362.2,315.9 362.9,315.1 363.6,314.4 364.3,313.8 365,313.1 365.8,312.5 366.5,311.9 367.2,311.3 367.9,310.7 368.6,310.2 369.3,309.7 370,309.2 370.7,308.7 371.4,308.2 372.1,307.8 372.9,307.4 373.6,307 374.3,306.6 375,306.3 375.7,306 376.4,305.7 377.1,305.5 377.8,305.2 378.5,305 379.2,304.8 379.9,304.7 380.7,304.5 381.4,304.4 382.1,304.3 382.8,304.3 383.5,304.2 384.2,304.2 384.9,304.2 385.6,304.3 386.3,304.3 387,304.4 387.7,304.5 388.5,304.7 389.2,304.8 389.9,305 390.6,305.2 391.3,305.5 392,305.7 392.7,306 393.4,306.3 394.1,306.6 394.8,307 395.5,307.4 396.3,307.8 397,308.2 397.7,308.7 398.4,309.2 399.1,309.7 399.8,310.2 400.5,310.7 401.2,311.3 401.9,311.9 402.6,312.5 403.4,313.1 404.1,313.8 404.8,314.4 405.5,315.1 406.2,315.9 406.9,316.6 407.6,317.3 408.3,318.1 409,318.9 409.7,319.7 410.4,320.6 411.2,321.4 411.9,322.3 412.6,323.2 413.3,324.1 414,325 414.7,325.9 415.4,326.9 416.1,327.8 416.8,328.8 417.5,329.8 418.2,330.8 419,331.8 419.7,332.8 420.4,333.9 421.1,335 421.8,336 422.5,337.1 423.2,338.2 423.9,339.3 424.6,340.4 425.3,341.5 426.1,342.7 426.8,343.8 427.5,344.9 428.2,346.1 428.9,347.3 429.6,348.4 430.3,349.6 431,350.8 431.7,351.9 432.4,353.1 433.1,354.3 433.9,355.5 434.6,356.7 435.3,357.9 436,359.1 436.7,360.3 437.4,361.5 438.1,362.7 438.8,363.9 439.5,365.1 440.2,366.3 440.9,367.5 441.7,368.7 442.4,369.9 443.1,371.1 443.8,372.2 444.5,373.4 445.2,374.6 445.9,375.7 446.6,376.9 447.3,378.1 448,379.2 448.7,380.3 449.5,381.5 450.2,382.6 450.9,383.7 451.6,384.8 452.3,385.9 453,387 453.7,388 454.4,389.1 455.1,390.1 455.8,391.2 456.6,392.2 457.3,393.2 458,394.2 458.7,395.2 459.4,396.1 460.1,397.1 460.8,398 461.5,398.9 462.2,399.8 462.9,400.7 463.6,401.6 464.4,402.4 465.1,403.3 465.8,404.1 466.5,404.9 467.2,405.7 467.9,406.4 468.6,407.1 469.3,407.9 470,408.6 470.7,409.2 471.4,409.9 472.2,410.5 472.9,411.1 473.6,411.7 474.3,412.3 475,412.8 475.7,413.3 476.4,413.8 477.1,414.3 477.8,414.8 478.5,415.2 479.3,415.6 480,416 480.7,416.4 481.4,416.7 482.1,417 482.8,417.3 483.5,417.5 484.2,417.8 484.9,418 485.6,418.2 486.3,418.3 487.1,418.5 487.8,418.6 488.5,418.7 489.2,418.7 489.9,418.8 490.6,418.8 491.3,418.8 492,418.7 492.7,418.7 493.4,418.6 494.1,418.5 494.9,418.3 495.6,418.2 496.3,418 497,417.8 497.7,417.5 498.4,417.3 499.1,417 499.8,416.7 500.5,416.4 501.2,416 501.9,415.6 502.7,415.2 503.4,414.8 504.1,414.3 504.8,413.8 505.5,413.3 506.2,412.8 506.9,412.3 507.6,411.7 508.3,411.1 509,410.5 509.8,409.9 510.5,409.2 511.2,408.6 511.9,407.9 512.6,407.1 513.3,406.4 514,405.7 514.7,404.9 515.4,404.1 516.1,403.3 516.8,402.4 517.6,401.6 518.3,400.7 519,399.8 519.7,398.9 520.4,398 521.1,397.1 521.8,396.1 522.5,395.2 523.2,394.2 523.9,393.2 524.6,392.2 525.4,391.2 526.1,390.1 526.8,389.1 527.5,388 528.2,387 528.9,385.9 529.6,384.8 530.3,383.7 531,382.6 531.7,381.5 532.5,380.3 533.2,379.2 533.9,378.1 534.6,376.9 535.3,375.7 536,374.6 536.7,373.4 537.4,372.2 538.1,371.1 538.8,369.9 539.5,368.7 540.3,367.5 541,366.3 541.7,365.1 542.4,363.9 543.1,362.7 543.8,361.5" fill="none" stroke="#ef74ef" stroke-width="1.7"/>
<path d="M388 354.8 C405 355 418 356.5 430 359.5 C460 366.5 500 368 540.5 361.5" fill="none" stroke="#b2b2b2" stroke-width="1.9"/>
<polygon points="329.8,348 331,346.2 333.8,345 339.6,344.6 344,344.2 349.8,343.8 354.9,343.4 354,345 349.8,346.2 345.5,348.2 346.9,349.6 352.7,350.5 360,350.3 366,350.8 375,351.8 385,353.2 392,355 394,357.3 331,357.7 329.8,356" fill="#ff0000"/>
<polygon points="330,358.7 387.6,359 388.5,360.2 387.6,361.5 330,362" fill="#ff0000"/>
<path d="M394.5 360.4h1.0v1.0h-1.0zM389.9 359.8h1.0v1.0h-1.0zM396.9 360.5h1.0v1.0h-1.0zM391.9 359.9h1.0v1.0h-1.0zM390.3 360.6h1.0v1.0h-1.0zM392.5 359.7h1.0v1.0h-1.0zM397.7 360.6h1.0v1.0h-1.0zM394.4 360.3h1.0v1.0h-1.0zM394.2 359.6h1.0v1.0h-1.0zM388.4 360.6h1.0v1.0h-1.0zM388.2 360.3h1.0v1.0h-1.0zM397.4 361.0h1.0v1.0h-1.0zM392.6 360.7h1.0v1.0h-1.0zM398.0 360.4h1.0v1.0h-1.0zM391.1 361.0h1.0v1.0h-1.0zM393.9 360.1h1.0v1.0h-1.0zM393.6 360.9h1.0v1.0h-1.0zM395.6 359.6h1.0v1.0h-1.0zM392.6 360.9h1.0v1.0h-1.0zM392.2 359.8h1.0v1.0h-1.0zM397.2 360.9h1.0v1.0h-1.0zM390.9 359.6h1.0v1.0h-1.0zM393.3 360.7h1.0v1.0h-1.0zM391.4 361.0h1.0v1.0h-1.0zM390.2 360.5h1.0v1.0h-1.0z" fill="#ff2a2a"/>
<polygon points="425.6,361.3 432,360.2 440,359.5 495.2,359.5 496,361.8 495.2,364.2 440,364.3 430,363" fill="#ff0000"/>
<polygon points="421.5,366.4 496,366.2 496.3,370 454.3,370.8 451.8,372.5 455.9,375.7 461.6,378.5 459.2,379 454.3,377.4 447.7,374.9 441.2,374.9 431.4,371.6 422.4,368.4" fill="#ff0000"/>
<polygon points="527.7,356.5 527.7,354.6 530.9,352.7 536,351.5 539.8,349.9 544.3,349.2 545.5,356.5" fill="#ff0000" stroke="#ff0000" stroke-width="0.8" stroke-linejoin="round"/>
<ellipse cx="539" cy="360.8" rx="6.6" ry="1.4" fill="#ff0000"/>
<g fill="none" stroke="#ff3030" stroke-width="0.5"><circle cx="498" cy="361.5" r="1.3"/><circle cx="502" cy="361.2" r="1.3"/><circle cx="506" cy="361.8" r="1.3"/><circle cx="509" cy="361.3" r="1.3"/><circle cx="392" cy="360.3" r="1.3"/><circle cx="396" cy="360.6" r="1.3"/></g>
<g fill="none" stroke="#3a3a3a" stroke-width="0.9"><ellipse cx="370" cy="348.9" rx="40.4" ry="8.2"/><ellipse cx="371.4" cy="361.4" rx="41.3" ry="5.2"/><ellipse cx="472.7" cy="359.9" rx="48.5" ry="6.7"/><ellipse cx="467.8" cy="374.4" rx="51.3" ry="8.6"/></g>
<rect x="330.3" y="304" width="1.4" height="116" fill="#000"/>
<rect x="330.3" y="418.5" width="213.5" height="1.8" fill="#000"/>
<path d="M342.8 418.6v-1.6M354.6 418.6v-1.6M366.5 418.6v-1.6M378.3 418.6v-1.6M390.1 418.6v-1.6M401.9 418.6v-1.6M413.7 418.6v-1.6M425.6 418.6v-1.6M437.4 418.6v-1.6M449.2 418.6v-1.6M461.0 418.6v-1.6M472.8 418.6v-1.6M484.7 418.6v-1.6M496.5 418.6v-1.6M508.3 418.6v-1.6M520.1 418.6v-1.6M531.9 418.6v-1.6M543.8 418.6v-1.6" stroke="#888" stroke-width="1.2"/>
<g transform="translate(312.2,0) scale(1.18,1)">
<text x="0" y="307.9" font-size="8" font-family="'DejaVu Sans',Verdana,sans-serif" fill="#1a1a1a" stroke="#1a1a1a" stroke-width="0.25" text-anchor="middle">1</text>
<text x="0" y="319.2" font-size="8" font-family="'DejaVu Sans',Verdana,sans-serif" fill="#1a1a1a" stroke="#1a1a1a" stroke-width="0.25" text-anchor="middle">0.8</text>
<text x="0" y="330.5" font-size="8" font-family="'DejaVu Sans',Verdana,sans-serif" fill="#1a1a1a" stroke="#1a1a1a" stroke-width="0.25" text-anchor="middle">0.6</text>
<text x="0" y="341.9" font-size="8" font-family="'DejaVu Sans',Verdana,sans-serif" fill="#1a1a1a" stroke="#1a1a1a" stroke-width="0.25" text-anchor="middle">0.4</text>
<text x="0" y="353.2" font-size="8" font-family="'DejaVu Sans',Verdana,sans-serif" fill="#1a1a1a" stroke="#1a1a1a" stroke-width="0.25" text-anchor="middle">0.2</text>
<text x="0" y="364.5" font-size="8" font-family="'DejaVu Sans',Verdana,sans-serif" fill="#1a1a1a" stroke="#1a1a1a" stroke-width="0.25" text-anchor="middle">0</text>
<text x="0" y="375.8" font-size="8" font-family="'DejaVu Sans',Verdana,sans-serif" fill="#1a1a1a" stroke="#1a1a1a" stroke-width="0.25" text-anchor="middle" textLength="16.1" lengthAdjust="spacing">–0.2</text>
<text x="0" y="387.1" font-size="8" font-family="'DejaVu Sans',Verdana,sans-serif" fill="#1a1a1a" stroke="#1a1a1a" stroke-width="0.25" text-anchor="middle" textLength="16.1" lengthAdjust="spacing">–0.4</text>
<text x="0" y="398.5" font-size="8" font-family="'DejaVu Sans',Verdana,sans-serif" fill="#1a1a1a" stroke="#1a1a1a" stroke-width="0.25" text-anchor="middle" textLength="16.1" lengthAdjust="spacing">–0.6</text>
<text x="0" y="409.8" font-size="8" font-family="'DejaVu Sans',Verdana,sans-serif" fill="#1a1a1a" stroke="#1a1a1a" stroke-width="0.25" text-anchor="middle" textLength="16.1" lengthAdjust="spacing">–0.8</text>
<text x="0" y="421.1" font-size="8" font-family="'DejaVu Sans',Verdana,sans-serif" fill="#1a1a1a" stroke="#1a1a1a" stroke-width="0.25" text-anchor="middle" textLength="8.8" lengthAdjust="spacing">–1</text>
</g>
<text x="333.3" y="429" font-size="5.6" font-family="'Liberation Sans',Arial,sans-serif" fill="#222" stroke="#222" stroke-width="0.15" text-anchor="middle">0</text>
<text x="342" y="429" font-size="5.6" font-family="'Liberation Sans',Arial,sans-serif" fill="#222" stroke="#222" stroke-width="0.15" text-anchor="middle">20</text>
<text x="352.3" y="429" font-size="5.6" font-family="'Liberation Sans',Arial,sans-serif" fill="#222" stroke="#222" stroke-width="0.15" text-anchor="middle">40</text>
<text x="362.5" y="429" font-size="5.6" font-family="'Liberation Sans',Arial,sans-serif" fill="#222" stroke="#222" stroke-width="0.15" text-anchor="middle">60</text>
<text x="372.6" y="429" font-size="5.6" font-family="'Liberation Sans',Arial,sans-serif" fill="#222" stroke="#222" stroke-width="0.15" text-anchor="middle">80</text>
<text x="384.3" y="429" font-size="5.6" font-family="'Liberation Sans',Arial,sans-serif" fill="#222" stroke="#222" stroke-width="0.15" text-anchor="middle">100</text>
<text x="397.4" y="429" font-size="5.6" font-family="'Liberation Sans',Arial,sans-serif" fill="#222" stroke="#222" stroke-width="0.15" text-anchor="middle">120</text>
<text x="409.7" y="429" font-size="5.6" font-family="'Liberation Sans',Arial,sans-serif" fill="#222" stroke="#222" stroke-width="0.15" text-anchor="middle">140</text>
<text x="421.4" y="429" font-size="5.6" font-family="'Liberation Sans',Arial,sans-serif" fill="#222" stroke="#222" stroke-width="0.15" text-anchor="middle">160</text>
<text x="433" y="429" font-size="5.6" font-family="'Liberation Sans',Arial,sans-serif" fill="#222" stroke="#222" stroke-width="0.15" text-anchor="middle">180</text>
<text x="445.7" y="429" font-size="5.6" font-family="'Liberation Sans',Arial,sans-serif" fill="#222" stroke="#222" stroke-width="0.15" text-anchor="middle">200</text>
<text x="457.9" y="429" font-size="5.6" font-family="'Liberation Sans',Arial,sans-serif" fill="#222" stroke="#222" stroke-width="0.15" text-anchor="middle">220</text>
<text x="469.7" y="429" font-size="5.6" font-family="'Liberation Sans',Arial,sans-serif" fill="#222" stroke="#222" stroke-width="0.15" text-anchor="middle">240</text>
<text x="481.3" y="429" font-size="5.6" font-family="'Liberation Sans',Arial,sans-serif" fill="#222" stroke="#222" stroke-width="0.15" text-anchor="middle">260</text>
<text x="493.3" y="429" font-size="5.6" font-family="'Liberation Sans',Arial,sans-serif" fill="#222" stroke="#222" stroke-width="0.15" text-anchor="middle">280</text>
<text x="504.8" y="429" font-size="5.6" font-family="'Liberation Sans',Arial,sans-serif" fill="#222" stroke="#222" stroke-width="0.15" text-anchor="middle">300</text>
<text x="516.6" y="429" font-size="5.6" font-family="'Liberation Sans',Arial,sans-serif" fill="#222" stroke="#222" stroke-width="0.15" text-anchor="middle">320</text>
<text x="528.6" y="429" font-size="5.6" font-family="'Liberation Sans',Arial,sans-serif" fill="#222" stroke="#222" stroke-width="0.15" text-anchor="middle">340</text>
<text x="540.2" y="429" font-size="5.6" font-family="'Liberation Sans',Arial,sans-serif" fill="#222" stroke="#222" stroke-width="0.15" text-anchor="middle">360</text>
<text x="327.4" y="298.6" font-size="9.4" font-family="'Liberation Serif','Times New Roman',serif" fill="#111" stroke="#111" stroke-width="0.2">× 10<tspan font-size="6.2" dy="-3.6">4</tspan></text>
<text x="436.7" y="447.7" font-size="9.4" font-family="'Liberation Sans',Arial,sans-serif" fill="#333" text-anchor="middle" font-weight="bold" textLength="67.4" lengthAdjust="spacingAndGlyphs">Phase (degree)</text>
<text x="0" y="0" font-size="9.7" font-family="'Liberation Sans',Arial,sans-serif" fill="#222" stroke="#222" stroke-width="0.35" text-anchor="middle" textLength="98.5" lengthAdjust="spacingAndGlyphs" transform="translate(287.8,358.2) rotate(-90)">Discharge magnitude (pC)</text>
<text x="479.5" y="346.2" font-size="5.4" font-family="'Liberation Sans',Arial,sans-serif" fill="#111" stroke="#111" stroke-width="0.12" text-anchor="middle" textLength="19" lengthAdjust="spacingAndGlyphs">Cavity 1</text>
<text x="484.5" y="394" font-size="5.4" font-family="'Liberation Sans',Arial,sans-serif" fill="#111" stroke="#111" stroke-width="0.12" text-anchor="middle" textLength="19" lengthAdjust="spacingAndGlyphs">Cavity 2</text>
<path d="M475.5 347.2L472.3 352.5" stroke="#111" stroke-width="0.6"/><path d="M471.2 354.2l0.3-3 2 1.2z" fill="#111"/>
<path d="M483 388.5L481.7 385.8" stroke="#111" stroke-width="0.6"/><path d="M481 384.3l0.2 2.6 1.8-0.9z" fill="#111"/>
<text x="3.2" y="226.5" font-size="11.3" font-family="'Liberation Serif','Times New Roman',serif" fill="#1a1a1a" stroke="#1a1a1a" stroke-width="0.15" textLength="157" lengthAdjust="spacingAndGlyphs">Total average discharges = 313 pC</text>
<text x="3.2" y="239.9" font-size="11.3" font-family="'Liberation Serif','Times New Roman',serif" fill="#1a1a1a" stroke="#1a1a1a" stroke-width="0.15" textLength="88" lengthAdjust="spacingAndGlyphs">total count = 15,369</text>
<text x="3.2" y="253.8" font-size="11.3" font-family="'Liberation Serif','Times New Roman',serif" fill="#1a1a1a" stroke="#1a1a1a" stroke-width="0.15" textLength="134.2" lengthAdjust="spacingAndGlyphs">Measured single-cavity PRPD</text>
<text x="275.2" y="254.5" font-size="11.3" font-family="'Liberation Serif','Times New Roman',serif" fill="#1a1a1a" stroke="#1a1a1a" stroke-width="0.15" textLength="139.4" lengthAdjust="spacingAndGlyphs">Simulated single-cavity PRPD</text>
<text x="3.7" y="482.6" font-size="11.3" font-family="'Liberation Serif','Times New Roman',serif" fill="#1a1a1a" stroke="#1a1a1a" stroke-width="0.15" textLength="155.5" lengthAdjust="spacingAndGlyphs">Total average discharges = 441 pC</text>
<text x="3.2" y="496.6" font-size="11.3" font-family="'Liberation Serif','Times New Roman',serif" fill="#1a1a1a" stroke="#1a1a1a" stroke-width="0.15" textLength="88.6" lengthAdjust="spacingAndGlyphs">total count = 27,404</text>
<text x="3.2" y="509.8" font-size="11.3" font-family="'Liberation Serif','Times New Roman',serif" fill="#1a1a1a" stroke="#1a1a1a" stroke-width="0.15" textLength="141.8" lengthAdjust="spacingAndGlyphs">Measured double-cavity PRPD</text>
<text x="275.9" y="510.8" font-size="11.3" font-family="'Liberation Serif','Times New Roman',serif" fill="#1a1a1a" stroke="#1a1a1a" stroke-width="0.15" textLength="139.7" lengthAdjust="spacingAndGlyphs">Simulated double-cavity PRPD</text>
</svg>
</body></html>
